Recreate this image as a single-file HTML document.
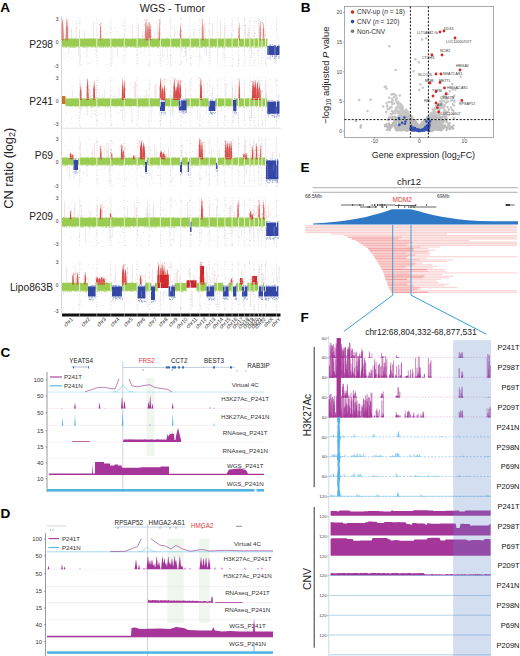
<!DOCTYPE html><html><head><meta charset="utf-8"><style>html,body{margin:0;padding:0;background:#fff;width:520px;height:656px;overflow:hidden}svg{display:block}text{font-family:"Liberation Sans",sans-serif}</style></head><body><svg width="520" height="656" viewBox="0 0 520 656" font-family="Liberation Sans, sans-serif"><text x="0.3" y="11.7" font-size="13.6" fill="#000" text-anchor="start" font-weight="bold" >A</text><text x="300.8" y="11.6" font-size="13.6" fill="#000" text-anchor="start" font-weight="bold" >B</text><text x="300.5" y="171.5" font-size="13.6" fill="#000" text-anchor="start" font-weight="bold" >E</text><text x="0.5" y="356.8" font-size="13.6" fill="#000" text-anchor="start" font-weight="bold" >C</text><text x="300.5" y="322" font-size="13.6" fill="#000" text-anchor="start" font-weight="bold" >F</text><text x="0.5" y="517.5" font-size="13.6" fill="#000" text-anchor="start" font-weight="bold" >D</text><text x="172.3" y="12.2" font-size="10.7" fill="#222" text-anchor="middle" font-weight="normal" >WGS - Tumor</text><text x="0" y="0" font-size="12.8" fill="#222" text-anchor="middle" font-weight="normal" transform="translate(12.8,168.3) rotate(-90)">CN ratio (log<tspan font-size="9" dy="2.5">2</tspan><tspan dy="-2.5">)</tspan></text><text x="53" y="47.9" font-size="10.2" fill="#222" text-anchor="end" font-weight="normal" >P298</text><text x="58.5" y="20.8" font-size="5" fill="#333" text-anchor="end" font-weight="normal" >3</text><text x="58.5" y="43.8" font-size="5" fill="#333" text-anchor="end" font-weight="normal" >0</text><text x="58.5" y="67.8" font-size="5" fill="#333" text-anchor="end" font-weight="normal" >-3</text><line x1="79.6" y1="17.5" x2="79.6" y2="67.5" stroke="#cdcdcd" stroke-width="0.6" stroke-dasharray="1,1.5"/><line x1="96.8" y1="17.5" x2="96.8" y2="67.5" stroke="#cdcdcd" stroke-width="0.6" stroke-dasharray="1,1.5"/><line x1="110.8" y1="17.5" x2="110.8" y2="67.5" stroke="#cdcdcd" stroke-width="0.6" stroke-dasharray="1,1.5"/><line x1="124.3" y1="17.5" x2="124.3" y2="67.5" stroke="#cdcdcd" stroke-width="0.6" stroke-dasharray="1,1.5"/><line x1="137.1" y1="17.5" x2="137.1" y2="67.5" stroke="#cdcdcd" stroke-width="0.6" stroke-dasharray="1,1.5"/><line x1="149.2" y1="17.5" x2="149.2" y2="67.5" stroke="#cdcdcd" stroke-width="0.6" stroke-dasharray="1,1.5"/><line x1="160.4" y1="17.5" x2="160.4" y2="67.5" stroke="#cdcdcd" stroke-width="0.6" stroke-dasharray="1,1.5"/><line x1="170.7" y1="17.5" x2="170.7" y2="67.5" stroke="#cdcdcd" stroke-width="0.6" stroke-dasharray="1,1.5"/><line x1="180.7" y1="17.5" x2="180.7" y2="67.5" stroke="#cdcdcd" stroke-width="0.6" stroke-dasharray="1,1.5"/><line x1="190.3" y1="17.5" x2="190.3" y2="67.5" stroke="#cdcdcd" stroke-width="0.6" stroke-dasharray="1,1.5"/><line x1="199.8" y1="17.5" x2="199.8" y2="67.5" stroke="#cdcdcd" stroke-width="0.6" stroke-dasharray="1,1.5"/><line x1="209.2" y1="17.5" x2="209.2" y2="67.5" stroke="#cdcdcd" stroke-width="0.6" stroke-dasharray="1,1.5"/><line x1="217.4" y1="17.5" x2="217.4" y2="67.5" stroke="#cdcdcd" stroke-width="0.6" stroke-dasharray="1,1.5"/><line x1="224.9" y1="17.5" x2="224.9" y2="67.5" stroke="#cdcdcd" stroke-width="0.6" stroke-dasharray="1,1.5"/><line x1="232.1" y1="17.5" x2="232.1" y2="67.5" stroke="#cdcdcd" stroke-width="0.6" stroke-dasharray="1,1.5"/><line x1="238.5" y1="17.5" x2="238.5" y2="67.5" stroke="#cdcdcd" stroke-width="0.6" stroke-dasharray="1,1.5"/><line x1="244.4" y1="17.5" x2="244.4" y2="67.5" stroke="#cdcdcd" stroke-width="0.6" stroke-dasharray="1,1.5"/><line x1="249.9" y1="17.5" x2="249.9" y2="67.5" stroke="#cdcdcd" stroke-width="0.6" stroke-dasharray="1,1.5"/><line x1="254.1" y1="17.5" x2="254.1" y2="67.5" stroke="#cdcdcd" stroke-width="0.6" stroke-dasharray="1,1.5"/><line x1="258.5" y1="17.5" x2="258.5" y2="67.5" stroke="#cdcdcd" stroke-width="0.6" stroke-dasharray="1,1.5"/><line x1="261.9" y1="17.5" x2="261.9" y2="67.5" stroke="#cdcdcd" stroke-width="0.6" stroke-dasharray="1,1.5"/><line x1="265.5" y1="17.5" x2="265.5" y2="67.5" stroke="#cdcdcd" stroke-width="0.6" stroke-dasharray="1,1.5"/><line x1="276.5" y1="17.5" x2="276.5" y2="67.5" stroke="#cdcdcd" stroke-width="0.6" stroke-dasharray="1,1.5"/><text x="53" y="104.8" font-size="10.2" fill="#222" text-anchor="end" font-weight="normal" >P241</text><text x="58.5" y="79.8" font-size="5" fill="#333" text-anchor="end" font-weight="normal" >3</text><text x="58.5" y="103.4" font-size="5" fill="#333" text-anchor="end" font-weight="normal" >0</text><text x="58.5" y="125.8" font-size="5" fill="#333" text-anchor="end" font-weight="normal" >-3</text><line x1="79.6" y1="77.5" x2="79.6" y2="127.5" stroke="#cdcdcd" stroke-width="0.6" stroke-dasharray="1,1.5"/><line x1="96.8" y1="77.5" x2="96.8" y2="127.5" stroke="#cdcdcd" stroke-width="0.6" stroke-dasharray="1,1.5"/><line x1="110.8" y1="77.5" x2="110.8" y2="127.5" stroke="#cdcdcd" stroke-width="0.6" stroke-dasharray="1,1.5"/><line x1="124.3" y1="77.5" x2="124.3" y2="127.5" stroke="#cdcdcd" stroke-width="0.6" stroke-dasharray="1,1.5"/><line x1="137.1" y1="77.5" x2="137.1" y2="127.5" stroke="#cdcdcd" stroke-width="0.6" stroke-dasharray="1,1.5"/><line x1="149.2" y1="77.5" x2="149.2" y2="127.5" stroke="#cdcdcd" stroke-width="0.6" stroke-dasharray="1,1.5"/><line x1="160.4" y1="77.5" x2="160.4" y2="127.5" stroke="#cdcdcd" stroke-width="0.6" stroke-dasharray="1,1.5"/><line x1="170.7" y1="77.5" x2="170.7" y2="127.5" stroke="#cdcdcd" stroke-width="0.6" stroke-dasharray="1,1.5"/><line x1="180.7" y1="77.5" x2="180.7" y2="127.5" stroke="#cdcdcd" stroke-width="0.6" stroke-dasharray="1,1.5"/><line x1="190.3" y1="77.5" x2="190.3" y2="127.5" stroke="#cdcdcd" stroke-width="0.6" stroke-dasharray="1,1.5"/><line x1="199.8" y1="77.5" x2="199.8" y2="127.5" stroke="#cdcdcd" stroke-width="0.6" stroke-dasharray="1,1.5"/><line x1="209.2" y1="77.5" x2="209.2" y2="127.5" stroke="#cdcdcd" stroke-width="0.6" stroke-dasharray="1,1.5"/><line x1="217.4" y1="77.5" x2="217.4" y2="127.5" stroke="#cdcdcd" stroke-width="0.6" stroke-dasharray="1,1.5"/><line x1="224.9" y1="77.5" x2="224.9" y2="127.5" stroke="#cdcdcd" stroke-width="0.6" stroke-dasharray="1,1.5"/><line x1="232.1" y1="77.5" x2="232.1" y2="127.5" stroke="#cdcdcd" stroke-width="0.6" stroke-dasharray="1,1.5"/><line x1="238.5" y1="77.5" x2="238.5" y2="127.5" stroke="#cdcdcd" stroke-width="0.6" stroke-dasharray="1,1.5"/><line x1="244.4" y1="77.5" x2="244.4" y2="127.5" stroke="#cdcdcd" stroke-width="0.6" stroke-dasharray="1,1.5"/><line x1="249.9" y1="77.5" x2="249.9" y2="127.5" stroke="#cdcdcd" stroke-width="0.6" stroke-dasharray="1,1.5"/><line x1="254.1" y1="77.5" x2="254.1" y2="127.5" stroke="#cdcdcd" stroke-width="0.6" stroke-dasharray="1,1.5"/><line x1="258.5" y1="77.5" x2="258.5" y2="127.5" stroke="#cdcdcd" stroke-width="0.6" stroke-dasharray="1,1.5"/><line x1="261.9" y1="77.5" x2="261.9" y2="127.5" stroke="#cdcdcd" stroke-width="0.6" stroke-dasharray="1,1.5"/><line x1="265.5" y1="77.5" x2="265.5" y2="127.5" stroke="#cdcdcd" stroke-width="0.6" stroke-dasharray="1,1.5"/><line x1="276.5" y1="77.5" x2="276.5" y2="127.5" stroke="#cdcdcd" stroke-width="0.6" stroke-dasharray="1,1.5"/><text x="53" y="159.2" font-size="10.2" fill="#222" text-anchor="end" font-weight="normal" >P69</text><text x="58.5" y="140.8" font-size="5" fill="#333" text-anchor="end" font-weight="normal" >3</text><text x="58.5" y="164.2" font-size="5" fill="#333" text-anchor="end" font-weight="normal" >0</text><text x="58.5" y="187.5" font-size="5" fill="#333" text-anchor="end" font-weight="normal" >-3</text><line x1="79.6" y1="137.5" x2="79.6" y2="187.5" stroke="#cdcdcd" stroke-width="0.6" stroke-dasharray="1,1.5"/><line x1="96.8" y1="137.5" x2="96.8" y2="187.5" stroke="#cdcdcd" stroke-width="0.6" stroke-dasharray="1,1.5"/><line x1="110.8" y1="137.5" x2="110.8" y2="187.5" stroke="#cdcdcd" stroke-width="0.6" stroke-dasharray="1,1.5"/><line x1="124.3" y1="137.5" x2="124.3" y2="187.5" stroke="#cdcdcd" stroke-width="0.6" stroke-dasharray="1,1.5"/><line x1="137.1" y1="137.5" x2="137.1" y2="187.5" stroke="#cdcdcd" stroke-width="0.6" stroke-dasharray="1,1.5"/><line x1="149.2" y1="137.5" x2="149.2" y2="187.5" stroke="#cdcdcd" stroke-width="0.6" stroke-dasharray="1,1.5"/><line x1="160.4" y1="137.5" x2="160.4" y2="187.5" stroke="#cdcdcd" stroke-width="0.6" stroke-dasharray="1,1.5"/><line x1="170.7" y1="137.5" x2="170.7" y2="187.5" stroke="#cdcdcd" stroke-width="0.6" stroke-dasharray="1,1.5"/><line x1="180.7" y1="137.5" x2="180.7" y2="187.5" stroke="#cdcdcd" stroke-width="0.6" stroke-dasharray="1,1.5"/><line x1="190.3" y1="137.5" x2="190.3" y2="187.5" stroke="#cdcdcd" stroke-width="0.6" stroke-dasharray="1,1.5"/><line x1="199.8" y1="137.5" x2="199.8" y2="187.5" stroke="#cdcdcd" stroke-width="0.6" stroke-dasharray="1,1.5"/><line x1="209.2" y1="137.5" x2="209.2" y2="187.5" stroke="#cdcdcd" stroke-width="0.6" stroke-dasharray="1,1.5"/><line x1="217.4" y1="137.5" x2="217.4" y2="187.5" stroke="#cdcdcd" stroke-width="0.6" stroke-dasharray="1,1.5"/><line x1="224.9" y1="137.5" x2="224.9" y2="187.5" stroke="#cdcdcd" stroke-width="0.6" stroke-dasharray="1,1.5"/><line x1="232.1" y1="137.5" x2="232.1" y2="187.5" stroke="#cdcdcd" stroke-width="0.6" stroke-dasharray="1,1.5"/><line x1="238.5" y1="137.5" x2="238.5" y2="187.5" stroke="#cdcdcd" stroke-width="0.6" stroke-dasharray="1,1.5"/><line x1="244.4" y1="137.5" x2="244.4" y2="187.5" stroke="#cdcdcd" stroke-width="0.6" stroke-dasharray="1,1.5"/><line x1="249.9" y1="137.5" x2="249.9" y2="187.5" stroke="#cdcdcd" stroke-width="0.6" stroke-dasharray="1,1.5"/><line x1="254.1" y1="137.5" x2="254.1" y2="187.5" stroke="#cdcdcd" stroke-width="0.6" stroke-dasharray="1,1.5"/><line x1="258.5" y1="137.5" x2="258.5" y2="187.5" stroke="#cdcdcd" stroke-width="0.6" stroke-dasharray="1,1.5"/><line x1="261.9" y1="137.5" x2="261.9" y2="187.5" stroke="#cdcdcd" stroke-width="0.6" stroke-dasharray="1,1.5"/><line x1="265.5" y1="137.5" x2="265.5" y2="187.5" stroke="#cdcdcd" stroke-width="0.6" stroke-dasharray="1,1.5"/><line x1="276.5" y1="137.5" x2="276.5" y2="187.5" stroke="#cdcdcd" stroke-width="0.6" stroke-dasharray="1,1.5"/><text x="53" y="219.7" font-size="10.2" fill="#222" text-anchor="end" font-weight="normal" >P209</text><text x="58.5" y="199.7" font-size="5" fill="#333" text-anchor="end" font-weight="normal" >3</text><text x="58.5" y="223" font-size="5" fill="#333" text-anchor="end" font-weight="normal" >0</text><text x="58.5" y="245.8" font-size="5" fill="#333" text-anchor="end" font-weight="normal" >-3</text><line x1="79.6" y1="197.5" x2="79.6" y2="247.5" stroke="#cdcdcd" stroke-width="0.6" stroke-dasharray="1,1.5"/><line x1="96.8" y1="197.5" x2="96.8" y2="247.5" stroke="#cdcdcd" stroke-width="0.6" stroke-dasharray="1,1.5"/><line x1="110.8" y1="197.5" x2="110.8" y2="247.5" stroke="#cdcdcd" stroke-width="0.6" stroke-dasharray="1,1.5"/><line x1="124.3" y1="197.5" x2="124.3" y2="247.5" stroke="#cdcdcd" stroke-width="0.6" stroke-dasharray="1,1.5"/><line x1="137.1" y1="197.5" x2="137.1" y2="247.5" stroke="#cdcdcd" stroke-width="0.6" stroke-dasharray="1,1.5"/><line x1="149.2" y1="197.5" x2="149.2" y2="247.5" stroke="#cdcdcd" stroke-width="0.6" stroke-dasharray="1,1.5"/><line x1="160.4" y1="197.5" x2="160.4" y2="247.5" stroke="#cdcdcd" stroke-width="0.6" stroke-dasharray="1,1.5"/><line x1="170.7" y1="197.5" x2="170.7" y2="247.5" stroke="#cdcdcd" stroke-width="0.6" stroke-dasharray="1,1.5"/><line x1="180.7" y1="197.5" x2="180.7" y2="247.5" stroke="#cdcdcd" stroke-width="0.6" stroke-dasharray="1,1.5"/><line x1="190.3" y1="197.5" x2="190.3" y2="247.5" stroke="#cdcdcd" stroke-width="0.6" stroke-dasharray="1,1.5"/><line x1="199.8" y1="197.5" x2="199.8" y2="247.5" stroke="#cdcdcd" stroke-width="0.6" stroke-dasharray="1,1.5"/><line x1="209.2" y1="197.5" x2="209.2" y2="247.5" stroke="#cdcdcd" stroke-width="0.6" stroke-dasharray="1,1.5"/><line x1="217.4" y1="197.5" x2="217.4" y2="247.5" stroke="#cdcdcd" stroke-width="0.6" stroke-dasharray="1,1.5"/><line x1="224.9" y1="197.5" x2="224.9" y2="247.5" stroke="#cdcdcd" stroke-width="0.6" stroke-dasharray="1,1.5"/><line x1="232.1" y1="197.5" x2="232.1" y2="247.5" stroke="#cdcdcd" stroke-width="0.6" stroke-dasharray="1,1.5"/><line x1="238.5" y1="197.5" x2="238.5" y2="247.5" stroke="#cdcdcd" stroke-width="0.6" stroke-dasharray="1,1.5"/><line x1="244.4" y1="197.5" x2="244.4" y2="247.5" stroke="#cdcdcd" stroke-width="0.6" stroke-dasharray="1,1.5"/><line x1="249.9" y1="197.5" x2="249.9" y2="247.5" stroke="#cdcdcd" stroke-width="0.6" stroke-dasharray="1,1.5"/><line x1="254.1" y1="197.5" x2="254.1" y2="247.5" stroke="#cdcdcd" stroke-width="0.6" stroke-dasharray="1,1.5"/><line x1="258.5" y1="197.5" x2="258.5" y2="247.5" stroke="#cdcdcd" stroke-width="0.6" stroke-dasharray="1,1.5"/><line x1="261.9" y1="197.5" x2="261.9" y2="247.5" stroke="#cdcdcd" stroke-width="0.6" stroke-dasharray="1,1.5"/><line x1="265.5" y1="197.5" x2="265.5" y2="247.5" stroke="#cdcdcd" stroke-width="0.6" stroke-dasharray="1,1.5"/><line x1="276.5" y1="197.5" x2="276.5" y2="247.5" stroke="#cdcdcd" stroke-width="0.6" stroke-dasharray="1,1.5"/><text x="53" y="291" font-size="10.2" fill="#222" text-anchor="end" font-weight="normal" >Lipo863B</text><text x="58.5" y="263.8" font-size="5" fill="#333" text-anchor="end" font-weight="normal" >3</text><text x="58.5" y="287.3" font-size="5" fill="#333" text-anchor="end" font-weight="normal" >0</text><text x="58.5" y="312.6" font-size="5" fill="#333" text-anchor="end" font-weight="normal" >-3</text><line x1="79.6" y1="261.5" x2="79.6" y2="311.5" stroke="#cdcdcd" stroke-width="0.6" stroke-dasharray="1,1.5"/><line x1="96.8" y1="261.5" x2="96.8" y2="311.5" stroke="#cdcdcd" stroke-width="0.6" stroke-dasharray="1,1.5"/><line x1="110.8" y1="261.5" x2="110.8" y2="311.5" stroke="#cdcdcd" stroke-width="0.6" stroke-dasharray="1,1.5"/><line x1="124.3" y1="261.5" x2="124.3" y2="311.5" stroke="#cdcdcd" stroke-width="0.6" stroke-dasharray="1,1.5"/><line x1="137.1" y1="261.5" x2="137.1" y2="311.5" stroke="#cdcdcd" stroke-width="0.6" stroke-dasharray="1,1.5"/><line x1="149.2" y1="261.5" x2="149.2" y2="311.5" stroke="#cdcdcd" stroke-width="0.6" stroke-dasharray="1,1.5"/><line x1="160.4" y1="261.5" x2="160.4" y2="311.5" stroke="#cdcdcd" stroke-width="0.6" stroke-dasharray="1,1.5"/><line x1="170.7" y1="261.5" x2="170.7" y2="311.5" stroke="#cdcdcd" stroke-width="0.6" stroke-dasharray="1,1.5"/><line x1="180.7" y1="261.5" x2="180.7" y2="311.5" stroke="#cdcdcd" stroke-width="0.6" stroke-dasharray="1,1.5"/><line x1="190.3" y1="261.5" x2="190.3" y2="311.5" stroke="#cdcdcd" stroke-width="0.6" stroke-dasharray="1,1.5"/><line x1="199.8" y1="261.5" x2="199.8" y2="311.5" stroke="#cdcdcd" stroke-width="0.6" stroke-dasharray="1,1.5"/><line x1="209.2" y1="261.5" x2="209.2" y2="311.5" stroke="#cdcdcd" stroke-width="0.6" stroke-dasharray="1,1.5"/><line x1="217.4" y1="261.5" x2="217.4" y2="311.5" stroke="#cdcdcd" stroke-width="0.6" stroke-dasharray="1,1.5"/><line x1="224.9" y1="261.5" x2="224.9" y2="311.5" stroke="#cdcdcd" stroke-width="0.6" stroke-dasharray="1,1.5"/><line x1="232.1" y1="261.5" x2="232.1" y2="311.5" stroke="#cdcdcd" stroke-width="0.6" stroke-dasharray="1,1.5"/><line x1="238.5" y1="261.5" x2="238.5" y2="311.5" stroke="#cdcdcd" stroke-width="0.6" stroke-dasharray="1,1.5"/><line x1="244.4" y1="261.5" x2="244.4" y2="311.5" stroke="#cdcdcd" stroke-width="0.6" stroke-dasharray="1,1.5"/><line x1="249.9" y1="261.5" x2="249.9" y2="311.5" stroke="#cdcdcd" stroke-width="0.6" stroke-dasharray="1,1.5"/><line x1="254.1" y1="261.5" x2="254.1" y2="311.5" stroke="#cdcdcd" stroke-width="0.6" stroke-dasharray="1,1.5"/><line x1="258.5" y1="261.5" x2="258.5" y2="311.5" stroke="#cdcdcd" stroke-width="0.6" stroke-dasharray="1,1.5"/><line x1="261.9" y1="261.5" x2="261.9" y2="311.5" stroke="#cdcdcd" stroke-width="0.6" stroke-dasharray="1,1.5"/><line x1="265.5" y1="261.5" x2="265.5" y2="311.5" stroke="#cdcdcd" stroke-width="0.6" stroke-dasharray="1,1.5"/><line x1="276.5" y1="261.5" x2="276.5" y2="311.5" stroke="#cdcdcd" stroke-width="0.6" stroke-dasharray="1,1.5"/><path fill="#e07a7a" fill-opacity="0.55" d="M132.8 25.7h0.7v0.7h-0.7zM148.7 65.4h0.7v0.7h-0.7zM184.4 51.2h0.7v0.7h-0.7zM98.7 24.1h0.7v0.7h-0.7zM95.1 50.1h0.7v0.7h-0.7zM269.6 49.9h0.7v0.7h-0.7zM147.7 37.7h0.7v0.7h-0.7zM277.3 47.8h0.7v0.7h-0.7zM166.8 49.8h0.7v0.7h-0.7zM163.2 54.2h0.7v0.7h-0.7zM66.7 56.9h0.7v0.7h-0.7zM183.4 56.1h0.7v0.7h-0.7zM160.8 19.8h0.7v0.7h-0.7zM245.5 25.1h0.7v0.7h-0.7zM175.1 32.7h0.7v0.7h-0.7zM154.9 22h0.7v0.7h-0.7zM200.6 57h0.7v0.7h-0.7zM71.4 52.6h0.7v0.7h-0.7zM237.6 66.2h0.7v0.7h-0.7zM150.4 35.2h0.7v0.7h-0.7zM192.8 51.7h0.7v0.7h-0.7zM231.6 22.9h0.7v0.7h-0.7zM172.2 58.6h0.7v0.7h-0.7zM260.9 32.3h0.7v0.7h-0.7zM196.8 49.4h0.7v0.7h-0.7zM75.3 31.4h0.7v0.7h-0.7zM88.2 63h0.7v0.7h-0.7zM248.7 32h0.7v0.7h-0.7zM238.8 28.2h0.7v0.7h-0.7zM144.3 34.7h0.7v0.7h-0.7zM270.4 59.2h0.7v0.7h-0.7zM80.6 55.8h0.7v0.7h-0.7zM232.9 29.7h0.7v0.7h-0.7zM157.6 55.2h0.7v0.7h-0.7z"/><path fill="#e5a0a0" fill-opacity="0.55" d="M141.9 21.3h0.7v0.7h-0.7zM269 48.8h0.7v0.7h-0.7zM83.3 52.7h0.7v0.7h-0.7zM75 28.4h0.7v0.7h-0.7zM155.4 33.6h0.7v0.7h-0.7zM195.1 22h0.7v0.7h-0.7zM272.2 22.2h0.7v0.7h-0.7zM270.3 51.6h0.7v0.7h-0.7zM161.8 60.3h0.7v0.7h-0.7zM179.3 64h0.7v0.7h-0.7zM67.6 60.5h0.7v0.7h-0.7zM165.2 27.8h0.7v0.7h-0.7zM105 28.3h0.7v0.7h-0.7zM163.7 50h0.7v0.7h-0.7zM68.1 28.7h0.7v0.7h-0.7zM258.1 50.3h0.7v0.7h-0.7zM153.9 62.6h0.7v0.7h-0.7zM90.6 25.8h0.7v0.7h-0.7zM122.5 55.6h0.7v0.7h-0.7zM158.8 47.9h0.7v0.7h-0.7zM166.5 63.7h0.7v0.7h-0.7zM65.4 53.7h0.7v0.7h-0.7zM181.3 61.2h0.7v0.7h-0.7zM171.9 28.1h0.7v0.7h-0.7zM205.7 52.9h0.7v0.7h-0.7zM71.6 58.6h0.7v0.7h-0.7zM199.1 53.7h0.7v0.7h-0.7zM184 48.6h0.7v0.7h-0.7zM62.7 56.8h0.7v0.7h-0.7zM258.2 22.9h0.7v0.7h-0.7zM163.9 24.2h0.7v0.7h-0.7zM78.3 22.8h0.7v0.7h-0.7zM119.2 35.8h0.7v0.7h-0.7zM76.2 37.2h0.7v0.7h-0.7zM116.5 31.3h0.7v0.7h-0.7zM261.6 63.7h0.7v0.7h-0.7zM168.1 62.3h0.7v0.7h-0.7zM202.5 22.1h0.7v0.7h-0.7zM115.3 26.9h0.7v0.7h-0.7zM140.7 51.5h0.7v0.7h-0.7zM228.9 57.1h0.7v0.7h-0.7zM169 22h0.7v0.7h-0.7zM234.7 18.6h0.7v0.7h-0.7z"/><path fill="#cfcfcf" fill-opacity="0.55" d="M108.9 22.6h0.7v0.7h-0.7zM77.3 22.9h0.7v0.7h-0.7zM183.6 24.9h0.7v0.7h-0.7zM79.9 32.9h0.7v0.7h-0.7zM136.3 35.3h0.7v0.7h-0.7zM245.5 63.8h0.7v0.7h-0.7zM203.4 66.2h0.7v0.7h-0.7zM148.9 62.5h0.7v0.7h-0.7zM182.1 60.9h0.7v0.7h-0.7zM250.8 31.9h0.7v0.7h-0.7zM277.5 51.3h0.7v0.7h-0.7zM119.4 18.7h0.7v0.7h-0.7zM79.6 23.4h0.7v0.7h-0.7zM244.4 24.3h0.7v0.7h-0.7zM232.9 54.5h0.7v0.7h-0.7zM200.9 22.7h0.7v0.7h-0.7zM177.1 63.3h0.7v0.7h-0.7zM93.2 60.9h0.7v0.7h-0.7zM110 64.2h0.7v0.7h-0.7zM121.1 24.7h0.7v0.7h-0.7zM178 28.4h0.7v0.7h-0.7zM205.8 49.7h0.7v0.7h-0.7zM156.1 21.2h0.7v0.7h-0.7zM162.4 26.1h0.7v0.7h-0.7zM147.1 34.2h0.7v0.7h-0.7zM271.7 36.6h0.7v0.7h-0.7zM221.4 28.4h0.7v0.7h-0.7zM169.9 36.9h0.7v0.7h-0.7zM197.7 24.9h0.7v0.7h-0.7zM216.9 32.2h0.7v0.7h-0.7zM105.5 65.5h0.7v0.7h-0.7zM241.1 65h0.7v0.7h-0.7zM170.8 60.6h0.7v0.7h-0.7zM67.4 18.7h0.7v0.7h-0.7zM62.4 54.5h0.7v0.7h-0.7zM131 55.6h0.7v0.7h-0.7zM255.2 57.5h0.7v0.7h-0.7zM106.5 22.4h0.7v0.7h-0.7zM150.8 30h0.7v0.7h-0.7zM110.1 62h0.7v0.7h-0.7zM82.2 61.5h0.7v0.7h-0.7zM176.1 51.2h0.7v0.7h-0.7z"/><path fill="#9aa8d8" fill-opacity="0.55" d="M93.5 24.2h0.7v0.7h-0.7zM189.1 49.2h0.7v0.7h-0.7zM253.2 53.5h0.7v0.7h-0.7zM187.2 60.5h0.7v0.7h-0.7zM214.3 21.6h0.7v0.7h-0.7zM124.2 37h0.7v0.7h-0.7zM178.8 47.8h0.7v0.7h-0.7zM144.2 49h0.7v0.7h-0.7zM130.1 25.4h0.7v0.7h-0.7zM106.8 64.2h0.7v0.7h-0.7zM275.8 59.9h0.7v0.7h-0.7zM175.3 62.1h0.7v0.7h-0.7zM221.7 66h0.7v0.7h-0.7zM266.7 65.9h0.7v0.7h-0.7zM242.6 65.6h0.7v0.7h-0.7zM90.6 62.2h0.7v0.7h-0.7zM194.4 28.1h0.7v0.7h-0.7zM253.5 63.7h0.7v0.7h-0.7zM155.6 28.7h0.7v0.7h-0.7zM267.3 49.4h0.7v0.7h-0.7zM139.9 22.9h0.7v0.7h-0.7zM158.2 19.4h0.7v0.7h-0.7zM274.3 23.5h0.7v0.7h-0.7zM247.6 50.9h0.7v0.7h-0.7zM194.9 29.2h0.7v0.7h-0.7zM106.1 33.5h0.7v0.7h-0.7zM171.3 27h0.7v0.7h-0.7zM244.9 19.2h0.7v0.7h-0.7zM252.2 50.7h0.7v0.7h-0.7zM62.8 36h0.7v0.7h-0.7zM115.4 64.9h0.7v0.7h-0.7zM109.6 27.3h0.7v0.7h-0.7zM80.6 20.5h0.7v0.7h-0.7zM76.4 53.9h0.7v0.7h-0.7zM193 34.4h0.7v0.7h-0.7zM213.2 50.9h0.7v0.7h-0.7zM144.2 24.3h0.7v0.7h-0.7zM259 32.4h0.7v0.7h-0.7zM78.7 62.9h0.7v0.7h-0.7zM160.5 54.6h0.7v0.7h-0.7zM137.1 32.8h0.7v0.7h-0.7zM81.9 30h0.7v0.7h-0.7z"/><path fill="#bbbbbb" fill-opacity="0.55" d="M263.8 35.9h0.7v0.7h-0.7zM235.6 52.1h0.7v0.7h-0.7zM153.4 54.8h0.7v0.7h-0.7zM109.7 32.3h0.7v0.7h-0.7zM271.3 25.7h0.7v0.7h-0.7zM167.2 37.7h0.7v0.7h-0.7zM76.7 28.5h0.7v0.7h-0.7zM232.2 34.3h0.7v0.7h-0.7zM196 56.3h0.7v0.7h-0.7zM238.1 57.8h0.7v0.7h-0.7zM220.4 26.7h0.7v0.7h-0.7zM277.6 27.9h0.7v0.7h-0.7zM102 18.7h0.7v0.7h-0.7zM255 21.2h0.7v0.7h-0.7zM263.6 61.4h0.7v0.7h-0.7zM147.7 33.7h0.7v0.7h-0.7zM233.3 61.6h0.7v0.7h-0.7zM255.4 26.3h0.7v0.7h-0.7zM174.7 34.8h0.7v0.7h-0.7zM86.7 62.6h0.7v0.7h-0.7zM121.4 62h0.7v0.7h-0.7zM133.5 31.9h0.7v0.7h-0.7zM264.5 31.4h0.7v0.7h-0.7zM273.8 31.1h0.7v0.7h-0.7zM129.3 28.8h0.7v0.7h-0.7zM136.9 58.4h0.7v0.7h-0.7zM148.1 32.9h0.7v0.7h-0.7zM80.5 64.5h0.7v0.7h-0.7zM94.7 53.3h0.7v0.7h-0.7zM257.1 51.3h0.7v0.7h-0.7zM238.8 59.1h0.7v0.7h-0.7zM279.2 37.1h0.7v0.7h-0.7zM255.8 52.3h0.7v0.7h-0.7zM244.4 32.2h0.7v0.7h-0.7zM183.8 37.4h0.7v0.7h-0.7zM199.6 59.9h0.7v0.7h-0.7zM248.9 65.2h0.7v0.7h-0.7zM233.1 29.2h0.7v0.7h-0.7zM203 33.1h0.7v0.7h-0.7zM189.4 37.1h0.7v0.7h-0.7z"/><path fill="#999" fill-opacity="0.5" d="M79.8 64.5h0.7v0.7h-0.7zM79.6 60.9h0.7v0.7h-0.7zM79.2 29.8h0.7v0.7h-0.7zM79.9 64.6h0.7v0.7h-0.7zM78.8 33.3h0.7v0.7h-0.7zM79.9 42.4h0.7v0.7h-0.7zM96.4 38.7h0.7v0.7h-0.7zM97.5 50.5h0.7v0.7h-0.7zM96 29.4h0.7v0.7h-0.7zM96.7 34.7h0.7v0.7h-0.7zM96.3 51.3h0.7v0.7h-0.7zM97.2 56.8h0.7v0.7h-0.7zM110.3 42.7h0.7v0.7h-0.7zM110.5 65.1h0.7v0.7h-0.7zM110.3 57.9h0.7v0.7h-0.7zM111.2 29.1h0.7v0.7h-0.7zM111.5 32.7h0.7v0.7h-0.7zM110.3 42.3h0.7v0.7h-0.7zM124.1 29.2h0.7v0.7h-0.7zM125 50.4h0.7v0.7h-0.7zM124.1 25.5h0.7v0.7h-0.7zM125 28.7h0.7v0.7h-0.7zM123.6 25.3h0.7v0.7h-0.7zM124.1 21.4h0.7v0.7h-0.7zM137.7 61.6h0.7v0.7h-0.7zM137.9 53.7h0.7v0.7h-0.7zM136.8 63.2h0.7v0.7h-0.7zM137.8 27.4h0.7v0.7h-0.7zM136.3 54.3h0.7v0.7h-0.7zM136.9 50.4h0.7v0.7h-0.7zM148.9 36.4h0.7v0.7h-0.7zM148.4 26.6h0.7v0.7h-0.7zM148.9 31.9h0.7v0.7h-0.7zM148.6 64.4h0.7v0.7h-0.7zM148.7 64.8h0.7v0.7h-0.7zM149.7 35.6h0.7v0.7h-0.7zM160.3 58h0.7v0.7h-0.7zM160.4 20.9h0.7v0.7h-0.7zM161.1 36.4h0.7v0.7h-0.7zM160.2 27.8h0.7v0.7h-0.7zM159.6 61.6h0.7v0.7h-0.7zM160.9 38.2h0.7v0.7h-0.7zM170 55.3h0.7v0.7h-0.7zM170 20.2h0.7v0.7h-0.7zM170.3 62.7h0.7v0.7h-0.7zM171.4 54.4h0.7v0.7h-0.7zM170.4 34.8h0.7v0.7h-0.7zM170.9 64.5h0.7v0.7h-0.7zM181 31.1h0.7v0.7h-0.7zM180.3 33.7h0.7v0.7h-0.7zM181.1 18.7h0.7v0.7h-0.7zM180.9 62.5h0.7v0.7h-0.7zM179.9 63.8h0.7v0.7h-0.7zM180.6 29.7h0.7v0.7h-0.7zM191 64.4h0.7v0.7h-0.7zM189.9 37.1h0.7v0.7h-0.7zM190.3 39.1h0.7v0.7h-0.7zM189.8 63h0.7v0.7h-0.7zM190.7 57h0.7v0.7h-0.7zM190.7 58h0.7v0.7h-0.7zM199.6 47.6h0.7v0.7h-0.7zM199.6 33.8h0.7v0.7h-0.7zM199.2 56h0.7v0.7h-0.7zM200.2 28h0.7v0.7h-0.7zM199.1 30.4h0.7v0.7h-0.7zM199.9 20.1h0.7v0.7h-0.7zM210 34.1h0.7v0.7h-0.7zM210 60.9h0.7v0.7h-0.7zM208.6 31.2h0.7v0.7h-0.7zM209.2 23.1h0.7v0.7h-0.7zM209.2 52.6h0.7v0.7h-0.7zM209.1 29.7h0.7v0.7h-0.7zM217.7 48.3h0.7v0.7h-0.7zM217.9 54.4h0.7v0.7h-0.7zM216.8 50.4h0.7v0.7h-0.7zM217 58.9h0.7v0.7h-0.7zM217.2 45.7h0.7v0.7h-0.7zM216.9 53.9h0.7v0.7h-0.7zM224.5 30.4h0.7v0.7h-0.7zM225.6 25.9h0.7v0.7h-0.7zM224.7 46.3h0.7v0.7h-0.7zM225.7 37.5h0.7v0.7h-0.7zM224.5 42.9h0.7v0.7h-0.7zM225.2 57.3h0.7v0.7h-0.7zM231.5 66.1h0.7v0.7h-0.7zM232.7 41.3h0.7v0.7h-0.7zM232.8 58.8h0.7v0.7h-0.7zM231.8 20.4h0.7v0.7h-0.7zM231.7 24.2h0.7v0.7h-0.7zM232.3 65.2h0.7v0.7h-0.7zM238.3 63.1h0.7v0.7h-0.7zM238.4 60.1h0.7v0.7h-0.7zM239 31h0.7v0.7h-0.7zM237.9 63.9h0.7v0.7h-0.7zM238.7 47.1h0.7v0.7h-0.7zM238.3 28.9h0.7v0.7h-0.7zM243.9 25.3h0.7v0.7h-0.7zM244.5 30.7h0.7v0.7h-0.7zM243.9 49.8h0.7v0.7h-0.7zM244.1 19h0.7v0.7h-0.7zM243.9 51.1h0.7v0.7h-0.7zM243.9 33.5h0.7v0.7h-0.7zM250 56.7h0.7v0.7h-0.7zM249.3 21.5h0.7v0.7h-0.7zM250 37.5h0.7v0.7h-0.7zM249.2 49.2h0.7v0.7h-0.7zM250.2 26.4h0.7v0.7h-0.7zM249.5 38.2h0.7v0.7h-0.7zM254.8 33.3h0.7v0.7h-0.7zM254.2 33.5h0.7v0.7h-0.7zM253.9 35.6h0.7v0.7h-0.7zM254.9 60h0.7v0.7h-0.7zM253.6 36h0.7v0.7h-0.7zM253.6 53.4h0.7v0.7h-0.7zM259.2 18.8h0.7v0.7h-0.7zM259 38.8h0.7v0.7h-0.7zM259.1 38h0.7v0.7h-0.7zM258 40.6h0.7v0.7h-0.7zM258.6 19.2h0.7v0.7h-0.7zM259.2 49.3h0.7v0.7h-0.7zM262.1 22.8h0.7v0.7h-0.7zM261.9 36.3h0.7v0.7h-0.7zM261.6 25.5h0.7v0.7h-0.7zM262.6 43.5h0.7v0.7h-0.7zM261.9 23.7h0.7v0.7h-0.7zM262.7 57.1h0.7v0.7h-0.7zM264.9 28h0.7v0.7h-0.7zM266.3 63.8h0.7v0.7h-0.7zM264.8 41.7h0.7v0.7h-0.7zM265.3 63h0.7v0.7h-0.7zM265.7 61.9h0.7v0.7h-0.7zM265 58.1h0.7v0.7h-0.7zM276 56.2h0.7v0.7h-0.7zM277 37.9h0.7v0.7h-0.7zM276 58.3h0.7v0.7h-0.7zM276.3 29h0.7v0.7h-0.7zM276.3 43.4h0.7v0.7h-0.7zM276.1 24.4h0.7v0.7h-0.7z"/><rect x="62" y="38.8" width="205.3" height="7.8" fill="#9acc52" /><rect x="267.3" y="46" width="12.2" height="9" fill="#3446a6" /><path fill="#d42a2a" fill-opacity="0.6" d="M61.3 40.3 L61.5 27.4 L62.2 22.2 L62.5 18 L62.8 19.7 L63.1 23.2 L63.5 28.4 L63.9 40.3Z"/><path fill="#d42a2a" fill-opacity="0.6" d="M65.5 40.3 L65.9 27.4 L66.4 22.2 L66.7 18 L67.1 18.8 L67.4 23.2 L68.1 28.4 L68.2 40.3Z"/><path fill="#d42a2a" fill-opacity="0.6" d="M99.8 40.3 L100 29 L100.4 24.6 L100.5 21 L100.7 22.5 L100.9 25.4 L101.1 29.9 L101.4 40.3Z"/><path fill="#d42a2a" fill-opacity="0.6" d="M144.8 40.3 L145.1 27.9 L145.6 23 L145.9 19 L146.2 19.6 L146.5 23.9 L146.7 28.9 L147.2 40.3Z"/><path fill="#d42a2a" fill-opacity="0.6" d="M146.8 40.3 L147 29.4 L147.6 25.2 L147.9 21.8 L148.2 22 L148.5 26 L149 30.3 L149.2 40.3Z"/><path fill="#d42a2a" fill-opacity="0.6" d="M148.8 40.3 L149.1 29.3 L149.6 25 L149.9 21.5 L150.2 23.3 L150.5 25.8 L151 30.2 L151.2 40.3Z"/><path fill="#d42a2a" fill-opacity="0.6" d="M158.5 40.3 L158.9 27.4 L159.1 22.2 L159.2 18 L159.4 19.2 L159.6 23.2 L159.7 28.4 L160.1 40.3Z"/><path fill="#d42a2a" fill-opacity="0.6" d="M179.8 40.3 L179.9 30.1 L180.4 26.2 L180.5 23 L180.7 24.9 L180.9 26.9 L181.1 30.9 L181.4 40.3Z"/><path fill="#d42a2a" fill-opacity="0.6" d="M201.8 40.3 L202.2 27.4 L202.4 22.2 L202.7 18 L202.9 18.1 L203.1 23.2 L203.5 28.4 L203.7 40.3Z"/><path fill="#d42a2a" fill-opacity="0.6" d="M238.4 40.3 L238.7 29.6 L239 25.4 L239.1 22 L239.3 22.5 L239.5 26.2 L239.6 30.4 L240 40.3Z"/><path fill="#d42a2a" fill-opacity="0.6" d="M259.4 40.3 L259.5 28.5 L260 23.8 L260.1 20 L260.3 21.3 L260.5 24.7 L260.8 29.4 L261 40.3Z"/><path fill="#d42a2a" fill-opacity="0.6" d="M262.8 40.3 L262.9 29.6 L263.4 25.4 L263.5 22 L263.7 22.6 L263.9 26.2 L264.1 30.4 L264.4 40.3Z"/><path fill="#a9d46c" fill-opacity="0.7" d="M210.8 38h0.8v1h-0.8zM210.8 46.4h0.8v1.5h-0.8zM217.5 38.6h0.8v1h-0.8zM217.5 46.1h0.8v0.9h-0.8zM185.1 38.2h0.8v1h-0.8zM185.1 46.1h0.8v1.2h-0.8zM148.2 38.2h0.8v1h-0.8zM148.2 46.2h0.8v1.6h-0.8zM153.7 38.3h0.8v1h-0.8zM153.7 46.4h0.8v1.5h-0.8zM162.5 38.4h0.8v1h-0.8zM162.5 46.1h0.8v1.7h-0.8zM156.1 38.5h0.8v1h-0.8zM156.1 46.2h0.8v0.9h-0.8zM88.4 38.3h0.8v1h-0.8zM88.4 46.4h0.8v1.3h-0.8zM166.7 38.6h0.8v1h-0.8zM166.7 46.1h0.8v0.9h-0.8zM212.6 38.1h0.8v1h-0.8zM212.6 46.2h0.8v0.9h-0.8zM165.5 38.3h0.8v1h-0.8zM165.5 46h0.8v1h-0.8zM238 37.9h0.8v1h-0.8zM238 46.1h0.8v1.8h-0.8zM101.8 37.9h0.8v1h-0.8zM101.8 46.2h0.8v1.9h-0.8zM250.1 38.5h0.8v1h-0.8zM250.1 46.1h0.8v1.9h-0.8zM75.5 38.4h0.8v1h-0.8zM75.5 46.1h0.8v1h-0.8zM246.1 38.4h0.8v1h-0.8zM246.1 46.1h0.8v1h-0.8zM165.1 38h0.8v1h-0.8zM165.1 46.3h0.8v1.1h-0.8zM165.9 38.4h0.8v1h-0.8zM165.9 46.4h0.8v1h-0.8zM95.1 37.9h0.8v1h-0.8zM95.1 46.1h0.8v1.9h-0.8zM96.6 38.1h0.8v1h-0.8zM96.6 46.4h0.8v1.4h-0.8zM192.6 38.3h0.8v1h-0.8zM192.6 46.1h0.8v1.5h-0.8zM181.1 38h0.8v1h-0.8zM181.1 46.4h0.8v2h-0.8zM191.3 38.3h0.8v1h-0.8zM191.3 46.1h0.8v1.1h-0.8zM265.3 38.2h0.8v1h-0.8zM265.3 46.3h0.8v1.7h-0.8zM152.8 38.5h0.8v1h-0.8zM152.8 46.1h0.8v0.9h-0.8zM230.3 38.4h0.8v1h-0.8zM230.3 46.1h0.8v2h-0.8zM182.3 38.1h0.8v1h-0.8zM182.3 46.3h0.8v0.8h-0.8zM68.9 38.5h0.8v1h-0.8zM68.9 46.2h0.8v1.3h-0.8zM167.3 38h0.8v1h-0.8zM167.3 46.3h0.8v1.1h-0.8zM196.1 38.6h0.8v1h-0.8zM196.1 46.4h0.8v1.2h-0.8zM83.8 38.3h0.8v1h-0.8zM83.8 46.3h0.8v1.5h-0.8zM182.9 38.5h0.8v1h-0.8zM182.9 46.2h0.8v1.4h-0.8zM89.7 37.9h0.8v1h-0.8zM89.7 46.3h0.8v1h-0.8zM81.7 38.2h0.8v1h-0.8zM81.7 46.1h0.8v1.7h-0.8zM144.5 38.4h0.8v1h-0.8zM144.5 46.4h0.8v1.6h-0.8zM177.4 38.4h0.8v1h-0.8zM177.4 46.1h0.8v1.3h-0.8zM254.4 38.1h0.8v1h-0.8zM254.4 46.3h0.8v1.9h-0.8zM71 38.2h0.8v1h-0.8zM71 46.2h0.8v1.1h-0.8zM74 38.1h0.8v1h-0.8zM74 46.4h0.8v1.5h-0.8zM255.2 38.5h0.8v1h-0.8zM255.2 46.3h0.8v1.5h-0.8zM166.1 38.2h0.8v1h-0.8zM166.1 46.1h0.8v1h-0.8zM125.5 38.4h0.8v1h-0.8zM125.5 46.4h0.8v1.9h-0.8zM222.7 38.1h0.8v1h-0.8zM222.7 46.4h0.8v1.8h-0.8zM215 38.3h0.8v1h-0.8zM215 46.1h0.8v1.3h-0.8zM108.4 38.5h0.8v1h-0.8zM108.4 46.3h0.8v0.8h-0.8zM130.9 38.1h0.8v1h-0.8zM130.9 46.1h0.8v1.8h-0.8zM208.1 38.4h0.8v1h-0.8zM208.1 46.2h0.8v1.3h-0.8zM223.9 38.2h0.8v1h-0.8zM223.9 46.3h0.8v1.6h-0.8zM260.1 38.4h0.8v1h-0.8zM260.1 46h0.8v0.8h-0.8zM115.5 38.4h0.8v1h-0.8zM115.5 46.1h0.8v1.9h-0.8zM215.2 38.4h0.8v1h-0.8zM215.2 46h0.8v1.2h-0.8zM111.1 38h0.8v1h-0.8zM111.1 46.1h0.8v1.6h-0.8zM198.6 37.9h0.8v1h-0.8zM198.6 46.2h0.8v1.8h-0.8zM205.2 38h0.8v1h-0.8zM205.2 46.2h0.8v1.7h-0.8zM179.1 38.4h0.8v1h-0.8zM179.1 46.3h0.8v1.5h-0.8zM78 38h0.8v1h-0.8zM78 46.3h0.8v0.8h-0.8zM83.9 37.9h0.8v1h-0.8zM83.9 46.3h0.8v1h-0.8zM67.9 38.6h0.8v1h-0.8zM67.9 46.1h0.8v1.6h-0.8zM205.1 38.1h0.8v1h-0.8zM205.1 46.4h0.8v1.5h-0.8zM136.6 38h0.8v1h-0.8zM136.6 46.1h0.8v1.9h-0.8zM75.5 38h0.8v1h-0.8zM75.5 46h0.8v1.9h-0.8zM84 38.5h0.8v1h-0.8zM84 46.4h0.8v0.8h-0.8zM236 38h0.8v1h-0.8zM236 46.1h0.8v1.8h-0.8zM191.7 38.4h0.8v1h-0.8zM191.7 46.4h0.8v0.9h-0.8zM217.5 38.5h0.8v1h-0.8zM217.5 46.3h0.8v1.3h-0.8zM66.3 38.4h0.8v1h-0.8zM66.3 46.3h0.8v1.7h-0.8zM137.6 38.4h0.8v1h-0.8zM137.6 46h0.8v1.4h-0.8zM236.8 38.2h0.8v1h-0.8zM236.8 46.4h0.8v1.3h-0.8zM151.6 38.1h0.8v1h-0.8zM151.6 46.3h0.8v1.6h-0.8zM172.4 38.4h0.8v1h-0.8zM172.4 46.1h0.8v0.9h-0.8zM230.3 38.5h0.8v1h-0.8zM230.3 46.4h0.8v1h-0.8zM218.5 37.9h0.8v1h-0.8zM218.5 46.4h0.8v1.4h-0.8zM162.9 38h0.8v1h-0.8zM162.9 46.3h0.8v1.4h-0.8zM133.3 38h0.8v1h-0.8zM133.3 46.3h0.8v1.9h-0.8zM120.2 38.4h0.8v1h-0.8zM120.2 46.1h0.8v1.4h-0.8zM84.6 38.2h0.8v1h-0.8zM84.6 46.4h0.8v1.7h-0.8zM205.1 38h0.8v1h-0.8zM205.1 46.1h0.8v1.2h-0.8zM144.4 38.3h0.8v1h-0.8zM144.4 46h0.8v0.9h-0.8zM244.4 38.6h0.8v1h-0.8zM244.4 46.3h0.8v1.1h-0.8zM247 38.2h0.8v1h-0.8zM247 46.2h0.8v1.9h-0.8zM110 38.3h0.8v1h-0.8zM110 46.2h0.8v1.7h-0.8zM216.6 38.1h0.8v1h-0.8zM216.6 46.3h0.8v1.2h-0.8zM93.9 38h0.8v1h-0.8zM93.9 46.1h0.8v1.7h-0.8zM96.8 38.3h0.8v1h-0.8zM96.8 46.1h0.8v1.5h-0.8zM87.9 38.3h0.8v1h-0.8zM87.9 46h0.8v1.1h-0.8zM101.3 38.4h0.8v1h-0.8zM101.3 46.1h0.8v1.8h-0.8zM93.7 38.5h0.8v1h-0.8zM93.7 46.3h0.8v1.2h-0.8zM169.2 38.5h0.8v1h-0.8zM169.2 46.3h0.8v1h-0.8zM262.2 38.1h0.8v1h-0.8zM262.2 46.4h0.8v2h-0.8zM82.9 38.3h0.8v1h-0.8zM82.9 46h0.8v1.8h-0.8zM212.5 38.3h0.8v1h-0.8zM212.5 46.3h0.8v1.6h-0.8zM83.9 38.5h0.8v1h-0.8zM83.9 46.2h0.8v0.8h-0.8zM143.9 38h0.8v1h-0.8zM143.9 46.1h0.8v1.4h-0.8zM191.8 38.3h0.8v1h-0.8zM191.8 46.3h0.8v1.5h-0.8zM145.1 38.1h0.8v1h-0.8zM145.1 46h0.8v1.3h-0.8zM179.8 38.1h0.8v1h-0.8zM179.8 46.2h0.8v1.1h-0.8zM210.3 38h0.8v1h-0.8zM210.3 46.1h0.8v1.6h-0.8zM237 38.1h0.8v1h-0.8zM237 46.1h0.8v1.3h-0.8zM126.3 38.2h0.8v1h-0.8zM126.3 46.4h0.8v1.3h-0.8zM222.6 38.1h0.8v1h-0.8zM222.6 46.1h0.8v1.1h-0.8zM149 38.3h0.8v1h-0.8zM149 46.2h0.8v1.3h-0.8zM200.6 37.9h0.8v1h-0.8zM200.6 46.3h0.8v1.6h-0.8zM221.8 38.3h0.8v1h-0.8zM221.8 46.2h0.8v2h-0.8zM69.8 38.2h0.8v1h-0.8zM69.8 46.3h0.8v1.7h-0.8zM255.1 38.2h0.8v1h-0.8zM255.1 46.4h0.8v1.5h-0.8zM173.1 38.1h0.8v1h-0.8zM173.1 46.2h0.8v1.6h-0.8zM232.2 38.2h0.8v1h-0.8zM232.2 46.2h0.8v1.9h-0.8zM105.1 38.1h0.8v1h-0.8zM105.1 46.2h0.8v1.7h-0.8zM87.1 37.9h0.8v1h-0.8zM87.1 46.3h0.8v0.9h-0.8zM118.3 38.3h0.8v1h-0.8zM118.3 46.4h0.8v1.3h-0.8zM148.3 38.1h0.8v1h-0.8zM148.3 46.3h0.8v1.1h-0.8zM108.1 38.1h0.8v1h-0.8zM108.1 46h0.8v1.4h-0.8zM106.9 38h0.8v1h-0.8zM106.9 46.2h0.8v1.1h-0.8zM88.5 38.1h0.8v1h-0.8zM88.5 46.1h0.8v1.6h-0.8zM158.3 38.2h0.8v1h-0.8zM158.3 46.3h0.8v2h-0.8zM134.5 38.2h0.8v1h-0.8zM134.5 46.1h0.8v1.8h-0.8zM158.1 38.4h0.8v1h-0.8zM158.1 46.2h0.8v1h-0.8zM233.2 38.4h0.8v1h-0.8zM233.2 46.1h0.8v1.1h-0.8zM139.2 38.4h0.8v1h-0.8zM139.2 46.2h0.8v1h-0.8zM62.6 38.1h0.8v1h-0.8zM62.6 46.3h0.8v1.1h-0.8zM124 38.3h0.8v1h-0.8zM124 46.2h0.8v1.6h-0.8zM197.3 38.3h0.8v1h-0.8zM197.3 46h0.8v1.8h-0.8zM73.7 38h0.8v1h-0.8zM73.7 46h0.8v1.7h-0.8zM90.8 38h0.8v1h-0.8zM90.8 46.1h0.8v0.8h-0.8zM64.4 37.9h0.8v1h-0.8zM64.4 46.1h0.8v1.1h-0.8zM82.8 38.5h0.8v1h-0.8zM82.8 46.3h0.8v1.7h-0.8zM133.1 38.5h0.8v1h-0.8zM133.1 46h0.8v1.8h-0.8zM96.5 38h0.8v1h-0.8zM96.5 46.2h0.8v1.7h-0.8zM199.2 38h0.8v1h-0.8zM199.2 46.1h0.8v1.8h-0.8zM102.5 38.1h0.8v1h-0.8zM102.5 46.2h0.8v1.7h-0.8zM152 38h0.8v1h-0.8zM152 46.2h0.8v1.1h-0.8zM110.1 38.5h0.8v1h-0.8zM110.1 46.2h0.8v0.9h-0.8zM157.9 38.5h0.8v1h-0.8zM157.9 46.2h0.8v1.4h-0.8zM172.8 38h0.8v1h-0.8zM172.8 46.4h0.8v1.8h-0.8zM158.1 38.2h0.8v1h-0.8zM158.1 46.1h0.8v1.8h-0.8zM139 38.3h0.8v1h-0.8zM139 46h0.8v0.9h-0.8zM192.8 38.2h0.8v1h-0.8zM192.8 46.4h0.8v1.5h-0.8zM202.1 37.9h0.8v1h-0.8zM202.1 46.3h0.8v2h-0.8zM166.8 38.3h0.8v1h-0.8zM166.8 46h0.8v0.8h-0.8zM209.4 38.2h0.8v1h-0.8zM209.4 46.3h0.8v1.8h-0.8zM137.2 38.3h0.8v1h-0.8zM137.2 46.2h0.8v1.7h-0.8zM105.3 38.3h0.8v1h-0.8zM105.3 46.2h0.8v1.5h-0.8zM231.7 38.4h0.8v1h-0.8zM231.7 46.1h0.8v1.3h-0.8zM165.4 38.4h0.8v1h-0.8zM165.4 46.2h0.8v2h-0.8zM196.4 38h0.8v1h-0.8zM196.4 46.3h0.8v1.2h-0.8zM123.4 38.2h0.8v1h-0.8zM123.4 46.1h0.8v1.7h-0.8zM70.2 38.1h0.8v1h-0.8zM70.2 46h0.8v1.5h-0.8zM72.2 38.4h0.8v1h-0.8zM72.2 46.4h0.8v1h-0.8zM251.2 38.2h0.8v1h-0.8zM251.2 46.1h0.8v1.7h-0.8zM248.8 38.2h0.8v1h-0.8zM248.8 46.2h0.8v1.6h-0.8zM205 38.2h0.8v1h-0.8zM205 46.1h0.8v1.1h-0.8zM198.9 38.3h0.8v1h-0.8zM198.9 46.1h0.8v0.9h-0.8zM99.2 38.6h0.8v1h-0.8zM99.2 46.1h0.8v1.9h-0.8zM196.6 38.3h0.8v1h-0.8zM196.6 46.1h0.8v1.7h-0.8zM177.4 38.4h0.8v1h-0.8zM177.4 46.3h0.8v1.3h-0.8zM127.4 38.3h0.8v1h-0.8zM127.4 46.1h0.8v1.9h-0.8zM73.2 38.2h0.8v1h-0.8zM73.2 46.4h0.8v0.9h-0.8zM228.4 38.2h0.8v1h-0.8zM228.4 46h0.8v1.3h-0.8zM64.9 38.3h0.8v1h-0.8zM64.9 46.2h0.8v1.9h-0.8zM263.4 38.3h0.8v1h-0.8zM263.4 46.2h0.8v0.9h-0.8zM194.3 38.5h0.8v1h-0.8zM194.3 46.3h0.8v0.8h-0.8zM63 38.1h0.8v1h-0.8zM63 46.4h0.8v2h-0.8zM80.1 38h0.8v1h-0.8zM80.1 46.3h0.8v0.8h-0.8zM209.7 38.4h0.8v1h-0.8zM209.7 46.1h0.8v1h-0.8zM72.3 38.1h0.8v1h-0.8zM72.3 46.1h0.8v1.8h-0.8zM211.8 38.5h0.8v1h-0.8zM211.8 46.1h0.8v1.7h-0.8zM156.6 37.9h0.8v1h-0.8zM156.6 46.3h0.8v2h-0.8zM209.2 38.6h0.8v1h-0.8zM209.2 46.4h0.8v1.6h-0.8zM229.8 38.5h0.8v1h-0.8zM229.8 46.3h0.8v1.7h-0.8zM96.1 38h0.8v1h-0.8zM96.1 46.2h0.8v0.9h-0.8zM137.5 38.2h0.8v1h-0.8zM137.5 46.2h0.8v1.6h-0.8zM91.7 38h0.8v1h-0.8zM91.7 46.3h0.8v1.6h-0.8zM191.3 38.3h0.8v1h-0.8zM191.3 46.2h0.8v1.7h-0.8zM256 38.1h0.8v1h-0.8zM256 46.2h0.8v1.2h-0.8zM74.4 37.9h0.8v1h-0.8zM74.4 46.1h0.8v1.8h-0.8zM130.2 38.2h0.8v1h-0.8zM130.2 46h0.8v1.8h-0.8zM185.4 38.4h0.8v1h-0.8zM185.4 46.2h0.8v1.9h-0.8zM139.3 38.1h0.8v1h-0.8zM139.3 46.2h0.8v1.9h-0.8zM227.8 38.4h0.8v1h-0.8zM227.8 46.4h0.8v1.1h-0.8zM148.7 38.2h0.8v1h-0.8zM148.7 46.1h0.8v1.9h-0.8zM70.7 38h0.8v1h-0.8zM70.7 46.1h0.8v1.8h-0.8zM179.4 38.4h0.8v1h-0.8zM179.4 46.1h0.8v1.8h-0.8zM202.6 38h0.8v1h-0.8zM202.6 46.3h0.8v0.9h-0.8zM175.7 38h0.8v1h-0.8zM175.7 46.3h0.8v1.7h-0.8zM253.3 38.4h0.8v1h-0.8zM253.3 46.2h0.8v1.6h-0.8zM157.5 38.5h0.8v1h-0.8zM157.5 46.3h0.8v1.7h-0.8zM224.5 38.3h0.8v1h-0.8zM224.5 46.4h0.8v1.8h-0.8zM220.5 38.4h0.8v1h-0.8zM220.5 46.2h0.8v1.9h-0.8zM243.7 38.2h0.8v1h-0.8zM243.7 46.2h0.8v1.5h-0.8zM100.8 38.5h0.8v1h-0.8zM100.8 46.3h0.8v1.6h-0.8zM136.5 38.2h0.8v1h-0.8zM136.5 46.2h0.8v1.4h-0.8zM92.6 38.6h0.8v1h-0.8zM92.6 46h0.8v1.2h-0.8zM83.8 38.2h0.8v1h-0.8zM83.8 46.1h0.8v1h-0.8zM184.6 38.4h0.8v1h-0.8zM184.6 46.2h0.8v0.8h-0.8zM68.9 37.9h0.8v1h-0.8zM68.9 46.1h0.8v1.4h-0.8zM178.4 38.4h0.8v1h-0.8zM178.4 46.1h0.8v1.3h-0.8zM256.3 38.1h0.8v1h-0.8zM256.3 46.1h0.8v2h-0.8zM114.1 38.6h0.8v1h-0.8zM114.1 46.3h0.8v1h-0.8zM79.2 38.6h0.8v1h-0.8zM79.2 46.2h0.8v1.8h-0.8zM156.1 37.9h0.8v1h-0.8zM156.1 46h0.8v0.9h-0.8zM184.8 38.3h0.8v1h-0.8zM184.8 46.4h0.8v2h-0.8zM114.8 38.2h0.8v1h-0.8zM114.8 46.1h0.8v1.9h-0.8zM199.5 38.3h0.8v1h-0.8zM199.5 46.2h0.8v1h-0.8zM260.3 37.9h0.8v1h-0.8zM260.3 46.3h0.8v0.8h-0.8zM114.5 38.4h0.8v1h-0.8zM114.5 46h0.8v1.9h-0.8zM233.9 38.6h0.8v1h-0.8zM233.9 46.1h0.8v1.7h-0.8zM194.8 37.9h0.8v1h-0.8zM194.8 46.4h0.8v1h-0.8zM217 37.9h0.8v1h-0.8zM217 46.1h0.8v1.2h-0.8zM183.4 38.1h0.8v1h-0.8zM183.4 46.4h0.8v1.2h-0.8zM114.8 38.5h0.8v1h-0.8zM114.8 46.2h0.8v1h-0.8zM111 38.5h0.8v1h-0.8zM111 46.1h0.8v0.8h-0.8zM209.2 38.5h0.8v1h-0.8zM209.2 46.4h0.8v1.9h-0.8zM107.3 37.9h0.8v1h-0.8zM107.3 46.1h0.8v1.9h-0.8zM90.7 38.3h0.8v1h-0.8zM90.7 46.4h0.8v1.9h-0.8zM234.9 38.2h0.8v1h-0.8zM234.9 46.2h0.8v1.2h-0.8zM231 38.3h0.8v1h-0.8zM231 46.1h0.8v1h-0.8zM107.5 38.6h0.8v1h-0.8zM107.5 46.1h0.8v1.5h-0.8zM91.7 38h0.8v1h-0.8zM91.7 46.3h0.8v1.3h-0.8zM94 38.4h0.8v1h-0.8zM94 46.1h0.8v1.2h-0.8zM96.4 38.3h0.8v1h-0.8zM96.4 46.3h0.8v1.9h-0.8zM85.4 37.9h0.8v1h-0.8zM85.4 46.4h0.8v1.9h-0.8zM199.2 38.5h0.8v1h-0.8zM199.2 46.2h0.8v1.1h-0.8zM114.9 38.5h0.8v1h-0.8zM114.9 46.3h0.8v2h-0.8zM266.9 38h0.8v1h-0.8zM266.9 46.4h0.8v1.1h-0.8zM246 38.6h0.8v1h-0.8zM246 46.1h0.8v1.2h-0.8zM262.9 38.6h0.8v1h-0.8zM262.9 46.1h0.8v1.2h-0.8zM90.8 38.6h0.8v1h-0.8zM90.8 46.1h0.8v1.4h-0.8zM100.1 38.3h0.8v1h-0.8zM100.1 46h0.8v1.1h-0.8zM179.3 38.5h0.8v1h-0.8zM179.3 46.3h0.8v1.7h-0.8zM208.1 38.5h0.8v1h-0.8zM208.1 46.4h0.8v0.9h-0.8zM186.9 38.3h0.8v1h-0.8zM186.9 46.3h0.8v1h-0.8zM187.7 38.1h0.8v1h-0.8zM187.7 46.1h0.8v1.5h-0.8zM103.5 38.6h0.8v1h-0.8zM103.5 46.1h0.8v1.3h-0.8zM210.2 38.6h0.8v1h-0.8zM210.2 46.1h0.8v1.2h-0.8zM234.8 38h0.8v1h-0.8zM234.8 46.2h0.8v0.8h-0.8zM248.9 38.3h0.8v1h-0.8zM248.9 46.1h0.8v1.1h-0.8zM100.2 38h0.8v1h-0.8zM100.2 46.3h0.8v1h-0.8zM138.2 38.2h0.8v1h-0.8zM138.2 46.4h0.8v1.4h-0.8zM153.5 38.2h0.8v1h-0.8zM153.5 46.4h0.8v1.7h-0.8zM229.6 38h0.8v1h-0.8zM229.6 46.3h0.8v1.7h-0.8zM140.3 38.1h0.8v1h-0.8zM140.3 46.4h0.8v1.8h-0.8zM257.9 38.3h0.8v1h-0.8zM257.9 46.2h0.8v1.4h-0.8zM172.3 38.6h0.8v1h-0.8zM172.3 46h0.8v1.1h-0.8zM99.4 38.5h0.8v1h-0.8zM99.4 46.3h0.8v1.8h-0.8zM68.2 38.5h0.8v1h-0.8zM68.2 46.1h0.8v1h-0.8zM65.6 38.2h0.8v1h-0.8zM65.6 46.2h0.8v1.4h-0.8zM206.3 38.5h0.8v1h-0.8zM206.3 46.1h0.8v1.7h-0.8zM71.3 38.5h0.8v1h-0.8zM71.3 46.2h0.8v1.4h-0.8zM119.4 38.5h0.8v1h-0.8zM119.4 46.2h0.8v1h-0.8zM183.5 38h0.8v1h-0.8zM183.5 46.3h0.8v1.5h-0.8zM215.3 38.5h0.8v1h-0.8zM215.3 46.1h0.8v1.9h-0.8zM141.8 38.3h0.8v1h-0.8zM141.8 46.1h0.8v1.4h-0.8zM143.2 37.9h0.8v1h-0.8zM143.2 46.1h0.8v1.2h-0.8zM111.3 38.4h0.8v1h-0.8zM111.3 46.2h0.8v2h-0.8zM227.1 38h0.8v1h-0.8zM227.1 46.1h0.8v1.8h-0.8zM73 38.2h0.8v1h-0.8zM73 46h0.8v1.9h-0.8zM113.2 38.3h0.8v1h-0.8zM113.2 46.1h0.8v1.2h-0.8zM171 38.6h0.8v1h-0.8zM171 46.2h0.8v1.4h-0.8zM66.3 38.5h0.8v1h-0.8zM66.3 46h0.8v1.7h-0.8zM254.4 38.2h0.8v1h-0.8zM254.4 46.1h0.8v1.9h-0.8zM243.6 38.6h0.8v1h-0.8zM243.6 46.1h0.8v1.1h-0.8zM201.3 38.4h0.8v1h-0.8zM201.3 46.2h0.8v1.9h-0.8zM189.5 38.4h0.8v1h-0.8zM189.5 46.2h0.8v1.3h-0.8zM257.2 38.4h0.8v1h-0.8zM257.2 46.3h0.8v1.6h-0.8zM86.7 38.2h0.8v1h-0.8zM86.7 46h0.8v1.4h-0.8zM117.1 38.3h0.8v1h-0.8zM117.1 46.2h0.8v1h-0.8zM87.4 38.5h0.8v1h-0.8zM87.4 46.3h0.8v1.3h-0.8zM121.2 38.4h0.8v1h-0.8zM121.2 46.4h0.8v1.5h-0.8zM234.4 38.2h0.8v1h-0.8zM234.4 46.2h0.8v1.6h-0.8zM103.3 38.1h0.8v1h-0.8zM103.3 46.2h0.8v1.5h-0.8zM187.8 38.3h0.8v1h-0.8zM187.8 46.3h0.8v1.1h-0.8zM107.5 38.2h0.8v1h-0.8zM107.5 46.2h0.8v1.5h-0.8zM64.4 38.4h0.8v1h-0.8zM64.4 46.1h0.8v1.1h-0.8zM176.3 38.3h0.8v1h-0.8zM176.3 46.3h0.8v2h-0.8zM122.7 38.1h0.8v1h-0.8zM122.7 46.3h0.8v0.9h-0.8zM240.9 38.3h0.8v1h-0.8zM240.9 46.4h0.8v1.3h-0.8zM152.3 38.1h0.8v1h-0.8zM152.3 46.4h0.8v1.1h-0.8zM258.9 38.1h0.8v1h-0.8zM258.9 46.3h0.8v1.2h-0.8zM134.4 38.1h0.8v1h-0.8zM134.4 46.2h0.8v1.8h-0.8zM230.6 38.2h0.8v1h-0.8zM230.6 46.1h0.8v1.7h-0.8zM218 38.3h0.8v1h-0.8zM218 46.1h0.8v1.7h-0.8zM249.8 38.5h0.8v1h-0.8zM249.8 46.1h0.8v0.8h-0.8zM219.2 38.2h0.8v1h-0.8zM219.2 46.2h0.8v2h-0.8zM179.4 38.3h0.8v1h-0.8zM179.4 46.1h0.8v1.8h-0.8zM186.7 38.3h0.8v1h-0.8zM186.7 46.2h0.8v1.3h-0.8zM210.4 38.4h0.8v1h-0.8zM210.4 46.2h0.8v1.5h-0.8zM140.9 38.4h0.8v1h-0.8zM140.9 46.1h0.8v1.8h-0.8zM164.6 38.3h0.8v1h-0.8zM164.6 46.3h0.8v1.2h-0.8zM91.8 38.2h0.8v1h-0.8zM91.8 46.2h0.8v0.9h-0.8zM250.9 38.4h0.8v1h-0.8zM250.9 46.1h0.8v1.8h-0.8zM258.8 38.5h0.8v1h-0.8zM258.8 46.2h0.8v1.9h-0.8zM64.2 38.6h0.8v1h-0.8zM64.2 46.2h0.8v1.4h-0.8zM250.9 38.1h0.8v1h-0.8zM250.9 46.2h0.8v2h-0.8zM168.2 38.2h0.8v1h-0.8zM168.2 46.1h0.8v1.3h-0.8zM135.4 38.2h0.8v1h-0.8zM135.4 46.3h0.8v1.9h-0.8zM200.9 38.2h0.8v1h-0.8zM200.9 46.4h0.8v1.2h-0.8zM144.3 38.2h0.8v1h-0.8zM144.3 46.2h0.8v1.9h-0.8zM260 38.3h0.8v1h-0.8zM260 46.2h0.8v1.5h-0.8zM266.5 38.4h0.8v1h-0.8zM266.5 46.2h0.8v1.8h-0.8zM97 38.4h0.8v1h-0.8zM97 46h0.8v1.8h-0.8zM167.2 38.5h0.8v1h-0.8zM167.2 46h0.8v1.6h-0.8zM230.5 37.9h0.8v1h-0.8zM230.5 46h0.8v1.3h-0.8zM94.1 38.4h0.8v1h-0.8zM94.1 46.2h0.8v1.4h-0.8zM100.6 38.5h0.8v1h-0.8zM100.6 46.1h0.8v1.5h-0.8zM134.5 37.9h0.8v1h-0.8zM134.5 46.1h0.8v0.9h-0.8zM146.5 38h0.8v1h-0.8zM146.5 46.3h0.8v1.6h-0.8zM62.8 38.4h0.8v1h-0.8zM62.8 46.1h0.8v1.5h-0.8z"/><path fill="#4a5fb8" fill-opacity="0.6" d="M275.5 55.6h0.8v1h-0.8zM275.5 45h0.8v1h-0.8zM274 55.8h0.8v1h-0.8zM274 44.7h0.8v1h-0.8zM273.8 58h0.8v1h-0.8zM273.8 44.9h0.8v1h-0.8zM272.3 55.4h0.8v1h-0.8zM272.3 45.7h0.8v1h-0.8zM276.6 55.3h0.8v1h-0.8zM276.6 45.8h0.8v1h-0.8zM269.4 56.6h0.8v1h-0.8zM269.4 44.4h0.8v1h-0.8zM274.8 57.4h0.8v1h-0.8zM274.8 45.9h0.8v1h-0.8zM267.5 57.3h0.8v1h-0.8zM267.5 45.4h0.8v1h-0.8zM276 56.1h0.8v1h-0.8zM276 45.7h0.8v1h-0.8zM270.6 55.3h0.8v1h-0.8zM270.6 44.2h0.8v1h-0.8zM274.4 56h0.8v1h-0.8zM274.4 45.1h0.8v1h-0.8zM272 55.2h0.8v1h-0.8zM272 44.2h0.8v1h-0.8zM274.4 57.9h0.8v1h-0.8zM274.4 45.1h0.8v1h-0.8zM274.9 55.7h0.8v1h-0.8zM274.9 45.9h0.8v1h-0.8zM278.7 57.6h0.8v1h-0.8zM278.7 45.4h0.8v1h-0.8zM278.3 57.4h0.8v1h-0.8zM278.3 45.4h0.8v1h-0.8zM274.7 57.9h0.8v1h-0.8zM274.7 45h0.8v1h-0.8zM278.9 55.7h0.8v1h-0.8zM278.9 45.2h0.8v1h-0.8zM276.1 55.7h0.8v1h-0.8zM276.1 45.4h0.8v1h-0.8zM278 56.5h0.8v1h-0.8zM278 44.4h0.8v1h-0.8zM270.3 55.5h0.8v1h-0.8zM270.3 45.3h0.8v1h-0.8zM269.6 57.9h0.8v1h-0.8zM269.6 45.4h0.8v1h-0.8zM274.2 55.3h0.8v1h-0.8zM274.2 44.9h0.8v1h-0.8zM272 56.2h0.8v1h-0.8zM272 45.9h0.8v1h-0.8z"/><path fill="#e07a7a" fill-opacity="0.6" d="M61.5 22h0.8v0.8h-0.8zM61.7 22.9h0.8v0.8h-0.8zM60.6 31.8h0.8v0.8h-0.8zM61.9 21.2h0.8v0.8h-0.8zM63.5 19.9h0.8v0.8h-0.8zM61.6 35.4h0.8v0.8h-0.8zM61 27.2h0.8v0.8h-0.8zM64 34.7h0.8v0.8h-0.8zM61.2 25.3h0.8v0.8h-0.8zM65.6 37.8h0.8v0.8h-0.8zM66.9 22.7h0.8v0.8h-0.8zM66.6 20.7h0.8v0.8h-0.8zM67.7 23.4h0.8v0.8h-0.8zM68.6 30.2h0.8v0.8h-0.8zM66.3 23.1h0.8v0.8h-0.8zM67.3 22.4h0.8v0.8h-0.8zM68.5 20.6h0.8v0.8h-0.8zM66.9 29.3h0.8v0.8h-0.8zM101 31.1h0.8v0.8h-0.8zM99.9 27.9h0.8v0.8h-0.8zM99.3 24.2h0.8v0.8h-0.8zM101.6 26.7h0.8v0.8h-0.8zM101 22.9h0.8v0.8h-0.8zM100.7 27.4h0.8v0.8h-0.8zM151.1 36.1h0.8v0.8h-0.8zM145.1 24.5h0.8v0.8h-0.8zM144.2 32.5h0.8v0.8h-0.8zM149.3 26h0.8v0.8h-0.8zM147.3 32h0.8v0.8h-0.8zM149.6 23.9h0.8v0.8h-0.8zM150.8 26h0.8v0.8h-0.8zM149 22.6h0.8v0.8h-0.8zM144.9 37.1h0.8v0.8h-0.8zM149.9 33.1h0.8v0.8h-0.8zM144.3 19.8h0.8v0.8h-0.8zM145.3 22.9h0.8v0.8h-0.8zM146.4 26.5h0.8v0.8h-0.8zM144.3 25.2h0.8v0.8h-0.8zM149.1 22.6h0.8v0.8h-0.8zM150.7 30.3h0.8v0.8h-0.8zM149.7 24h0.8v0.8h-0.8zM147.5 32.5h0.8v0.8h-0.8zM146.8 19h0.8v0.8h-0.8zM150.7 34.4h0.8v0.8h-0.8zM146.3 19.9h0.8v0.8h-0.8zM158.5 20.3h0.8v0.8h-0.8zM160.2 22.4h0.8v0.8h-0.8zM160.6 33.6h0.8v0.8h-0.8zM158 32.4h0.8v0.8h-0.8zM159 33.5h0.8v0.8h-0.8zM160.4 23.8h0.8v0.8h-0.8zM181.8 33.9h0.8v0.8h-0.8zM181.2 36.1h0.8v0.8h-0.8zM180.9 30.2h0.8v0.8h-0.8zM179.2 34h0.8v0.8h-0.8zM180.3 31.1h0.8v0.8h-0.8zM181.8 25h0.8v0.8h-0.8zM203.8 23.4h0.8v0.8h-0.8zM202.9 38.2h0.8v0.8h-0.8zM203.2 29.3h0.8v0.8h-0.8zM201.9 19.2h0.8v0.8h-0.8zM202.3 26.6h0.8v0.8h-0.8zM201.7 24.5h0.8v0.8h-0.8zM201.5 32.7h0.8v0.8h-0.8zM239.1 29.5h0.8v0.8h-0.8zM240.4 27.9h0.8v0.8h-0.8zM238.5 36.9h0.8v0.8h-0.8zM238 31.5h0.8v0.8h-0.8zM238.6 35.7h0.8v0.8h-0.8zM239.2 34.8h0.8v0.8h-0.8zM260.1 34.4h0.8v0.8h-0.8zM261.3 22.2h0.8v0.8h-0.8zM259.5 26.8h0.8v0.8h-0.8zM259.3 21.1h0.8v0.8h-0.8zM259.5 23.7h0.8v0.8h-0.8zM260.8 28.4h0.8v0.8h-0.8zM263.1 24.8h0.8v0.8h-0.8zM262.2 22.2h0.8v0.8h-0.8zM265 34.6h0.8v0.8h-0.8zM262.3 34h0.8v0.8h-0.8zM264.9 31.5h0.8v0.8h-0.8zM262.3 30.2h0.8v0.8h-0.8z"/><path fill="#e3a9a9" fill-opacity="0.45" d="M156.9 23.2h0.7V38.8h-0.7zM202.8 29.5h0.7V38.8h-0.7zM142.4 34.3h0.7V38.8h-0.7zM71 28.6h0.7V38.8h-0.7zM220 20.5h0.7V38.8h-0.7zM62.9 32h0.7V38.8h-0.7z"/><path fill="#d9b3b3" fill-opacity="0.45" d="M132.3 25.6h0.7V38.8h-0.7zM204.6 24.1h0.7V38.8h-0.7zM79.1 31.2h0.7V38.8h-0.7zM246.8 33.8h0.7V38.8h-0.7zM224.2 25.2h0.7V38.8h-0.7zM203.4 25.6h0.7V38.8h-0.7zM245.1 24.1h0.7V38.8h-0.7zM193.7 29.5h0.7V38.8h-0.7zM201.1 26.2h0.7V38.8h-0.7zM247.9 27.4h0.7V38.8h-0.7zM93.3 21.5h0.7V38.8h-0.7zM75.7 20.6h0.7V38.8h-0.7zM138.1 23.3h0.7V38.8h-0.7z"/><path fill="#cfc2c2" fill-opacity="0.45" d="M231.2 32.5h0.7V38.8h-0.7zM84.3 30.8h0.7V38.8h-0.7zM142.5 28.4h0.7V38.8h-0.7zM263.3 34.8h0.7V38.8h-0.7zM259.8 34h0.7V38.8h-0.7zM154.4 30.9h0.7V38.8h-0.7zM212.3 22.8h0.7V38.8h-0.7zM248.9 31.8h0.7V38.8h-0.7zM174.4 26.5h0.7V38.8h-0.7zM259.5 22.9h0.7V38.8h-0.7zM180.6 27.9h0.7V38.8h-0.7z"/><path fill="#c8c8d8" fill-opacity="0.4" d="M274.2 46.6h0.7V63.2h-0.7zM223.6 46.6h0.7V60.2h-0.7zM268.1 46.6h0.7V55.6h-0.7zM185.4 46.6h0.7V56.1h-0.7zM111.7 46.6h0.7V64.1h-0.7z"/><path fill="#b9c0e0" fill-opacity="0.4" d="M274.9 46.6h0.7V64h-0.7zM79.8 46.6h0.7V61.9h-0.7zM251.1 46.6h0.7V58h-0.7zM68.1 46.6h0.7V53.2h-0.7zM206.3 46.6h0.7V55.8h-0.7zM204 46.6h0.7V53.2h-0.7zM117 46.6h0.7V57.4h-0.7zM162.1 46.6h0.7V58.1h-0.7zM86.7 46.6h0.7V57.7h-0.7zM185.9 46.6h0.7V62.4h-0.7zM78.1 46.6h0.7V56.7h-0.7z"/><path fill="#cfcfcf" fill-opacity="0.4" d="M209.8 46.6h0.7V59.1h-0.7zM185.5 46.6h0.7V56.5h-0.7zM167 46.6h0.7V59.6h-0.7zM181.8 46.6h0.7V52.2h-0.7z"/><line x1="79.6" y1="38.3" x2="79.6" y2="47.1" stroke="#fff" stroke-width="0.8" stroke-opacity="0.9"/><line x1="96.8" y1="38.3" x2="96.8" y2="47.1" stroke="#fff" stroke-width="0.8" stroke-opacity="0.9"/><line x1="110.8" y1="38.3" x2="110.8" y2="47.1" stroke="#fff" stroke-width="0.8" stroke-opacity="0.9"/><line x1="124.3" y1="38.3" x2="124.3" y2="47.1" stroke="#fff" stroke-width="0.8" stroke-opacity="0.9"/><line x1="137.1" y1="38.3" x2="137.1" y2="47.1" stroke="#fff" stroke-width="0.8" stroke-opacity="0.9"/><line x1="149.2" y1="38.3" x2="149.2" y2="47.1" stroke="#fff" stroke-width="0.8" stroke-opacity="0.9"/><line x1="160.4" y1="38.3" x2="160.4" y2="47.1" stroke="#fff" stroke-width="0.8" stroke-opacity="0.9"/><line x1="170.7" y1="38.3" x2="170.7" y2="47.1" stroke="#fff" stroke-width="0.8" stroke-opacity="0.9"/><line x1="180.7" y1="38.3" x2="180.7" y2="47.1" stroke="#fff" stroke-width="0.8" stroke-opacity="0.9"/><line x1="190.3" y1="38.3" x2="190.3" y2="47.1" stroke="#fff" stroke-width="0.8" stroke-opacity="0.9"/><line x1="199.8" y1="38.3" x2="199.8" y2="47.1" stroke="#fff" stroke-width="0.8" stroke-opacity="0.9"/><line x1="209.2" y1="38.3" x2="209.2" y2="47.1" stroke="#fff" stroke-width="0.8" stroke-opacity="0.9"/><line x1="217.4" y1="38.3" x2="217.4" y2="47.1" stroke="#fff" stroke-width="0.8" stroke-opacity="0.9"/><line x1="224.9" y1="38.3" x2="224.9" y2="47.1" stroke="#fff" stroke-width="0.8" stroke-opacity="0.9"/><line x1="232.1" y1="38.3" x2="232.1" y2="47.1" stroke="#fff" stroke-width="0.8" stroke-opacity="0.9"/><line x1="238.5" y1="38.3" x2="238.5" y2="47.1" stroke="#fff" stroke-width="0.8" stroke-opacity="0.9"/><line x1="244.4" y1="38.3" x2="244.4" y2="47.1" stroke="#fff" stroke-width="0.8" stroke-opacity="0.9"/><line x1="249.9" y1="38.3" x2="249.9" y2="47.1" stroke="#fff" stroke-width="0.8" stroke-opacity="0.9"/><line x1="254.1" y1="38.3" x2="254.1" y2="47.1" stroke="#fff" stroke-width="0.8" stroke-opacity="0.9"/><line x1="258.5" y1="38.3" x2="258.5" y2="47.1" stroke="#fff" stroke-width="0.8" stroke-opacity="0.9"/><line x1="261.9" y1="38.3" x2="261.9" y2="47.1" stroke="#fff" stroke-width="0.8" stroke-opacity="0.9"/><line x1="265.5" y1="38.3" x2="265.5" y2="47.1" stroke="#fff" stroke-width="0.8" stroke-opacity="0.9"/><line x1="276.5" y1="38.3" x2="276.5" y2="47.1" stroke="#fff" stroke-width="0.8" stroke-opacity="0.9"/><path fill="#e07a7a" fill-opacity="0.55" d="M182.3 112.8h0.7v0.7h-0.7zM113.8 96.4h0.7v0.7h-0.7zM237.7 113.8h0.7v0.7h-0.7zM181.9 117h0.7v0.7h-0.7zM86.8 79.5h0.7v0.7h-0.7zM167.7 80h0.7v0.7h-0.7zM146.8 95.5h0.7v0.7h-0.7zM177.4 124.4h0.7v0.7h-0.7zM261.9 121.8h0.7v0.7h-0.7zM113.8 79.5h0.7v0.7h-0.7zM83.8 90.1h0.7v0.7h-0.7zM272.4 107.3h0.7v0.7h-0.7zM121.1 109.3h0.7v0.7h-0.7zM132.3 120.2h0.7v0.7h-0.7zM210.4 94.7h0.7v0.7h-0.7zM250.6 116.7h0.7v0.7h-0.7zM267.4 120.4h0.7v0.7h-0.7zM118.3 112.6h0.7v0.7h-0.7zM267.6 84.8h0.7v0.7h-0.7zM227.3 82.8h0.7v0.7h-0.7zM162.5 94h0.7v0.7h-0.7zM85.6 113.7h0.7v0.7h-0.7zM248 113.8h0.7v0.7h-0.7zM95 113.8h0.7v0.7h-0.7zM254.7 125.5h0.7v0.7h-0.7zM189.9 88.2h0.7v0.7h-0.7zM245.4 124.4h0.7v0.7h-0.7zM65.3 91.4h0.7v0.7h-0.7zM254.6 117.1h0.7v0.7h-0.7zM278.5 118.1h0.7v0.7h-0.7zM81 108.3h0.7v0.7h-0.7zM202 118.2h0.7v0.7h-0.7zM170.5 121.8h0.7v0.7h-0.7zM87.8 89.1h0.7v0.7h-0.7zM132 87.6h0.7v0.7h-0.7zM148.3 121h0.7v0.7h-0.7zM161.7 112.4h0.7v0.7h-0.7zM221.3 78.9h0.7v0.7h-0.7zM201.7 80.9h0.7v0.7h-0.7zM106.1 82.9h0.7v0.7h-0.7z"/><path fill="#e5a0a0" fill-opacity="0.55" d="M198.9 124.6h0.7v0.7h-0.7zM78.3 108.3h0.7v0.7h-0.7zM112.1 124.5h0.7v0.7h-0.7zM130 84.8h0.7v0.7h-0.7zM111.5 90.4h0.7v0.7h-0.7zM121.6 91.6h0.7v0.7h-0.7zM278.6 95.6h0.7v0.7h-0.7zM252.6 115.7h0.7v0.7h-0.7zM200.8 95.3h0.7v0.7h-0.7zM149.3 88.1h0.7v0.7h-0.7zM78 117.7h0.7v0.7h-0.7zM277.8 81.2h0.7v0.7h-0.7zM183.3 110.1h0.7v0.7h-0.7zM187.6 89.5h0.7v0.7h-0.7zM231.6 93.3h0.7v0.7h-0.7zM198.5 84.4h0.7v0.7h-0.7zM62.6 89.2h0.7v0.7h-0.7zM94.3 113.9h0.7v0.7h-0.7zM104.9 80.8h0.7v0.7h-0.7zM212.4 109.8h0.7v0.7h-0.7zM260.5 80.9h0.7v0.7h-0.7zM132.9 109.5h0.7v0.7h-0.7zM139.6 81.6h0.7v0.7h-0.7zM144 96h0.7v0.7h-0.7zM166.5 116.8h0.7v0.7h-0.7zM168.8 110.2h0.7v0.7h-0.7zM62.2 91h0.7v0.7h-0.7zM264.1 87.7h0.7v0.7h-0.7zM81.3 114.7h0.7v0.7h-0.7zM117.7 119.7h0.7v0.7h-0.7zM125.7 112.6h0.7v0.7h-0.7zM96.1 92.5h0.7v0.7h-0.7z"/><path fill="#cfcfcf" fill-opacity="0.55" d="M84.3 118.4h0.7v0.7h-0.7zM143.6 108.2h0.7v0.7h-0.7zM215.4 124.4h0.7v0.7h-0.7zM127.5 112.5h0.7v0.7h-0.7zM117.6 87.8h0.7v0.7h-0.7zM66.7 126h0.7v0.7h-0.7zM183.1 92.4h0.7v0.7h-0.7zM96.6 119.1h0.7v0.7h-0.7zM220.9 94.4h0.7v0.7h-0.7zM208.8 120.9h0.7v0.7h-0.7zM63.6 120.3h0.7v0.7h-0.7zM128.5 95.5h0.7v0.7h-0.7zM140 115.7h0.7v0.7h-0.7zM219.6 122.8h0.7v0.7h-0.7zM198.8 94.6h0.7v0.7h-0.7zM94.9 108.7h0.7v0.7h-0.7zM201 95h0.7v0.7h-0.7zM68.7 79.5h0.7v0.7h-0.7zM276.4 116.5h0.7v0.7h-0.7zM123.7 94.4h0.7v0.7h-0.7zM211.2 107.2h0.7v0.7h-0.7zM202.3 110.4h0.7v0.7h-0.7zM76.1 83.8h0.7v0.7h-0.7zM123.6 94.4h0.7v0.7h-0.7zM149.2 93.8h0.7v0.7h-0.7zM145.7 85.8h0.7v0.7h-0.7zM278 111.8h0.7v0.7h-0.7zM145 118.1h0.7v0.7h-0.7zM132.3 95.9h0.7v0.7h-0.7zM81.2 97.5h0.7v0.7h-0.7zM143 94.8h0.7v0.7h-0.7zM244.3 82.9h0.7v0.7h-0.7zM249.7 88.2h0.7v0.7h-0.7zM263.1 112.9h0.7v0.7h-0.7zM249.9 82.3h0.7v0.7h-0.7zM266.3 112.1h0.7v0.7h-0.7zM183 115.4h0.7v0.7h-0.7zM186.8 79.2h0.7v0.7h-0.7zM74 111.7h0.7v0.7h-0.7zM246.3 85.2h0.7v0.7h-0.7zM175.6 82.7h0.7v0.7h-0.7zM129 90.4h0.7v0.7h-0.7zM179.3 96.4h0.7v0.7h-0.7zM132.7 91.6h0.7v0.7h-0.7zM147.5 80.1h0.7v0.7h-0.7z"/><path fill="#bbbbbb" fill-opacity="0.55" d="M180.9 125h0.7v0.7h-0.7zM185 115.7h0.7v0.7h-0.7zM260.5 82.7h0.7v0.7h-0.7zM69.5 122.2h0.7v0.7h-0.7zM78.1 90.9h0.7v0.7h-0.7zM78.6 94.3h0.7v0.7h-0.7zM71.9 85.5h0.7v0.7h-0.7zM235.3 89.9h0.7v0.7h-0.7zM172.1 121.4h0.7v0.7h-0.7zM279.8 85.7h0.7v0.7h-0.7zM266.8 94.8h0.7v0.7h-0.7zM189.5 82.3h0.7v0.7h-0.7zM136.5 85.1h0.7v0.7h-0.7zM201.8 122.8h0.7v0.7h-0.7zM217.2 118.6h0.7v0.7h-0.7zM82.4 86h0.7v0.7h-0.7zM223.2 121.8h0.7v0.7h-0.7zM177.5 95.3h0.7v0.7h-0.7zM158.5 119.8h0.7v0.7h-0.7zM151.6 122.6h0.7v0.7h-0.7zM108.3 81h0.7v0.7h-0.7zM232.4 119.9h0.7v0.7h-0.7zM211.7 117.1h0.7v0.7h-0.7zM138.4 88.8h0.7v0.7h-0.7zM221.8 91.6h0.7v0.7h-0.7zM77.7 116.8h0.7v0.7h-0.7zM166.1 89.1h0.7v0.7h-0.7zM239.7 90h0.7v0.7h-0.7zM95.3 110.3h0.7v0.7h-0.7zM194.7 90.8h0.7v0.7h-0.7zM242.2 110.7h0.7v0.7h-0.7zM161.3 118.1h0.7v0.7h-0.7zM240.5 120.4h0.7v0.7h-0.7zM128.6 84.8h0.7v0.7h-0.7zM205.4 112.6h0.7v0.7h-0.7zM141.9 117h0.7v0.7h-0.7zM221 88.3h0.7v0.7h-0.7zM65.1 113.1h0.7v0.7h-0.7zM96.7 115.8h0.7v0.7h-0.7zM154.8 120.2h0.7v0.7h-0.7zM261.3 94.1h0.7v0.7h-0.7zM95.2 116.9h0.7v0.7h-0.7zM213.7 88h0.7v0.7h-0.7z"/><path fill="#9aa8d8" fill-opacity="0.55" d="M185 122.5h0.7v0.7h-0.7zM98.7 114.3h0.7v0.7h-0.7zM242.4 84.4h0.7v0.7h-0.7zM240.4 95.5h0.7v0.7h-0.7zM116.7 126.4h0.7v0.7h-0.7zM269.3 79.2h0.7v0.7h-0.7zM71.5 86.6h0.7v0.7h-0.7zM200.7 95.9h0.7v0.7h-0.7zM210.9 93.1h0.7v0.7h-0.7zM218.4 94.6h0.7v0.7h-0.7zM150.5 97.5h0.7v0.7h-0.7zM93.4 113.1h0.7v0.7h-0.7zM131.8 86.9h0.7v0.7h-0.7zM181.4 114.9h0.7v0.7h-0.7zM177.7 118.8h0.7v0.7h-0.7zM184 83.3h0.7v0.7h-0.7zM101.7 123.6h0.7v0.7h-0.7zM238.3 122.4h0.7v0.7h-0.7zM114.8 95.5h0.7v0.7h-0.7zM227.9 109.4h0.7v0.7h-0.7zM250.6 120.2h0.7v0.7h-0.7zM270.5 85.1h0.7v0.7h-0.7zM252.6 90.5h0.7v0.7h-0.7zM157 85.2h0.7v0.7h-0.7zM274.9 79h0.7v0.7h-0.7zM84.9 79.5h0.7v0.7h-0.7zM270 91.3h0.7v0.7h-0.7zM276.6 120.5h0.7v0.7h-0.7zM120.2 110.2h0.7v0.7h-0.7zM263.9 115.2h0.7v0.7h-0.7zM76.4 114.8h0.7v0.7h-0.7zM88.9 85.9h0.7v0.7h-0.7zM94.7 111.1h0.7v0.7h-0.7zM101 113h0.7v0.7h-0.7zM262.3 90.8h0.7v0.7h-0.7zM271.4 92.4h0.7v0.7h-0.7zM142.2 112.7h0.7v0.7h-0.7zM143.4 110.4h0.7v0.7h-0.7zM149.8 80.4h0.7v0.7h-0.7zM237.2 119.6h0.7v0.7h-0.7zM170.9 110.8h0.7v0.7h-0.7zM152.6 110.1h0.7v0.7h-0.7zM71.1 118.6h0.7v0.7h-0.7zM227.7 120.5h0.7v0.7h-0.7zM216.5 113h0.7v0.7h-0.7zM210.3 84h0.7v0.7h-0.7z"/><path fill="#999" fill-opacity="0.5" d="M80.3 84.4h0.7v0.7h-0.7zM80.3 126.3h0.7v0.7h-0.7zM79.3 103.8h0.7v0.7h-0.7zM80 95.2h0.7v0.7h-0.7zM80.3 102.3h0.7v0.7h-0.7zM79.6 83h0.7v0.7h-0.7zM96.9 120h0.7v0.7h-0.7zM96.1 104.5h0.7v0.7h-0.7zM96.4 85.2h0.7v0.7h-0.7zM97.3 121.4h0.7v0.7h-0.7zM97.5 89.4h0.7v0.7h-0.7zM96.9 80.1h0.7v0.7h-0.7zM110.5 124.9h0.7v0.7h-0.7zM111 123.8h0.7v0.7h-0.7zM110.5 80.9h0.7v0.7h-0.7zM110.4 100.1h0.7v0.7h-0.7zM110.3 114.1h0.7v0.7h-0.7zM110.5 116.3h0.7v0.7h-0.7zM124.4 81.8h0.7v0.7h-0.7zM124.4 83.1h0.7v0.7h-0.7zM124.4 116.3h0.7v0.7h-0.7zM123.5 100.6h0.7v0.7h-0.7zM123.6 103.1h0.7v0.7h-0.7zM123.7 109.5h0.7v0.7h-0.7zM136.8 106.2h0.7v0.7h-0.7zM137.3 96.5h0.7v0.7h-0.7zM136.5 86.4h0.7v0.7h-0.7zM136.8 123.7h0.7v0.7h-0.7zM137.7 118.9h0.7v0.7h-0.7zM136.5 101.6h0.7v0.7h-0.7zM149.8 83h0.7v0.7h-0.7zM149.2 84.1h0.7v0.7h-0.7zM148.5 104.2h0.7v0.7h-0.7zM148.6 101h0.7v0.7h-0.7zM149.2 104.2h0.7v0.7h-0.7zM148.7 96.1h0.7v0.7h-0.7zM159.9 97.9h0.7v0.7h-0.7zM160 84.6h0.7v0.7h-0.7zM160.4 120.3h0.7v0.7h-0.7zM159.6 121.2h0.7v0.7h-0.7zM160.4 123.8h0.7v0.7h-0.7zM160.5 116.5h0.7v0.7h-0.7zM170.3 111.6h0.7v0.7h-0.7zM170.2 114.5h0.7v0.7h-0.7zM170 91.2h0.7v0.7h-0.7zM170.7 97.4h0.7v0.7h-0.7zM171.3 92.5h0.7v0.7h-0.7zM170.8 82.5h0.7v0.7h-0.7zM180.8 89.7h0.7v0.7h-0.7zM181 116.1h0.7v0.7h-0.7zM180.3 81.5h0.7v0.7h-0.7zM181.5 107.3h0.7v0.7h-0.7zM180.9 80.5h0.7v0.7h-0.7zM181.2 111.7h0.7v0.7h-0.7zM190.8 94.9h0.7v0.7h-0.7zM191 100.7h0.7v0.7h-0.7zM191 79h0.7v0.7h-0.7zM190.2 98.3h0.7v0.7h-0.7zM189.9 82.7h0.7v0.7h-0.7zM190.6 113.7h0.7v0.7h-0.7zM199.6 85.8h0.7v0.7h-0.7zM199.4 85.2h0.7v0.7h-0.7zM199.6 89h0.7v0.7h-0.7zM200.6 125.3h0.7v0.7h-0.7zM199.8 116.5h0.7v0.7h-0.7zM200.3 102.4h0.7v0.7h-0.7zM209.6 122.1h0.7v0.7h-0.7zM208.8 109h0.7v0.7h-0.7zM209.8 108.5h0.7v0.7h-0.7zM208.6 116.3h0.7v0.7h-0.7zM209 112.9h0.7v0.7h-0.7zM210 86.3h0.7v0.7h-0.7zM217.8 110.8h0.7v0.7h-0.7zM217.9 85h0.7v0.7h-0.7zM218 123.5h0.7v0.7h-0.7zM217.9 114.3h0.7v0.7h-0.7zM217.5 117h0.7v0.7h-0.7zM217.9 99.4h0.7v0.7h-0.7zM225.5 116.2h0.7v0.7h-0.7zM225.7 92.9h0.7v0.7h-0.7zM225.7 104h0.7v0.7h-0.7zM225.7 84.1h0.7v0.7h-0.7zM224.5 116.3h0.7v0.7h-0.7zM224.5 118.7h0.7v0.7h-0.7zM232.1 88h0.7v0.7h-0.7zM232.1 89.9h0.7v0.7h-0.7zM232.4 122.1h0.7v0.7h-0.7zM232 112.6h0.7v0.7h-0.7zM232.6 116.1h0.7v0.7h-0.7zM232.9 111.3h0.7v0.7h-0.7zM238.4 118.1h0.7v0.7h-0.7zM238.8 82.7h0.7v0.7h-0.7zM238.3 118.6h0.7v0.7h-0.7zM239 107.1h0.7v0.7h-0.7zM237.7 116.6h0.7v0.7h-0.7zM237.7 102h0.7v0.7h-0.7zM244.9 83.8h0.7v0.7h-0.7zM244.5 98.6h0.7v0.7h-0.7zM244.1 100.5h0.7v0.7h-0.7zM244.1 88.8h0.7v0.7h-0.7zM244.6 119h0.7v0.7h-0.7zM243.7 92.5h0.7v0.7h-0.7zM250.2 91.5h0.7v0.7h-0.7zM250.1 99.7h0.7v0.7h-0.7zM249.3 117.2h0.7v0.7h-0.7zM249.2 111.3h0.7v0.7h-0.7zM249.4 118h0.7v0.7h-0.7zM250.6 91.5h0.7v0.7h-0.7zM253.6 95.9h0.7v0.7h-0.7zM254.2 121.2h0.7v0.7h-0.7zM253.9 121.4h0.7v0.7h-0.7zM254.8 102.5h0.7v0.7h-0.7zM254.8 102.8h0.7v0.7h-0.7zM254.6 87.6h0.7v0.7h-0.7zM258.6 86.3h0.7v0.7h-0.7zM258 78.5h0.7v0.7h-0.7zM258.4 123.9h0.7v0.7h-0.7zM258.1 117.4h0.7v0.7h-0.7zM257.9 95.4h0.7v0.7h-0.7zM259.1 105h0.7v0.7h-0.7zM261.7 103.2h0.7v0.7h-0.7zM262.5 123.1h0.7v0.7h-0.7zM261.2 110.5h0.7v0.7h-0.7zM261.8 108.5h0.7v0.7h-0.7zM261.7 124.5h0.7v0.7h-0.7zM262.1 110.2h0.7v0.7h-0.7zM265.5 96.5h0.7v0.7h-0.7zM266.2 111h0.7v0.7h-0.7zM265.3 102.4h0.7v0.7h-0.7zM264.8 125.4h0.7v0.7h-0.7zM265.8 118.6h0.7v0.7h-0.7zM265.4 105.3h0.7v0.7h-0.7zM277.1 114.6h0.7v0.7h-0.7zM276.9 113.5h0.7v0.7h-0.7zM276.2 80.2h0.7v0.7h-0.7zM277.2 85.1h0.7v0.7h-0.7zM275.9 121.3h0.7v0.7h-0.7zM276.6 106.7h0.7v0.7h-0.7z"/><rect x="65.5" y="98.6" width="94.5" height="7.4" fill="#9acc52" /><rect x="165" y="98.6" width="13.8" height="7.4" fill="#9acc52" /><rect x="186.6" y="98.6" width="22.1" height="7.4" fill="#9acc52" /><rect x="215.4" y="98.6" width="17.6" height="7.4" fill="#9acc52" /><rect x="236.4" y="98.6" width="30.9" height="7.4" fill="#9acc52" /><rect x="160" y="102" width="5" height="9" fill="#3446a6" /><rect x="178.8" y="100.5" width="7.8" height="10" fill="#3446a6" /><rect x="208.7" y="101" width="6.7" height="10" fill="#3446a6" /><rect x="233" y="100" width="3.4" height="11" fill="#3446a6" /><rect x="267.3" y="101.7" width="12.2" height="12.1" fill="#3446a6" /><rect x="62" y="96" width="3.5" height="8" fill="#c9752a" /><path fill="#d42a2a" fill-opacity="0.85" d="M79.8 100.1 L79.9 91.1 L80.5 87.7 L80.7 85 L80.9 85.4 L81.1 88.4 L81.5 91.8 L81.7 100.1Z"/><path fill="#d42a2a" fill-opacity="0.85" d="M86.6 100.1 L86.8 87.3 L87.3 82.1 L87.6 78 L87.9 79.5 L88.1 83.2 L88.3 88.3 L88.8 100.1Z"/><path fill="#d42a2a" fill-opacity="0.85" d="M93.2 100.1 L93.3 88.4 L93.9 83.7 L94.1 80 L94.3 80.8 L94.5 84.7 L94.9 89.3 L95.1 100.1Z"/><path fill="#d42a2a" fill-opacity="0.85" d="M121.8 100.1 L122.1 87.3 L122.5 82.1 L122.7 78 L122.9 78.6 L123.1 83.2 L123.4 88.3 L123.7 100.1Z"/><path fill="#d42a2a" fill-opacity="0.85" d="M123.3 100.1 L123.7 88.6 L124 84.1 L124.2 80.5 L124.4 82.1 L124.6 85 L125 89.5 L125.2 100.1Z"/><path fill="#d42a2a" fill-opacity="0.85" d="M159.6 100.1 L159.7 87.3 L160.4 82.1 L160.6 78 L160.9 78.6 L161.2 83.2 L161.4 88.3 L161.8 100.1Z"/><path fill="#d42a2a" fill-opacity="0.85" d="M161.4 100.1 L161.7 91.7 L162.2 88.6 L162.5 86.1 L162.7 87.5 L163 89.2 L163.3 92.3 L163.7 100.1Z"/><path fill="#d42a2a" fill-opacity="0.85" d="M163.3 100.1 L163.6 91 L164 87.5 L164.3 84.8 L164.6 85 L164.8 88.2 L165.2 91.7 L165.5 100.1Z"/><path fill="#d42a2a" fill-opacity="0.85" d="M173.1 100.1 L173.5 87.3 L173.9 82.1 L174.2 78 L174.5 79.5 L174.7 83.2 L175.1 88.3 L175.4 100.1Z"/><path fill="#d42a2a" fill-opacity="0.85" d="M175 100.1 L175.2 92 L175.8 89 L176.1 86.6 L176.4 86.9 L176.7 89.6 L177.2 92.6 L177.4 100.1Z"/><path fill="#d42a2a" fill-opacity="0.85" d="M177 100.1 L177.1 87.9 L177.7 83 L178 79.1 L178.3 80.1 L178.6 84 L178.9 88.9 L179.3 100.1Z"/><path fill="#d42a2a" fill-opacity="0.85" d="M178.9 100.1 L179.3 88.1 L179.7 83.3 L179.9 79.5 L180.2 80.5 L180.5 84.3 L181 89.1 L181.2 100.1Z"/><path fill="#d42a2a" fill-opacity="0.85" d="M199.8 100.1 L200.2 87.3 L200.5 82.1 L200.8 78 L201.1 78.7 L201.3 83.2 L201.9 88.3 L202 100.1Z"/><path fill="#d42a2a" fill-opacity="0.85" d="M238.4 100.1 L238.8 87.3 L239 82.1 L239.1 78 L239.3 79.3 L239.5 83.2 L239.8 88.3 L240 100.1Z"/><path fill="#d42a2a" fill-opacity="0.85" d="M251.7 100.1 L252.2 88.4 L252.6 83.7 L252.9 80 L253.2 81.2 L253.6 84.7 L254.1 89.3 L254.3 100.1Z"/><path fill="#d42a2a" fill-opacity="0.85" d="M253.9 100.1 L254.1 88.4 L254.8 83.8 L255.1 80.1 L255.4 80.5 L255.8 84.7 L256.3 89.4 L256.5 100.1Z"/><path fill="#d42a2a" fill-opacity="0.85" d="M256.1 100.1 L256.6 88.8 L257 84.4 L257.3 80.9 L257.6 81.4 L257.9 85.3 L258.5 89.7 L258.7 100.1Z"/><path fill="#d42a2a" fill-opacity="0.85" d="M258.3 100.1 L258.5 90.7 L259.2 87.2 L259.5 84.3 L259.8 86.2 L260.1 87.9 L260.6 91.5 L260.9 100.1Z"/><path fill="#a9d46c" fill-opacity="0.7" d="M69.9 98.1h0.8v1h-0.8zM69.9 105.5h0.8v1.6h-0.8zM92 97.9h0.8v1h-0.8zM92 105.7h0.8v1.5h-0.8zM105.3 97.7h0.8v1h-0.8zM105.3 105.5h0.8v1.8h-0.8zM129.4 98.1h0.8v1h-0.8zM129.4 105.4h0.8v1.7h-0.8zM130.8 98.2h0.8v1h-0.8zM130.8 105.7h0.8v1.5h-0.8zM143.5 97.8h0.8v1h-0.8zM143.5 105.7h0.8v1h-0.8zM114.3 97.8h0.8v1h-0.8zM114.3 105.7h0.8v1.7h-0.8zM81.6 98.2h0.8v1h-0.8zM81.6 105.8h0.8v1.2h-0.8zM101.7 97.7h0.8v1h-0.8zM101.7 105.4h0.8v1h-0.8zM94.7 97.7h0.8v1h-0.8zM94.7 105.7h0.8v1.2h-0.8zM106.9 98.3h0.8v1h-0.8zM106.9 105.7h0.8v1.3h-0.8zM101.9 97.7h0.8v1h-0.8zM101.9 105.7h0.8v1h-0.8zM151.4 98.1h0.8v1h-0.8zM151.4 105.5h0.8v1.6h-0.8zM139.1 98.2h0.8v1h-0.8zM139.1 105.7h0.8v1.7h-0.8zM109.9 98h0.8v1h-0.8zM109.9 105.5h0.8v1.7h-0.8zM91.5 98.1h0.8v1h-0.8zM91.5 105.4h0.8v1.4h-0.8zM92.8 98h0.8v1h-0.8zM92.8 105.7h0.8v1.7h-0.8zM69.4 97.8h0.8v1h-0.8zM69.4 105.6h0.8v1.2h-0.8zM154.3 98.2h0.8v1h-0.8zM154.3 105.7h0.8v0.9h-0.8zM117.3 97.9h0.8v1h-0.8zM117.3 105.5h0.8v1.3h-0.8zM141.8 98.3h0.8v1h-0.8zM141.8 105.7h0.8v1.6h-0.8zM156.9 98h0.8v1h-0.8zM156.9 105.5h0.8v1.7h-0.8zM102.8 97.7h0.8v1h-0.8zM102.8 105.5h0.8v1.2h-0.8zM102.6 97.8h0.8v1h-0.8zM102.6 105.7h0.8v1h-0.8zM147.9 98h0.8v1h-0.8zM147.9 105.6h0.8v1.6h-0.8zM150.7 98.3h0.8v1h-0.8zM150.7 105.7h0.8v0.9h-0.8zM104.5 98h0.8v1h-0.8zM104.5 105.5h0.8v1.6h-0.8zM120.1 98.1h0.8v1h-0.8zM120.1 105.6h0.8v1.1h-0.8zM145.3 97.8h0.8v1h-0.8zM145.3 105.5h0.8v1h-0.8zM129 97.9h0.8v1h-0.8zM129 105.6h0.8v1.9h-0.8zM150.4 97.9h0.8v1h-0.8zM150.4 105.5h0.8v1.6h-0.8zM148.5 98.3h0.8v1h-0.8zM148.5 105.5h0.8v1.6h-0.8zM123.4 98.2h0.8v1h-0.8zM123.4 105.8h0.8v1.5h-0.8zM143.4 98.2h0.8v1h-0.8zM143.4 105.7h0.8v1.1h-0.8zM74.4 97.9h0.8v1h-0.8zM74.4 105.4h0.8v1.8h-0.8zM99.5 97.9h0.8v1h-0.8zM99.5 105.8h0.8v1.8h-0.8zM96.2 98.4h0.8v1h-0.8zM96.2 105.5h0.8v1h-0.8zM91.5 98.4h0.8v1h-0.8zM91.5 105.6h0.8v1.5h-0.8zM141.8 98.4h0.8v1h-0.8zM141.8 105.5h0.8v0.9h-0.8zM86.7 98h0.8v1h-0.8zM86.7 105.7h0.8v1.2h-0.8zM119.2 98.2h0.8v1h-0.8zM119.2 105.5h0.8v1.1h-0.8zM144.8 97.8h0.8v1h-0.8zM144.8 105.6h0.8v0.8h-0.8zM139 98.4h0.8v1h-0.8zM139 105.6h0.8v1.3h-0.8zM71.5 98h0.8v1h-0.8zM71.5 105.5h0.8v1.5h-0.8zM103.3 98h0.8v1h-0.8zM103.3 105.6h0.8v1.1h-0.8zM147.5 97.7h0.8v1h-0.8zM147.5 105.5h0.8v2h-0.8zM96.6 97.7h0.8v1h-0.8zM96.6 105.8h0.8v1.4h-0.8zM78.1 98.1h0.8v1h-0.8zM78.1 105.5h0.8v1.7h-0.8zM108.5 98.2h0.8v1h-0.8zM108.5 105.7h0.8v1.3h-0.8zM92.2 98.3h0.8v1h-0.8zM92.2 105.5h0.8v1.4h-0.8zM106.9 98.3h0.8v1h-0.8zM106.9 105.5h0.8v1h-0.8zM90.6 98h0.8v1h-0.8zM90.6 105.5h0.8v2h-0.8zM136.2 97.7h0.8v1h-0.8zM136.2 105.4h0.8v1.7h-0.8zM133.5 98.4h0.8v1h-0.8zM133.5 105.7h0.8v0.8h-0.8zM147.1 97.9h0.8v1h-0.8zM147.1 105.5h0.8v1.1h-0.8zM99.1 98.3h0.8v1h-0.8zM99.1 105.5h0.8v2h-0.8zM94.4 98.4h0.8v1h-0.8zM94.4 105.7h0.8v1.2h-0.8zM150.5 97.8h0.8v1h-0.8zM150.5 105.6h0.8v0.9h-0.8zM75.6 98.3h0.8v1h-0.8zM75.6 105.5h0.8v1.4h-0.8zM159.1 97.8h0.8v1h-0.8zM159.1 105.5h0.8v1.4h-0.8zM143.2 98.3h0.8v1h-0.8zM143.2 105.8h0.8v1.5h-0.8zM113.5 98.3h0.8v1h-0.8zM113.5 105.7h0.8v0.8h-0.8zM151.4 97.9h0.8v1h-0.8zM151.4 105.4h0.8v2h-0.8zM106.8 97.9h0.8v1h-0.8zM106.8 105.6h0.8v1.8h-0.8zM145 98.3h0.8v1h-0.8zM145 105.8h0.8v1.1h-0.8zM120.8 98.1h0.8v1h-0.8zM120.8 105.8h0.8v1.8h-0.8zM139.8 98.1h0.8v1h-0.8zM139.8 105.8h0.8v1.9h-0.8zM116 98.4h0.8v1h-0.8zM116 105.7h0.8v1.5h-0.8zM149.2 98.1h0.8v1h-0.8zM149.2 105.5h0.8v1h-0.8zM88.5 97.8h0.8v1h-0.8zM88.5 105.6h0.8v0.9h-0.8zM121.4 98.3h0.8v1h-0.8zM121.4 105.7h0.8v1.3h-0.8zM120.8 98h0.8v1h-0.8zM120.8 105.5h0.8v1.3h-0.8zM71.9 97.9h0.8v1h-0.8zM71.9 105.8h0.8v1.4h-0.8zM103.3 97.9h0.8v1h-0.8zM103.3 105.5h0.8v1.1h-0.8zM126.9 97.9h0.8v1h-0.8zM126.9 105.6h0.8v1h-0.8zM151.4 98h0.8v1h-0.8zM151.4 105.8h0.8v1.1h-0.8zM158.8 98.2h0.8v1h-0.8zM158.8 105.6h0.8v1.7h-0.8zM143.4 98h0.8v1h-0.8zM143.4 105.5h0.8v0.8h-0.8zM74.4 97.7h0.8v1h-0.8zM74.4 105.5h0.8v0.8h-0.8zM70.1 98.2h0.8v1h-0.8zM70.1 105.4h0.8v1.1h-0.8zM129 97.7h0.8v1h-0.8zM129 105.5h0.8v1.9h-0.8zM90.3 98.3h0.8v1h-0.8zM90.3 105.8h0.8v1.7h-0.8zM75.3 97.7h0.8v1h-0.8zM75.3 105.5h0.8v1h-0.8zM141.8 98.3h0.8v1h-0.8zM141.8 105.6h0.8v0.9h-0.8zM139.9 97.8h0.8v1h-0.8zM139.9 105.4h0.8v0.8h-0.8zM146 98h0.8v1h-0.8zM146 105.5h0.8v1.4h-0.8zM124.1 98h0.8v1h-0.8zM124.1 105.5h0.8v0.9h-0.8zM70.6 98h0.8v1h-0.8zM70.6 105.7h0.8v1.3h-0.8zM66.2 97.9h0.8v1h-0.8zM66.2 105.8h0.8v1.8h-0.8zM142.2 98.1h0.8v1h-0.8zM142.2 105.8h0.8v1.6h-0.8zM85.1 98.1h0.8v1h-0.8zM85.1 105.8h0.8v2h-0.8zM117.1 98.2h0.8v1h-0.8zM117.1 105.8h0.8v1.7h-0.8zM145.8 97.8h0.8v1h-0.8zM145.8 105.8h0.8v1.2h-0.8zM94.1 97.9h0.8v1h-0.8zM94.1 105.7h0.8v1.5h-0.8zM158 97.9h0.8v1h-0.8zM158 105.8h0.8v0.9h-0.8zM76.2 97.9h0.8v1h-0.8zM76.2 105.6h0.8v1.4h-0.8zM108.6 98.1h0.8v1h-0.8zM108.6 105.6h0.8v1.6h-0.8zM152.1 97.9h0.8v1h-0.8zM152.1 105.5h0.8v1.9h-0.8zM144.6 97.9h0.8v1h-0.8zM144.6 105.8h0.8v1.6h-0.8zM145.8 98.1h0.8v1h-0.8zM145.8 105.4h0.8v1h-0.8zM154.6 98.1h0.8v1h-0.8zM154.6 105.5h0.8v1.1h-0.8zM93.9 98.2h0.8v1h-0.8zM93.9 105.7h0.8v0.9h-0.8zM107.4 97.7h0.8v1h-0.8zM107.4 105.5h0.8v1.9h-0.8zM137.5 97.8h0.8v1h-0.8zM137.5 105.4h0.8v1.7h-0.8zM91.4 98.2h0.8v1h-0.8zM91.4 105.6h0.8v0.8h-0.8zM87.3 97.8h0.8v1h-0.8zM87.3 105.4h0.8v1.2h-0.8zM138.3 97.9h0.8v1h-0.8zM138.3 105.4h0.8v1.8h-0.8zM115.8 98.3h0.8v1h-0.8zM115.8 105.5h0.8v1.2h-0.8zM124.7 98.1h0.8v1h-0.8zM124.7 105.6h0.8v2h-0.8zM80.7 98h0.8v1h-0.8zM80.7 105.5h0.8v1.4h-0.8zM154.1 98.1h0.8v1h-0.8zM154.1 105.4h0.8v1.6h-0.8zM156.9 98.3h0.8v1h-0.8zM156.9 105.7h0.8v1.1h-0.8zM151.2 98.4h0.8v1h-0.8zM151.2 105.7h0.8v1.7h-0.8zM159 98.3h0.8v1h-0.8zM159 105.6h0.8v1.6h-0.8zM130.8 97.9h0.8v1h-0.8zM130.8 105.5h0.8v1.1h-0.8zM89.8 98.4h0.8v1h-0.8zM89.8 105.5h0.8v1.1h-0.8zM90 97.7h0.8v1h-0.8zM90 105.5h0.8v1.5h-0.8zM127.5 98h0.8v1h-0.8zM127.5 105.5h0.8v1.2h-0.8zM71.5 98.4h0.8v1h-0.8zM71.5 105.8h0.8v1.2h-0.8zM78.9 98.3h0.8v1h-0.8zM78.9 105.6h0.8v2h-0.8zM130.5 98.2h0.8v1h-0.8zM130.5 105.5h0.8v1h-0.8zM75 98.2h0.8v1h-0.8zM75 105.6h0.8v1.6h-0.8zM107.5 97.9h0.8v1h-0.8zM107.5 105.8h0.8v1.9h-0.8zM97.9 97.8h0.8v1h-0.8zM97.9 105.8h0.8v1.8h-0.8zM86.9 97.8h0.8v1h-0.8zM86.9 105.5h0.8v1.6h-0.8zM91.7 98.4h0.8v1h-0.8zM91.7 105.7h0.8v1.9h-0.8zM80.4 97.9h0.8v1h-0.8zM80.4 105.6h0.8v1.6h-0.8zM82.6 98.3h0.8v1h-0.8zM82.6 105.8h0.8v2h-0.8zM101.7 97.9h0.8v1h-0.8zM101.7 105.6h0.8v1.1h-0.8zM71.6 98.4h0.8v1h-0.8zM71.6 105.5h0.8v1h-0.8zM156.5 98.1h0.8v1h-0.8zM156.5 105.5h0.8v1h-0.8zM140 98.2h0.8v1h-0.8zM140 105.7h0.8v1.4h-0.8zM76 98.2h0.8v1h-0.8zM76 105.5h0.8v1.1h-0.8zM101.5 97.9h0.8v1h-0.8zM101.5 105.7h0.8v1h-0.8zM86.2 98.1h0.8v1h-0.8zM86.2 105.7h0.8v1.6h-0.8zM110.1 97.8h0.8v1h-0.8zM110.1 105.8h0.8v1.6h-0.8zM144.5 98.2h0.8v1h-0.8zM144.5 105.8h0.8v1.3h-0.8zM76.4 98.1h0.8v1h-0.8zM76.4 105.5h0.8v0.9h-0.8zM76.6 98.1h0.8v1h-0.8zM76.6 105.7h0.8v1.1h-0.8zM107.1 98.3h0.8v1h-0.8zM107.1 105.8h0.8v1.2h-0.8zM109.8 97.7h0.8v1h-0.8zM109.8 105.6h0.8v0.9h-0.8zM168.1 97.9h0.8v1h-0.8zM168.1 105.6h0.8v1.8h-0.8zM178.3 97.8h0.8v1h-0.8zM178.3 105.8h0.8v1.9h-0.8zM172.2 98.2h0.8v1h-0.8zM172.2 105.7h0.8v1.8h-0.8zM167.9 98.3h0.8v1h-0.8zM167.9 105.7h0.8v1.9h-0.8zM171.4 97.9h0.8v1h-0.8zM171.4 105.8h0.8v1.3h-0.8zM169.4 98.3h0.8v1h-0.8zM169.4 105.5h0.8v1.2h-0.8zM166.7 97.7h0.8v1h-0.8zM166.7 105.6h0.8v1h-0.8zM165.2 97.9h0.8v1h-0.8zM165.2 105.6h0.8v0.8h-0.8zM171.5 97.9h0.8v1h-0.8zM171.5 105.6h0.8v1.1h-0.8zM171.9 98h0.8v1h-0.8zM171.9 105.5h0.8v1h-0.8zM176.1 97.7h0.8v1h-0.8zM176.1 105.5h0.8v1.8h-0.8zM170.1 97.8h0.8v1h-0.8zM170.1 105.7h0.8v1.1h-0.8zM173.3 97.8h0.8v1h-0.8zM173.3 105.8h0.8v1.1h-0.8zM165.5 98.1h0.8v1h-0.8zM165.5 105.7h0.8v1h-0.8zM175.3 98h0.8v1h-0.8zM175.3 105.4h0.8v1.3h-0.8zM174.4 98.4h0.8v1h-0.8zM174.4 105.4h0.8v1.1h-0.8zM171.6 98h0.8v1h-0.8zM171.6 105.4h0.8v1.4h-0.8zM178.7 98h0.8v1h-0.8zM178.7 105.7h0.8v1.8h-0.8zM167.8 97.7h0.8v1h-0.8zM167.8 105.6h0.8v1.1h-0.8zM178.3 98.2h0.8v1h-0.8zM178.3 105.6h0.8v1.2h-0.8zM201.4 98.4h0.8v1h-0.8zM201.4 105.7h0.8v1h-0.8zM204.9 98.4h0.8v1h-0.8zM204.9 105.6h0.8v1.1h-0.8zM196.6 98h0.8v1h-0.8zM196.6 105.5h0.8v1h-0.8zM191.9 98.3h0.8v1h-0.8zM191.9 105.4h0.8v1h-0.8zM189.6 98h0.8v1h-0.8zM189.6 105.6h0.8v1.9h-0.8zM187.9 98.2h0.8v1h-0.8zM187.9 105.7h0.8v1.5h-0.8zM196.6 98.1h0.8v1h-0.8zM196.6 105.4h0.8v1.6h-0.8zM205.6 97.7h0.8v1h-0.8zM205.6 105.7h0.8v1.9h-0.8zM195.6 98.4h0.8v1h-0.8zM195.6 105.4h0.8v0.9h-0.8zM187 98.2h0.8v1h-0.8zM187 105.7h0.8v2h-0.8zM205.8 98.1h0.8v1h-0.8zM205.8 105.6h0.8v1.8h-0.8zM204.4 97.9h0.8v1h-0.8zM204.4 105.6h0.8v0.9h-0.8zM192 97.9h0.8v1h-0.8zM192 105.6h0.8v1.8h-0.8zM206.5 97.7h0.8v1h-0.8zM206.5 105.7h0.8v0.9h-0.8zM206.4 98h0.8v1h-0.8zM206.4 105.7h0.8v1.6h-0.8zM192.3 98.2h0.8v1h-0.8zM192.3 105.7h0.8v1.4h-0.8zM201.6 98.3h0.8v1h-0.8zM201.6 105.5h0.8v1.5h-0.8zM197 97.9h0.8v1h-0.8zM197 105.5h0.8v0.8h-0.8zM197.1 97.9h0.8v1h-0.8zM197.1 105.5h0.8v1.6h-0.8zM190.6 97.7h0.8v1h-0.8zM190.6 105.5h0.8v1.1h-0.8zM196.1 97.7h0.8v1h-0.8zM196.1 105.7h0.8v1.3h-0.8zM207.9 97.8h0.8v1h-0.8zM207.9 105.7h0.8v1.7h-0.8zM194.5 97.9h0.8v1h-0.8zM194.5 105.5h0.8v1h-0.8zM191.5 98.2h0.8v1h-0.8zM191.5 105.7h0.8v0.8h-0.8zM189.6 98.1h0.8v1h-0.8zM189.6 105.6h0.8v0.9h-0.8zM199.5 97.7h0.8v1h-0.8zM199.5 105.6h0.8v1.2h-0.8zM202.2 98.1h0.8v1h-0.8zM202.2 105.7h0.8v1.4h-0.8zM187 97.9h0.8v1h-0.8zM187 105.7h0.8v1.2h-0.8zM207.9 97.9h0.8v1h-0.8zM207.9 105.5h0.8v1.6h-0.8zM200.6 97.9h0.8v1h-0.8zM200.6 105.4h0.8v1h-0.8zM203.5 98.2h0.8v1h-0.8zM203.5 105.7h0.8v1.8h-0.8zM199.9 97.8h0.8v1h-0.8zM199.9 105.4h0.8v1.5h-0.8zM191 98.4h0.8v1h-0.8zM191 105.6h0.8v1.7h-0.8zM220.2 98.4h0.8v1h-0.8zM220.2 105.8h0.8v1h-0.8zM227.6 98.4h0.8v1h-0.8zM227.6 105.7h0.8v1.1h-0.8zM227.9 97.7h0.8v1h-0.8zM227.9 105.8h0.8v0.9h-0.8zM231.8 97.7h0.8v1h-0.8zM231.8 105.7h0.8v1.2h-0.8zM224.6 98.2h0.8v1h-0.8zM224.6 105.6h0.8v1.4h-0.8zM219.9 98.4h0.8v1h-0.8zM219.9 105.8h0.8v1h-0.8zM217 98h0.8v1h-0.8zM217 105.5h0.8v1.1h-0.8zM229.3 97.9h0.8v1h-0.8zM229.3 105.7h0.8v1.4h-0.8zM218.7 97.7h0.8v1h-0.8zM218.7 105.6h0.8v0.9h-0.8zM218.1 97.9h0.8v1h-0.8zM218.1 105.6h0.8v1.7h-0.8zM219.4 97.8h0.8v1h-0.8zM219.4 105.5h0.8v0.9h-0.8zM225.7 98.3h0.8v1h-0.8zM225.7 105.5h0.8v1.8h-0.8zM229.3 98.2h0.8v1h-0.8zM229.3 105.8h0.8v1.6h-0.8zM225.3 98.3h0.8v1h-0.8zM225.3 105.7h0.8v1.5h-0.8zM217.3 98h0.8v1h-0.8zM217.3 105.7h0.8v1.1h-0.8zM222.9 98h0.8v1h-0.8zM222.9 105.5h0.8v0.8h-0.8zM228.1 98.2h0.8v1h-0.8zM228.1 105.7h0.8v1.6h-0.8zM227.6 98h0.8v1h-0.8zM227.6 105.4h0.8v1h-0.8zM220.9 97.9h0.8v1h-0.8zM220.9 105.7h0.8v1h-0.8zM219.4 97.9h0.8v1h-0.8zM219.4 105.5h0.8v1.7h-0.8zM232.3 97.8h0.8v1h-0.8zM232.3 105.7h0.8v1.2h-0.8zM228.1 98.4h0.8v1h-0.8zM228.1 105.6h0.8v0.9h-0.8zM216.3 98h0.8v1h-0.8zM216.3 105.7h0.8v1.9h-0.8zM230.8 98.1h0.8v1h-0.8zM230.8 105.7h0.8v0.9h-0.8zM224.3 98h0.8v1h-0.8zM224.3 105.7h0.8v1.7h-0.8zM224.7 97.9h0.8v1h-0.8zM224.7 105.8h0.8v0.9h-0.8zM248.4 98.1h0.8v1h-0.8zM248.4 105.7h0.8v1.6h-0.8zM243.3 98.2h0.8v1h-0.8zM243.3 105.6h0.8v1.7h-0.8zM260.2 98.1h0.8v1h-0.8zM260.2 105.6h0.8v1.9h-0.8zM265.3 98h0.8v1h-0.8zM265.3 105.8h0.8v1.3h-0.8zM256.1 98.2h0.8v1h-0.8zM256.1 105.8h0.8v2h-0.8zM264.5 98.3h0.8v1h-0.8zM264.5 105.6h0.8v1.5h-0.8zM245.7 98.4h0.8v1h-0.8zM245.7 105.5h0.8v1.7h-0.8zM249.9 98.3h0.8v1h-0.8zM249.9 105.6h0.8v0.9h-0.8zM266.2 98.4h0.8v1h-0.8zM266.2 105.7h0.8v1.7h-0.8zM240.6 98.3h0.8v1h-0.8zM240.6 105.8h0.8v1h-0.8zM252.8 97.8h0.8v1h-0.8zM252.8 105.7h0.8v1h-0.8zM260 98.1h0.8v1h-0.8zM260 105.7h0.8v0.9h-0.8zM243.9 97.7h0.8v1h-0.8zM243.9 105.8h0.8v1.1h-0.8zM259.3 97.8h0.8v1h-0.8zM259.3 105.4h0.8v1.4h-0.8zM266 98h0.8v1h-0.8zM266 105.7h0.8v1.4h-0.8zM258.5 97.9h0.8v1h-0.8zM258.5 105.7h0.8v1h-0.8zM266 98.3h0.8v1h-0.8zM266 105.5h0.8v1.2h-0.8zM244.1 98.2h0.8v1h-0.8zM244.1 105.6h0.8v2h-0.8zM241 97.8h0.8v1h-0.8zM241 105.7h0.8v1h-0.8zM259.4 98.2h0.8v1h-0.8zM259.4 105.7h0.8v1.3h-0.8zM261.8 97.8h0.8v1h-0.8zM261.8 105.6h0.8v0.8h-0.8zM260 98h0.8v1h-0.8zM260 105.4h0.8v1.9h-0.8zM246.5 97.8h0.8v1h-0.8zM246.5 105.5h0.8v1.1h-0.8zM247.7 98.1h0.8v1h-0.8zM247.7 105.7h0.8v1.3h-0.8zM239.8 98.2h0.8v1h-0.8zM239.8 105.4h0.8v1.3h-0.8zM256 97.8h0.8v1h-0.8zM256 105.5h0.8v1.1h-0.8zM264.8 97.8h0.8v1h-0.8zM264.8 105.4h0.8v1.7h-0.8zM259.7 97.8h0.8v1h-0.8zM259.7 105.7h0.8v1.6h-0.8zM248.2 97.8h0.8v1h-0.8zM248.2 105.7h0.8v1.4h-0.8zM246.8 97.8h0.8v1h-0.8zM246.8 105.7h0.8v1.8h-0.8zM262.6 97.8h0.8v1h-0.8zM262.6 105.7h0.8v1.9h-0.8zM259.4 97.9h0.8v1h-0.8zM259.4 105.5h0.8v0.9h-0.8zM263.3 98h0.8v1h-0.8zM263.3 105.6h0.8v1.2h-0.8zM260.6 97.9h0.8v1h-0.8zM260.6 105.5h0.8v1.1h-0.8zM246.9 98.2h0.8v1h-0.8zM246.9 105.8h0.8v1.2h-0.8zM237.2 97.8h0.8v1h-0.8zM237.2 105.7h0.8v0.9h-0.8zM238.5 97.9h0.8v1h-0.8zM238.5 105.7h0.8v1.4h-0.8zM248.8 97.8h0.8v1h-0.8zM248.8 105.4h0.8v1.2h-0.8zM255.9 97.8h0.8v1h-0.8zM255.9 105.6h0.8v1.9h-0.8zM259.1 98.2h0.8v1h-0.8zM259.1 105.5h0.8v1.5h-0.8zM239.7 98h0.8v1h-0.8zM239.7 105.5h0.8v1.4h-0.8zM251.4 98.1h0.8v1h-0.8zM251.4 105.4h0.8v1.6h-0.8zM242.8 98.1h0.8v1h-0.8zM242.8 105.7h0.8v2h-0.8zM257.9 98.3h0.8v1h-0.8zM257.9 105.4h0.8v0.8h-0.8zM254.7 98.1h0.8v1h-0.8zM254.7 105.5h0.8v1.3h-0.8zM239.3 98h0.8v1h-0.8zM239.3 105.5h0.8v1.7h-0.8z"/><path fill="#4a5fb8" fill-opacity="0.6" d="M161.8 111.7h0.8v1h-0.8zM161.8 100.5h0.8v1h-0.8zM164 111.7h0.8v1h-0.8zM164 100.2h0.8v1h-0.8zM165 112.3h0.8v1h-0.8zM165 101.2h0.8v1h-0.8zM163.5 113.8h0.8v1h-0.8zM163.5 101.6h0.8v1h-0.8zM161.5 112h0.8v1h-0.8zM161.5 100.5h0.8v1h-0.8zM160.9 112.6h0.8v1h-0.8zM160.9 101h0.8v1h-0.8zM163.3 111.4h0.8v1h-0.8zM163.3 100.1h0.8v1h-0.8zM165 112.7h0.8v1h-0.8zM165 100.4h0.8v1h-0.8zM160.9 113.7h0.8v1h-0.8zM160.9 100.9h0.8v1h-0.8zM163.8 113.6h0.8v1h-0.8zM163.8 101.3h0.8v1h-0.8zM186 111.1h0.8v1h-0.8zM186 100.5h0.8v1h-0.8zM182.7 113.2h0.8v1h-0.8zM182.7 98.7h0.8v1h-0.8zM186.2 112h0.8v1h-0.8zM186.2 98.6h0.8v1h-0.8zM183.2 110.9h0.8v1h-0.8zM183.2 99.2h0.8v1h-0.8zM185.1 111.8h0.8v1h-0.8zM185.1 99.3h0.8v1h-0.8zM180.8 111.3h0.8v1h-0.8zM180.8 99.7h0.8v1h-0.8zM182.8 111.9h0.8v1h-0.8zM182.8 100.3h0.8v1h-0.8zM178.8 111.5h0.8v1h-0.8zM178.8 99.1h0.8v1h-0.8zM184.6 111.2h0.8v1h-0.8zM184.6 100h0.8v1h-0.8zM182.8 111h0.8v1h-0.8zM182.8 99.3h0.8v1h-0.8zM185.9 111.1h0.8v1h-0.8zM185.9 99.3h0.8v1h-0.8zM184.4 112.7h0.8v1h-0.8zM184.4 99.1h0.8v1h-0.8zM184.3 111.3h0.8v1h-0.8zM184.3 98.8h0.8v1h-0.8zM186 110.7h0.8v1h-0.8zM186 98.6h0.8v1h-0.8zM182.3 110.8h0.8v1h-0.8zM182.3 100.4h0.8v1h-0.8zM214 113h0.8v1h-0.8zM214 100.7h0.8v1h-0.8zM211.8 112.9h0.8v1h-0.8zM211.8 99h0.8v1h-0.8zM211 113.3h0.8v1h-0.8zM211 100.5h0.8v1h-0.8zM210 111.5h0.8v1h-0.8zM210 100.2h0.8v1h-0.8zM212.8 111.9h0.8v1h-0.8zM212.8 100.7h0.8v1h-0.8zM210.2 111.3h0.8v1h-0.8zM210.2 100.6h0.8v1h-0.8zM210.8 112.5h0.8v1h-0.8zM210.8 100.6h0.8v1h-0.8zM211.9 112.3h0.8v1h-0.8zM211.9 99.1h0.8v1h-0.8zM212 113.8h0.8v1h-0.8zM212 100.1h0.8v1h-0.8zM210 112.8h0.8v1h-0.8zM210 100.7h0.8v1h-0.8zM209.8 111.2h0.8v1h-0.8zM209.8 99.6h0.8v1h-0.8zM215.2 112.2h0.8v1h-0.8zM215.2 100.3h0.8v1h-0.8zM211.5 112.1h0.8v1h-0.8zM211.5 99.6h0.8v1h-0.8zM234.3 111.5h0.8v1h-0.8zM234.3 98.3h0.8v1h-0.8zM234.9 111h0.8v1h-0.8zM234.9 98.3h0.8v1h-0.8zM235.5 112.1h0.8v1h-0.8zM235.5 98.7h0.8v1h-0.8zM236.1 112.2h0.8v1h-0.8zM236.1 99.1h0.8v1h-0.8zM234 112.7h0.8v1h-0.8zM234 98.7h0.8v1h-0.8zM235.5 113.8h0.8v1h-0.8zM235.5 99.7h0.8v1h-0.8zM271.8 116.4h0.8v1h-0.8zM271.8 100.1h0.8v1h-0.8zM274.5 115.8h0.8v1h-0.8zM274.5 101h0.8v1h-0.8zM278.8 115.4h0.8v1h-0.8zM278.8 100.9h0.8v1h-0.8zM269.5 114.1h0.8v1h-0.8zM269.5 99.9h0.8v1h-0.8zM277.1 113.9h0.8v1h-0.8zM277.1 101.1h0.8v1h-0.8zM273.2 115.3h0.8v1h-0.8zM273.2 101h0.8v1h-0.8zM278.2 114.8h0.8v1h-0.8zM278.2 100.6h0.8v1h-0.8zM278.6 115.7h0.8v1h-0.8zM278.6 100.7h0.8v1h-0.8zM271.4 115h0.8v1h-0.8zM271.4 100.5h0.8v1h-0.8zM276.9 114.6h0.8v1h-0.8zM276.9 101h0.8v1h-0.8zM272 114.9h0.8v1h-0.8zM272 99.9h0.8v1h-0.8zM273.9 114.6h0.8v1h-0.8zM273.9 101h0.8v1h-0.8zM277.3 114.3h0.8v1h-0.8zM277.3 100.3h0.8v1h-0.8zM267.6 114.4h0.8v1h-0.8zM267.6 101.6h0.8v1h-0.8zM277.1 114.2h0.8v1h-0.8zM277.1 101.2h0.8v1h-0.8zM268 114.6h0.8v1h-0.8zM268 100.2h0.8v1h-0.8zM276.1 116.5h0.8v1h-0.8zM276.1 99.8h0.8v1h-0.8zM274 116.6h0.8v1h-0.8zM274 101.5h0.8v1h-0.8zM278.6 115.1h0.8v1h-0.8zM278.6 101.3h0.8v1h-0.8zM276.4 116.4h0.8v1h-0.8zM276.4 100.9h0.8v1h-0.8zM268.4 116.4h0.8v1h-0.8zM268.4 100.2h0.8v1h-0.8zM274.6 116.7h0.8v1h-0.8zM274.6 101.6h0.8v1h-0.8zM268 114.2h0.8v1h-0.8zM268 101.7h0.8v1h-0.8zM275.9 115.7h0.8v1h-0.8zM275.9 101.5h0.8v1h-0.8z"/><path fill="#e07a7a" fill-opacity="0.6" d="M81.4 98.2h0.8v0.8h-0.8zM80.3 98.3h0.8v0.8h-0.8zM80.5 90.3h0.8v0.8h-0.8zM79.9 88.2h0.8v0.8h-0.8zM82.4 98.5h0.8v0.8h-0.8zM81.5 87.4h0.8v0.8h-0.8zM79.6 87.1h0.8v0.8h-0.8zM87.8 92h0.8v0.8h-0.8zM85.9 87.1h0.8v0.8h-0.8zM88.8 89.9h0.8v0.8h-0.8zM87.5 96.2h0.8v0.8h-0.8zM88.1 84.9h0.8v0.8h-0.8zM87.3 97.4h0.8v0.8h-0.8zM89.1 96.8h0.8v0.8h-0.8zM87.9 80.9h0.8v0.8h-0.8zM92.4 94.9h0.8v0.8h-0.8zM95.2 89.6h0.8v0.8h-0.8zM92.4 94.8h0.8v0.8h-0.8zM93.8 92.4h0.8v0.8h-0.8zM94.4 93.5h0.8v0.8h-0.8zM93.8 97.9h0.8v0.8h-0.8zM95.7 97.3h0.8v0.8h-0.8zM125.1 98.4h0.8v0.8h-0.8zM124.4 84.6h0.8v0.8h-0.8zM124.8 83.4h0.8v0.8h-0.8zM124.1 81.3h0.8v0.8h-0.8zM125.3 88.1h0.8v0.8h-0.8zM122.4 97h0.8v0.8h-0.8zM121.4 97.2h0.8v0.8h-0.8zM124.8 81.1h0.8v0.8h-0.8zM124.8 89.8h0.8v0.8h-0.8zM125.5 90.1h0.8v0.8h-0.8zM123.1 97.2h0.8v0.8h-0.8zM121.4 94h0.8v0.8h-0.8zM164.2 82.4h0.8v0.8h-0.8zM163.7 83.7h0.8v0.8h-0.8zM161.6 97h0.8v0.8h-0.8zM165.9 98.6h0.8v0.8h-0.8zM162 89.8h0.8v0.8h-0.8zM164.9 93.6h0.8v0.8h-0.8zM162.2 95.8h0.8v0.8h-0.8zM161.8 97.6h0.8v0.8h-0.8zM162.3 80.4h0.8v0.8h-0.8zM164.4 81h0.8v0.8h-0.8zM163.9 79.1h0.8v0.8h-0.8zM166.2 89.1h0.8v0.8h-0.8zM164.4 80.7h0.8v0.8h-0.8zM163.6 85.8h0.8v0.8h-0.8zM160.7 94.8h0.8v0.8h-0.8zM159 87.8h0.8v0.8h-0.8zM159.5 95.5h0.8v0.8h-0.8zM165.5 78.7h0.8v0.8h-0.8zM162.3 87.7h0.8v0.8h-0.8zM174.7 96.8h0.8v0.8h-0.8zM174.4 96.7h0.8v0.8h-0.8zM178.2 98h0.8v0.8h-0.8zM179.8 91h0.8v0.8h-0.8zM177.5 95.6h0.8v0.8h-0.8zM176.6 80h0.8v0.8h-0.8zM181.2 94.6h0.8v0.8h-0.8zM178.9 93.3h0.8v0.8h-0.8zM174.6 87.5h0.8v0.8h-0.8zM180.3 97.8h0.8v0.8h-0.8zM181.3 81.3h0.8v0.8h-0.8zM178.9 89.4h0.8v0.8h-0.8zM176.2 81.5h0.8v0.8h-0.8zM173.6 87.7h0.8v0.8h-0.8zM177.1 83.5h0.8v0.8h-0.8zM175.9 89.4h0.8v0.8h-0.8zM179.7 90.1h0.8v0.8h-0.8zM173.9 96.3h0.8v0.8h-0.8zM175.9 97.8h0.8v0.8h-0.8zM181.8 80.9h0.8v0.8h-0.8zM177.9 97.9h0.8v0.8h-0.8zM176 89.3h0.8v0.8h-0.8zM175.3 78.6h0.8v0.8h-0.8zM174.3 80.6h0.8v0.8h-0.8zM175.1 91h0.8v0.8h-0.8zM177.8 97.5h0.8v0.8h-0.8zM201.4 89.2h0.8v0.8h-0.8zM202.3 91.8h0.8v0.8h-0.8zM200.4 90.5h0.8v0.8h-0.8zM200.1 98h0.8v0.8h-0.8zM199.9 98h0.8v0.8h-0.8zM199.2 78.2h0.8v0.8h-0.8zM201.1 82.2h0.8v0.8h-0.8zM200.9 80.4h0.8v0.8h-0.8zM240.6 98.4h0.8v0.8h-0.8zM239.8 92.7h0.8v0.8h-0.8zM237.6 79h0.8v0.8h-0.8zM239 98h0.8v0.8h-0.8zM238.6 89.7h0.8v0.8h-0.8zM237.6 86.6h0.8v0.8h-0.8zM258.4 81.3h0.8v0.8h-0.8zM259.9 98.3h0.8v0.8h-0.8zM252.1 93.9h0.8v0.8h-0.8zM253.8 82.8h0.8v0.8h-0.8zM254.8 92.3h0.8v0.8h-0.8zM261.2 98.5h0.8v0.8h-0.8zM261.6 91.6h0.8v0.8h-0.8zM258 83h0.8v0.8h-0.8zM258.7 90.3h0.8v0.8h-0.8zM254.8 96.7h0.8v0.8h-0.8zM253.7 82.6h0.8v0.8h-0.8zM252.6 82.8h0.8v0.8h-0.8zM257.3 94.9h0.8v0.8h-0.8zM252.6 89.4h0.8v0.8h-0.8zM257.1 90.4h0.8v0.8h-0.8zM255.4 90.1h0.8v0.8h-0.8zM251.1 81.1h0.8v0.8h-0.8zM255.5 84.4h0.8v0.8h-0.8zM259.1 84.5h0.8v0.8h-0.8zM259.8 84.5h0.8v0.8h-0.8zM251.9 88.9h0.8v0.8h-0.8zM255.1 86.2h0.8v0.8h-0.8zM259.2 84.1h0.8v0.8h-0.8zM258.1 95.5h0.8v0.8h-0.8zM255.8 89.4h0.8v0.8h-0.8zM260.9 91.2h0.8v0.8h-0.8zM252.9 81.3h0.8v0.8h-0.8zM251.8 86.2h0.8v0.8h-0.8zM251.9 92.1h0.8v0.8h-0.8z"/><path fill="#e3a9a9" fill-opacity="0.45" d="M154.6 84.9h0.7V98.6h-0.7zM232.2 86.8h0.7V98.6h-0.7zM265.5 82h0.7V98.6h-0.7zM170.8 94.5h0.7V98.6h-0.7zM203.6 82.7h0.7V98.6h-0.7zM135.3 81.9h0.7V98.6h-0.7zM135.2 84.3h0.7V98.6h-0.7zM89.8 90.2h0.7V98.6h-0.7zM102.4 94.4h0.7V98.6h-0.7z"/><path fill="#cfc2c2" fill-opacity="0.45" d="M95.8 84.8h0.7V98.6h-0.7zM225.5 83.2h0.7V98.6h-0.7zM98.7 89.9h0.7V98.6h-0.7zM206.6 81.9h0.7V98.6h-0.7zM81.2 90.2h0.7V98.6h-0.7zM134.1 81h0.7V98.6h-0.7zM145.6 90.1h0.7V98.6h-0.7zM104.4 89.9h0.7V98.6h-0.7zM266.1 92h0.7V98.6h-0.7zM89.7 81.4h0.7V98.6h-0.7zM110.3 93.9h0.7V98.6h-0.7z"/><path fill="#d9b3b3" fill-opacity="0.45" d="M155.7 82.8h0.7V98.6h-0.7zM234.7 84.5h0.7V98.6h-0.7zM118.6 86.9h0.7V98.6h-0.7zM259.2 80.6h0.7V98.6h-0.7zM212.4 86.6h0.7V98.6h-0.7zM80.5 81.3h0.7V98.6h-0.7zM278.4 93.5h0.7V98.6h-0.7zM185 86.8h0.7V98.6h-0.7zM71.9 90.6h0.7V98.6h-0.7zM86.7 85h0.7V98.6h-0.7z"/><path fill="#cfcfcf" fill-opacity="0.4" d="M138 106h0.7V120.1h-0.7zM90.8 106h0.7V117.9h-0.7zM110.3 106h0.7V112.2h-0.7zM104.9 106h0.7V117.5h-0.7zM220.9 106h0.7V111.8h-0.7zM192.6 106h0.7V110.6h-0.7zM159.4 106h0.7V115.4h-0.7z"/><path fill="#c8c8d8" fill-opacity="0.4" d="M150.9 106h0.7V122h-0.7zM275.7 106h0.7V116.4h-0.7zM250.9 106h0.7V119.2h-0.7zM206 106h0.7V113.8h-0.7zM173.5 106h0.7V118.5h-0.7zM197.4 106h0.7V119.6h-0.7z"/><path fill="#b9c0e0" fill-opacity="0.4" d="M87.2 106h0.7V115.5h-0.7zM80.4 106h0.7V114.4h-0.7zM131.6 106h0.7V123.2h-0.7zM251 106h0.7V118.5h-0.7zM233.5 106h0.7V122.2h-0.7zM172.1 106h0.7V116.1h-0.7zM122.3 106h0.7V121.2h-0.7z"/><line x1="79.6" y1="98.1" x2="79.6" y2="106.5" stroke="#fff" stroke-width="0.8" stroke-opacity="0.9"/><line x1="96.8" y1="98.1" x2="96.8" y2="106.5" stroke="#fff" stroke-width="0.8" stroke-opacity="0.9"/><line x1="110.8" y1="98.1" x2="110.8" y2="106.5" stroke="#fff" stroke-width="0.8" stroke-opacity="0.9"/><line x1="124.3" y1="98.1" x2="124.3" y2="106.5" stroke="#fff" stroke-width="0.8" stroke-opacity="0.9"/><line x1="137.1" y1="98.1" x2="137.1" y2="106.5" stroke="#fff" stroke-width="0.8" stroke-opacity="0.9"/><line x1="149.2" y1="98.1" x2="149.2" y2="106.5" stroke="#fff" stroke-width="0.8" stroke-opacity="0.9"/><line x1="160.4" y1="98.1" x2="160.4" y2="106.5" stroke="#fff" stroke-width="0.8" stroke-opacity="0.9"/><line x1="170.7" y1="98.1" x2="170.7" y2="106.5" stroke="#fff" stroke-width="0.8" stroke-opacity="0.9"/><line x1="180.7" y1="98.1" x2="180.7" y2="106.5" stroke="#fff" stroke-width="0.8" stroke-opacity="0.9"/><line x1="190.3" y1="98.1" x2="190.3" y2="106.5" stroke="#fff" stroke-width="0.8" stroke-opacity="0.9"/><line x1="199.8" y1="98.1" x2="199.8" y2="106.5" stroke="#fff" stroke-width="0.8" stroke-opacity="0.9"/><line x1="209.2" y1="98.1" x2="209.2" y2="106.5" stroke="#fff" stroke-width="0.8" stroke-opacity="0.9"/><line x1="217.4" y1="98.1" x2="217.4" y2="106.5" stroke="#fff" stroke-width="0.8" stroke-opacity="0.9"/><line x1="224.9" y1="98.1" x2="224.9" y2="106.5" stroke="#fff" stroke-width="0.8" stroke-opacity="0.9"/><line x1="232.1" y1="98.1" x2="232.1" y2="106.5" stroke="#fff" stroke-width="0.8" stroke-opacity="0.9"/><line x1="238.5" y1="98.1" x2="238.5" y2="106.5" stroke="#fff" stroke-width="0.8" stroke-opacity="0.9"/><line x1="244.4" y1="98.1" x2="244.4" y2="106.5" stroke="#fff" stroke-width="0.8" stroke-opacity="0.9"/><line x1="249.9" y1="98.1" x2="249.9" y2="106.5" stroke="#fff" stroke-width="0.8" stroke-opacity="0.9"/><line x1="254.1" y1="98.1" x2="254.1" y2="106.5" stroke="#fff" stroke-width="0.8" stroke-opacity="0.9"/><line x1="258.5" y1="98.1" x2="258.5" y2="106.5" stroke="#fff" stroke-width="0.8" stroke-opacity="0.9"/><line x1="261.9" y1="98.1" x2="261.9" y2="106.5" stroke="#fff" stroke-width="0.8" stroke-opacity="0.9"/><line x1="265.5" y1="98.1" x2="265.5" y2="106.5" stroke="#fff" stroke-width="0.8" stroke-opacity="0.9"/><line x1="276.5" y1="98.1" x2="276.5" y2="106.5" stroke="#fff" stroke-width="0.8" stroke-opacity="0.9"/><path fill="#e5a0a0" fill-opacity="0.55" d="M116.4 182.9h0.7v0.7h-0.7zM134.8 171.1h0.7v0.7h-0.7zM218.6 148.4h0.7v0.7h-0.7zM113 166.6h0.7v0.7h-0.7zM254.7 144.3h0.7v0.7h-0.7zM133.1 169.4h0.7v0.7h-0.7zM111.8 168.5h0.7v0.7h-0.7zM86.9 152.4h0.7v0.7h-0.7zM247.3 167.4h0.7v0.7h-0.7zM181.3 176.9h0.7v0.7h-0.7zM215.4 175.5h0.7v0.7h-0.7zM252 152.4h0.7v0.7h-0.7zM127.8 148.2h0.7v0.7h-0.7zM79.7 168.5h0.7v0.7h-0.7zM130.6 168.9h0.7v0.7h-0.7zM193.7 185.1h0.7v0.7h-0.7zM111.7 142.9h0.7v0.7h-0.7zM204.8 150.4h0.7v0.7h-0.7zM117.5 178.4h0.7v0.7h-0.7zM122.7 143.3h0.7v0.7h-0.7zM245.7 146.2h0.7v0.7h-0.7zM70.4 175.3h0.7v0.7h-0.7zM247.7 185.8h0.7v0.7h-0.7zM222.2 143.4h0.7v0.7h-0.7zM209.9 166.6h0.7v0.7h-0.7zM158.5 154.1h0.7v0.7h-0.7zM216 168.1h0.7v0.7h-0.7zM262.1 153h0.7v0.7h-0.7zM201.5 177.6h0.7v0.7h-0.7zM210.1 152.4h0.7v0.7h-0.7zM157.5 152h0.7v0.7h-0.7zM149.9 165.8h0.7v0.7h-0.7zM81.4 181.3h0.7v0.7h-0.7zM176.6 145.4h0.7v0.7h-0.7zM150.1 150h0.7v0.7h-0.7zM83.8 172.6h0.7v0.7h-0.7zM229.1 166.9h0.7v0.7h-0.7zM238.9 171.9h0.7v0.7h-0.7zM185.8 154.2h0.7v0.7h-0.7zM206.8 183.5h0.7v0.7h-0.7z"/><path fill="#e07a7a" fill-opacity="0.55" d="M126 178.3h0.7v0.7h-0.7zM213.5 151.6h0.7v0.7h-0.7zM134.4 179.4h0.7v0.7h-0.7zM192.1 150.8h0.7v0.7h-0.7zM147.6 147.4h0.7v0.7h-0.7zM279 182.4h0.7v0.7h-0.7zM134.9 150h0.7v0.7h-0.7zM146.6 176.9h0.7v0.7h-0.7zM162.9 148.7h0.7v0.7h-0.7zM185.1 152.1h0.7v0.7h-0.7zM197.1 172.9h0.7v0.7h-0.7zM92.1 170.9h0.7v0.7h-0.7zM98 182.5h0.7v0.7h-0.7zM97.9 141.4h0.7v0.7h-0.7zM259.9 184.1h0.7v0.7h-0.7zM67.7 154.7h0.7v0.7h-0.7zM260.7 139.6h0.7v0.7h-0.7zM127.7 173.8h0.7v0.7h-0.7zM91.1 153.2h0.7v0.7h-0.7zM172.1 178.7h0.7v0.7h-0.7zM107 150.8h0.7v0.7h-0.7zM119.4 147.3h0.7v0.7h-0.7zM86.9 149.2h0.7v0.7h-0.7zM112.6 141.8h0.7v0.7h-0.7zM238.6 144h0.7v0.7h-0.7zM223.7 181.5h0.7v0.7h-0.7zM88.8 139.3h0.7v0.7h-0.7zM158.1 175.1h0.7v0.7h-0.7zM141.6 176.8h0.7v0.7h-0.7zM245.4 140.8h0.7v0.7h-0.7zM192.6 179.9h0.7v0.7h-0.7zM90 177.4h0.7v0.7h-0.7zM149.2 146.9h0.7v0.7h-0.7zM70 142.4h0.7v0.7h-0.7zM108.3 154.7h0.7v0.7h-0.7zM274 152.4h0.7v0.7h-0.7zM187.4 140h0.7v0.7h-0.7zM137.5 146.2h0.7v0.7h-0.7zM228 153.7h0.7v0.7h-0.7z"/><path fill="#cfcfcf" fill-opacity="0.55" d="M221.7 148.7h0.7v0.7h-0.7zM250.4 172.5h0.7v0.7h-0.7zM242.5 185.7h0.7v0.7h-0.7zM257.6 179.2h0.7v0.7h-0.7zM259.2 144.1h0.7v0.7h-0.7zM65 170.3h0.7v0.7h-0.7zM275.9 174.9h0.7v0.7h-0.7zM271.1 155.8h0.7v0.7h-0.7zM150.7 149.7h0.7v0.7h-0.7zM211.1 170.9h0.7v0.7h-0.7zM65.4 181.2h0.7v0.7h-0.7zM81 178.2h0.7v0.7h-0.7zM252.1 186h0.7v0.7h-0.7zM162.8 155.2h0.7v0.7h-0.7zM149.7 146.2h0.7v0.7h-0.7zM222 170.1h0.7v0.7h-0.7zM96.2 175.2h0.7v0.7h-0.7zM125.8 179.9h0.7v0.7h-0.7zM276.2 180.3h0.7v0.7h-0.7zM143.2 176.3h0.7v0.7h-0.7zM87 174.5h0.7v0.7h-0.7zM107.7 140.3h0.7v0.7h-0.7zM152 183.2h0.7v0.7h-0.7zM197.2 177.3h0.7v0.7h-0.7zM87.9 171.4h0.7v0.7h-0.7zM275.7 139.1h0.7v0.7h-0.7zM200.1 179h0.7v0.7h-0.7zM240.7 180.5h0.7v0.7h-0.7zM62.6 152.7h0.7v0.7h-0.7zM176.2 152.9h0.7v0.7h-0.7zM166.9 172.7h0.7v0.7h-0.7zM244.2 166.6h0.7v0.7h-0.7zM172.6 177.8h0.7v0.7h-0.7zM91.9 177.9h0.7v0.7h-0.7zM219.2 156.4h0.7v0.7h-0.7zM165.9 169.7h0.7v0.7h-0.7zM71.4 147.7h0.7v0.7h-0.7zM254.1 151.3h0.7v0.7h-0.7zM145 139.1h0.7v0.7h-0.7zM207.7 142.8h0.7v0.7h-0.7z"/><path fill="#bbbbbb" fill-opacity="0.55" d="M140.5 174.7h0.7v0.7h-0.7zM165.2 173h0.7v0.7h-0.7zM257.9 140.6h0.7v0.7h-0.7zM125.1 146h0.7v0.7h-0.7zM274.9 147.3h0.7v0.7h-0.7zM139 141.4h0.7v0.7h-0.7zM83.5 172.5h0.7v0.7h-0.7zM114.5 179.6h0.7v0.7h-0.7zM76.7 181.9h0.7v0.7h-0.7zM174.8 185.6h0.7v0.7h-0.7zM62.8 186.4h0.7v0.7h-0.7zM99.8 169.5h0.7v0.7h-0.7zM118.5 169.4h0.7v0.7h-0.7zM234.1 183.6h0.7v0.7h-0.7zM266.1 185.2h0.7v0.7h-0.7zM120.5 179.1h0.7v0.7h-0.7zM178.4 179.9h0.7v0.7h-0.7zM167.8 167.3h0.7v0.7h-0.7zM144.3 177.2h0.7v0.7h-0.7zM224.8 178.4h0.7v0.7h-0.7zM172.7 176.3h0.7v0.7h-0.7zM144.3 166.3h0.7v0.7h-0.7zM258.1 172.1h0.7v0.7h-0.7zM209.1 184.2h0.7v0.7h-0.7zM247.2 146h0.7v0.7h-0.7zM173.3 145.7h0.7v0.7h-0.7zM252.2 140.9h0.7v0.7h-0.7zM214.3 176h0.7v0.7h-0.7zM162.8 166.1h0.7v0.7h-0.7zM217.7 173.5h0.7v0.7h-0.7zM119.4 182.9h0.7v0.7h-0.7zM141 167.5h0.7v0.7h-0.7zM154.9 183.5h0.7v0.7h-0.7zM65.5 145.8h0.7v0.7h-0.7zM155.5 166h0.7v0.7h-0.7zM192 167.2h0.7v0.7h-0.7zM268.7 179.6h0.7v0.7h-0.7zM79.4 179.9h0.7v0.7h-0.7zM140.7 171.6h0.7v0.7h-0.7zM127.6 177h0.7v0.7h-0.7zM277 181.2h0.7v0.7h-0.7zM246.6 170.6h0.7v0.7h-0.7zM233.8 143h0.7v0.7h-0.7z"/><path fill="#9aa8d8" fill-opacity="0.55" d="M205 171h0.7v0.7h-0.7zM157.6 167.7h0.7v0.7h-0.7zM237.8 149.5h0.7v0.7h-0.7zM168.6 156.2h0.7v0.7h-0.7zM155.3 147.7h0.7v0.7h-0.7zM173.3 143.8h0.7v0.7h-0.7zM222.8 144h0.7v0.7h-0.7zM209.3 167.8h0.7v0.7h-0.7zM267.1 180.6h0.7v0.7h-0.7zM173 152.4h0.7v0.7h-0.7zM107.8 180.6h0.7v0.7h-0.7zM142 185.7h0.7v0.7h-0.7zM68.3 149h0.7v0.7h-0.7zM196.7 145h0.7v0.7h-0.7zM208.8 174.2h0.7v0.7h-0.7zM185.8 174.6h0.7v0.7h-0.7zM73.1 172.2h0.7v0.7h-0.7zM264.4 177.4h0.7v0.7h-0.7zM267.3 149.1h0.7v0.7h-0.7zM111 148.9h0.7v0.7h-0.7zM67.8 174.7h0.7v0.7h-0.7zM239.5 143h0.7v0.7h-0.7zM138.2 144.3h0.7v0.7h-0.7zM131 177.3h0.7v0.7h-0.7zM111.9 166h0.7v0.7h-0.7zM76.3 169.4h0.7v0.7h-0.7zM208.5 152.3h0.7v0.7h-0.7zM279.5 152.9h0.7v0.7h-0.7zM111.8 185h0.7v0.7h-0.7zM147.9 174.8h0.7v0.7h-0.7zM158.2 175.1h0.7v0.7h-0.7zM263.9 143.7h0.7v0.7h-0.7zM158.4 166.6h0.7v0.7h-0.7zM180.7 170h0.7v0.7h-0.7zM190.4 173.1h0.7v0.7h-0.7zM136.4 156.2h0.7v0.7h-0.7zM278.4 183.8h0.7v0.7h-0.7zM143.9 171.9h0.7v0.7h-0.7zM218.2 183.6h0.7v0.7h-0.7zM165.9 153.5h0.7v0.7h-0.7zM110.9 179.2h0.7v0.7h-0.7zM124.7 185.1h0.7v0.7h-0.7zM216.8 166h0.7v0.7h-0.7zM192.9 182.8h0.7v0.7h-0.7zM143.1 143.4h0.7v0.7h-0.7zM117.5 174.2h0.7v0.7h-0.7z"/><path fill="#999" fill-opacity="0.5" d="M79.1 171.6h0.7v0.7h-0.7zM80 143.9h0.7v0.7h-0.7zM79.9 171h0.7v0.7h-0.7zM79.1 148.6h0.7v0.7h-0.7zM79.1 170.5h0.7v0.7h-0.7zM80 154.5h0.7v0.7h-0.7zM96.1 161.6h0.7v0.7h-0.7zM97.3 178.7h0.7v0.7h-0.7zM96.7 141.3h0.7v0.7h-0.7zM96 141.7h0.7v0.7h-0.7zM97.2 180.9h0.7v0.7h-0.7zM96.1 162.7h0.7v0.7h-0.7zM110.2 149.6h0.7v0.7h-0.7zM110.6 140.9h0.7v0.7h-0.7zM111 154.8h0.7v0.7h-0.7zM110.1 158.5h0.7v0.7h-0.7zM110 180.8h0.7v0.7h-0.7zM111.2 140.3h0.7v0.7h-0.7zM123.8 159.2h0.7v0.7h-0.7zM123.5 185.9h0.7v0.7h-0.7zM124.8 178.9h0.7v0.7h-0.7zM124.3 179.7h0.7v0.7h-0.7zM124.1 162.2h0.7v0.7h-0.7zM124.1 143.2h0.7v0.7h-0.7zM137.8 153.6h0.7v0.7h-0.7zM136.9 168.6h0.7v0.7h-0.7zM137.1 184.5h0.7v0.7h-0.7zM136.4 163.8h0.7v0.7h-0.7zM137.3 143.2h0.7v0.7h-0.7zM137 162.4h0.7v0.7h-0.7zM148.4 162.7h0.7v0.7h-0.7zM149.1 173.6h0.7v0.7h-0.7zM149.7 175.3h0.7v0.7h-0.7zM149.3 153.1h0.7v0.7h-0.7zM149.3 158.7h0.7v0.7h-0.7zM148.4 170.6h0.7v0.7h-0.7zM161 161.3h0.7v0.7h-0.7zM160.3 155.4h0.7v0.7h-0.7zM160.6 143.5h0.7v0.7h-0.7zM159.7 167.5h0.7v0.7h-0.7zM160 153.2h0.7v0.7h-0.7zM160.2 178.1h0.7v0.7h-0.7zM171.2 181.1h0.7v0.7h-0.7zM170.6 170.2h0.7v0.7h-0.7zM170.9 180.9h0.7v0.7h-0.7zM170.2 166.4h0.7v0.7h-0.7zM170.4 173.7h0.7v0.7h-0.7zM170 181.8h0.7v0.7h-0.7zM181 152.4h0.7v0.7h-0.7zM181 145.6h0.7v0.7h-0.7zM181.1 172.2h0.7v0.7h-0.7zM181.3 150.2h0.7v0.7h-0.7zM180.3 146.4h0.7v0.7h-0.7zM181.2 173.7h0.7v0.7h-0.7zM190.6 174.3h0.7v0.7h-0.7zM190.7 185.5h0.7v0.7h-0.7zM189.7 168h0.7v0.7h-0.7zM190.8 177.2h0.7v0.7h-0.7zM190.2 143.3h0.7v0.7h-0.7zM191 181h0.7v0.7h-0.7zM199.8 145.9h0.7v0.7h-0.7zM200.6 179h0.7v0.7h-0.7zM199.6 152.4h0.7v0.7h-0.7zM200.3 163.8h0.7v0.7h-0.7zM199.2 141h0.7v0.7h-0.7zM199 178.7h0.7v0.7h-0.7zM209.5 178.6h0.7v0.7h-0.7zM209 174.4h0.7v0.7h-0.7zM209.1 141.9h0.7v0.7h-0.7zM209.3 183.2h0.7v0.7h-0.7zM209.9 140.4h0.7v0.7h-0.7zM209.2 179.5h0.7v0.7h-0.7zM217.4 174.5h0.7v0.7h-0.7zM216.8 178.7h0.7v0.7h-0.7zM216.8 181.1h0.7v0.7h-0.7zM218 153.2h0.7v0.7h-0.7zM218 141.1h0.7v0.7h-0.7zM218 150.9h0.7v0.7h-0.7zM224.8 147.2h0.7v0.7h-0.7zM225.4 163.5h0.7v0.7h-0.7zM225.7 185.5h0.7v0.7h-0.7zM224.4 144.7h0.7v0.7h-0.7zM224.8 172.4h0.7v0.7h-0.7zM225.2 145.5h0.7v0.7h-0.7zM232.6 160h0.7v0.7h-0.7zM231.6 167.5h0.7v0.7h-0.7zM231.9 168h0.7v0.7h-0.7zM232.5 145.8h0.7v0.7h-0.7zM232.7 139.5h0.7v0.7h-0.7zM231.8 148.2h0.7v0.7h-0.7zM238.2 138.8h0.7v0.7h-0.7zM239.2 174.1h0.7v0.7h-0.7zM239 171.1h0.7v0.7h-0.7zM238.4 164.4h0.7v0.7h-0.7zM238.4 143h0.7v0.7h-0.7zM238 147.1h0.7v0.7h-0.7zM243.6 183.3h0.7v0.7h-0.7zM244.2 182.1h0.7v0.7h-0.7zM244.3 144.5h0.7v0.7h-0.7zM245.1 141h0.7v0.7h-0.7zM243.8 168.5h0.7v0.7h-0.7zM243.9 157.6h0.7v0.7h-0.7zM249.8 166.7h0.7v0.7h-0.7zM249.8 155.1h0.7v0.7h-0.7zM250.5 155.9h0.7v0.7h-0.7zM249.2 180.6h0.7v0.7h-0.7zM249.6 158.6h0.7v0.7h-0.7zM249.8 144.1h0.7v0.7h-0.7zM253.6 159.8h0.7v0.7h-0.7zM254.5 180.5h0.7v0.7h-0.7zM254.3 153.1h0.7v0.7h-0.7zM253.5 142.8h0.7v0.7h-0.7zM254 141.5h0.7v0.7h-0.7zM254.1 159h0.7v0.7h-0.7zM258.1 157.5h0.7v0.7h-0.7zM258.7 172.1h0.7v0.7h-0.7zM258 163h0.7v0.7h-0.7zM259.1 138.8h0.7v0.7h-0.7zM259.3 178.6h0.7v0.7h-0.7zM258.7 155h0.7v0.7h-0.7zM262.3 165.2h0.7v0.7h-0.7zM261.7 142.5h0.7v0.7h-0.7zM261.8 146h0.7v0.7h-0.7zM261.6 144.7h0.7v0.7h-0.7zM261.6 178.4h0.7v0.7h-0.7zM262.3 180.3h0.7v0.7h-0.7zM265.7 166.8h0.7v0.7h-0.7zM265 168.3h0.7v0.7h-0.7zM265.5 150.7h0.7v0.7h-0.7zM265.8 139.3h0.7v0.7h-0.7zM265.2 176.8h0.7v0.7h-0.7zM265.5 164.2h0.7v0.7h-0.7zM277.1 180.6h0.7v0.7h-0.7zM275.7 159h0.7v0.7h-0.7zM276.8 186.3h0.7v0.7h-0.7zM276.8 172h0.7v0.7h-0.7zM276.7 143h0.7v0.7h-0.7zM276.2 186.1h0.7v0.7h-0.7z"/><rect x="62" y="157.8" width="11.5" height="7" fill="#9acc52" /><rect x="78" y="157.8" width="67" height="7" fill="#9acc52" /><rect x="147" y="157.8" width="33" height="7" fill="#9acc52" /><rect x="182" y="157.8" width="5.7" height="7" fill="#9acc52" /><rect x="189" y="157.8" width="27" height="7" fill="#9acc52" /><rect x="217.5" y="157.8" width="48.5" height="7" fill="#9acc52" /><rect x="73.5" y="160" width="4.5" height="10" fill="#3446a6" /><rect x="145" y="162" width="2" height="10" fill="#3446a6" /><rect x="180" y="162" width="2" height="10" fill="#3446a6" /><rect x="187.7" y="162" width="1.3" height="10" fill="#3446a6" /><rect x="216" y="163" width="1.5" height="6" fill="#3446a6" /><rect x="266" y="160.5" width="12.4" height="18.9" fill="#3446a6" /><path fill="#d42a2a" fill-opacity="0.85" d="M69.8 159.3 L69.9 154.6 L70.5 153.2 L70.8 152 L71 154 L71.3 153.4 L71.5 154.9 L72 159.3Z"/><path fill="#d42a2a" fill-opacity="0.85" d="M71.5 159.3 L71.7 155.7 L72.3 154.7 L72.5 153.9 L72.8 154.4 L73.1 154.9 L73.3 155.9 L73.7 159.3Z"/><path fill="#d42a2a" fill-opacity="0.85" d="M99.8 159.3 L100.3 150.8 L100.5 147.6 L100.7 145 L100.9 145.5 L101.1 148.2 L101.4 151.4 L101.7 159.3Z"/><path fill="#d42a2a" fill-opacity="0.85" d="M110.8 159.3 L111 154.6 L111.4 153.2 L111.5 152 L111.7 154 L111.9 153.4 L112.3 154.9 L112.4 159.3Z"/><path fill="#d42a2a" fill-opacity="0.85" d="M120.8 159.3 L121 150.2 L121.5 146.8 L121.8 144 L122 145 L122.3 147.4 L122.4 150.9 L122.9 159.3Z"/><path fill="#d42a2a" fill-opacity="0.85" d="M122.5 159.3 L122.6 153.3 L123.2 151.3 L123.5 149.7 L123.7 150.6 L124 151.7 L124.1 153.7 L124.6 159.3Z"/><path fill="#d42a2a" fill-opacity="0.85" d="M132.8 159.3 L133 156.3 L133.4 155.6 L133.7 155 L133.9 156.4 L134.1 155.7 L134.4 156.4 L134.7 159.3Z"/><path fill="#d42a2a" fill-opacity="0.85" d="M139.8 159.3 L140 148 L140.8 143.6 L141.1 140 L141.5 141 L141.9 144.4 L142.5 148.9 L142.7 159.3Z"/><path fill="#d42a2a" fill-opacity="0.85" d="M142.3 159.3 L142.7 149.3 L143.2 145.5 L143.6 142.4 L144 143.4 L144.4 146.3 L144.9 150.1 L145.2 159.3Z"/><path fill="#d42a2a" fill-opacity="0.85" d="M159.8 159.3 L160 153.5 L160.8 151.6 L161.1 150 L161.5 151.9 L161.9 151.9 L162.3 153.9 L162.7 159.3Z"/><path fill="#d42a2a" fill-opacity="0.85" d="M162.3 159.3 L162.5 154.8 L163.2 153.5 L163.6 152.4 L164 153.5 L164.4 153.7 L164.8 155.1 L165.2 159.3Z"/><path fill="#d42a2a" fill-opacity="0.85" d="M198.6 159.3 L198.8 146.9 L199.4 142 L199.7 138 L200.1 138.6 L200.4 142.9 L200.7 147.9 L201.1 159.3Z"/><path fill="#d42a2a" fill-opacity="0.85" d="M200.7 159.3 L201.1 148.8 L201.5 144.7 L201.8 141.4 L202.2 142.3 L202.5 145.5 L202.7 149.6 L203.2 159.3Z"/><path fill="#d42a2a" fill-opacity="0.85" d="M224.8 159.3 L225.1 148 L225.5 143.6 L225.8 140 L226.1 140.5 L226.3 144.4 L226.6 148.9 L226.9 159.3Z"/><path fill="#d42a2a" fill-opacity="0.85" d="M226.6 159.3 L226.7 148.5 L227.3 144.3 L227.5 140.9 L227.8 142.9 L228.1 145.1 L228.5 149.4 L228.7 159.3Z"/><path fill="#d42a2a" fill-opacity="0.85" d="M228.3 159.3 L228.7 149.3 L229 145.4 L229.3 142.4 L229.6 144 L229.8 146.2 L230.3 150.1 L230.4 159.3Z"/><path fill="#d42a2a" fill-opacity="0.85" d="M230.1 159.3 L230.1 149 L230.8 145 L231 141.8 L231.3 142.5 L231.6 145.8 L231.9 149.8 L232.2 159.3Z"/><path fill="#d42a2a" fill-opacity="0.85" d="M242.8 159.3 L243.2 155.2 L243.6 154 L243.9 153 L244.2 154 L244.5 154.2 L245.1 155.4 L245.2 159.3Z"/><path fill="#d42a2a" fill-opacity="0.85" d="M244.8 159.3 L245.1 155.2 L245.6 154 L245.9 153 L246.2 153.4 L246.5 154.2 L246.8 155.4 L247.2 159.3Z"/><path fill="#d42a2a" fill-opacity="0.85" d="M251.8 159.3 L252.2 150.8 L252.4 147.6 L252.5 145 L252.7 146.1 L252.9 148.2 L253.3 151.4 L253.4 159.3Z"/><path fill="#d42a2a" fill-opacity="0.85" d="M255.8 159.3 L256.1 149.1 L256.4 145.2 L256.5 142 L256.7 144 L256.9 145.9 L257.2 149.9 L257.4 159.3Z"/><path fill="#d42a2a" fill-opacity="0.85" d="M259.8 159.3 L260.2 150.8 L260.4 147.6 L260.5 145 L260.7 145.4 L260.9 148.2 L261.1 151.4 L261.4 159.3Z"/><path fill="#a9d46c" fill-opacity="0.7" d="M64.3 157.3h0.8v1h-0.8zM64.3 164.3h0.8v1.6h-0.8zM67.2 157.3h0.8v1h-0.8zM67.2 164.4h0.8v1.1h-0.8zM65.5 157.5h0.8v1h-0.8zM65.5 164.3h0.8v1.7h-0.8zM72.8 157.1h0.8v1h-0.8zM72.8 164.4h0.8v1.6h-0.8zM64.8 157.2h0.8v1h-0.8zM64.8 164.4h0.8v2h-0.8zM65.8 157.3h0.8v1h-0.8zM65.8 164.2h0.8v1.7h-0.8zM62.4 157.3h0.8v1h-0.8zM62.4 164.4h0.8v1.6h-0.8zM71.4 157.6h0.8v1h-0.8zM71.4 164.5h0.8v0.9h-0.8zM64.5 157.3h0.8v1h-0.8zM64.5 164.5h0.8v1.9h-0.8zM66.7 157.5h0.8v1h-0.8zM66.7 164.3h0.8v1h-0.8zM64.4 157.5h0.8v1h-0.8zM64.4 164.5h0.8v1.4h-0.8zM70.6 157.3h0.8v1h-0.8zM70.6 164.5h0.8v1.2h-0.8zM66.9 157.5h0.8v1h-0.8zM66.9 164.6h0.8v1.2h-0.8zM71.9 157.3h0.8v1h-0.8zM71.9 164.3h0.8v1.2h-0.8zM73.3 157.4h0.8v1h-0.8zM73.3 164.4h0.8v1h-0.8zM70.8 156.9h0.8v1h-0.8zM70.8 164.2h0.8v1.7h-0.8zM63.5 157.1h0.8v1h-0.8zM63.5 164.3h0.8v1.7h-0.8zM82.4 157.4h0.8v1h-0.8zM82.4 164.5h0.8v1.1h-0.8zM93.8 157h0.8v1h-0.8zM93.8 164.4h0.8v1.3h-0.8zM119.5 157.4h0.8v1h-0.8zM119.5 164.6h0.8v1.6h-0.8zM106.9 157.2h0.8v1h-0.8zM106.9 164.5h0.8v1.4h-0.8zM116.4 157.4h0.8v1h-0.8zM116.4 164.5h0.8v1.6h-0.8zM115.6 157.3h0.8v1h-0.8zM115.6 164.5h0.8v1.6h-0.8zM139.7 157.5h0.8v1h-0.8zM139.7 164.3h0.8v1.5h-0.8zM128.4 157.2h0.8v1h-0.8zM128.4 164.3h0.8v1.6h-0.8zM121.4 157.3h0.8v1h-0.8zM121.4 164.4h0.8v1.6h-0.8zM118.1 157.5h0.8v1h-0.8zM118.1 164.2h0.8v1.4h-0.8zM137.5 157.4h0.8v1h-0.8zM137.5 164.3h0.8v1.6h-0.8zM97.6 157.1h0.8v1h-0.8zM97.6 164.5h0.8v1.7h-0.8zM131.7 157.2h0.8v1h-0.8zM131.7 164.3h0.8v1.1h-0.8zM110.9 157.5h0.8v1h-0.8zM110.9 164.2h0.8v2h-0.8zM104.7 157.6h0.8v1h-0.8zM104.7 164.5h0.8v1.9h-0.8zM90.9 157.5h0.8v1h-0.8zM90.9 164.4h0.8v1.1h-0.8zM103 157.2h0.8v1h-0.8zM103 164.2h0.8v1.2h-0.8zM128.9 157.3h0.8v1h-0.8zM128.9 164.3h0.8v1.3h-0.8zM137.8 157.1h0.8v1h-0.8zM137.8 164.3h0.8v1.9h-0.8zM101 157.1h0.8v1h-0.8zM101 164.2h0.8v1.7h-0.8zM92.9 157.4h0.8v1h-0.8zM92.9 164.3h0.8v1.8h-0.8zM95.6 157.4h0.8v1h-0.8zM95.6 164.3h0.8v1.6h-0.8zM96.9 157.2h0.8v1h-0.8zM96.9 164.2h0.8v1h-0.8zM102.5 157.2h0.8v1h-0.8zM102.5 164.5h0.8v1.4h-0.8zM106.6 157.5h0.8v1h-0.8zM106.6 164.2h0.8v1.4h-0.8zM102.5 157.2h0.8v1h-0.8zM102.5 164.3h0.8v0.9h-0.8zM106.2 157.2h0.8v1h-0.8zM106.2 164.5h0.8v1h-0.8zM111.4 157h0.8v1h-0.8zM111.4 164.5h0.8v1.1h-0.8zM124.2 157.4h0.8v1h-0.8zM124.2 164.5h0.8v1.1h-0.8zM91.2 157.2h0.8v1h-0.8zM91.2 164.5h0.8v1.6h-0.8zM111.1 157h0.8v1h-0.8zM111.1 164.5h0.8v0.9h-0.8zM122.6 157.4h0.8v1h-0.8zM122.6 164.4h0.8v1.4h-0.8zM81 157.4h0.8v1h-0.8zM81 164.6h0.8v1.2h-0.8zM110.5 157.2h0.8v1h-0.8zM110.5 164.2h0.8v1.9h-0.8zM120.3 157.2h0.8v1h-0.8zM120.3 164.5h0.8v1.3h-0.8zM98.3 157.2h0.8v1h-0.8zM98.3 164.5h0.8v0.9h-0.8zM110.1 157.1h0.8v1h-0.8zM110.1 164.5h0.8v1.7h-0.8zM79.3 157.3h0.8v1h-0.8zM79.3 164.4h0.8v1h-0.8zM111.7 156.9h0.8v1h-0.8zM111.7 164.3h0.8v1.4h-0.8zM142.7 157.4h0.8v1h-0.8zM142.7 164.3h0.8v1.2h-0.8zM88 157.5h0.8v1h-0.8zM88 164.4h0.8v1.6h-0.8zM102.2 157.5h0.8v1h-0.8zM102.2 164.6h0.8v1.4h-0.8zM97.9 157.2h0.8v1h-0.8zM97.9 164.3h0.8v1.4h-0.8zM96.1 157.4h0.8v1h-0.8zM96.1 164.3h0.8v1.8h-0.8zM90.6 157.5h0.8v1h-0.8zM90.6 164.5h0.8v1.2h-0.8zM117 157.5h0.8v1h-0.8zM117 164.3h0.8v0.9h-0.8zM122.8 157.2h0.8v1h-0.8zM122.8 164.3h0.8v0.9h-0.8zM86.5 157.2h0.8v1h-0.8zM86.5 164.4h0.8v1.9h-0.8zM122.3 157.4h0.8v1h-0.8zM122.3 164.2h0.8v1.3h-0.8zM115.9 157.2h0.8v1h-0.8zM115.9 164.5h0.8v1.4h-0.8zM91.9 157h0.8v1h-0.8zM91.9 164.5h0.8v0.8h-0.8zM120.6 157.1h0.8v1h-0.8zM120.6 164.5h0.8v1.4h-0.8zM102.2 157h0.8v1h-0.8zM102.2 164.4h0.8v1.6h-0.8zM111.9 156.9h0.8v1h-0.8zM111.9 164.4h0.8v1.5h-0.8zM134.8 157h0.8v1h-0.8zM134.8 164.4h0.8v1h-0.8zM129.7 157.5h0.8v1h-0.8zM129.7 164.3h0.8v1.3h-0.8zM136.7 157.2h0.8v1h-0.8zM136.7 164.2h0.8v1.1h-0.8zM83.7 157.5h0.8v1h-0.8zM83.7 164.2h0.8v1.2h-0.8zM84.6 157h0.8v1h-0.8zM84.6 164.4h0.8v1h-0.8zM112.7 157.5h0.8v1h-0.8zM112.7 164.6h0.8v1.1h-0.8zM93.3 157.6h0.8v1h-0.8zM93.3 164.5h0.8v0.9h-0.8zM110 157h0.8v1h-0.8zM110 164.3h0.8v1.9h-0.8zM92.1 157.3h0.8v1h-0.8zM92.1 164.3h0.8v1.6h-0.8zM87.6 157.1h0.8v1h-0.8zM87.6 164.4h0.8v1.4h-0.8zM80.8 157.2h0.8v1h-0.8zM80.8 164.5h0.8v1.2h-0.8zM138.6 157.1h0.8v1h-0.8zM138.6 164.4h0.8v0.9h-0.8zM128.1 157.4h0.8v1h-0.8zM128.1 164.4h0.8v1.9h-0.8zM116.8 157.5h0.8v1h-0.8zM116.8 164.3h0.8v0.9h-0.8zM96 157.6h0.8v1h-0.8zM96 164.4h0.8v1.3h-0.8zM81.6 157.4h0.8v1h-0.8zM81.6 164.3h0.8v0.9h-0.8zM94.1 157.2h0.8v1h-0.8zM94.1 164.4h0.8v1h-0.8zM95.5 157.4h0.8v1h-0.8zM95.5 164.4h0.8v1.3h-0.8zM99.7 157.5h0.8v1h-0.8zM99.7 164.4h0.8v1h-0.8zM86 157.6h0.8v1h-0.8zM86 164.4h0.8v1h-0.8zM81.4 157.1h0.8v1h-0.8zM81.4 164.3h0.8v1.6h-0.8zM139 157h0.8v1h-0.8zM139 164.5h0.8v1.6h-0.8zM108 157h0.8v1h-0.8zM108 164.3h0.8v1.9h-0.8zM107.8 157.5h0.8v1h-0.8zM107.8 164.5h0.8v1.8h-0.8zM130.9 157.3h0.8v1h-0.8zM130.9 164.5h0.8v1.8h-0.8zM125.3 157.1h0.8v1h-0.8zM125.3 164.2h0.8v2h-0.8zM106.4 157.4h0.8v1h-0.8zM106.4 164.3h0.8v1.3h-0.8zM116.9 157h0.8v1h-0.8zM116.9 164.2h0.8v1.7h-0.8zM86.7 157.1h0.8v1h-0.8zM86.7 164.6h0.8v1.3h-0.8zM111.7 157.1h0.8v1h-0.8zM111.7 164.2h0.8v1.5h-0.8zM107.4 157.4h0.8v1h-0.8zM107.4 164.2h0.8v0.9h-0.8zM119 157h0.8v1h-0.8zM119 164.3h0.8v1.4h-0.8zM142.8 157.1h0.8v1h-0.8zM142.8 164.6h0.8v1.8h-0.8zM79.3 157.4h0.8v1h-0.8zM79.3 164.2h0.8v1h-0.8zM111.5 157h0.8v1h-0.8zM111.5 164.4h0.8v1.2h-0.8zM91.8 157h0.8v1h-0.8zM91.8 164.4h0.8v1h-0.8zM143.7 157.4h0.8v1h-0.8zM143.7 164.2h0.8v1.6h-0.8zM107.9 157.1h0.8v1h-0.8zM107.9 164.5h0.8v1.6h-0.8zM92.3 157.2h0.8v1h-0.8zM92.3 164.4h0.8v1.3h-0.8zM136.7 157.1h0.8v1h-0.8zM136.7 164.5h0.8v1.8h-0.8zM98.4 157h0.8v1h-0.8zM98.4 164.2h0.8v1h-0.8zM102.5 157.6h0.8v1h-0.8zM102.5 164.3h0.8v1.6h-0.8zM89.8 157h0.8v1h-0.8zM89.8 164.5h0.8v1h-0.8zM143.7 157h0.8v1h-0.8zM143.7 164.5h0.8v1.9h-0.8zM144.9 157h0.8v1h-0.8zM144.9 164.4h0.8v1.5h-0.8zM87.2 157.1h0.8v1h-0.8zM87.2 164.2h0.8v1.7h-0.8zM155.8 157.1h0.8v1h-0.8zM155.8 164.3h0.8v1h-0.8zM178.7 157.5h0.8v1h-0.8zM178.7 164.6h0.8v1.2h-0.8zM163.5 157.2h0.8v1h-0.8zM163.5 164.2h0.8v1.8h-0.8zM173 157.1h0.8v1h-0.8zM173 164.3h0.8v0.9h-0.8zM171.6 157.2h0.8v1h-0.8zM171.6 164.3h0.8v1.5h-0.8zM147.8 157.2h0.8v1h-0.8zM147.8 164.3h0.8v0.9h-0.8zM167.8 157h0.8v1h-0.8zM167.8 164.5h0.8v1.4h-0.8zM165 157h0.8v1h-0.8zM165 164.4h0.8v1.8h-0.8zM157.1 156.9h0.8v1h-0.8zM157.1 164.3h0.8v1.3h-0.8zM172.7 157.1h0.8v1h-0.8zM172.7 164.4h0.8v1.7h-0.8zM171.6 156.9h0.8v1h-0.8zM171.6 164.3h0.8v1.5h-0.8zM170.5 157.4h0.8v1h-0.8zM170.5 164.5h0.8v1.5h-0.8zM154.7 157.1h0.8v1h-0.8zM154.7 164.6h0.8v1.3h-0.8zM166 157.1h0.8v1h-0.8zM166 164.5h0.8v1.1h-0.8zM167.6 157h0.8v1h-0.8zM167.6 164.2h0.8v1.4h-0.8zM156.7 157.2h0.8v1h-0.8zM156.7 164.2h0.8v1.5h-0.8zM148 157.3h0.8v1h-0.8zM148 164.4h0.8v1h-0.8zM178.4 157.3h0.8v1h-0.8zM178.4 164.4h0.8v1h-0.8zM159.3 157.5h0.8v1h-0.8zM159.3 164.3h0.8v1.8h-0.8zM147.8 157.6h0.8v1h-0.8zM147.8 164.5h0.8v1.2h-0.8zM174 157h0.8v1h-0.8zM174 164.2h0.8v1.4h-0.8zM152.2 157h0.8v1h-0.8zM152.2 164.3h0.8v1.5h-0.8zM156.7 157.5h0.8v1h-0.8zM156.7 164.4h0.8v1.3h-0.8zM153 157.4h0.8v1h-0.8zM153 164.5h0.8v1.2h-0.8zM154.9 157.3h0.8v1h-0.8zM154.9 164.3h0.8v1.4h-0.8zM167 157.3h0.8v1h-0.8zM167 164.3h0.8v0.9h-0.8zM171.8 157.2h0.8v1h-0.8zM171.8 164.3h0.8v1.8h-0.8zM165.7 157.2h0.8v1h-0.8zM165.7 164.5h0.8v1.2h-0.8zM175.5 157.6h0.8v1h-0.8zM175.5 164.6h0.8v1h-0.8zM177.9 157.3h0.8v1h-0.8zM177.9 164.2h0.8v1.1h-0.8zM148.8 157.1h0.8v1h-0.8zM148.8 164.5h0.8v0.9h-0.8zM158.5 157.1h0.8v1h-0.8zM158.5 164.2h0.8v1.3h-0.8zM168.5 157.6h0.8v1h-0.8zM168.5 164.5h0.8v1.7h-0.8zM150.3 157.4h0.8v1h-0.8zM150.3 164.6h0.8v1.7h-0.8zM164.5 157.1h0.8v1h-0.8zM164.5 164.5h0.8v1.5h-0.8zM166.5 157.3h0.8v1h-0.8zM166.5 164.5h0.8v0.9h-0.8zM175.6 157.2h0.8v1h-0.8zM175.6 164.3h0.8v1.6h-0.8zM161.2 157.6h0.8v1h-0.8zM161.2 164.2h0.8v1.1h-0.8zM177.3 157.5h0.8v1h-0.8zM177.3 164.2h0.8v1.4h-0.8zM151.4 157.4h0.8v1h-0.8zM151.4 164.3h0.8v1.9h-0.8zM161.6 157.2h0.8v1h-0.8zM161.6 164.3h0.8v0.8h-0.8zM154.9 157.4h0.8v1h-0.8zM154.9 164.3h0.8v1.7h-0.8zM177.6 157.3h0.8v1h-0.8zM177.6 164.2h0.8v1h-0.8zM175.1 157h0.8v1h-0.8zM175.1 164.3h0.8v1.5h-0.8zM179 157h0.8v1h-0.8zM179 164.6h0.8v1.8h-0.8zM154.7 157.4h0.8v1h-0.8zM154.7 164.4h0.8v1.7h-0.8zM177.5 157.6h0.8v1h-0.8zM177.5 164.4h0.8v1h-0.8zM167.6 157.5h0.8v1h-0.8zM167.6 164.4h0.8v1.6h-0.8zM157.9 157.1h0.8v1h-0.8zM157.9 164.3h0.8v2h-0.8zM186 157.2h0.8v1h-0.8zM186 164.4h0.8v0.8h-0.8zM184.7 157h0.8v1h-0.8zM184.7 164.4h0.8v1.5h-0.8zM182.2 157.3h0.8v1h-0.8zM182.2 164.2h0.8v1.4h-0.8zM182.5 157.3h0.8v1h-0.8zM182.5 164.5h0.8v1.6h-0.8zM185.7 157.3h0.8v1h-0.8zM185.7 164.4h0.8v1.8h-0.8zM187.3 157.2h0.8v1h-0.8zM187.3 164.4h0.8v1.4h-0.8zM184.8 157h0.8v1h-0.8zM184.8 164.2h0.8v1.1h-0.8zM184.5 157.3h0.8v1h-0.8zM184.5 164.4h0.8v1.7h-0.8zM203.6 157h0.8v1h-0.8zM203.6 164.3h0.8v1.1h-0.8zM195.4 157.4h0.8v1h-0.8zM195.4 164.5h0.8v1.3h-0.8zM196.7 157.6h0.8v1h-0.8zM196.7 164.4h0.8v1.9h-0.8zM210.3 157.3h0.8v1h-0.8zM210.3 164.3h0.8v1.7h-0.8zM204.5 157.2h0.8v1h-0.8zM204.5 164.5h0.8v1.3h-0.8zM212.1 157.3h0.8v1h-0.8zM212.1 164.6h0.8v1.9h-0.8zM197.7 157.2h0.8v1h-0.8zM197.7 164.4h0.8v0.8h-0.8zM208.5 156.9h0.8v1h-0.8zM208.5 164.3h0.8v1.1h-0.8zM199 157.2h0.8v1h-0.8zM199 164.4h0.8v1.2h-0.8zM204.7 157h0.8v1h-0.8zM204.7 164.4h0.8v1.7h-0.8zM214.5 157h0.8v1h-0.8zM214.5 164.5h0.8v1.7h-0.8zM211 157.5h0.8v1h-0.8zM211 164.3h0.8v0.8h-0.8zM211.9 157h0.8v1h-0.8zM211.9 164.4h0.8v2h-0.8zM197.5 157.4h0.8v1h-0.8zM197.5 164.4h0.8v0.8h-0.8zM194.8 157.3h0.8v1h-0.8zM194.8 164.5h0.8v1.2h-0.8zM203.4 157.5h0.8v1h-0.8zM203.4 164.4h0.8v1.6h-0.8zM206.3 157.5h0.8v1h-0.8zM206.3 164.4h0.8v1.7h-0.8zM199.3 157.2h0.8v1h-0.8zM199.3 164.2h0.8v1.7h-0.8zM198.3 157.6h0.8v1h-0.8zM198.3 164.5h0.8v0.8h-0.8zM190.3 157.6h0.8v1h-0.8zM190.3 164.4h0.8v1.4h-0.8zM201.4 157.2h0.8v1h-0.8zM201.4 164.5h0.8v1.4h-0.8zM195.9 157.5h0.8v1h-0.8zM195.9 164.2h0.8v1.7h-0.8zM210.2 157h0.8v1h-0.8zM210.2 164.4h0.8v1.1h-0.8zM193.8 157.1h0.8v1h-0.8zM193.8 164.3h0.8v1.9h-0.8zM198.2 157h0.8v1h-0.8zM198.2 164.4h0.8v1.7h-0.8zM195.8 157.2h0.8v1h-0.8zM195.8 164.4h0.8v1.8h-0.8zM191.3 156.9h0.8v1h-0.8zM191.3 164.4h0.8v1.8h-0.8zM190.6 157h0.8v1h-0.8zM190.6 164.3h0.8v1.2h-0.8zM200 157h0.8v1h-0.8zM200 164.5h0.8v1h-0.8zM207.4 157h0.8v1h-0.8zM207.4 164.4h0.8v1h-0.8zM201 157.2h0.8v1h-0.8zM201 164.3h0.8v1.7h-0.8zM208.3 156.9h0.8v1h-0.8zM208.3 164.6h0.8v1.8h-0.8zM197.6 157.6h0.8v1h-0.8zM197.6 164.5h0.8v1.1h-0.8zM191.9 157.3h0.8v1h-0.8zM191.9 164.2h0.8v1.6h-0.8zM195.2 157.4h0.8v1h-0.8zM195.2 164.6h0.8v1.5h-0.8zM192.1 157.3h0.8v1h-0.8zM192.1 164.2h0.8v1.9h-0.8zM210.5 157.3h0.8v1h-0.8zM210.5 164.5h0.8v1.3h-0.8zM201.1 157.2h0.8v1h-0.8zM201.1 164.3h0.8v0.9h-0.8zM204.2 157.3h0.8v1h-0.8zM204.2 164.6h0.8v1.1h-0.8zM210.5 157h0.8v1h-0.8zM210.5 164.6h0.8v1.6h-0.8zM237.5 156.9h0.8v1h-0.8zM237.5 164.4h0.8v1h-0.8zM259.4 157.3h0.8v1h-0.8zM259.4 164.2h0.8v1.1h-0.8zM222.1 157.2h0.8v1h-0.8zM222.1 164.2h0.8v1h-0.8zM235.6 157.2h0.8v1h-0.8zM235.6 164.3h0.8v1.1h-0.8zM239.1 157h0.8v1h-0.8zM239.1 164.3h0.8v1.4h-0.8zM241.5 157.2h0.8v1h-0.8zM241.5 164.3h0.8v1h-0.8zM228.5 157h0.8v1h-0.8zM228.5 164.5h0.8v0.9h-0.8zM223.2 157.5h0.8v1h-0.8zM223.2 164.4h0.8v2h-0.8zM260.2 157.3h0.8v1h-0.8zM260.2 164.4h0.8v1.5h-0.8zM242.8 157.5h0.8v1h-0.8zM242.8 164.2h0.8v1.9h-0.8zM223.6 157.1h0.8v1h-0.8zM223.6 164.5h0.8v1.2h-0.8zM227.7 157.1h0.8v1h-0.8zM227.7 164.5h0.8v1.9h-0.8zM227.3 157h0.8v1h-0.8zM227.3 164.2h0.8v1.9h-0.8zM253.6 157h0.8v1h-0.8zM253.6 164.6h0.8v1.6h-0.8zM218.2 157.1h0.8v1h-0.8zM218.2 164.2h0.8v0.8h-0.8zM264.1 156.9h0.8v1h-0.8zM264.1 164.3h0.8v1.7h-0.8zM234.8 157h0.8v1h-0.8zM234.8 164.6h0.8v1.6h-0.8zM247.7 157.3h0.8v1h-0.8zM247.7 164.4h0.8v1h-0.8zM257.9 157.1h0.8v1h-0.8zM257.9 164.4h0.8v1.5h-0.8zM254.7 157h0.8v1h-0.8zM254.7 164.4h0.8v1.1h-0.8zM260.7 157.6h0.8v1h-0.8zM260.7 164.3h0.8v0.9h-0.8zM238.9 157.1h0.8v1h-0.8zM238.9 164.4h0.8v1.8h-0.8zM255.8 157.3h0.8v1h-0.8zM255.8 164.3h0.8v0.9h-0.8zM260.4 157.4h0.8v1h-0.8zM260.4 164.4h0.8v1.9h-0.8zM243.3 157.2h0.8v1h-0.8zM243.3 164.2h0.8v1.3h-0.8zM228.2 157.1h0.8v1h-0.8zM228.2 164.4h0.8v1.6h-0.8zM242.7 157.1h0.8v1h-0.8zM242.7 164.2h0.8v1.5h-0.8zM225.5 157.2h0.8v1h-0.8zM225.5 164.3h0.8v1.6h-0.8zM217.9 157.5h0.8v1h-0.8zM217.9 164.5h0.8v1h-0.8zM265.9 157.3h0.8v1h-0.8zM265.9 164.3h0.8v1.2h-0.8zM249.8 157.2h0.8v1h-0.8zM249.8 164.3h0.8v1h-0.8zM232.2 157.6h0.8v1h-0.8zM232.2 164.5h0.8v2h-0.8zM227.5 157.3h0.8v1h-0.8zM227.5 164.2h0.8v1.1h-0.8zM219.5 157.4h0.8v1h-0.8zM219.5 164.4h0.8v1.1h-0.8zM262.7 157.3h0.8v1h-0.8zM262.7 164.6h0.8v0.9h-0.8zM243.8 157.3h0.8v1h-0.8zM243.8 164.3h0.8v0.9h-0.8zM251.1 157.6h0.8v1h-0.8zM251.1 164.6h0.8v1h-0.8zM260.5 157.2h0.8v1h-0.8zM260.5 164.4h0.8v1.3h-0.8zM229.1 157.4h0.8v1h-0.8zM229.1 164.3h0.8v1.2h-0.8zM239.7 156.9h0.8v1h-0.8zM239.7 164.4h0.8v2h-0.8zM240.1 157h0.8v1h-0.8zM240.1 164.5h0.8v1.1h-0.8zM232.1 157h0.8v1h-0.8zM232.1 164.3h0.8v1.5h-0.8zM255.8 157.2h0.8v1h-0.8zM255.8 164.3h0.8v1.7h-0.8zM243.8 157.1h0.8v1h-0.8zM243.8 164.6h0.8v2h-0.8zM253.1 157.2h0.8v1h-0.8zM253.1 164.3h0.8v1h-0.8zM225.3 157.2h0.8v1h-0.8zM225.3 164.5h0.8v1.8h-0.8zM241 157h0.8v1h-0.8zM241 164.3h0.8v1.8h-0.8zM224 157.4h0.8v1h-0.8zM224 164.5h0.8v1h-0.8zM242 157.4h0.8v1h-0.8zM242 164.4h0.8v1.6h-0.8zM249 157.5h0.8v1h-0.8zM249 164.4h0.8v1.6h-0.8zM257.9 157.3h0.8v1h-0.8zM257.9 164.5h0.8v1.9h-0.8zM239.5 156.9h0.8v1h-0.8zM239.5 164.6h0.8v1h-0.8zM243.7 157.5h0.8v1h-0.8zM243.7 164.4h0.8v1.8h-0.8zM243.2 157.1h0.8v1h-0.8zM243.2 164.5h0.8v1.5h-0.8zM258.5 157.4h0.8v1h-0.8zM258.5 164.2h0.8v0.9h-0.8zM239 157.5h0.8v1h-0.8zM239 164.4h0.8v2h-0.8zM262.7 156.9h0.8v1h-0.8zM262.7 164.5h0.8v1h-0.8zM237.1 157.5h0.8v1h-0.8zM237.1 164.4h0.8v1.1h-0.8zM237.4 157.3h0.8v1h-0.8zM237.4 164.4h0.8v1h-0.8zM259.4 157.5h0.8v1h-0.8zM259.4 164.3h0.8v1h-0.8zM255.3 157.1h0.8v1h-0.8zM255.3 164.2h0.8v1.4h-0.8zM263.7 157.5h0.8v1h-0.8zM263.7 164.5h0.8v1.3h-0.8zM240.2 157.1h0.8v1h-0.8zM240.2 164.5h0.8v1.6h-0.8zM264.9 157.6h0.8v1h-0.8zM264.9 164.2h0.8v0.8h-0.8zM250.2 157.2h0.8v1h-0.8zM250.2 164.2h0.8v1.7h-0.8zM222.6 157.3h0.8v1h-0.8zM222.6 164.2h0.8v1.3h-0.8zM264.2 157.3h0.8v1h-0.8zM264.2 164.3h0.8v1.5h-0.8zM244.7 156.9h0.8v1h-0.8zM244.7 164.3h0.8v1h-0.8zM250.6 157h0.8v1h-0.8zM250.6 164.3h0.8v1.9h-0.8zM219.7 157.4h0.8v1h-0.8zM219.7 164.5h0.8v1h-0.8zM236.8 157h0.8v1h-0.8zM236.8 164.4h0.8v1.4h-0.8zM253.2 157.5h0.8v1h-0.8zM253.2 164.3h0.8v1.3h-0.8z"/><path fill="#4a5fb8" fill-opacity="0.6" d="M74.7 170.9h0.8v1h-0.8zM74.7 158.1h0.8v1h-0.8zM75.5 172.2h0.8v1h-0.8zM75.5 158.6h0.8v1h-0.8zM77.4 172.1h0.8v1h-0.8zM77.4 159.9h0.8v1h-0.8zM75.7 171.5h0.8v1h-0.8zM75.7 158.7h0.8v1h-0.8zM74.2 172.5h0.8v1h-0.8zM74.2 159.4h0.8v1h-0.8zM75.7 170.2h0.8v1h-0.8zM75.7 158.2h0.8v1h-0.8zM75.5 172.9h0.8v1h-0.8zM75.5 159h0.8v1h-0.8zM74.7 171h0.8v1h-0.8zM74.7 158.8h0.8v1h-0.8zM75.6 171.9h0.8v1h-0.8zM75.6 159.8h0.8v1h-0.8zM145.7 172.5h0.8v1h-0.8zM145.7 160.4h0.8v1h-0.8zM145.6 173.2h0.8v1h-0.8zM145.6 160.8h0.8v1h-0.8zM146.6 172.4h0.8v1h-0.8zM146.6 160.1h0.8v1h-0.8zM146.8 172.7h0.8v1h-0.8zM146.8 161.3h0.8v1h-0.8zM180.3 173.7h0.8v1h-0.8zM180.3 160.8h0.8v1h-0.8zM181 172.1h0.8v1h-0.8zM181 160.8h0.8v1h-0.8zM181.7 172.7h0.8v1h-0.8zM181.7 160.6h0.8v1h-0.8zM181.4 172.4h0.8v1h-0.8zM181.4 160h0.8v1h-0.8zM188.4 174.7h0.8v1h-0.8zM188.4 161.4h0.8v1h-0.8zM188.2 173.5h0.8v1h-0.8zM188.2 161.2h0.8v1h-0.8zM216.8 169.6h0.8v1h-0.8zM216.8 162h0.8v1h-0.8zM216.3 170.5h0.8v1h-0.8zM216.3 162.6h0.8v1h-0.8zM217.1 170.6h0.8v1h-0.8zM217.1 161.1h0.8v1h-0.8zM271.8 182h0.8v1h-0.8zM271.8 158.5h0.8v1h-0.8zM272.3 181.5h0.8v1h-0.8zM272.3 160h0.8v1h-0.8zM266.9 181.7h0.8v1h-0.8zM266.9 160.3h0.8v1h-0.8zM272.1 180.1h0.8v1h-0.8zM272.1 160.3h0.8v1h-0.8zM276.9 180.5h0.8v1h-0.8zM276.9 158.8h0.8v1h-0.8zM277.3 179.8h0.8v1h-0.8zM277.3 158.8h0.8v1h-0.8zM274.7 180h0.8v1h-0.8zM274.7 159.5h0.8v1h-0.8zM273.5 180.1h0.8v1h-0.8zM273.5 160h0.8v1h-0.8zM266.1 180.6h0.8v1h-0.8zM266.1 159.1h0.8v1h-0.8zM275 180.1h0.8v1h-0.8zM275 158.8h0.8v1h-0.8zM269.5 179.7h0.8v1h-0.8zM269.5 159.9h0.8v1h-0.8zM276.6 180.2h0.8v1h-0.8zM276.6 159.2h0.8v1h-0.8zM277.3 181.3h0.8v1h-0.8zM277.3 159.3h0.8v1h-0.8zM277.3 182.3h0.8v1h-0.8zM277.3 160.2h0.8v1h-0.8zM266.1 180h0.8v1h-0.8zM266.1 158.9h0.8v1h-0.8zM270.3 180.3h0.8v1h-0.8zM270.3 158.6h0.8v1h-0.8zM266.6 180.4h0.8v1h-0.8zM266.6 159.6h0.8v1h-0.8zM268.9 180.2h0.8v1h-0.8zM268.9 160.2h0.8v1h-0.8zM275.7 182h0.8v1h-0.8zM275.7 160.3h0.8v1h-0.8zM269.1 182.3h0.8v1h-0.8zM269.1 160.1h0.8v1h-0.8zM276.8 179.9h0.8v1h-0.8zM276.8 159.9h0.8v1h-0.8zM270 180.5h0.8v1h-0.8zM270 160.1h0.8v1h-0.8zM267.9 182.3h0.8v1h-0.8zM267.9 159.7h0.8v1h-0.8zM275.6 180.8h0.8v1h-0.8zM275.6 160.4h0.8v1h-0.8z"/><path fill="#e07a7a" fill-opacity="0.6" d="M72.6 156.5h0.8v0.8h-0.8zM74.3 155h0.8v0.8h-0.8zM69.5 156h0.8v0.8h-0.8zM73.5 152.7h0.8v0.8h-0.8zM71.8 154.7h0.8v0.8h-0.8zM73.1 156.9h0.8v0.8h-0.8zM69.5 153.9h0.8v0.8h-0.8zM69.5 154.3h0.8v0.8h-0.8zM70.9 153.4h0.8v0.8h-0.8zM72.3 155.2h0.8v0.8h-0.8zM69.3 153.9h0.8v0.8h-0.8zM70.9 155.6h0.8v0.8h-0.8zM73.4 156.8h0.8v0.8h-0.8zM99.8 153.9h0.8v0.8h-0.8zM99 146.7h0.8v0.8h-0.8zM101.7 153.8h0.8v0.8h-0.8zM102.4 146h0.8v0.8h-0.8zM99.6 152.3h0.8v0.8h-0.8zM99.7 156.7h0.8v0.8h-0.8zM99.3 149.3h0.8v0.8h-0.8zM110.6 153.1h0.8v0.8h-0.8zM111.3 154.9h0.8v0.8h-0.8zM110.1 152.6h0.8v0.8h-0.8zM110.6 152.3h0.8v0.8h-0.8zM112.4 153.7h0.8v0.8h-0.8zM112.3 154.2h0.8v0.8h-0.8zM123.7 150.4h0.8v0.8h-0.8zM122.1 152.3h0.8v0.8h-0.8zM122.3 144.7h0.8v0.8h-0.8zM124.5 152h0.8v0.8h-0.8zM120.1 146.1h0.8v0.8h-0.8zM124.7 147.6h0.8v0.8h-0.8zM122.9 150.9h0.8v0.8h-0.8zM124.7 156.6h0.8v0.8h-0.8zM120.5 145.6h0.8v0.8h-0.8zM120.7 144.4h0.8v0.8h-0.8zM124.7 149.3h0.8v0.8h-0.8zM124.4 147.3h0.8v0.8h-0.8zM121.8 145.9h0.8v0.8h-0.8zM133.1 156.6h0.8v0.8h-0.8zM134.2 155.1h0.8v0.8h-0.8zM135.1 155.8h0.8v0.8h-0.8zM134.2 155.7h0.8v0.8h-0.8zM133 156.1h0.8v0.8h-0.8zM132.8 155.2h0.8v0.8h-0.8zM133.6 157.2h0.8v0.8h-0.8zM143.9 147.5h0.8v0.8h-0.8zM139.1 146.3h0.8v0.8h-0.8zM139.2 141h0.8v0.8h-0.8zM145.6 147h0.8v0.8h-0.8zM141.3 157.1h0.8v0.8h-0.8zM139.6 140.3h0.8v0.8h-0.8zM142.8 146.4h0.8v0.8h-0.8zM140.7 142.9h0.8v0.8h-0.8zM141.7 146.6h0.8v0.8h-0.8zM141.7 141.8h0.8v0.8h-0.8zM143.3 140.8h0.8v0.8h-0.8zM141.7 149.3h0.8v0.8h-0.8zM139.1 142.6h0.8v0.8h-0.8zM141.4 152.1h0.8v0.8h-0.8zM139.6 153.8h0.8v0.8h-0.8zM140.3 154.9h0.8v0.8h-0.8zM146 156.3h0.8v0.8h-0.8zM145.7 157.3h0.8v0.8h-0.8zM159.8 157.3h0.8v0.8h-0.8zM164.9 156.1h0.8v0.8h-0.8zM162.1 157.3h0.8v0.8h-0.8zM163.3 152.6h0.8v0.8h-0.8zM164.3 157.1h0.8v0.8h-0.8zM165.3 155.5h0.8v0.8h-0.8zM165.3 156.6h0.8v0.8h-0.8zM160.5 151.1h0.8v0.8h-0.8zM159.7 156.1h0.8v0.8h-0.8zM163.1 153h0.8v0.8h-0.8zM161.5 157.7h0.8v0.8h-0.8zM161.2 157.1h0.8v0.8h-0.8zM164.5 156.5h0.8v0.8h-0.8zM164.1 151.1h0.8v0.8h-0.8zM162.8 152h0.8v0.8h-0.8zM161.1 151.7h0.8v0.8h-0.8zM162.9 157.2h0.8v0.8h-0.8zM161.1 154.2h0.8v0.8h-0.8zM203.2 150.6h0.8v0.8h-0.8zM198.5 139.9h0.8v0.8h-0.8zM198.7 157.8h0.8v0.8h-0.8zM199.8 157.8h0.8v0.8h-0.8zM203.7 146.5h0.8v0.8h-0.8zM202.8 142.1h0.8v0.8h-0.8zM201.4 139.5h0.8v0.8h-0.8zM200.7 151.1h0.8v0.8h-0.8zM199.6 140.3h0.8v0.8h-0.8zM202.9 154.5h0.8v0.8h-0.8zM200.7 140.5h0.8v0.8h-0.8zM203.7 151h0.8v0.8h-0.8zM202 145.6h0.8v0.8h-0.8zM199.4 148.1h0.8v0.8h-0.8zM198.2 145.3h0.8v0.8h-0.8zM230.9 150.2h0.8v0.8h-0.8zM226.4 147.8h0.8v0.8h-0.8zM228.6 148h0.8v0.8h-0.8zM224.5 141.3h0.8v0.8h-0.8zM225.3 141.1h0.8v0.8h-0.8zM230 155h0.8v0.8h-0.8zM231.2 141.1h0.8v0.8h-0.8zM224.2 151.1h0.8v0.8h-0.8zM230.3 146h0.8v0.8h-0.8zM229.4 143.6h0.8v0.8h-0.8zM224.9 145.2h0.8v0.8h-0.8zM228.9 142.2h0.8v0.8h-0.8zM228.2 144.3h0.8v0.8h-0.8zM232.6 155.2h0.8v0.8h-0.8zM231.8 152.8h0.8v0.8h-0.8zM229.4 144.4h0.8v0.8h-0.8zM230.1 152.3h0.8v0.8h-0.8zM225.9 157.6h0.8v0.8h-0.8zM226.8 146.6h0.8v0.8h-0.8zM231.1 146.5h0.8v0.8h-0.8zM228.9 143.8h0.8v0.8h-0.8zM231.1 149.9h0.8v0.8h-0.8zM230.6 150.3h0.8v0.8h-0.8zM228.4 143.4h0.8v0.8h-0.8zM245.1 155.5h0.8v0.8h-0.8zM242.8 157.2h0.8v0.8h-0.8zM244.2 157.5h0.8v0.8h-0.8zM242.8 154.7h0.8v0.8h-0.8zM243.1 155.2h0.8v0.8h-0.8zM247.2 157.6h0.8v0.8h-0.8zM246.7 155.7h0.8v0.8h-0.8zM247.2 153.3h0.8v0.8h-0.8zM244.9 156.6h0.8v0.8h-0.8zM243.2 155.3h0.8v0.8h-0.8zM245.2 153.3h0.8v0.8h-0.8zM244.8 156.5h0.8v0.8h-0.8zM245.5 153.8h0.8v0.8h-0.8zM248 154.8h0.8v0.8h-0.8zM242.4 154h0.8v0.8h-0.8zM252.7 153.4h0.8v0.8h-0.8zM253.1 157.8h0.8v0.8h-0.8zM251.6 151.8h0.8v0.8h-0.8zM251.3 150.2h0.8v0.8h-0.8zM251.1 150.2h0.8v0.8h-0.8zM253.7 156h0.8v0.8h-0.8zM257.6 149.9h0.8v0.8h-0.8zM255.3 149.3h0.8v0.8h-0.8zM257.1 147.2h0.8v0.8h-0.8zM257.4 155.5h0.8v0.8h-0.8zM255.2 150.1h0.8v0.8h-0.8zM257.1 154.3h0.8v0.8h-0.8zM260 155.6h0.8v0.8h-0.8zM259.5 157h0.8v0.8h-0.8zM261.8 147.7h0.8v0.8h-0.8zM260.6 146.5h0.8v0.8h-0.8zM261.7 151.3h0.8v0.8h-0.8zM260.9 149.2h0.8v0.8h-0.8z"/><path fill="#cfc2c2" fill-opacity="0.45" d="M110.9 148.3h0.7V157.8h-0.7zM219 149.2h0.7V157.8h-0.7zM154.2 144.4h0.7V157.8h-0.7zM211 148.2h0.7V157.8h-0.7zM80.3 141.5h0.7V157.8h-0.7zM180.8 150.3h0.7V157.8h-0.7zM250.8 145.5h0.7V157.8h-0.7zM255.1 143.7h0.7V157.8h-0.7zM103.9 145.5h0.7V157.8h-0.7zM196.6 148.7h0.7V157.8h-0.7zM106.4 143h0.7V157.8h-0.7z"/><path fill="#d9b3b3" fill-opacity="0.45" d="M94.1 142.9h0.7V157.8h-0.7zM255.7 150.5h0.7V157.8h-0.7zM260.4 143.6h0.7V157.8h-0.7zM165.9 152.9h0.7V157.8h-0.7zM201.6 141.7h0.7V157.8h-0.7zM279 153.7h0.7V157.8h-0.7zM272.3 152.1h0.7V157.8h-0.7zM245.1 140.8h0.7V157.8h-0.7zM181.8 144.2h0.7V157.8h-0.7zM204.4 141.1h0.7V157.8h-0.7zM230.2 141.3h0.7V157.8h-0.7z"/><path fill="#e3a9a9" fill-opacity="0.45" d="M244.3 146.7h0.7V157.8h-0.7zM155.7 148.6h0.7V157.8h-0.7zM107.9 142.2h0.7V157.8h-0.7zM92.1 148.2h0.7V157.8h-0.7zM123.4 146.2h0.7V157.8h-0.7zM253.4 144.4h0.7V157.8h-0.7zM107.7 149.1h0.7V157.8h-0.7zM168.3 147.5h0.7V157.8h-0.7z"/><path fill="#c8c8d8" fill-opacity="0.4" d="M104.4 164.8h0.7V169.6h-0.7zM200.5 164.8h0.7V169.3h-0.7zM69.3 164.8h0.7V180.3h-0.7zM206.2 164.8h0.7V177h-0.7zM151.5 164.8h0.7V181.2h-0.7zM108.8 164.8h0.7V183.7h-0.7zM109.4 164.8h0.7V175.2h-0.7zM190.1 164.8h0.7V176.1h-0.7z"/><path fill="#cfcfcf" fill-opacity="0.4" d="M276.2 164.8h0.7V177.3h-0.7zM86.6 164.8h0.7V176.2h-0.7zM188.6 164.8h0.7V174.2h-0.7zM278.1 164.8h0.7V176.7h-0.7z"/><path fill="#b9c0e0" fill-opacity="0.4" d="M215.7 164.8h0.7V169.4h-0.7zM172.4 164.8h0.7V169.5h-0.7zM267.4 164.8h0.7V180.9h-0.7zM245.7 164.8h0.7V174.7h-0.7zM73.8 164.8h0.7V179.3h-0.7zM66.8 164.8h0.7V171.4h-0.7zM273.2 164.8h0.7V170.6h-0.7zM215.3 164.8h0.7V171.5h-0.7z"/><line x1="79.6" y1="157.3" x2="79.6" y2="165.3" stroke="#fff" stroke-width="0.8" stroke-opacity="0.9"/><line x1="96.8" y1="157.3" x2="96.8" y2="165.3" stroke="#fff" stroke-width="0.8" stroke-opacity="0.9"/><line x1="110.8" y1="157.3" x2="110.8" y2="165.3" stroke="#fff" stroke-width="0.8" stroke-opacity="0.9"/><line x1="124.3" y1="157.3" x2="124.3" y2="165.3" stroke="#fff" stroke-width="0.8" stroke-opacity="0.9"/><line x1="137.1" y1="157.3" x2="137.1" y2="165.3" stroke="#fff" stroke-width="0.8" stroke-opacity="0.9"/><line x1="149.2" y1="157.3" x2="149.2" y2="165.3" stroke="#fff" stroke-width="0.8" stroke-opacity="0.9"/><line x1="160.4" y1="157.3" x2="160.4" y2="165.3" stroke="#fff" stroke-width="0.8" stroke-opacity="0.9"/><line x1="170.7" y1="157.3" x2="170.7" y2="165.3" stroke="#fff" stroke-width="0.8" stroke-opacity="0.9"/><line x1="180.7" y1="157.3" x2="180.7" y2="165.3" stroke="#fff" stroke-width="0.8" stroke-opacity="0.9"/><line x1="190.3" y1="157.3" x2="190.3" y2="165.3" stroke="#fff" stroke-width="0.8" stroke-opacity="0.9"/><line x1="199.8" y1="157.3" x2="199.8" y2="165.3" stroke="#fff" stroke-width="0.8" stroke-opacity="0.9"/><line x1="209.2" y1="157.3" x2="209.2" y2="165.3" stroke="#fff" stroke-width="0.8" stroke-opacity="0.9"/><line x1="217.4" y1="157.3" x2="217.4" y2="165.3" stroke="#fff" stroke-width="0.8" stroke-opacity="0.9"/><line x1="224.9" y1="157.3" x2="224.9" y2="165.3" stroke="#fff" stroke-width="0.8" stroke-opacity="0.9"/><line x1="232.1" y1="157.3" x2="232.1" y2="165.3" stroke="#fff" stroke-width="0.8" stroke-opacity="0.9"/><line x1="238.5" y1="157.3" x2="238.5" y2="165.3" stroke="#fff" stroke-width="0.8" stroke-opacity="0.9"/><line x1="244.4" y1="157.3" x2="244.4" y2="165.3" stroke="#fff" stroke-width="0.8" stroke-opacity="0.9"/><line x1="249.9" y1="157.3" x2="249.9" y2="165.3" stroke="#fff" stroke-width="0.8" stroke-opacity="0.9"/><line x1="254.1" y1="157.3" x2="254.1" y2="165.3" stroke="#fff" stroke-width="0.8" stroke-opacity="0.9"/><line x1="258.5" y1="157.3" x2="258.5" y2="165.3" stroke="#fff" stroke-width="0.8" stroke-opacity="0.9"/><line x1="261.9" y1="157.3" x2="261.9" y2="165.3" stroke="#fff" stroke-width="0.8" stroke-opacity="0.9"/><line x1="265.5" y1="157.3" x2="265.5" y2="165.3" stroke="#fff" stroke-width="0.8" stroke-opacity="0.9"/><line x1="276.5" y1="157.3" x2="276.5" y2="165.3" stroke="#fff" stroke-width="0.8" stroke-opacity="0.9"/><path fill="#cfcfcf" fill-opacity="0.55" d="M167.2 202.5h0.7v0.7h-0.7zM111.2 204.9h0.7v0.7h-0.7zM199 203h0.7v0.7h-0.7zM160.1 213h0.7v0.7h-0.7zM216.3 215.9h0.7v0.7h-0.7zM200.1 209.9h0.7v0.7h-0.7zM218.2 214.3h0.7v0.7h-0.7zM215.6 244.6h0.7v0.7h-0.7zM198 202h0.7v0.7h-0.7zM237.2 231.5h0.7v0.7h-0.7zM187.3 233.8h0.7v0.7h-0.7zM179.6 244.2h0.7v0.7h-0.7zM262.4 212.7h0.7v0.7h-0.7zM69.2 236.8h0.7v0.7h-0.7zM251.7 210.8h0.7v0.7h-0.7zM250.8 237.1h0.7v0.7h-0.7zM270.7 213.4h0.7v0.7h-0.7zM209 201.5h0.7v0.7h-0.7zM204.2 212.9h0.7v0.7h-0.7zM208.9 209.6h0.7v0.7h-0.7zM63.9 200.6h0.7v0.7h-0.7zM96.9 228.7h0.7v0.7h-0.7zM141.1 235h0.7v0.7h-0.7zM258.6 210.5h0.7v0.7h-0.7zM109.3 203.2h0.7v0.7h-0.7zM178.7 202.1h0.7v0.7h-0.7zM150.4 202.9h0.7v0.7h-0.7zM182.4 244.6h0.7v0.7h-0.7zM194 210.8h0.7v0.7h-0.7zM117.3 237.8h0.7v0.7h-0.7zM232.8 243h0.7v0.7h-0.7zM217.1 238.3h0.7v0.7h-0.7zM106.9 239.6h0.7v0.7h-0.7zM201.1 214.8h0.7v0.7h-0.7z"/><path fill="#e07a7a" fill-opacity="0.55" d="M269.7 212.7h0.7v0.7h-0.7zM119.1 242.1h0.7v0.7h-0.7zM269.6 214.7h0.7v0.7h-0.7zM197.7 208.9h0.7v0.7h-0.7zM152 231.6h0.7v0.7h-0.7zM139.2 203.2h0.7v0.7h-0.7zM271.5 208.4h0.7v0.7h-0.7zM82.1 215.6h0.7v0.7h-0.7zM238.1 204.7h0.7v0.7h-0.7zM104.3 211.2h0.7v0.7h-0.7zM164.9 215.1h0.7v0.7h-0.7zM169.7 244.8h0.7v0.7h-0.7zM219.5 214.5h0.7v0.7h-0.7zM92.6 212.9h0.7v0.7h-0.7zM163.9 228.2h0.7v0.7h-0.7zM226.6 245.1h0.7v0.7h-0.7zM255.3 213.1h0.7v0.7h-0.7zM250 240.8h0.7v0.7h-0.7zM237.8 210.8h0.7v0.7h-0.7zM187.2 230.5h0.7v0.7h-0.7zM210.8 203.8h0.7v0.7h-0.7zM259.1 233.4h0.7v0.7h-0.7zM248.4 245.2h0.7v0.7h-0.7zM172.6 239.3h0.7v0.7h-0.7zM134.2 202.9h0.7v0.7h-0.7zM110.4 242.4h0.7v0.7h-0.7zM100.4 216.2h0.7v0.7h-0.7zM94 244.9h0.7v0.7h-0.7zM101.3 210.1h0.7v0.7h-0.7zM103.2 206.9h0.7v0.7h-0.7zM238 203.2h0.7v0.7h-0.7zM212.5 237h0.7v0.7h-0.7zM95.8 233.3h0.7v0.7h-0.7zM229.1 233h0.7v0.7h-0.7zM162 246.1h0.7v0.7h-0.7zM107.4 237.2h0.7v0.7h-0.7zM170.7 202.9h0.7v0.7h-0.7zM192.5 207.6h0.7v0.7h-0.7zM229.8 229.2h0.7v0.7h-0.7zM220 202.5h0.7v0.7h-0.7zM222.7 236.1h0.7v0.7h-0.7zM218 236.8h0.7v0.7h-0.7zM140.2 245.4h0.7v0.7h-0.7zM242.5 204.8h0.7v0.7h-0.7zM226.7 237.5h0.7v0.7h-0.7zM265 204.2h0.7v0.7h-0.7zM159.9 239.6h0.7v0.7h-0.7zM231.7 205.7h0.7v0.7h-0.7z"/><path fill="#e5a0a0" fill-opacity="0.55" d="M148.8 241.4h0.7v0.7h-0.7zM210.3 238.8h0.7v0.7h-0.7zM235.8 229.9h0.7v0.7h-0.7zM114.6 227.6h0.7v0.7h-0.7zM246 202.7h0.7v0.7h-0.7zM177.2 234.7h0.7v0.7h-0.7zM103.1 246.4h0.7v0.7h-0.7zM203.6 202.8h0.7v0.7h-0.7zM256.8 207.2h0.7v0.7h-0.7zM108.5 213.6h0.7v0.7h-0.7zM132.9 235.3h0.7v0.7h-0.7zM222.7 211.4h0.7v0.7h-0.7zM208.6 212.4h0.7v0.7h-0.7zM79.1 237.3h0.7v0.7h-0.7zM226.7 232.6h0.7v0.7h-0.7zM262.1 202.3h0.7v0.7h-0.7zM101.8 246h0.7v0.7h-0.7zM258.5 229.1h0.7v0.7h-0.7zM215.9 199.3h0.7v0.7h-0.7zM228.6 238h0.7v0.7h-0.7zM214.7 240.3h0.7v0.7h-0.7zM278.4 229.8h0.7v0.7h-0.7zM99.7 214.6h0.7v0.7h-0.7zM108.7 198.7h0.7v0.7h-0.7zM212.4 240.8h0.7v0.7h-0.7zM207.4 202.7h0.7v0.7h-0.7zM225.6 200.3h0.7v0.7h-0.7zM213.8 198.9h0.7v0.7h-0.7zM204.2 242.9h0.7v0.7h-0.7zM246.8 204.5h0.7v0.7h-0.7zM160.9 242.5h0.7v0.7h-0.7zM206.9 234.8h0.7v0.7h-0.7zM239.3 205.5h0.7v0.7h-0.7zM120 235.8h0.7v0.7h-0.7zM260.2 229h0.7v0.7h-0.7zM216.5 243.5h0.7v0.7h-0.7zM193.7 202.3h0.7v0.7h-0.7zM115.3 209.6h0.7v0.7h-0.7zM83.8 215.3h0.7v0.7h-0.7zM274.2 201.7h0.7v0.7h-0.7zM268.9 244.1h0.7v0.7h-0.7zM141.1 240.5h0.7v0.7h-0.7z"/><path fill="#9aa8d8" fill-opacity="0.55" d="M234.5 199.7h0.7v0.7h-0.7zM230.5 208.8h0.7v0.7h-0.7zM175 200.5h0.7v0.7h-0.7zM262.5 214.1h0.7v0.7h-0.7zM224.6 235.2h0.7v0.7h-0.7zM77 237.2h0.7v0.7h-0.7zM64.5 233.5h0.7v0.7h-0.7zM266.6 215.9h0.7v0.7h-0.7zM191.5 244.4h0.7v0.7h-0.7zM94.6 237.6h0.7v0.7h-0.7zM148.2 243.9h0.7v0.7h-0.7zM246.5 239.1h0.7v0.7h-0.7zM137.1 234.1h0.7v0.7h-0.7zM173.8 227.4h0.7v0.7h-0.7zM125 216.2h0.7v0.7h-0.7zM256.5 212h0.7v0.7h-0.7zM275.8 246.1h0.7v0.7h-0.7zM171.8 199.2h0.7v0.7h-0.7zM79.8 200.7h0.7v0.7h-0.7zM235.5 234.5h0.7v0.7h-0.7zM88.1 210.9h0.7v0.7h-0.7zM124.6 208.8h0.7v0.7h-0.7zM163.3 210.3h0.7v0.7h-0.7zM143.1 232.1h0.7v0.7h-0.7zM176.1 203.8h0.7v0.7h-0.7zM257.4 242.5h0.7v0.7h-0.7zM116 231.4h0.7v0.7h-0.7zM226.8 240.7h0.7v0.7h-0.7zM181.8 201h0.7v0.7h-0.7zM180.9 236.8h0.7v0.7h-0.7zM228.9 208h0.7v0.7h-0.7zM105.1 200.6h0.7v0.7h-0.7zM68.6 207.3h0.7v0.7h-0.7zM127.2 201.2h0.7v0.7h-0.7zM265.9 207.5h0.7v0.7h-0.7zM104.1 206.9h0.7v0.7h-0.7zM103.2 229.7h0.7v0.7h-0.7zM89.3 202.1h0.7v0.7h-0.7zM169.6 198.7h0.7v0.7h-0.7z"/><path fill="#bbbbbb" fill-opacity="0.55" d="M102.1 234.5h0.7v0.7h-0.7zM166.9 239.7h0.7v0.7h-0.7zM107.2 227.8h0.7v0.7h-0.7zM80.6 234.2h0.7v0.7h-0.7zM207.7 206.6h0.7v0.7h-0.7zM69.6 235.1h0.7v0.7h-0.7zM99.4 242.5h0.7v0.7h-0.7zM99.1 213.9h0.7v0.7h-0.7zM231.1 246.3h0.7v0.7h-0.7zM118.7 208.4h0.7v0.7h-0.7zM78.9 210.7h0.7v0.7h-0.7zM271.2 231.1h0.7v0.7h-0.7zM212.9 214.8h0.7v0.7h-0.7zM185 205h0.7v0.7h-0.7zM91.3 241.2h0.7v0.7h-0.7zM271.2 214.2h0.7v0.7h-0.7zM247.6 242.6h0.7v0.7h-0.7zM171.2 239h0.7v0.7h-0.7zM71.3 237.1h0.7v0.7h-0.7zM207.1 237.8h0.7v0.7h-0.7zM74.3 213.7h0.7v0.7h-0.7zM217.8 230.1h0.7v0.7h-0.7zM122.4 238.4h0.7v0.7h-0.7zM251.2 228.9h0.7v0.7h-0.7zM197.1 229.4h0.7v0.7h-0.7zM225.3 237.5h0.7v0.7h-0.7zM247.6 233.2h0.7v0.7h-0.7zM124.4 245.1h0.7v0.7h-0.7zM191.2 233.5h0.7v0.7h-0.7zM110.3 213.5h0.7v0.7h-0.7zM136.8 208.5h0.7v0.7h-0.7zM100.7 240.4h0.7v0.7h-0.7zM153.5 199.6h0.7v0.7h-0.7zM187.5 214h0.7v0.7h-0.7zM68.7 203.8h0.7v0.7h-0.7zM145.3 232.7h0.7v0.7h-0.7zM276.9 215.2h0.7v0.7h-0.7z"/><path fill="#999" fill-opacity="0.5" d="M79 233.8h0.7v0.7h-0.7zM79.6 240.4h0.7v0.7h-0.7zM79.6 218.6h0.7v0.7h-0.7zM80.1 205.5h0.7v0.7h-0.7zM80.3 215.7h0.7v0.7h-0.7zM79.3 236.1h0.7v0.7h-0.7zM96.6 234.7h0.7v0.7h-0.7zM96 214.8h0.7v0.7h-0.7zM96.9 208.7h0.7v0.7h-0.7zM96.1 230.4h0.7v0.7h-0.7zM97.5 243h0.7v0.7h-0.7zM97.3 232.8h0.7v0.7h-0.7zM111.3 215.9h0.7v0.7h-0.7zM110.9 210.9h0.7v0.7h-0.7zM110.5 209.8h0.7v0.7h-0.7zM110.8 236.6h0.7v0.7h-0.7zM110.1 236.9h0.7v0.7h-0.7zM110.5 234.9h0.7v0.7h-0.7zM124.1 232h0.7v0.7h-0.7zM123.8 222h0.7v0.7h-0.7zM124.6 240.7h0.7v0.7h-0.7zM123.8 207.2h0.7v0.7h-0.7zM124.1 213.9h0.7v0.7h-0.7zM124.9 245.4h0.7v0.7h-0.7zM137.6 218.6h0.7v0.7h-0.7zM136.5 231.1h0.7v0.7h-0.7zM137.2 229.1h0.7v0.7h-0.7zM137.2 234.4h0.7v0.7h-0.7zM137.4 202h0.7v0.7h-0.7zM137.2 215.6h0.7v0.7h-0.7zM149.9 228h0.7v0.7h-0.7zM148.8 219.4h0.7v0.7h-0.7zM148.6 216.1h0.7v0.7h-0.7zM149.6 236.5h0.7v0.7h-0.7zM149.3 213.7h0.7v0.7h-0.7zM149.9 214.3h0.7v0.7h-0.7zM160.7 202.7h0.7v0.7h-0.7zM159.9 214.2h0.7v0.7h-0.7zM160.8 226h0.7v0.7h-0.7zM160.9 210.3h0.7v0.7h-0.7zM160.3 235h0.7v0.7h-0.7zM160.3 207.2h0.7v0.7h-0.7zM171.3 218.6h0.7v0.7h-0.7zM170.1 226.5h0.7v0.7h-0.7zM171.1 204.9h0.7v0.7h-0.7zM171.2 244.3h0.7v0.7h-0.7zM170.2 199.7h0.7v0.7h-0.7zM171 220h0.7v0.7h-0.7zM180.4 245.4h0.7v0.7h-0.7zM181.4 220.9h0.7v0.7h-0.7zM180.2 239.4h0.7v0.7h-0.7zM181.4 200.9h0.7v0.7h-0.7zM179.9 243.9h0.7v0.7h-0.7zM180.1 240.9h0.7v0.7h-0.7zM189.8 228.2h0.7v0.7h-0.7zM189.6 199.7h0.7v0.7h-0.7zM189.8 210.6h0.7v0.7h-0.7zM190.3 243.4h0.7v0.7h-0.7zM191 246.4h0.7v0.7h-0.7zM189.9 215.1h0.7v0.7h-0.7zM199.9 214.9h0.7v0.7h-0.7zM199.1 232.5h0.7v0.7h-0.7zM199.9 232.5h0.7v0.7h-0.7zM199.1 209.9h0.7v0.7h-0.7zM199.3 215.7h0.7v0.7h-0.7zM199.5 225.7h0.7v0.7h-0.7zM208.5 221h0.7v0.7h-0.7zM209.2 203.9h0.7v0.7h-0.7zM209 214.8h0.7v0.7h-0.7zM209.7 230.8h0.7v0.7h-0.7zM208.9 224.9h0.7v0.7h-0.7zM208.8 232.6h0.7v0.7h-0.7zM216.7 214.6h0.7v0.7h-0.7zM217.8 217.1h0.7v0.7h-0.7zM216.9 230.6h0.7v0.7h-0.7zM217 206.9h0.7v0.7h-0.7zM217.3 205.9h0.7v0.7h-0.7zM217.7 201.5h0.7v0.7h-0.7zM225.3 229.7h0.7v0.7h-0.7zM224.9 244.3h0.7v0.7h-0.7zM225.7 204.7h0.7v0.7h-0.7zM225.2 229.8h0.7v0.7h-0.7zM225 205.8h0.7v0.7h-0.7zM225.4 203.4h0.7v0.7h-0.7zM232.8 225.3h0.7v0.7h-0.7zM232.8 203h0.7v0.7h-0.7zM231.6 220h0.7v0.7h-0.7zM231.7 243.8h0.7v0.7h-0.7zM231.6 211.5h0.7v0.7h-0.7zM232.1 245h0.7v0.7h-0.7zM238.5 221.9h0.7v0.7h-0.7zM239 227.7h0.7v0.7h-0.7zM238.6 217.7h0.7v0.7h-0.7zM238.1 214.5h0.7v0.7h-0.7zM239 236.8h0.7v0.7h-0.7zM239 205.4h0.7v0.7h-0.7zM243.8 219.3h0.7v0.7h-0.7zM244 204.2h0.7v0.7h-0.7zM245.2 218.4h0.7v0.7h-0.7zM244.7 232h0.7v0.7h-0.7zM243.9 201.1h0.7v0.7h-0.7zM244.1 228.9h0.7v0.7h-0.7zM249.1 233.4h0.7v0.7h-0.7zM250 239.8h0.7v0.7h-0.7zM249.6 232.4h0.7v0.7h-0.7zM250.2 212.9h0.7v0.7h-0.7zM249.4 199.2h0.7v0.7h-0.7zM249.7 229.1h0.7v0.7h-0.7zM254.5 235.5h0.7v0.7h-0.7zM254.2 217.4h0.7v0.7h-0.7zM253.8 221.1h0.7v0.7h-0.7zM253.4 209.6h0.7v0.7h-0.7zM254.8 205.8h0.7v0.7h-0.7zM254.3 211.3h0.7v0.7h-0.7zM258.2 237.8h0.7v0.7h-0.7zM259.1 208.4h0.7v0.7h-0.7zM257.8 213.7h0.7v0.7h-0.7zM259.2 231.5h0.7v0.7h-0.7zM258.1 205.6h0.7v0.7h-0.7zM259.2 205h0.7v0.7h-0.7zM261.6 214h0.7v0.7h-0.7zM261.6 205.3h0.7v0.7h-0.7zM261.8 230.6h0.7v0.7h-0.7zM262 232.4h0.7v0.7h-0.7zM261.7 213.4h0.7v0.7h-0.7zM261.1 229.3h0.7v0.7h-0.7zM265.7 222.1h0.7v0.7h-0.7zM265 222.3h0.7v0.7h-0.7zM265.9 226.7h0.7v0.7h-0.7zM264.9 246.2h0.7v0.7h-0.7zM265.1 220.7h0.7v0.7h-0.7zM265.2 214.4h0.7v0.7h-0.7zM276.7 217.3h0.7v0.7h-0.7zM275.8 221.3h0.7v0.7h-0.7zM276.6 200.7h0.7v0.7h-0.7zM276.3 206.1h0.7v0.7h-0.7zM276.3 216h0.7v0.7h-0.7zM277 222.7h0.7v0.7h-0.7z"/><rect x="62" y="217.8" width="128" height="8.5" fill="#9acc52" /><rect x="191.5" y="217.8" width="74.7" height="8.5" fill="#9acc52" /><rect x="190" y="222" width="1.5" height="10" fill="#3446a6" /><rect x="266.2" y="222.8" width="12.2" height="13.2" fill="#3446a6" /><path fill="#d42a2a" fill-opacity="0.85" d="M200.8 219.3 L201.2 206.9 L201.5 202 L201.8 198 L202.1 199.9 L202.3 202.9 L202.7 207.9 L203 219.3Z"/><path fill="#d42a2a" fill-opacity="0.85" d="M237.3 219.3 L237.4 208 L237.9 203.6 L238 200 L238.2 202 L238.4 204.4 L238.6 208.9 L238.9 219.3Z"/><path fill="#d42a2a" fill-opacity="0.85" d="M249.4 219.3 L249.8 213.5 L250.1 211.6 L250.4 210 L250.6 211.5 L250.9 211.9 L251.1 213.9 L251.5 219.3Z"/><path fill="#d42a2a" fill-opacity="0.85" d="M251.1 219.3 L251.3 215.3 L251.8 214.2 L252.1 213.3 L252.3 214.3 L252.6 214.4 L252.9 215.5 L253.2 219.3Z"/><path fill="#d42a2a" fill-opacity="0.85" d="M258.3 219.3 L258.6 208 L258.9 203.6 L259 200 L259.2 200.2 L259.4 204.4 L259.7 208.9 L259.9 219.3Z"/><path fill="#d42a2a" fill-opacity="0.85" d="M262.8 219.3 L263.1 208 L263.4 203.6 L263.5 200 L263.7 201.8 L263.9 204.4 L264.3 208.9 L264.4 219.3Z"/><path fill="#d42a2a" fill-opacity="0.85" d="M69.8 219.3 L70.1 213.5 L70.4 211.6 L70.5 210 L70.7 210.5 L70.9 211.9 L71.1 213.9 L71.4 219.3Z"/><path fill="#d42a2a" fill-opacity="0.85" d="M99.8 219.3 L99.9 210.8 L100.4 207.6 L100.5 205 L100.7 206.4 L100.9 208.2 L101.3 211.4 L101.4 219.3Z"/><path fill="#d42a2a" fill-opacity="0.85" d="M109.8 219.3 L110 214.6 L110.4 213.2 L110.5 212 L110.7 213.3 L110.9 213.4 L111.2 214.9 L111.4 219.3Z"/><path fill="#a9d46c" fill-opacity="0.7" d="M136.8 217.2h0.8v1h-0.8zM136.8 225.7h0.8v1.6h-0.8zM64.4 217.3h0.8v1h-0.8zM64.4 225.9h0.8v1h-0.8zM91.6 217.3h0.8v1h-0.8zM91.6 225.8h0.8v1.6h-0.8zM71.1 217.1h0.8v1h-0.8zM71.1 225.7h0.8v1.4h-0.8zM81.4 217.6h0.8v1h-0.8zM81.4 226h0.8v1.9h-0.8zM81.4 216.9h0.8v1h-0.8zM81.4 226.1h0.8v1.8h-0.8zM156.7 217.4h0.8v1h-0.8zM156.7 226.1h0.8v1.2h-0.8zM186.9 217.4h0.8v1h-0.8zM186.9 226h0.8v0.9h-0.8zM151.7 217.4h0.8v1h-0.8zM151.7 225.9h0.8v1.1h-0.8zM165.5 217.3h0.8v1h-0.8zM165.5 225.8h0.8v1h-0.8zM153.7 217.2h0.8v1h-0.8zM153.7 225.9h0.8v1.8h-0.8zM81.3 217h0.8v1h-0.8zM81.3 226h0.8v0.9h-0.8zM95.7 217.1h0.8v1h-0.8zM95.7 225.8h0.8v1.2h-0.8zM109.9 217h0.8v1h-0.8zM109.9 226h0.8v2h-0.8zM155.3 216.9h0.8v1h-0.8zM155.3 226h0.8v1.2h-0.8zM101.7 217.1h0.8v1h-0.8zM101.7 226h0.8v0.8h-0.8zM120.5 217.4h0.8v1h-0.8zM120.5 225.8h0.8v1.7h-0.8zM63.1 217h0.8v1h-0.8zM63.1 226h0.8v1.8h-0.8zM81.9 217.2h0.8v1h-0.8zM81.9 225.8h0.8v1.7h-0.8zM82.5 217.3h0.8v1h-0.8zM82.5 226h0.8v1.5h-0.8zM149 217h0.8v1h-0.8zM149 225.9h0.8v1.5h-0.8zM88.9 217.1h0.8v1h-0.8zM88.9 225.8h0.8v0.8h-0.8zM151 217.1h0.8v1h-0.8zM151 226.1h0.8v1.9h-0.8zM172 217h0.8v1h-0.8zM172 225.9h0.8v1.7h-0.8zM98.3 217.2h0.8v1h-0.8zM98.3 225.7h0.8v1.8h-0.8zM89.4 217.3h0.8v1h-0.8zM89.4 225.9h0.8v0.9h-0.8zM119.4 217.2h0.8v1h-0.8zM119.4 226h0.8v1.5h-0.8zM81.9 217h0.8v1h-0.8zM81.9 225.9h0.8v1.4h-0.8zM186.8 217h0.8v1h-0.8zM186.8 225.8h0.8v1.3h-0.8zM124.3 217.4h0.8v1h-0.8zM124.3 225.8h0.8v1.8h-0.8zM92.5 217.6h0.8v1h-0.8zM92.5 225.9h0.8v1.7h-0.8zM145.2 217.4h0.8v1h-0.8zM145.2 225.9h0.8v1h-0.8zM169.1 217h0.8v1h-0.8zM169.1 225.9h0.8v1.7h-0.8zM75.4 217.4h0.8v1h-0.8zM75.4 226h0.8v0.8h-0.8zM71.7 217.4h0.8v1h-0.8zM71.7 225.8h0.8v1.6h-0.8zM124.4 217.3h0.8v1h-0.8zM124.4 225.9h0.8v1.9h-0.8zM93.3 217h0.8v1h-0.8zM93.3 226h0.8v1.9h-0.8zM81.7 217.5h0.8v1h-0.8zM81.7 225.8h0.8v1h-0.8zM72.2 217h0.8v1h-0.8zM72.2 225.9h0.8v1.5h-0.8zM182.4 217.5h0.8v1h-0.8zM182.4 225.8h0.8v1.9h-0.8zM162.8 217.1h0.8v1h-0.8zM162.8 226.1h0.8v1.4h-0.8zM126.1 217.1h0.8v1h-0.8zM126.1 225.8h0.8v2h-0.8zM158.9 217.1h0.8v1h-0.8zM158.9 226h0.8v0.9h-0.8zM68.7 217.1h0.8v1h-0.8zM68.7 225.9h0.8v2h-0.8zM182.7 217.5h0.8v1h-0.8zM182.7 225.8h0.8v1h-0.8zM137 217.5h0.8v1h-0.8zM137 225.8h0.8v1.3h-0.8zM160.4 217.1h0.8v1h-0.8zM160.4 225.9h0.8v1.4h-0.8zM115.7 217.2h0.8v1h-0.8zM115.7 226h0.8v1.1h-0.8zM114.3 217.5h0.8v1h-0.8zM114.3 225.8h0.8v1h-0.8zM189.4 217h0.8v1h-0.8zM189.4 225.8h0.8v1.4h-0.8zM89.4 217.5h0.8v1h-0.8zM89.4 226.1h0.8v1.8h-0.8zM100.8 217.4h0.8v1h-0.8zM100.8 225.8h0.8v1.6h-0.8zM119.9 217.6h0.8v1h-0.8zM119.9 226.1h0.8v1.2h-0.8zM162.8 217.2h0.8v1h-0.8zM162.8 226h0.8v1.3h-0.8zM125.8 217.5h0.8v1h-0.8zM125.8 225.8h0.8v1.2h-0.8zM104.9 217.4h0.8v1h-0.8zM104.9 226h0.8v0.9h-0.8zM113.5 217.1h0.8v1h-0.8zM113.5 225.7h0.8v1.8h-0.8zM174.3 217.6h0.8v1h-0.8zM174.3 225.7h0.8v2h-0.8zM120 217.4h0.8v1h-0.8zM120 225.9h0.8v1.9h-0.8zM188.8 216.9h0.8v1h-0.8zM188.8 225.8h0.8v1.9h-0.8zM134.1 217.2h0.8v1h-0.8zM134.1 226h0.8v1.2h-0.8zM173.4 217h0.8v1h-0.8zM173.4 226.1h0.8v1.9h-0.8zM154.8 217.1h0.8v1h-0.8zM154.8 226h0.8v0.9h-0.8zM138.3 217.4h0.8v1h-0.8zM138.3 225.9h0.8v1.6h-0.8zM92.6 217.2h0.8v1h-0.8zM92.6 225.8h0.8v1.4h-0.8zM133.7 216.9h0.8v1h-0.8zM133.7 225.7h0.8v1.8h-0.8zM182.8 217.4h0.8v1h-0.8zM182.8 225.7h0.8v1.7h-0.8zM155.2 217.2h0.8v1h-0.8zM155.2 225.9h0.8v1.7h-0.8zM129.5 217.1h0.8v1h-0.8zM129.5 225.8h0.8v1.4h-0.8zM136.1 217.5h0.8v1h-0.8zM136.1 225.8h0.8v1.3h-0.8zM187.2 217.3h0.8v1h-0.8zM187.2 225.7h0.8v1.4h-0.8zM98.4 217.1h0.8v1h-0.8zM98.4 225.7h0.8v1.9h-0.8zM93.9 217h0.8v1h-0.8zM93.9 225.7h0.8v1.9h-0.8zM174.4 217.5h0.8v1h-0.8zM174.4 225.9h0.8v2h-0.8zM184.3 217.1h0.8v1h-0.8zM184.3 225.9h0.8v2h-0.8zM75 217.2h0.8v1h-0.8zM75 226h0.8v1.8h-0.8zM73.3 217h0.8v1h-0.8zM73.3 225.7h0.8v0.9h-0.8zM146.1 217.3h0.8v1h-0.8zM146.1 226.1h0.8v1.6h-0.8zM171 217.4h0.8v1h-0.8zM171 226h0.8v1.8h-0.8zM73.6 217.5h0.8v1h-0.8zM73.6 225.9h0.8v0.9h-0.8zM89.4 217.1h0.8v1h-0.8zM89.4 225.9h0.8v0.9h-0.8zM179.7 217.1h0.8v1h-0.8zM179.7 225.9h0.8v1.7h-0.8zM74.8 217h0.8v1h-0.8zM74.8 225.7h0.8v1.2h-0.8zM105.6 217.2h0.8v1h-0.8zM105.6 225.8h0.8v1.7h-0.8zM108.8 217h0.8v1h-0.8zM108.8 226.1h0.8v1.8h-0.8zM183.9 216.9h0.8v1h-0.8zM183.9 225.8h0.8v0.9h-0.8zM127.9 216.9h0.8v1h-0.8zM127.9 225.9h0.8v1.9h-0.8zM184.1 217.5h0.8v1h-0.8zM184.1 225.8h0.8v1.6h-0.8zM184.9 216.9h0.8v1h-0.8zM184.9 225.9h0.8v1.5h-0.8zM76.9 217.4h0.8v1h-0.8zM76.9 225.8h0.8v0.8h-0.8zM124.6 217.5h0.8v1h-0.8zM124.6 226.1h0.8v0.9h-0.8zM94.7 217.2h0.8v1h-0.8zM94.7 225.7h0.8v1h-0.8zM88.8 217.1h0.8v1h-0.8zM88.8 226h0.8v0.9h-0.8zM128.3 217.1h0.8v1h-0.8zM128.3 226h0.8v1.7h-0.8zM80.3 217h0.8v1h-0.8zM80.3 225.9h0.8v1.5h-0.8zM142.6 217.4h0.8v1h-0.8zM142.6 225.8h0.8v1h-0.8zM68.9 217.3h0.8v1h-0.8zM68.9 225.8h0.8v0.9h-0.8zM103.2 217.4h0.8v1h-0.8zM103.2 226.1h0.8v2h-0.8zM133.1 217.5h0.8v1h-0.8zM133.1 225.9h0.8v1.9h-0.8zM170.3 217.3h0.8v1h-0.8zM170.3 226h0.8v1.8h-0.8zM113 217.4h0.8v1h-0.8zM113 225.8h0.8v1.2h-0.8zM110.8 217.5h0.8v1h-0.8zM110.8 225.8h0.8v1.8h-0.8zM64.7 217h0.8v1h-0.8zM64.7 225.7h0.8v1.5h-0.8zM106.3 217.2h0.8v1h-0.8zM106.3 226.1h0.8v2h-0.8zM100.4 217.6h0.8v1h-0.8zM100.4 225.8h0.8v1.9h-0.8zM81.8 217h0.8v1h-0.8zM81.8 226h0.8v1.4h-0.8zM151.8 217h0.8v1h-0.8zM151.8 226h0.8v1.8h-0.8zM73.7 217h0.8v1h-0.8zM73.7 225.9h0.8v1.3h-0.8zM138.1 217.3h0.8v1h-0.8zM138.1 226.1h0.8v1.8h-0.8zM172.7 217.3h0.8v1h-0.8zM172.7 225.7h0.8v1.2h-0.8zM87.9 217.2h0.8v1h-0.8zM87.9 225.8h0.8v1.9h-0.8zM66.1 217.3h0.8v1h-0.8zM66.1 226h0.8v2h-0.8zM82.3 217.6h0.8v1h-0.8zM82.3 225.9h0.8v1.8h-0.8zM71.9 217.2h0.8v1h-0.8zM71.9 226.1h0.8v1.6h-0.8zM187.2 217h0.8v1h-0.8zM187.2 225.9h0.8v1.7h-0.8zM156 217.1h0.8v1h-0.8zM156 226h0.8v1.7h-0.8zM120.5 217.5h0.8v1h-0.8zM120.5 226h0.8v1.9h-0.8zM147.3 217.1h0.8v1h-0.8zM147.3 225.8h0.8v1.1h-0.8zM149.6 217.2h0.8v1h-0.8zM149.6 225.9h0.8v1.6h-0.8zM126.8 217.3h0.8v1h-0.8zM126.8 226h0.8v0.9h-0.8zM146 216.9h0.8v1h-0.8zM146 225.9h0.8v1.5h-0.8zM104.7 217.6h0.8v1h-0.8zM104.7 225.9h0.8v1.7h-0.8zM80.9 217.2h0.8v1h-0.8zM80.9 226h0.8v1.7h-0.8zM128.4 217.3h0.8v1h-0.8zM128.4 225.8h0.8v1.5h-0.8zM112.7 217h0.8v1h-0.8zM112.7 225.8h0.8v1.8h-0.8zM111.8 217h0.8v1h-0.8zM111.8 225.9h0.8v1.4h-0.8zM177.5 216.9h0.8v1h-0.8zM177.5 225.7h0.8v1.5h-0.8zM161.9 217.1h0.8v1h-0.8zM161.9 225.9h0.8v1.4h-0.8zM116.1 217h0.8v1h-0.8zM116.1 225.9h0.8v1.2h-0.8zM163.1 217.5h0.8v1h-0.8zM163.1 226h0.8v1.2h-0.8zM190 217.2h0.8v1h-0.8zM190 226h0.8v1.2h-0.8zM154.3 217h0.8v1h-0.8zM154.3 225.9h0.8v1.6h-0.8zM124.4 217.3h0.8v1h-0.8zM124.4 225.8h0.8v1.5h-0.8zM159.1 217.4h0.8v1h-0.8zM159.1 226h0.8v1.4h-0.8zM100.9 217.6h0.8v1h-0.8zM100.9 226.1h0.8v1.3h-0.8zM105.3 217.4h0.8v1h-0.8zM105.3 226.1h0.8v1.9h-0.8zM163.8 217.4h0.8v1h-0.8zM163.8 226h0.8v2h-0.8zM179.7 217.1h0.8v1h-0.8zM179.7 226h0.8v1.5h-0.8zM77.6 217h0.8v1h-0.8zM77.6 225.7h0.8v1.8h-0.8zM116.5 217.3h0.8v1h-0.8zM116.5 225.9h0.8v1.4h-0.8zM172.6 217.1h0.8v1h-0.8zM172.6 225.7h0.8v1.6h-0.8zM82.3 217.2h0.8v1h-0.8zM82.3 226.1h0.8v1.7h-0.8zM81.2 217h0.8v1h-0.8zM81.2 225.8h0.8v1.7h-0.8zM148.3 217h0.8v1h-0.8zM148.3 226.1h0.8v1.7h-0.8zM144.2 217.1h0.8v1h-0.8zM144.2 226h0.8v1.2h-0.8zM95.5 217h0.8v1h-0.8zM95.5 226h0.8v1h-0.8zM116.1 217h0.8v1h-0.8zM116.1 225.7h0.8v1h-0.8zM63.7 217h0.8v1h-0.8zM63.7 225.8h0.8v1.4h-0.8zM144.1 217.1h0.8v1h-0.8zM144.1 225.8h0.8v1.8h-0.8zM122.6 216.9h0.8v1h-0.8zM122.6 225.8h0.8v1.5h-0.8zM107.9 217.5h0.8v1h-0.8zM107.9 226h0.8v1.2h-0.8zM124 217h0.8v1h-0.8zM124 226.1h0.8v1.5h-0.8zM87.5 217.4h0.8v1h-0.8zM87.5 225.9h0.8v1.3h-0.8zM161 216.9h0.8v1h-0.8zM161 225.9h0.8v1.2h-0.8zM94.3 217.2h0.8v1h-0.8zM94.3 226.1h0.8v0.8h-0.8zM148.3 217.2h0.8v1h-0.8zM148.3 225.7h0.8v1.3h-0.8zM74.6 217h0.8v1h-0.8zM74.6 225.9h0.8v1.9h-0.8zM105.1 217.4h0.8v1h-0.8zM105.1 226h0.8v0.9h-0.8zM72.3 217h0.8v1h-0.8zM72.3 226h0.8v1.1h-0.8zM187.8 217.5h0.8v1h-0.8zM187.8 225.9h0.8v1.1h-0.8zM177.2 217.1h0.8v1h-0.8zM177.2 225.9h0.8v1h-0.8zM137.4 217.5h0.8v1h-0.8zM137.4 225.8h0.8v1.3h-0.8zM153.2 217.1h0.8v1h-0.8zM153.2 226h0.8v1.6h-0.8zM85.4 217.5h0.8v1h-0.8zM85.4 225.7h0.8v0.9h-0.8zM170.7 217.3h0.8v1h-0.8zM170.7 226.1h0.8v0.9h-0.8zM152.2 217.5h0.8v1h-0.8zM152.2 226h0.8v1.1h-0.8zM165.3 216.9h0.8v1h-0.8zM165.3 226h0.8v1.8h-0.8zM87.8 217.1h0.8v1h-0.8zM87.8 225.8h0.8v1.2h-0.8zM71.5 216.9h0.8v1h-0.8zM71.5 225.8h0.8v1.2h-0.8zM121.4 217.2h0.8v1h-0.8zM121.4 225.8h0.8v1.1h-0.8zM100.9 217.3h0.8v1h-0.8zM100.9 225.8h0.8v1.7h-0.8zM145.9 217.2h0.8v1h-0.8zM145.9 225.9h0.8v1.8h-0.8zM156.1 217.3h0.8v1h-0.8zM156.1 226.1h0.8v1.4h-0.8zM115.8 217.2h0.8v1h-0.8zM115.8 225.9h0.8v1.4h-0.8zM116.7 217.1h0.8v1h-0.8zM116.7 226h0.8v1h-0.8zM147.8 217.3h0.8v1h-0.8zM147.8 225.9h0.8v1.8h-0.8zM182.4 217.6h0.8v1h-0.8zM182.4 225.9h0.8v1.2h-0.8zM189.8 217h0.8v1h-0.8zM189.8 225.9h0.8v1.5h-0.8zM101.2 217.2h0.8v1h-0.8zM101.2 225.9h0.8v0.8h-0.8zM81.7 217.5h0.8v1h-0.8zM81.7 225.7h0.8v1.4h-0.8zM157.5 217h0.8v1h-0.8zM157.5 225.9h0.8v1.3h-0.8zM168.2 217.1h0.8v1h-0.8zM168.2 226.1h0.8v1.3h-0.8zM182.3 217.6h0.8v1h-0.8zM182.3 226.1h0.8v1.7h-0.8zM177.3 217.4h0.8v1h-0.8zM177.3 226.1h0.8v0.9h-0.8zM166.6 217.2h0.8v1h-0.8zM166.6 226.1h0.8v1.3h-0.8zM156 217.5h0.8v1h-0.8zM156 226h0.8v1.1h-0.8zM90.1 217.4h0.8v1h-0.8zM90.1 225.8h0.8v1.7h-0.8zM75.1 217h0.8v1h-0.8zM75.1 226h0.8v1.7h-0.8zM89 217.1h0.8v1h-0.8zM89 226h0.8v0.9h-0.8zM106.1 217.1h0.8v1h-0.8zM106.1 225.9h0.8v1.2h-0.8zM92 217.2h0.8v1h-0.8zM92 225.8h0.8v1.3h-0.8zM83.6 217.2h0.8v1h-0.8zM83.6 225.9h0.8v1.7h-0.8zM241.8 217.1h0.8v1h-0.8zM241.8 225.9h0.8v1.3h-0.8zM265.8 217.1h0.8v1h-0.8zM265.8 225.9h0.8v1h-0.8zM219.7 217.5h0.8v1h-0.8zM219.7 226.1h0.8v1.8h-0.8zM208.1 217.4h0.8v1h-0.8zM208.1 225.9h0.8v1h-0.8zM198.3 217.1h0.8v1h-0.8zM198.3 225.8h0.8v0.9h-0.8zM223.9 217.4h0.8v1h-0.8zM223.9 225.8h0.8v1.2h-0.8zM229.2 217h0.8v1h-0.8zM229.2 226.1h0.8v1.7h-0.8zM195.1 217.4h0.8v1h-0.8zM195.1 226.1h0.8v1.3h-0.8zM242.1 217.2h0.8v1h-0.8zM242.1 226h0.8v1.2h-0.8zM206.9 217.4h0.8v1h-0.8zM206.9 225.8h0.8v1.3h-0.8zM201.5 217.3h0.8v1h-0.8zM201.5 225.7h0.8v1.3h-0.8zM237.6 217.4h0.8v1h-0.8zM237.6 225.8h0.8v1.3h-0.8zM191.7 217.5h0.8v1h-0.8zM191.7 225.9h0.8v1.4h-0.8zM238.5 217.4h0.8v1h-0.8zM238.5 225.7h0.8v1.7h-0.8zM227.3 217.1h0.8v1h-0.8zM227.3 225.9h0.8v1.6h-0.8zM195.9 217.2h0.8v1h-0.8zM195.9 225.8h0.8v1.2h-0.8zM209.3 217.3h0.8v1h-0.8zM209.3 225.7h0.8v1.7h-0.8zM224 217.4h0.8v1h-0.8zM224 225.8h0.8v1.6h-0.8zM212.5 216.9h0.8v1h-0.8zM212.5 225.9h0.8v1h-0.8zM248 217.1h0.8v1h-0.8zM248 226.1h0.8v1.4h-0.8zM261.5 217.2h0.8v1h-0.8zM261.5 226.1h0.8v0.9h-0.8zM197.1 217.4h0.8v1h-0.8zM197.1 225.8h0.8v1.5h-0.8zM259.1 217.5h0.8v1h-0.8zM259.1 225.9h0.8v0.8h-0.8zM204.7 217.3h0.8v1h-0.8zM204.7 225.9h0.8v1.8h-0.8zM226 217h0.8v1h-0.8zM226 225.9h0.8v1h-0.8zM255 217.5h0.8v1h-0.8zM255 225.7h0.8v0.9h-0.8zM213.1 217.2h0.8v1h-0.8zM213.1 225.9h0.8v0.8h-0.8zM216.3 216.9h0.8v1h-0.8zM216.3 225.8h0.8v1.5h-0.8zM204 217.5h0.8v1h-0.8zM204 226h0.8v1.8h-0.8zM250.9 217.5h0.8v1h-0.8zM250.9 226.1h0.8v1.8h-0.8zM246.2 217.3h0.8v1h-0.8zM246.2 225.8h0.8v1.1h-0.8zM211.3 217.1h0.8v1h-0.8zM211.3 225.9h0.8v1h-0.8zM199.8 217.1h0.8v1h-0.8zM199.8 225.8h0.8v1.7h-0.8zM196.6 217.4h0.8v1h-0.8zM196.6 226.1h0.8v1.6h-0.8zM202 217.4h0.8v1h-0.8zM202 225.9h0.8v0.9h-0.8zM220.3 216.9h0.8v1h-0.8zM220.3 225.7h0.8v1.1h-0.8zM233.7 217.3h0.8v1h-0.8zM233.7 225.8h0.8v1.7h-0.8zM242.6 217.5h0.8v1h-0.8zM242.6 226h0.8v2h-0.8zM194.9 217.1h0.8v1h-0.8zM194.9 225.7h0.8v1.7h-0.8zM214 217.2h0.8v1h-0.8zM214 225.9h0.8v1.6h-0.8zM204.5 217h0.8v1h-0.8zM204.5 225.7h0.8v1.1h-0.8zM223.9 217h0.8v1h-0.8zM223.9 226h0.8v1.3h-0.8zM238.3 217.4h0.8v1h-0.8zM238.3 225.7h0.8v1.4h-0.8zM218.3 216.9h0.8v1h-0.8zM218.3 226h0.8v1.6h-0.8zM219.3 217.4h0.8v1h-0.8zM219.3 225.9h0.8v1.6h-0.8zM230.6 216.9h0.8v1h-0.8zM230.6 225.8h0.8v1.4h-0.8zM209.8 217h0.8v1h-0.8zM209.8 225.9h0.8v1.1h-0.8zM260.7 217.3h0.8v1h-0.8zM260.7 226h0.8v1.9h-0.8zM265.7 217.3h0.8v1h-0.8zM265.7 225.7h0.8v2h-0.8zM236.7 217.4h0.8v1h-0.8zM236.7 226h0.8v1.4h-0.8zM230.2 217.1h0.8v1h-0.8zM230.2 226h0.8v2h-0.8zM264.8 217.5h0.8v1h-0.8zM264.8 225.9h0.8v0.8h-0.8zM247.4 217.5h0.8v1h-0.8zM247.4 226h0.8v1.2h-0.8zM245.3 217.3h0.8v1h-0.8zM245.3 225.8h0.8v1.5h-0.8zM256.3 217.5h0.8v1h-0.8zM256.3 226h0.8v1.3h-0.8zM244.4 217.3h0.8v1h-0.8zM244.4 225.9h0.8v1.9h-0.8zM206.4 217.6h0.8v1h-0.8zM206.4 225.9h0.8v1.5h-0.8zM231.4 217.1h0.8v1h-0.8zM231.4 225.9h0.8v1.3h-0.8zM215.1 217.5h0.8v1h-0.8zM215.1 225.9h0.8v1.4h-0.8zM218.7 217.4h0.8v1h-0.8zM218.7 225.8h0.8v1.4h-0.8zM193.3 217.3h0.8v1h-0.8zM193.3 226h0.8v1.4h-0.8zM262.3 217.4h0.8v1h-0.8zM262.3 225.9h0.8v1.9h-0.8zM253.4 217.1h0.8v1h-0.8zM253.4 225.9h0.8v1.7h-0.8zM242 217h0.8v1h-0.8zM242 225.8h0.8v1.1h-0.8zM240.5 217h0.8v1h-0.8zM240.5 226h0.8v1.4h-0.8zM248 217.6h0.8v1h-0.8zM248 226h0.8v1.5h-0.8zM214.7 217h0.8v1h-0.8zM214.7 226h0.8v1.4h-0.8zM222.2 217.5h0.8v1h-0.8zM222.2 225.8h0.8v1.2h-0.8zM198.1 217.4h0.8v1h-0.8zM198.1 225.8h0.8v1.6h-0.8zM205.3 217.3h0.8v1h-0.8zM205.3 226h0.8v1.2h-0.8zM249 217.4h0.8v1h-0.8zM249 226.1h0.8v1.5h-0.8zM203.3 217.2h0.8v1h-0.8zM203.3 225.9h0.8v1.1h-0.8zM207.2 217h0.8v1h-0.8zM207.2 226.1h0.8v1.8h-0.8zM233 217.1h0.8v1h-0.8zM233 225.8h0.8v1.7h-0.8zM215.6 217.5h0.8v1h-0.8zM215.6 226h0.8v1.4h-0.8zM228.2 217.2h0.8v1h-0.8zM228.2 226h0.8v1.3h-0.8zM213 217.6h0.8v1h-0.8zM213 225.8h0.8v1.3h-0.8zM207.4 216.9h0.8v1h-0.8zM207.4 225.9h0.8v1.3h-0.8zM227.6 217.5h0.8v1h-0.8zM227.6 226.1h0.8v1.2h-0.8zM248.6 216.9h0.8v1h-0.8zM248.6 225.9h0.8v1.3h-0.8zM208 217.6h0.8v1h-0.8zM208 225.8h0.8v1.6h-0.8zM212 217.3h0.8v1h-0.8zM212 225.7h0.8v1h-0.8zM208.4 217.3h0.8v1h-0.8zM208.4 225.8h0.8v1.4h-0.8zM208.4 217.6h0.8v1h-0.8zM208.4 225.9h0.8v1.3h-0.8zM195.6 217.2h0.8v1h-0.8zM195.6 226h0.8v1.6h-0.8zM204.3 217.2h0.8v1h-0.8zM204.3 225.7h0.8v0.9h-0.8zM236 217.4h0.8v1h-0.8zM236 225.9h0.8v0.8h-0.8zM194.7 217h0.8v1h-0.8zM194.7 225.9h0.8v0.9h-0.8zM222.7 217.1h0.8v1h-0.8zM222.7 226.1h0.8v1.8h-0.8zM217.3 217.4h0.8v1h-0.8zM217.3 225.8h0.8v1.4h-0.8zM200.9 217.5h0.8v1h-0.8zM200.9 225.8h0.8v1.5h-0.8zM224.1 217.1h0.8v1h-0.8zM224.1 226h0.8v1h-0.8zM239.2 217.4h0.8v1h-0.8zM239.2 226h0.8v0.9h-0.8zM238.9 217.1h0.8v1h-0.8zM238.9 225.8h0.8v1h-0.8zM248.2 217.4h0.8v1h-0.8zM248.2 225.9h0.8v1.4h-0.8zM245.9 217.5h0.8v1h-0.8zM245.9 225.9h0.8v1.8h-0.8zM210.4 217.6h0.8v1h-0.8zM210.4 225.9h0.8v1.2h-0.8zM250.3 217.3h0.8v1h-0.8zM250.3 225.8h0.8v1.6h-0.8zM197.7 217.1h0.8v1h-0.8zM197.7 225.9h0.8v1.4h-0.8zM239.9 217.3h0.8v1h-0.8zM239.9 226.1h0.8v1.5h-0.8zM240.5 216.9h0.8v1h-0.8zM240.5 225.7h0.8v0.8h-0.8zM242.4 217.5h0.8v1h-0.8zM242.4 225.8h0.8v2h-0.8zM219.9 217h0.8v1h-0.8zM219.9 225.8h0.8v1.4h-0.8zM259.4 217.4h0.8v1h-0.8zM259.4 226h0.8v1.8h-0.8zM222.1 217.5h0.8v1h-0.8zM222.1 225.9h0.8v1.5h-0.8zM220.9 217.4h0.8v1h-0.8zM220.9 226h0.8v1.7h-0.8zM236.5 217.5h0.8v1h-0.8zM236.5 225.7h0.8v1.3h-0.8zM235.1 216.9h0.8v1h-0.8zM235.1 226h0.8v1.6h-0.8zM233.8 217.2h0.8v1h-0.8zM233.8 225.9h0.8v1.8h-0.8zM229.2 217.3h0.8v1h-0.8zM229.2 225.9h0.8v1.6h-0.8zM205.2 217.4h0.8v1h-0.8zM205.2 226h0.8v1.4h-0.8zM266 217h0.8v1h-0.8zM266 225.9h0.8v1.3h-0.8z"/><path fill="#4a5fb8" fill-opacity="0.6" d="M190.4 234.3h0.8v1h-0.8zM190.4 221.2h0.8v1h-0.8zM190.3 234.4h0.8v1h-0.8zM190.3 220.6h0.8v1h-0.8zM190.5 234.4h0.8v1h-0.8zM190.5 220.7h0.8v1h-0.8zM273.4 238.8h0.8v1h-0.8zM273.4 222.1h0.8v1h-0.8zM273.3 237.8h0.8v1h-0.8zM273.3 222.1h0.8v1h-0.8zM277.4 237.5h0.8v1h-0.8zM277.4 221.9h0.8v1h-0.8zM266.6 237.3h0.8v1h-0.8zM266.6 221h0.8v1h-0.8zM266.4 237.9h0.8v1h-0.8zM266.4 222.6h0.8v1h-0.8zM272.7 238.2h0.8v1h-0.8zM272.7 222.7h0.8v1h-0.8zM275.2 236.3h0.8v1h-0.8zM275.2 222.1h0.8v1h-0.8zM269.6 237.5h0.8v1h-0.8zM269.6 221.4h0.8v1h-0.8zM273.9 237.4h0.8v1h-0.8zM273.9 222.7h0.8v1h-0.8zM276.6 237.4h0.8v1h-0.8zM276.6 221h0.8v1h-0.8zM266.3 238.7h0.8v1h-0.8zM266.3 221.4h0.8v1h-0.8zM271.7 237.6h0.8v1h-0.8zM271.7 222.1h0.8v1h-0.8zM269.2 237.8h0.8v1h-0.8zM269.2 222.6h0.8v1h-0.8zM267.8 237.8h0.8v1h-0.8zM267.8 220.9h0.8v1h-0.8zM278.3 237.4h0.8v1h-0.8zM278.3 221.2h0.8v1h-0.8zM270.4 239h0.8v1h-0.8zM270.4 222.1h0.8v1h-0.8zM269.5 237.1h0.8v1h-0.8zM269.5 221.6h0.8v1h-0.8zM269.6 236.5h0.8v1h-0.8zM269.6 221.1h0.8v1h-0.8zM267.1 237.3h0.8v1h-0.8zM267.1 222.2h0.8v1h-0.8zM272.8 237.8h0.8v1h-0.8zM272.8 221.9h0.8v1h-0.8zM269.7 236.1h0.8v1h-0.8zM269.7 221.6h0.8v1h-0.8zM276.9 237.6h0.8v1h-0.8zM276.9 221.4h0.8v1h-0.8zM269.8 238.3h0.8v1h-0.8zM269.8 222.2h0.8v1h-0.8zM274.8 237h0.8v1h-0.8zM274.8 222.6h0.8v1h-0.8z"/><path fill="#e07a7a" fill-opacity="0.6" d="M203.5 216.1h0.8v0.8h-0.8zM203.2 208.7h0.8v0.8h-0.8zM203.1 210.1h0.8v0.8h-0.8zM203.4 201.6h0.8v0.8h-0.8zM201.6 201.8h0.8v0.8h-0.8zM201.2 198.3h0.8v0.8h-0.8zM201.8 207.7h0.8v0.8h-0.8zM201.7 201.2h0.8v0.8h-0.8zM236.7 203.9h0.8v0.8h-0.8zM238.8 201.5h0.8v0.8h-0.8zM238.5 205.7h0.8v0.8h-0.8zM239.3 203.4h0.8v0.8h-0.8zM239.1 205.9h0.8v0.8h-0.8zM239.4 214.1h0.8v0.8h-0.8zM249.4 217.4h0.8v0.8h-0.8zM250.8 216.3h0.8v0.8h-0.8zM250.3 212.8h0.8v0.8h-0.8zM250.9 211.5h0.8v0.8h-0.8zM249 213.3h0.8v0.8h-0.8zM250.6 214h0.8v0.8h-0.8zM249 210.3h0.8v0.8h-0.8zM250.4 212.2h0.8v0.8h-0.8zM248.9 214.2h0.8v0.8h-0.8zM252.8 213.9h0.8v0.8h-0.8zM253.9 214.4h0.8v0.8h-0.8zM248.7 213.8h0.8v0.8h-0.8zM252.2 215.1h0.8v0.8h-0.8zM257.9 201.2h0.8v0.8h-0.8zM257.6 209.7h0.8v0.8h-0.8zM257.8 216.4h0.8v0.8h-0.8zM258.2 208.9h0.8v0.8h-0.8zM258.4 200.4h0.8v0.8h-0.8zM260.3 205.4h0.8v0.8h-0.8zM262.4 206.9h0.8v0.8h-0.8zM264.7 206.5h0.8v0.8h-0.8zM264 208h0.8v0.8h-0.8zM264.3 211.9h0.8v0.8h-0.8zM263.2 215.1h0.8v0.8h-0.8zM262.9 205.7h0.8v0.8h-0.8zM71.3 211.8h0.8v0.8h-0.8zM70 214.1h0.8v0.8h-0.8zM70.9 211.1h0.8v0.8h-0.8zM69.5 211.9h0.8v0.8h-0.8zM70 216.3h0.8v0.8h-0.8zM70.2 214.3h0.8v0.8h-0.8zM100.8 215.3h0.8v0.8h-0.8zM100.8 212.8h0.8v0.8h-0.8zM99.9 205.3h0.8v0.8h-0.8zM100.8 209.4h0.8v0.8h-0.8zM101.3 211.2h0.8v0.8h-0.8zM99.7 206.2h0.8v0.8h-0.8zM109.2 214.8h0.8v0.8h-0.8zM110.1 217.8h0.8v0.8h-0.8zM111.6 216.6h0.8v0.8h-0.8zM109.7 217.1h0.8v0.8h-0.8zM110.1 215.8h0.8v0.8h-0.8zM111.5 213.3h0.8v0.8h-0.8z"/><path fill="#e3a9a9" fill-opacity="0.45" d="M268.1 204.4h0.7V217.8h-0.7zM89.7 211h0.7V217.8h-0.7zM187.4 201.9h0.7V217.8h-0.7zM209.5 206h0.7V217.8h-0.7zM135.9 207.5h0.7V217.8h-0.7zM102.2 203.5h0.7V217.8h-0.7zM265.8 210.1h0.7V217.8h-0.7zM101.2 203.6h0.7V217.8h-0.7zM96.8 204.9h0.7V217.8h-0.7zM64.3 202.1h0.7V217.8h-0.7z"/><path fill="#cfc2c2" fill-opacity="0.45" d="M152.9 206.2h0.7V217.8h-0.7zM73.7 207.2h0.7V217.8h-0.7zM216.3 206.4h0.7V217.8h-0.7zM134.5 203.5h0.7V217.8h-0.7zM230.4 205.8h0.7V217.8h-0.7zM80.9 204.3h0.7V217.8h-0.7zM263.4 207.6h0.7V217.8h-0.7zM259.7 211.1h0.7V217.8h-0.7zM145.7 207.3h0.7V217.8h-0.7zM146.8 213.1h0.7V217.8h-0.7z"/><path fill="#d9b3b3" fill-opacity="0.45" d="M234.2 210.7h0.7V217.8h-0.7zM74.5 202.8h0.7V217.8h-0.7zM77.6 213.1h0.7V217.8h-0.7zM229.1 205.7h0.7V217.8h-0.7zM147.2 200.8h0.7V217.8h-0.7zM147 207.6h0.7V217.8h-0.7zM256.7 205.1h0.7V217.8h-0.7zM252.9 209.3h0.7V217.8h-0.7zM152.9 203.4h0.7V217.8h-0.7zM127.3 206.8h0.7V217.8h-0.7z"/><path fill="#b9c0e0" fill-opacity="0.4" d="M273.9 226.3h0.7V244.4h-0.7zM85.3 226.3h0.7V243.2h-0.7zM241.3 226.3h0.7V237.5h-0.7zM273.6 226.3h0.7V232.2h-0.7zM111.9 226.3h0.7V237.2h-0.7z"/><path fill="#cfcfcf" fill-opacity="0.4" d="M168.9 226.3h0.7V239.7h-0.7zM89.1 226.3h0.7V234.2h-0.7zM201.2 226.3h0.7V242.3h-0.7zM129.9 226.3h0.7V232.6h-0.7zM232.2 226.3h0.7V233.1h-0.7zM257.2 226.3h0.7V237.5h-0.7zM224 226.3h0.7V239.8h-0.7zM122.4 226.3h0.7V232.9h-0.7zM110.3 226.3h0.7V230.8h-0.7z"/><path fill="#c8c8d8" fill-opacity="0.4" d="M173.6 226.3h0.7V243.5h-0.7zM109.3 226.3h0.7V241.3h-0.7zM175.7 226.3h0.7V232.1h-0.7zM253.1 226.3h0.7V241.4h-0.7zM249.4 226.3h0.7V231.9h-0.7zM230.8 226.3h0.7V236.5h-0.7z"/><line x1="79.6" y1="217.3" x2="79.6" y2="226.8" stroke="#fff" stroke-width="0.8" stroke-opacity="0.9"/><line x1="96.8" y1="217.3" x2="96.8" y2="226.8" stroke="#fff" stroke-width="0.8" stroke-opacity="0.9"/><line x1="110.8" y1="217.3" x2="110.8" y2="226.8" stroke="#fff" stroke-width="0.8" stroke-opacity="0.9"/><line x1="124.3" y1="217.3" x2="124.3" y2="226.8" stroke="#fff" stroke-width="0.8" stroke-opacity="0.9"/><line x1="137.1" y1="217.3" x2="137.1" y2="226.8" stroke="#fff" stroke-width="0.8" stroke-opacity="0.9"/><line x1="149.2" y1="217.3" x2="149.2" y2="226.8" stroke="#fff" stroke-width="0.8" stroke-opacity="0.9"/><line x1="160.4" y1="217.3" x2="160.4" y2="226.8" stroke="#fff" stroke-width="0.8" stroke-opacity="0.9"/><line x1="170.7" y1="217.3" x2="170.7" y2="226.8" stroke="#fff" stroke-width="0.8" stroke-opacity="0.9"/><line x1="180.7" y1="217.3" x2="180.7" y2="226.8" stroke="#fff" stroke-width="0.8" stroke-opacity="0.9"/><line x1="190.3" y1="217.3" x2="190.3" y2="226.8" stroke="#fff" stroke-width="0.8" stroke-opacity="0.9"/><line x1="199.8" y1="217.3" x2="199.8" y2="226.8" stroke="#fff" stroke-width="0.8" stroke-opacity="0.9"/><line x1="209.2" y1="217.3" x2="209.2" y2="226.8" stroke="#fff" stroke-width="0.8" stroke-opacity="0.9"/><line x1="217.4" y1="217.3" x2="217.4" y2="226.8" stroke="#fff" stroke-width="0.8" stroke-opacity="0.9"/><line x1="224.9" y1="217.3" x2="224.9" y2="226.8" stroke="#fff" stroke-width="0.8" stroke-opacity="0.9"/><line x1="232.1" y1="217.3" x2="232.1" y2="226.8" stroke="#fff" stroke-width="0.8" stroke-opacity="0.9"/><line x1="238.5" y1="217.3" x2="238.5" y2="226.8" stroke="#fff" stroke-width="0.8" stroke-opacity="0.9"/><line x1="244.4" y1="217.3" x2="244.4" y2="226.8" stroke="#fff" stroke-width="0.8" stroke-opacity="0.9"/><line x1="249.9" y1="217.3" x2="249.9" y2="226.8" stroke="#fff" stroke-width="0.8" stroke-opacity="0.9"/><line x1="254.1" y1="217.3" x2="254.1" y2="226.8" stroke="#fff" stroke-width="0.8" stroke-opacity="0.9"/><line x1="258.5" y1="217.3" x2="258.5" y2="226.8" stroke="#fff" stroke-width="0.8" stroke-opacity="0.9"/><line x1="261.9" y1="217.3" x2="261.9" y2="226.8" stroke="#fff" stroke-width="0.8" stroke-opacity="0.9"/><line x1="265.5" y1="217.3" x2="265.5" y2="226.8" stroke="#fff" stroke-width="0.8" stroke-opacity="0.9"/><line x1="276.5" y1="217.3" x2="276.5" y2="226.8" stroke="#fff" stroke-width="0.8" stroke-opacity="0.9"/><path fill="#bbbbbb" fill-opacity="0.55" d="M242.8 295.7h0.7v0.7h-0.7zM225.9 278.3h0.7v0.7h-0.7zM127.2 298.1h0.7v0.7h-0.7zM172.3 281.5h0.7v0.7h-0.7zM124.6 271.1h0.7v0.7h-0.7zM162.2 281.6h0.7v0.7h-0.7zM264.6 278.9h0.7v0.7h-0.7zM85.7 295.5h0.7v0.7h-0.7zM239.3 295.1h0.7v0.7h-0.7zM63.4 293.2h0.7v0.7h-0.7zM150.8 297.1h0.7v0.7h-0.7zM92.7 264.6h0.7v0.7h-0.7zM124.3 270.6h0.7v0.7h-0.7zM63.1 306.8h0.7v0.7h-0.7zM234.5 297.8h0.7v0.7h-0.7zM75.8 280.7h0.7v0.7h-0.7zM222.4 269.6h0.7v0.7h-0.7zM197.8 292.2h0.7v0.7h-0.7zM88.1 264.5h0.7v0.7h-0.7zM271 266.3h0.7v0.7h-0.7zM169.1 281.5h0.7v0.7h-0.7zM273 294.9h0.7v0.7h-0.7zM166.5 278.4h0.7v0.7h-0.7zM139.5 293h0.7v0.7h-0.7zM182.6 292.2h0.7v0.7h-0.7zM223.4 301.2h0.7v0.7h-0.7zM122.2 281.8h0.7v0.7h-0.7zM247.1 281.1h0.7v0.7h-0.7zM227.1 268.8h0.7v0.7h-0.7zM142.2 265.4h0.7v0.7h-0.7zM139 294.2h0.7v0.7h-0.7zM238.9 299.2h0.7v0.7h-0.7zM260.9 264.4h0.7v0.7h-0.7zM263.6 293.9h0.7v0.7h-0.7zM194.2 267.5h0.7v0.7h-0.7zM178.1 270.3h0.7v0.7h-0.7z"/><path fill="#cfcfcf" fill-opacity="0.55" d="M273.2 264.4h0.7v0.7h-0.7zM277.3 295.9h0.7v0.7h-0.7zM268.1 298.4h0.7v0.7h-0.7zM122.6 298.2h0.7v0.7h-0.7zM180.9 299.9h0.7v0.7h-0.7zM81.5 268.3h0.7v0.7h-0.7zM95.3 271.6h0.7v0.7h-0.7zM204.7 310.4h0.7v0.7h-0.7zM253 299.2h0.7v0.7h-0.7zM192.5 281.4h0.7v0.7h-0.7zM84.8 281h0.7v0.7h-0.7zM233 281.9h0.7v0.7h-0.7zM208.2 308.4h0.7v0.7h-0.7zM185 268.1h0.7v0.7h-0.7zM111.3 296.4h0.7v0.7h-0.7zM77.7 293.1h0.7v0.7h-0.7zM206.6 303.7h0.7v0.7h-0.7zM132.7 272.5h0.7v0.7h-0.7zM237.4 304.1h0.7v0.7h-0.7zM183.1 271.6h0.7v0.7h-0.7zM170.4 277.4h0.7v0.7h-0.7zM260.3 266.5h0.7v0.7h-0.7zM265.4 272.4h0.7v0.7h-0.7zM218.5 275.6h0.7v0.7h-0.7zM115.7 273.5h0.7v0.7h-0.7zM259.6 268.9h0.7v0.7h-0.7zM247 293.6h0.7v0.7h-0.7zM202.4 265.5h0.7v0.7h-0.7zM92 302.9h0.7v0.7h-0.7zM200.8 270.5h0.7v0.7h-0.7zM93.7 294.9h0.7v0.7h-0.7zM81.2 294.3h0.7v0.7h-0.7zM151.9 271.8h0.7v0.7h-0.7zM220.6 272.3h0.7v0.7h-0.7zM104.3 299h0.7v0.7h-0.7zM273.9 274.1h0.7v0.7h-0.7zM255.6 273.7h0.7v0.7h-0.7zM138.3 266h0.7v0.7h-0.7zM129.2 263.9h0.7v0.7h-0.7zM189.3 269.1h0.7v0.7h-0.7zM66.6 269.1h0.7v0.7h-0.7z"/><path fill="#e07a7a" fill-opacity="0.55" d="M215.1 303.7h0.7v0.7h-0.7zM155.5 281.4h0.7v0.7h-0.7zM177.6 307.4h0.7v0.7h-0.7zM193.5 279h0.7v0.7h-0.7zM276.5 272.8h0.7v0.7h-0.7zM137.1 278.1h0.7v0.7h-0.7zM195.9 269.9h0.7v0.7h-0.7zM180.9 308h0.7v0.7h-0.7zM253 269.6h0.7v0.7h-0.7zM85.8 292.5h0.7v0.7h-0.7zM232.3 303h0.7v0.7h-0.7zM159.7 296.7h0.7v0.7h-0.7zM204.6 303.5h0.7v0.7h-0.7zM100 273.6h0.7v0.7h-0.7zM83.3 279.2h0.7v0.7h-0.7zM235.4 298.8h0.7v0.7h-0.7zM111.5 301.2h0.7v0.7h-0.7zM277.2 310.1h0.7v0.7h-0.7zM187.7 271.3h0.7v0.7h-0.7zM142.2 305.6h0.7v0.7h-0.7zM215.1 274.7h0.7v0.7h-0.7zM156 270.8h0.7v0.7h-0.7zM188 273h0.7v0.7h-0.7zM170.5 266.5h0.7v0.7h-0.7zM115.6 265.6h0.7v0.7h-0.7zM240.9 295.4h0.7v0.7h-0.7zM201.4 308h0.7v0.7h-0.7zM196.9 265.4h0.7v0.7h-0.7zM268.8 308h0.7v0.7h-0.7zM225 293h0.7v0.7h-0.7zM160.5 303.7h0.7v0.7h-0.7zM221.5 275.7h0.7v0.7h-0.7zM275.5 307.9h0.7v0.7h-0.7zM200.4 306.4h0.7v0.7h-0.7zM213.9 263.8h0.7v0.7h-0.7zM75 274h0.7v0.7h-0.7zM178 271.5h0.7v0.7h-0.7zM111.9 298h0.7v0.7h-0.7zM169.5 267.3h0.7v0.7h-0.7zM167.1 269.9h0.7v0.7h-0.7zM229.7 294.8h0.7v0.7h-0.7zM149.5 264.8h0.7v0.7h-0.7zM92.7 268.1h0.7v0.7h-0.7z"/><path fill="#9aa8d8" fill-opacity="0.55" d="M144.3 275.6h0.7v0.7h-0.7zM87.4 276.9h0.7v0.7h-0.7zM158.5 309.9h0.7v0.7h-0.7zM199.7 305.5h0.7v0.7h-0.7zM150.1 309.2h0.7v0.7h-0.7zM145.6 281.7h0.7v0.7h-0.7zM115.6 265.6h0.7v0.7h-0.7zM278.5 306.2h0.7v0.7h-0.7zM228.7 280.2h0.7v0.7h-0.7zM121.6 271.6h0.7v0.7h-0.7zM244.7 309.6h0.7v0.7h-0.7zM268.2 275.7h0.7v0.7h-0.7zM99.5 305.8h0.7v0.7h-0.7zM210.4 293.2h0.7v0.7h-0.7zM80.9 269.2h0.7v0.7h-0.7zM67.3 270.2h0.7v0.7h-0.7zM155.3 295.3h0.7v0.7h-0.7zM193.1 304.9h0.7v0.7h-0.7zM280.1 292.2h0.7v0.7h-0.7zM171.5 267.7h0.7v0.7h-0.7zM205.2 297.7h0.7v0.7h-0.7zM81.8 265.3h0.7v0.7h-0.7zM172.9 309.7h0.7v0.7h-0.7zM272.3 273.6h0.7v0.7h-0.7zM205.6 306.7h0.7v0.7h-0.7zM101.4 293.2h0.7v0.7h-0.7zM234.5 299.1h0.7v0.7h-0.7zM166.7 281.7h0.7v0.7h-0.7zM76.7 295h0.7v0.7h-0.7zM120.4 309.8h0.7v0.7h-0.7zM277.5 297.3h0.7v0.7h-0.7zM274.3 271.7h0.7v0.7h-0.7zM135.5 292.6h0.7v0.7h-0.7zM261.4 294.9h0.7v0.7h-0.7zM210.5 303.9h0.7v0.7h-0.7zM129.1 301.7h0.7v0.7h-0.7z"/><path fill="#e5a0a0" fill-opacity="0.55" d="M91.9 298.3h0.7v0.7h-0.7zM240.7 308.8h0.7v0.7h-0.7zM192.2 274.5h0.7v0.7h-0.7zM139.5 306h0.7v0.7h-0.7zM117.2 281.6h0.7v0.7h-0.7zM278.4 267.8h0.7v0.7h-0.7zM79.2 294.6h0.7v0.7h-0.7zM219.3 308.8h0.7v0.7h-0.7zM250.6 275.9h0.7v0.7h-0.7zM157.2 262.9h0.7v0.7h-0.7zM147.9 276.8h0.7v0.7h-0.7zM81.1 304.2h0.7v0.7h-0.7zM108 298.2h0.7v0.7h-0.7zM110.8 274.3h0.7v0.7h-0.7zM79.3 276.2h0.7v0.7h-0.7zM121.3 276.4h0.7v0.7h-0.7zM138.8 276.3h0.7v0.7h-0.7zM152.4 307.6h0.7v0.7h-0.7zM225.3 278h0.7v0.7h-0.7zM265.1 265.1h0.7v0.7h-0.7zM74.3 266.6h0.7v0.7h-0.7zM197.5 297.7h0.7v0.7h-0.7zM125.8 300.9h0.7v0.7h-0.7zM221.8 273.7h0.7v0.7h-0.7zM276.1 306h0.7v0.7h-0.7zM271.8 276.5h0.7v0.7h-0.7zM199.6 302.4h0.7v0.7h-0.7zM99.3 275.7h0.7v0.7h-0.7zM171.6 302.9h0.7v0.7h-0.7zM132.2 298.4h0.7v0.7h-0.7zM105.3 294.7h0.7v0.7h-0.7zM264.9 262.5h0.7v0.7h-0.7zM216 306h0.7v0.7h-0.7zM261.2 266.8h0.7v0.7h-0.7zM252.8 306.1h0.7v0.7h-0.7zM173.8 296.9h0.7v0.7h-0.7zM255.2 296h0.7v0.7h-0.7zM228.5 278.6h0.7v0.7h-0.7zM266.4 307.1h0.7v0.7h-0.7zM208.2 263.9h0.7v0.7h-0.7zM272.7 269h0.7v0.7h-0.7zM92.6 302.3h0.7v0.7h-0.7zM131.3 276h0.7v0.7h-0.7zM72.9 308h0.7v0.7h-0.7zM102.2 305.2h0.7v0.7h-0.7zM74.4 310h0.7v0.7h-0.7zM216.1 306.1h0.7v0.7h-0.7zM63.1 279.4h0.7v0.7h-0.7zM211.4 273.1h0.7v0.7h-0.7z"/><path fill="#999" fill-opacity="0.5" d="M78.9 272h0.7v0.7h-0.7zM79.1 273.1h0.7v0.7h-0.7zM78.8 262.9h0.7v0.7h-0.7zM80.2 301.2h0.7v0.7h-0.7zM78.9 304h0.7v0.7h-0.7zM80.2 263.6h0.7v0.7h-0.7zM96.5 280.5h0.7v0.7h-0.7zM96.8 296.1h0.7v0.7h-0.7zM96.2 278.3h0.7v0.7h-0.7zM97.1 268h0.7v0.7h-0.7zM96 306h0.7v0.7h-0.7zM96.8 273.2h0.7v0.7h-0.7zM110.8 275.3h0.7v0.7h-0.7zM110.4 286.6h0.7v0.7h-0.7zM110.6 268.1h0.7v0.7h-0.7zM110.2 301.4h0.7v0.7h-0.7zM111.3 288.3h0.7v0.7h-0.7zM110.5 289.9h0.7v0.7h-0.7zM124.7 307.1h0.7v0.7h-0.7zM124 310.4h0.7v0.7h-0.7zM124.2 285.7h0.7v0.7h-0.7zM124.5 302.8h0.7v0.7h-0.7zM124.3 288.9h0.7v0.7h-0.7zM124 305.3h0.7v0.7h-0.7zM136.6 268.8h0.7v0.7h-0.7zM136.4 274.2h0.7v0.7h-0.7zM137.2 309.4h0.7v0.7h-0.7zM137 300.8h0.7v0.7h-0.7zM136.6 287.5h0.7v0.7h-0.7zM136.9 305.3h0.7v0.7h-0.7zM149.5 282h0.7v0.7h-0.7zM150 304.2h0.7v0.7h-0.7zM149 285.6h0.7v0.7h-0.7zM149 302.2h0.7v0.7h-0.7zM149.1 272.2h0.7v0.7h-0.7zM148.8 277.2h0.7v0.7h-0.7zM160.2 299.6h0.7v0.7h-0.7zM160.1 292.5h0.7v0.7h-0.7zM160.8 268h0.7v0.7h-0.7zM160.7 299.7h0.7v0.7h-0.7zM159.9 291.8h0.7v0.7h-0.7zM160.9 286.6h0.7v0.7h-0.7zM170.9 300.1h0.7v0.7h-0.7zM170.2 292.8h0.7v0.7h-0.7zM171.3 265.2h0.7v0.7h-0.7zM170.3 263.4h0.7v0.7h-0.7zM171 281.7h0.7v0.7h-0.7zM171.3 295.9h0.7v0.7h-0.7zM180.3 307.1h0.7v0.7h-0.7zM180.1 274.4h0.7v0.7h-0.7zM180.1 278.3h0.7v0.7h-0.7zM180.8 308.6h0.7v0.7h-0.7zM180 286.1h0.7v0.7h-0.7zM180.3 306.3h0.7v0.7h-0.7zM189.8 299.4h0.7v0.7h-0.7zM189.7 275.5h0.7v0.7h-0.7zM190 288.2h0.7v0.7h-0.7zM190.6 289.9h0.7v0.7h-0.7zM189.7 273.3h0.7v0.7h-0.7zM190.1 287.2h0.7v0.7h-0.7zM199.6 283.9h0.7v0.7h-0.7zM199.2 270.4h0.7v0.7h-0.7zM200.1 297.4h0.7v0.7h-0.7zM200.1 295.5h0.7v0.7h-0.7zM199.4 287.1h0.7v0.7h-0.7zM199.9 306.4h0.7v0.7h-0.7zM208.9 284.5h0.7v0.7h-0.7zM210 280.6h0.7v0.7h-0.7zM209.7 282h0.7v0.7h-0.7zM209.4 268.5h0.7v0.7h-0.7zM208.8 275.5h0.7v0.7h-0.7zM209.1 277.1h0.7v0.7h-0.7zM217.2 293.4h0.7v0.7h-0.7zM216.8 303.8h0.7v0.7h-0.7zM217.3 303.6h0.7v0.7h-0.7zM217.2 300.5h0.7v0.7h-0.7zM218 274.8h0.7v0.7h-0.7zM217.7 293.1h0.7v0.7h-0.7zM225.3 287.6h0.7v0.7h-0.7zM225.3 308.4h0.7v0.7h-0.7zM224.7 309h0.7v0.7h-0.7zM225.6 276.8h0.7v0.7h-0.7zM225.6 302.5h0.7v0.7h-0.7zM224.8 283.4h0.7v0.7h-0.7zM231.7 308h0.7v0.7h-0.7zM231.6 270.5h0.7v0.7h-0.7zM232 277h0.7v0.7h-0.7zM232.1 280.9h0.7v0.7h-0.7zM231.9 264.2h0.7v0.7h-0.7zM231.4 286.9h0.7v0.7h-0.7zM239.2 285.6h0.7v0.7h-0.7zM239.2 293.9h0.7v0.7h-0.7zM238.5 303.8h0.7v0.7h-0.7zM237.8 263.5h0.7v0.7h-0.7zM239.1 290.2h0.7v0.7h-0.7zM237.9 278.4h0.7v0.7h-0.7zM244.4 298.9h0.7v0.7h-0.7zM243.8 285h0.7v0.7h-0.7zM244.5 289.1h0.7v0.7h-0.7zM245 296.6h0.7v0.7h-0.7zM244.9 266.1h0.7v0.7h-0.7zM244.2 277.9h0.7v0.7h-0.7zM250.4 279h0.7v0.7h-0.7zM249.2 283.7h0.7v0.7h-0.7zM249.3 285.3h0.7v0.7h-0.7zM249.2 263.3h0.7v0.7h-0.7zM249.8 280.8h0.7v0.7h-0.7zM249.3 262.5h0.7v0.7h-0.7zM254.1 305.8h0.7v0.7h-0.7zM254.1 309.5h0.7v0.7h-0.7zM254.4 308.3h0.7v0.7h-0.7zM253.3 281.1h0.7v0.7h-0.7zM254.5 269.6h0.7v0.7h-0.7zM253.7 294.3h0.7v0.7h-0.7zM258.7 270.3h0.7v0.7h-0.7zM258.1 307.1h0.7v0.7h-0.7zM258.6 310.4h0.7v0.7h-0.7zM258 272.5h0.7v0.7h-0.7zM259.2 296.7h0.7v0.7h-0.7zM258.1 272.3h0.7v0.7h-0.7zM261.4 269.4h0.7v0.7h-0.7zM261.8 273.3h0.7v0.7h-0.7zM262.2 273.9h0.7v0.7h-0.7zM261.5 274h0.7v0.7h-0.7zM261.4 282.6h0.7v0.7h-0.7zM261.3 265h0.7v0.7h-0.7zM265.8 262.7h0.7v0.7h-0.7zM265.5 264.9h0.7v0.7h-0.7zM265.7 305.2h0.7v0.7h-0.7zM265.4 277.2h0.7v0.7h-0.7zM265.2 283h0.7v0.7h-0.7zM265 265.1h0.7v0.7h-0.7zM276 269.4h0.7v0.7h-0.7zM275.8 278.4h0.7v0.7h-0.7zM276 292.1h0.7v0.7h-0.7zM276.8 287h0.7v0.7h-0.7zM276.9 286.4h0.7v0.7h-0.7zM276.4 299.9h0.7v0.7h-0.7z"/><rect x="62" y="283" width="26" height="7.8" fill="#9acc52" /><rect x="95.6" y="283" width="16.4" height="7.8" fill="#9acc52" /><rect x="122" y="283" width="15.6" height="7.8" fill="#9acc52" /><rect x="145.4" y="283" width="5.6" height="7.8" fill="#9acc52" /><rect x="155" y="283" width="2.6" height="7.8" fill="#9acc52" /><rect x="175" y="283" width="11.6" height="7.8" fill="#9acc52" /><rect x="196.5" y="283" width="10" height="7.8" fill="#9acc52" /><rect x="214.2" y="283" width="8.8" height="7.8" fill="#9acc52" /><rect x="228.6" y="283" width="4.4" height="7.8" fill="#9acc52" /><rect x="236.4" y="283" width="5.6" height="7.8" fill="#9acc52" /><rect x="247.4" y="283" width="11.1" height="7.8" fill="#9acc52" /><rect x="263" y="283" width="1" height="7.8" fill="#9acc52" /><rect x="88" y="286.5" width="7.6" height="10" fill="#3446a6" /><rect x="112" y="286.5" width="10" height="10" fill="#3446a6" /><rect x="137.6" y="286.5" width="7.8" height="12" fill="#3446a6" /><rect x="151" y="286.5" width="4" height="13.5" fill="#3446a6" /><rect x="168.6" y="286.5" width="6.4" height="10" fill="#3446a6" /><rect x="206.5" y="286.5" width="7.7" height="10" fill="#3446a6" /><rect x="223" y="286.5" width="5.6" height="10" fill="#3446a6" /><rect x="233" y="286.5" width="3.4" height="10" fill="#3446a6" /><rect x="242" y="286.5" width="5.4" height="10" fill="#3446a6" /><rect x="258.5" y="286.5" width="4.5" height="10" fill="#3446a6" /><rect x="264" y="286.5" width="14.4" height="10" fill="#3446a6" /><rect x="186.6" y="280.3" width="9.9" height="7.4" fill="#c92430" /><rect x="157.6" y="275" width="11" height="13" fill="#c92430" /><rect x="200.3" y="266" width="3.7" height="17.5" fill="#c92430" /><rect x="252.5" y="276" width="4.5" height="8" fill="#c92430" /><rect x="240" y="278" width="2.5" height="6" fill="#c92430" /><path fill="#d42a2a" fill-opacity="0.85" d="M72.2 284.5 L72.3 276.9 L72.9 274.2 L73.1 272 L73.3 272.3 L73.5 274.8 L73.6 277.5 L74.1 284.5Z"/><path fill="#d42a2a" fill-opacity="0.85" d="M76.6 284.5 L76.9 276.9 L77.2 274.2 L77.5 272 L77.7 272.5 L77.9 274.8 L78.3 277.5 L78.5 284.5Z"/><path fill="#d42a2a" fill-opacity="0.85" d="M84.3 284.5 L84.7 276.9 L85 274.2 L85.2 272 L85.4 272.1 L85.6 274.8 L85.9 277.5 L86.2 284.5Z"/><path fill="#d42a2a" fill-opacity="0.85" d="M95.8 284.5 L96.2 279.1 L96.7 277.4 L97 276 L97.3 276.9 L97.7 277.8 L98.3 279.5 L98.5 284.5Z"/><path fill="#d42a2a" fill-opacity="0.85" d="M98 284.5 L98.2 279.9 L98.9 278.5 L99.3 277.4 L99.6 277.9 L99.9 278.8 L100.5 280.2 L100.7 284.5Z"/><path fill="#d42a2a" fill-opacity="0.85" d="M100.3 284.5 L100.5 279.3 L101.2 277.5 L101.5 276.2 L101.8 277.4 L102.2 277.9 L102.7 279.6 L103 284.5Z"/><path fill="#d42a2a" fill-opacity="0.85" d="M102.5 284.5 L102.9 280 L103.4 278.6 L103.8 277.5 L104.1 278.3 L104.4 278.9 L104.9 280.2 L105.2 284.5Z"/><path fill="#d42a2a" fill-opacity="0.85" d="M121.8 284.5 L122 272.6 L122.7 267.8 L123 264 L123.4 265.1 L123.7 268.8 L124.2 273.5 L124.5 284.5Z"/><path fill="#d42a2a" fill-opacity="0.85" d="M124.1 284.5 L124.5 275.1 L125 271.6 L125.3 268.7 L125.7 269.5 L126 272.3 L126.4 275.9 L126.8 284.5Z"/><path fill="#d42a2a" fill-opacity="0.85" d="M139.8 284.5 L139.9 278.6 L140.4 276.6 L140.7 275 L140.9 275.7 L141.1 277 L141.4 279 L141.7 284.5Z"/><path fill="#d42a2a" fill-opacity="0.85" d="M157.4 284.5 L157.6 271.4 L158.2 266.2 L158.4 262 L158.7 263.8 L159 267.2 L159.2 272.5 L159.6 284.5Z"/><path fill="#d42a2a" fill-opacity="0.85" d="M159.2 284.5 L159.6 274 L160 269.9 L160.3 266.6 L160.5 267.8 L160.8 270.7 L161 274.8 L161.5 284.5Z"/><path fill="#d42a2a" fill-opacity="0.85" d="M161.1 284.5 L161.2 271.7 L161.8 266.6 L162.1 262.4 L162.4 264.3 L162.6 267.6 L163.2 272.7 L163.3 284.5Z"/><path fill="#d42a2a" fill-opacity="0.85" d="M162.9 284.5 L163 273 L163.7 268.5 L163.9 264.8 L164.2 266.1 L164.5 269.4 L164.7 273.9 L165.1 284.5Z"/><path fill="#d42a2a" fill-opacity="0.85" d="M164.7 284.5 L165.2 276.1 L165.5 272.9 L165.8 270.4 L166 272 L166.3 273.6 L166.8 276.7 L167 284.5Z"/><path fill="#d42a2a" fill-opacity="0.85" d="M166.6 284.5 L167 275.5 L167.3 272.1 L167.6 269.4 L167.9 270.1 L168.1 272.8 L168.6 276.2 L168.8 284.5Z"/><path fill="#d42a2a" fill-opacity="0.85" d="M199.7 284.5 L200.1 271.2 L200.6 265.8 L200.9 261.5 L201.2 262 L201.6 266.9 L201.8 272.2 L202.3 284.5Z"/><path fill="#d42a2a" fill-opacity="0.85" d="M201.9 284.5 L202.1 275.7 L202.8 272.5 L203.1 269.8 L203.4 270.3 L203.8 273.1 L204.1 276.4 L204.5 284.5Z"/><path fill="#d42a2a" fill-opacity="0.85" d="M230.6 284.5 L230.7 280.2 L231.2 279 L231.5 278 L231.7 278.1 L231.9 279.2 L232.3 280.5 L232.5 284.5Z"/><path fill="#d42a2a" fill-opacity="0.85" d="M239.8 284.5 L240 280.2 L240.4 279 L240.7 278 L240.9 279 L241.1 279.2 L241.3 280.5 L241.7 284.5Z"/><path fill="#d42a2a" fill-opacity="0.85" d="M241.3 284.5 L241.4 281.1 L241.9 280.2 L242.2 279.6 L242.4 280.1 L242.6 280.4 L243 281.3 L243.2 284.5Z"/><path fill="#d42a2a" fill-opacity="0.85" d="M251.7 284.5 L251.9 278.6 L252.5 276.6 L252.7 275 L253 276.8 L253.3 277 L253.6 279 L253.9 284.5Z"/><path fill="#d42a2a" fill-opacity="0.85" d="M253.5 284.5 L253.9 280.5 L254.3 279.4 L254.6 278.5 L254.8 280 L255.1 279.6 L255.4 280.8 L255.8 284.5Z"/><path fill="#d42a2a" fill-opacity="0.85" d="M255.4 284.5 L255.7 280.6 L256.1 279.5 L256.4 278.6 L256.7 279.9 L256.9 279.7 L257.3 280.8 L257.6 284.5Z"/><path fill="#a9d46c" fill-opacity="0.7" d="M67.5 282.8h0.8v1h-0.8zM67.5 290.3h0.8v1.2h-0.8zM69.6 282.7h0.8v1h-0.8zM69.6 290.5h0.8v1.9h-0.8zM74.3 282.2h0.8v1h-0.8zM74.3 290.3h0.8v1.1h-0.8zM67.9 282.2h0.8v1h-0.8zM67.9 290.5h0.8v1.5h-0.8zM86.3 282.5h0.8v1h-0.8zM86.3 290.4h0.8v1.9h-0.8zM84.4 282.2h0.8v1h-0.8zM84.4 290.3h0.8v1.1h-0.8zM63.2 282.8h0.8v1h-0.8zM63.2 290.2h0.8v1.5h-0.8zM85 282.1h0.8v1h-0.8zM85 290.5h0.8v2h-0.8zM69.1 282.7h0.8v1h-0.8zM69.1 290.5h0.8v2h-0.8zM86.4 282.6h0.8v1h-0.8zM86.4 290.4h0.8v1.8h-0.8zM82.9 282.2h0.8v1h-0.8zM82.9 290.5h0.8v1.1h-0.8zM75.3 282.1h0.8v1h-0.8zM75.3 290.4h0.8v1.8h-0.8zM67.1 282.4h0.8v1h-0.8zM67.1 290.2h0.8v1.5h-0.8zM82.6 282.2h0.8v1h-0.8zM82.6 290.4h0.8v1.6h-0.8zM80 282.5h0.8v1h-0.8zM80 290.4h0.8v1.8h-0.8zM84.9 282.1h0.8v1h-0.8zM84.9 290.5h0.8v1.6h-0.8zM76.3 282.2h0.8v1h-0.8zM76.3 290.5h0.8v1.4h-0.8zM68.7 282.2h0.8v1h-0.8zM68.7 290.3h0.8v0.8h-0.8zM64.8 282.7h0.8v1h-0.8zM64.8 290.4h0.8v1.7h-0.8zM70.9 282.7h0.8v1h-0.8zM70.9 290.4h0.8v1.5h-0.8zM73.2 282.6h0.8v1h-0.8zM73.2 290.5h0.8v1.1h-0.8zM83.1 282.5h0.8v1h-0.8zM83.1 290.3h0.8v1.5h-0.8zM68 282.6h0.8v1h-0.8zM68 290.3h0.8v1.8h-0.8zM85.9 282.7h0.8v1h-0.8zM85.9 290.5h0.8v0.9h-0.8zM66.9 282.5h0.8v1h-0.8zM66.9 290.3h0.8v1.9h-0.8zM77.4 282.7h0.8v1h-0.8zM77.4 290.4h0.8v1h-0.8zM69.3 282.4h0.8v1h-0.8zM69.3 290.4h0.8v1h-0.8zM69.2 282.2h0.8v1h-0.8zM69.2 290.3h0.8v1.5h-0.8zM70.4 282.6h0.8v1h-0.8zM70.4 290.3h0.8v0.8h-0.8zM79 282.1h0.8v1h-0.8zM79 290.3h0.8v0.9h-0.8zM62.9 282.3h0.8v1h-0.8zM62.9 290.5h0.8v1.3h-0.8zM78.9 282.3h0.8v1h-0.8zM78.9 290.5h0.8v1.6h-0.8zM85.8 282.5h0.8v1h-0.8zM85.8 290.4h0.8v1.6h-0.8zM84.7 282.3h0.8v1h-0.8zM84.7 290.2h0.8v1.7h-0.8zM86.9 282.6h0.8v1h-0.8zM86.9 290.3h0.8v1.1h-0.8zM65.1 282.6h0.8v1h-0.8zM65.1 290.2h0.8v1.2h-0.8zM70 282.2h0.8v1h-0.8zM70 290.2h0.8v1.7h-0.8zM71.2 282.2h0.8v1h-0.8zM71.2 290.6h0.8v0.8h-0.8zM63.6 282.6h0.8v1h-0.8zM63.6 290.5h0.8v1.8h-0.8zM102.9 282.2h0.8v1h-0.8zM102.9 290.4h0.8v1.2h-0.8zM101.2 282.8h0.8v1h-0.8zM101.2 290.4h0.8v1.9h-0.8zM111.5 282.1h0.8v1h-0.8zM111.5 290.6h0.8v1.3h-0.8zM109.3 282.7h0.8v1h-0.8zM109.3 290.6h0.8v1h-0.8zM97 282.3h0.8v1h-0.8zM97 290.3h0.8v2h-0.8zM96.4 282.3h0.8v1h-0.8zM96.4 290.3h0.8v1h-0.8zM96.9 282.1h0.8v1h-0.8zM96.9 290.3h0.8v0.9h-0.8zM98.7 282.3h0.8v1h-0.8zM98.7 290.5h0.8v1.3h-0.8zM98.1 282.7h0.8v1h-0.8zM98.1 290.4h0.8v1.5h-0.8zM109.5 282.8h0.8v1h-0.8zM109.5 290.5h0.8v0.9h-0.8zM104.7 282.7h0.8v1h-0.8zM104.7 290.5h0.8v2h-0.8zM106.3 282.3h0.8v1h-0.8zM106.3 290.4h0.8v1h-0.8zM106.8 282.1h0.8v1h-0.8zM106.8 290.6h0.8v1.8h-0.8zM101.2 282.7h0.8v1h-0.8zM101.2 290.3h0.8v1.8h-0.8zM98.3 282.7h0.8v1h-0.8zM98.3 290.4h0.8v1h-0.8zM103.9 282.1h0.8v1h-0.8zM103.9 290.6h0.8v1.3h-0.8zM98.9 282.7h0.8v1h-0.8zM98.9 290.4h0.8v1.9h-0.8zM103.3 282.4h0.8v1h-0.8zM103.3 290.3h0.8v1.8h-0.8zM111.5 282.6h0.8v1h-0.8zM111.5 290.5h0.8v1.9h-0.8zM105.5 282.2h0.8v1h-0.8zM105.5 290.5h0.8v1.7h-0.8zM97.5 282.7h0.8v1h-0.8zM97.5 290.6h0.8v1.2h-0.8zM102.4 282.3h0.8v1h-0.8zM102.4 290.2h0.8v1.3h-0.8zM105.1 282.5h0.8v1h-0.8zM105.1 290.4h0.8v1.1h-0.8zM95.7 282.6h0.8v1h-0.8zM95.7 290.3h0.8v1.8h-0.8zM132.7 282.5h0.8v1h-0.8zM132.7 290.4h0.8v1h-0.8zM125.8 282.1h0.8v1h-0.8zM125.8 290.4h0.8v1.3h-0.8zM130.3 282.5h0.8v1h-0.8zM130.3 290.5h0.8v1.3h-0.8zM128.7 282.2h0.8v1h-0.8zM128.7 290.2h0.8v1.1h-0.8zM129.1 282.6h0.8v1h-0.8zM129.1 290.2h0.8v1h-0.8zM129.5 282.8h0.8v1h-0.8zM129.5 290.4h0.8v1.4h-0.8zM122.2 282.7h0.8v1h-0.8zM122.2 290.4h0.8v1.4h-0.8zM126.7 282.8h0.8v1h-0.8zM126.7 290.5h0.8v1.2h-0.8zM123.6 282.4h0.8v1h-0.8zM123.6 290.5h0.8v1.4h-0.8zM133.1 282.8h0.8v1h-0.8zM133.1 290.4h0.8v1.6h-0.8zM135.9 282.3h0.8v1h-0.8zM135.9 290.3h0.8v1.6h-0.8zM125.5 282.2h0.8v1h-0.8zM125.5 290.3h0.8v1.4h-0.8zM136.4 282.8h0.8v1h-0.8zM136.4 290.2h0.8v1.2h-0.8zM130.5 282.2h0.8v1h-0.8zM130.5 290.5h0.8v1.4h-0.8zM122.2 282.8h0.8v1h-0.8zM122.2 290.2h0.8v1.1h-0.8zM128.7 282.7h0.8v1h-0.8zM128.7 290.2h0.8v1.4h-0.8zM135.3 282.6h0.8v1h-0.8zM135.3 290.4h0.8v1.1h-0.8zM131.2 282.3h0.8v1h-0.8zM131.2 290.4h0.8v1.5h-0.8zM126.8 282.1h0.8v1h-0.8zM126.8 290.6h0.8v1h-0.8zM132.4 282.1h0.8v1h-0.8zM132.4 290.3h0.8v1.1h-0.8zM136.7 282.5h0.8v1h-0.8zM136.7 290.4h0.8v1.6h-0.8zM131.6 282.2h0.8v1h-0.8zM131.6 290.2h0.8v1.2h-0.8zM135.9 282.6h0.8v1h-0.8zM135.9 290.3h0.8v1h-0.8zM149 282.6h0.8v1h-0.8zM149 290.2h0.8v1.6h-0.8zM147.6 282.1h0.8v1h-0.8zM147.6 290.6h0.8v1.7h-0.8zM149 282.8h0.8v1h-0.8zM149 290.4h0.8v0.9h-0.8zM151 282.7h0.8v1h-0.8zM151 290.3h0.8v1.5h-0.8zM146.1 282.1h0.8v1h-0.8zM146.1 290.4h0.8v1.5h-0.8zM146.9 282.7h0.8v1h-0.8zM146.9 290.5h0.8v0.8h-0.8zM146.5 282.5h0.8v1h-0.8zM146.5 290.4h0.8v1.7h-0.8zM146.2 282.7h0.8v1h-0.8zM146.2 290.4h0.8v1.6h-0.8zM155.8 282.7h0.8v1h-0.8zM155.8 290.5h0.8v1.2h-0.8zM156 282.2h0.8v1h-0.8zM156 290.5h0.8v1.2h-0.8zM156.9 282.7h0.8v1h-0.8zM156.9 290.6h0.8v2h-0.8zM185.6 282.6h0.8v1h-0.8zM185.6 290.5h0.8v1.4h-0.8zM177.4 282.2h0.8v1h-0.8zM177.4 290.2h0.8v1.7h-0.8zM179.6 282.2h0.8v1h-0.8zM179.6 290.2h0.8v1h-0.8zM182.8 282.7h0.8v1h-0.8zM182.8 290.2h0.8v1.8h-0.8zM179.8 282.3h0.8v1h-0.8zM179.8 290.5h0.8v0.9h-0.8zM181 282.7h0.8v1h-0.8zM181 290.4h0.8v1.8h-0.8zM181.7 282.6h0.8v1h-0.8zM181.7 290.5h0.8v1.5h-0.8zM180.9 282.2h0.8v1h-0.8zM180.9 290.5h0.8v1.4h-0.8zM180.2 282.5h0.8v1h-0.8zM180.2 290.5h0.8v1.3h-0.8zM181.3 282.7h0.8v1h-0.8zM181.3 290.5h0.8v1.4h-0.8zM185.9 282.5h0.8v1h-0.8zM185.9 290.5h0.8v0.8h-0.8zM181 282.6h0.8v1h-0.8zM181 290.6h0.8v1.4h-0.8zM182.1 282.6h0.8v1h-0.8zM182.1 290.3h0.8v1.6h-0.8zM175.7 282.8h0.8v1h-0.8zM175.7 290.4h0.8v1.5h-0.8zM181.5 282.6h0.8v1h-0.8zM181.5 290.5h0.8v1.7h-0.8zM179.6 282.4h0.8v1h-0.8zM179.6 290.5h0.8v1.6h-0.8zM180.6 282.8h0.8v1h-0.8zM180.6 290.3h0.8v1.8h-0.8zM206.4 282.1h0.8v1h-0.8zM206.4 290.3h0.8v1.4h-0.8zM199.2 282.3h0.8v1h-0.8zM199.2 290.4h0.8v1.2h-0.8zM197.7 282.4h0.8v1h-0.8zM197.7 290.3h0.8v1.7h-0.8zM198 282.7h0.8v1h-0.8zM198 290.3h0.8v1h-0.8zM205.4 282.2h0.8v1h-0.8zM205.4 290.3h0.8v1.1h-0.8zM202.1 282.3h0.8v1h-0.8zM202.1 290.5h0.8v1.6h-0.8zM202.5 282.2h0.8v1h-0.8zM202.5 290.3h0.8v1.6h-0.8zM201.9 282.2h0.8v1h-0.8zM201.9 290.4h0.8v1.6h-0.8zM199.6 282.7h0.8v1h-0.8zM199.6 290.4h0.8v1.1h-0.8zM206.2 282.6h0.8v1h-0.8zM206.2 290.2h0.8v1.2h-0.8zM198.4 282.4h0.8v1h-0.8zM198.4 290.5h0.8v2h-0.8zM202.7 282.7h0.8v1h-0.8zM202.7 290.5h0.8v0.9h-0.8zM201.4 282.4h0.8v1h-0.8zM201.4 290.5h0.8v1.6h-0.8zM200.9 282.2h0.8v1h-0.8zM200.9 290.3h0.8v1.1h-0.8zM204.8 282.8h0.8v1h-0.8zM204.8 290.5h0.8v0.8h-0.8zM222.6 282.4h0.8v1h-0.8zM222.6 290.3h0.8v2h-0.8zM215 282.2h0.8v1h-0.8zM215 290.6h0.8v1.6h-0.8zM221.2 282.5h0.8v1h-0.8zM221.2 290.2h0.8v1.7h-0.8zM218.6 282.6h0.8v1h-0.8zM218.6 290.5h0.8v0.9h-0.8zM219 282.4h0.8v1h-0.8zM219 290.5h0.8v1.4h-0.8zM214.9 282.6h0.8v1h-0.8zM214.9 290.3h0.8v1h-0.8zM218.8 282.7h0.8v1h-0.8zM218.8 290.2h0.8v1.1h-0.8zM222.4 282.2h0.8v1h-0.8zM222.4 290.2h0.8v1.1h-0.8zM220.2 282.8h0.8v1h-0.8zM220.2 290.2h0.8v1.6h-0.8zM214.5 282.7h0.8v1h-0.8zM214.5 290.6h0.8v1.2h-0.8zM222.4 282.2h0.8v1h-0.8zM222.4 290.5h0.8v1.8h-0.8zM214.3 282.4h0.8v1h-0.8zM214.3 290.4h0.8v0.9h-0.8zM222.3 282.3h0.8v1h-0.8zM222.3 290.2h0.8v1.6h-0.8zM231.3 282.7h0.8v1h-0.8zM231.3 290.4h0.8v1.9h-0.8zM231.1 282.4h0.8v1h-0.8zM231.1 290.4h0.8v1.2h-0.8zM228.7 282.6h0.8v1h-0.8zM228.7 290.5h0.8v0.9h-0.8zM228.8 282.3h0.8v1h-0.8zM228.8 290.2h0.8v1.6h-0.8zM232.3 282.7h0.8v1h-0.8zM232.3 290.3h0.8v1.3h-0.8zM232.4 282.6h0.8v1h-0.8zM232.4 290.5h0.8v1.4h-0.8zM237.7 282.6h0.8v1h-0.8zM237.7 290.3h0.8v1.7h-0.8zM241.9 282.3h0.8v1h-0.8zM241.9 290.5h0.8v1.4h-0.8zM239.7 282.4h0.8v1h-0.8zM239.7 290.2h0.8v1.5h-0.8zM241.8 282.5h0.8v1h-0.8zM241.8 290.4h0.8v0.8h-0.8zM238.2 282.5h0.8v1h-0.8zM238.2 290.6h0.8v1.3h-0.8zM237 282.6h0.8v1h-0.8zM237 290.2h0.8v1.9h-0.8zM237 282.4h0.8v1h-0.8zM237 290.4h0.8v0.9h-0.8zM238.1 282.4h0.8v1h-0.8zM238.1 290.4h0.8v1.5h-0.8zM248.1 282.4h0.8v1h-0.8zM248.1 290.4h0.8v1h-0.8zM253.7 282.1h0.8v1h-0.8zM253.7 290.2h0.8v1.5h-0.8zM253.2 282.3h0.8v1h-0.8zM253.2 290.4h0.8v1.6h-0.8zM251.5 282.4h0.8v1h-0.8zM251.5 290.3h0.8v1.5h-0.8zM254.1 282.5h0.8v1h-0.8zM254.1 290.5h0.8v1.6h-0.8zM252.4 282.5h0.8v1h-0.8zM252.4 290.4h0.8v1.1h-0.8zM254.3 282.2h0.8v1h-0.8zM254.3 290.5h0.8v1.6h-0.8zM253.3 282.4h0.8v1h-0.8zM253.3 290.3h0.8v1.3h-0.8zM247.5 282.5h0.8v1h-0.8zM247.5 290.4h0.8v1.6h-0.8zM257.7 282.3h0.8v1h-0.8zM257.7 290.3h0.8v1.2h-0.8zM256.2 282.7h0.8v1h-0.8zM256.2 290.2h0.8v1.4h-0.8zM252.4 282.3h0.8v1h-0.8zM252.4 290.4h0.8v2h-0.8zM248.7 282.8h0.8v1h-0.8zM248.7 290.4h0.8v1.1h-0.8zM249.9 282.1h0.8v1h-0.8zM249.9 290.4h0.8v1.2h-0.8zM251.4 282.6h0.8v1h-0.8zM251.4 290.5h0.8v1h-0.8zM258.2 282.3h0.8v1h-0.8zM258.2 290.5h0.8v0.9h-0.8zM264 282.2h0.8v1h-0.8zM264 290.6h0.8v1.8h-0.8z"/><path fill="#4a5fb8" fill-opacity="0.6" d="M92.2 299.5h0.8v1h-0.8zM92.2 285.6h0.8v1h-0.8zM91.3 296.5h0.8v1h-0.8zM91.3 285.3h0.8v1h-0.8zM89.8 299.1h0.8v1h-0.8zM89.8 286.1h0.8v1h-0.8zM94.7 297.5h0.8v1h-0.8zM94.7 284.9h0.8v1h-0.8zM93.4 299.3h0.8v1h-0.8zM93.4 285.3h0.8v1h-0.8zM90.7 297.3h0.8v1h-0.8zM90.7 286h0.8v1h-0.8zM88.8 297.4h0.8v1h-0.8zM88.8 285.9h0.8v1h-0.8zM94.3 296.5h0.8v1h-0.8zM94.3 285.5h0.8v1h-0.8zM91.9 297h0.8v1h-0.8zM91.9 285.1h0.8v1h-0.8zM89.6 298.7h0.8v1h-0.8zM89.6 286.2h0.8v1h-0.8zM94.7 297.4h0.8v1h-0.8zM94.7 286.3h0.8v1h-0.8zM89.1 297.1h0.8v1h-0.8zM89.1 286.2h0.8v1h-0.8zM90.4 299.4h0.8v1h-0.8zM90.4 285.8h0.8v1h-0.8zM91 298.8h0.8v1h-0.8zM91 286.4h0.8v1h-0.8zM88.7 299.1h0.8v1h-0.8zM88.7 285.8h0.8v1h-0.8zM113.7 297.1h0.8v1h-0.8zM113.7 285h0.8v1h-0.8zM121.8 297.7h0.8v1h-0.8zM121.8 285.1h0.8v1h-0.8zM116.6 297.1h0.8v1h-0.8zM116.6 285.9h0.8v1h-0.8zM115.4 297.3h0.8v1h-0.8zM115.4 284.9h0.8v1h-0.8zM112.9 297.7h0.8v1h-0.8zM112.9 285h0.8v1h-0.8zM112.3 299.4h0.8v1h-0.8zM112.3 285.3h0.8v1h-0.8zM118.5 297.1h0.8v1h-0.8zM118.5 286.1h0.8v1h-0.8zM120.4 299.4h0.8v1h-0.8zM120.4 286.5h0.8v1h-0.8zM120.2 297.1h0.8v1h-0.8zM120.2 286.3h0.8v1h-0.8zM118 296.8h0.8v1h-0.8zM118 284.8h0.8v1h-0.8zM120.4 297.4h0.8v1h-0.8zM120.4 286.2h0.8v1h-0.8zM117.1 298.7h0.8v1h-0.8zM117.1 286.4h0.8v1h-0.8zM119 296.9h0.8v1h-0.8zM119 285.7h0.8v1h-0.8zM113.6 296.7h0.8v1h-0.8zM113.6 285.4h0.8v1h-0.8zM115 299.2h0.8v1h-0.8zM115 284.7h0.8v1h-0.8zM119.3 298h0.8v1h-0.8zM119.3 285.2h0.8v1h-0.8zM115.3 297.9h0.8v1h-0.8zM115.3 285.4h0.8v1h-0.8zM116.2 297.8h0.8v1h-0.8zM116.2 284.8h0.8v1h-0.8zM121.9 298.7h0.8v1h-0.8zM121.9 284.8h0.8v1h-0.8zM115.1 296.7h0.8v1h-0.8zM115.1 286.1h0.8v1h-0.8zM141.5 300.8h0.8v1h-0.8zM141.5 285h0.8v1h-0.8zM144.7 300.8h0.8v1h-0.8zM144.7 285.9h0.8v1h-0.8zM138 299.9h0.8v1h-0.8zM138 285.8h0.8v1h-0.8zM144.4 301.2h0.8v1h-0.8zM144.4 285.4h0.8v1h-0.8zM143.6 300.7h0.8v1h-0.8zM143.6 285.5h0.8v1h-0.8zM141 301.4h0.8v1h-0.8zM141 284.9h0.8v1h-0.8zM142.1 301.5h0.8v1h-0.8zM142.1 286.2h0.8v1h-0.8zM143.6 300.2h0.8v1h-0.8zM143.6 285.9h0.8v1h-0.8zM138.6 300.2h0.8v1h-0.8zM138.6 284.8h0.8v1h-0.8zM139 301.2h0.8v1h-0.8zM139 284.5h0.8v1h-0.8zM139.1 300.2h0.8v1h-0.8zM139.1 285.5h0.8v1h-0.8zM140.2 298.9h0.8v1h-0.8zM140.2 286h0.8v1h-0.8zM144.9 301h0.8v1h-0.8zM144.9 284.6h0.8v1h-0.8zM141.5 300h0.8v1h-0.8zM141.5 286.4h0.8v1h-0.8zM140.9 300.2h0.8v1h-0.8zM140.9 284.5h0.8v1h-0.8zM151.3 302h0.8v1h-0.8zM151.3 286.4h0.8v1h-0.8zM154.9 300.6h0.8v1h-0.8zM154.9 285.1h0.8v1h-0.8zM153.5 300.6h0.8v1h-0.8zM153.5 285.6h0.8v1h-0.8zM152.7 300.5h0.8v1h-0.8zM152.7 285.7h0.8v1h-0.8zM151.3 302.1h0.8v1h-0.8zM151.3 284.6h0.8v1h-0.8zM153.2 301.2h0.8v1h-0.8zM153.2 285.5h0.8v1h-0.8zM151.6 302.2h0.8v1h-0.8zM151.6 285.1h0.8v1h-0.8zM151.4 301.1h0.8v1h-0.8zM151.4 286.3h0.8v1h-0.8zM173.1 296.5h0.8v1h-0.8zM173.1 284.8h0.8v1h-0.8zM169 299h0.8v1h-0.8zM169 286.1h0.8v1h-0.8zM172 298.6h0.8v1h-0.8zM172 284.6h0.8v1h-0.8zM174.2 297h0.8v1h-0.8zM174.2 285.1h0.8v1h-0.8zM171.4 297h0.8v1h-0.8zM171.4 285.6h0.8v1h-0.8zM174.6 296.6h0.8v1h-0.8zM174.6 285.1h0.8v1h-0.8zM172.1 299.1h0.8v1h-0.8zM172.1 285.5h0.8v1h-0.8zM170.2 299.1h0.8v1h-0.8zM170.2 286.3h0.8v1h-0.8zM173 297.4h0.8v1h-0.8zM173 286.4h0.8v1h-0.8zM169.7 299.1h0.8v1h-0.8zM169.7 286.2h0.8v1h-0.8zM174.5 296.9h0.8v1h-0.8zM174.5 284.6h0.8v1h-0.8zM168.9 298.5h0.8v1h-0.8zM168.9 285.4h0.8v1h-0.8zM211.1 299.3h0.8v1h-0.8zM211.1 286h0.8v1h-0.8zM214.1 298.2h0.8v1h-0.8zM214.1 284.9h0.8v1h-0.8zM208.4 299.5h0.8v1h-0.8zM208.4 285.1h0.8v1h-0.8zM210.1 297.2h0.8v1h-0.8zM210.1 284.7h0.8v1h-0.8zM210.8 299.5h0.8v1h-0.8zM210.8 284.7h0.8v1h-0.8zM212.3 298.7h0.8v1h-0.8zM212.3 286.2h0.8v1h-0.8zM212.9 298.6h0.8v1h-0.8zM212.9 286.3h0.8v1h-0.8zM207 296.8h0.8v1h-0.8zM207 286.1h0.8v1h-0.8zM212.4 298.8h0.8v1h-0.8zM212.4 285.1h0.8v1h-0.8zM209.3 299.3h0.8v1h-0.8zM209.3 286.2h0.8v1h-0.8zM208.3 297.8h0.8v1h-0.8zM208.3 286h0.8v1h-0.8zM212.2 299h0.8v1h-0.8zM212.2 285h0.8v1h-0.8zM209 298.2h0.8v1h-0.8zM209 285.9h0.8v1h-0.8zM210.7 298.1h0.8v1h-0.8zM210.7 286.2h0.8v1h-0.8zM213 298.9h0.8v1h-0.8zM213 284.9h0.8v1h-0.8zM223.5 297.2h0.8v1h-0.8zM223.5 285h0.8v1h-0.8zM227.5 298.4h0.8v1h-0.8zM227.5 284.6h0.8v1h-0.8zM225.4 297.2h0.8v1h-0.8zM225.4 285.6h0.8v1h-0.8zM224.7 297.6h0.8v1h-0.8zM224.7 284.9h0.8v1h-0.8zM224.8 298.6h0.8v1h-0.8zM224.8 285.3h0.8v1h-0.8zM223.1 298h0.8v1h-0.8zM223.1 284.8h0.8v1h-0.8zM226.6 299.1h0.8v1h-0.8zM226.6 285.2h0.8v1h-0.8zM228.6 296.6h0.8v1h-0.8zM228.6 285.6h0.8v1h-0.8zM224.1 298.8h0.8v1h-0.8zM224.1 285.9h0.8v1h-0.8zM226.7 298.5h0.8v1h-0.8zM226.7 286.5h0.8v1h-0.8zM226.4 297.5h0.8v1h-0.8zM226.4 286h0.8v1h-0.8zM235.2 298.4h0.8v1h-0.8zM235.2 286.1h0.8v1h-0.8zM235.4 296.7h0.8v1h-0.8zM235.4 286.4h0.8v1h-0.8zM236 299.3h0.8v1h-0.8zM236 284.6h0.8v1h-0.8zM236.4 298.7h0.8v1h-0.8zM236.4 285.4h0.8v1h-0.8zM234.8 298.1h0.8v1h-0.8zM234.8 284.6h0.8v1h-0.8zM236.3 297.8h0.8v1h-0.8zM236.3 286.1h0.8v1h-0.8zM244.9 297.8h0.8v1h-0.8zM244.9 284.9h0.8v1h-0.8zM247 298.4h0.8v1h-0.8zM247 286.3h0.8v1h-0.8zM244.9 296.9h0.8v1h-0.8zM244.9 285.4h0.8v1h-0.8zM246.4 298.5h0.8v1h-0.8zM246.4 285.6h0.8v1h-0.8zM242.9 299.3h0.8v1h-0.8zM242.9 284.8h0.8v1h-0.8zM244.6 296.7h0.8v1h-0.8zM244.6 285.1h0.8v1h-0.8zM244.2 297.7h0.8v1h-0.8zM244.2 285.7h0.8v1h-0.8zM243.5 296.9h0.8v1h-0.8zM243.5 285.2h0.8v1h-0.8zM244.8 297.8h0.8v1h-0.8zM244.8 285h0.8v1h-0.8zM244.7 297h0.8v1h-0.8zM244.7 286h0.8v1h-0.8zM261 298.5h0.8v1h-0.8zM261 285.2h0.8v1h-0.8zM261.9 297.6h0.8v1h-0.8zM261.9 285h0.8v1h-0.8zM261.1 297.3h0.8v1h-0.8zM261.1 286.2h0.8v1h-0.8zM261.3 299h0.8v1h-0.8zM261.3 284.6h0.8v1h-0.8zM262.2 299h0.8v1h-0.8zM262.2 285.3h0.8v1h-0.8zM259.6 297.4h0.8v1h-0.8zM259.6 284.8h0.8v1h-0.8zM259.7 298h0.8v1h-0.8zM259.7 285.4h0.8v1h-0.8zM258.6 296.8h0.8v1h-0.8zM258.6 286.1h0.8v1h-0.8zM262.1 298.9h0.8v1h-0.8zM262.1 286.3h0.8v1h-0.8zM266.3 299.5h0.8v1h-0.8zM266.3 286.2h0.8v1h-0.8zM275.5 298.3h0.8v1h-0.8zM275.5 284.8h0.8v1h-0.8zM274.6 296.8h0.8v1h-0.8zM274.6 285h0.8v1h-0.8zM274.3 296.6h0.8v1h-0.8zM274.3 284.6h0.8v1h-0.8zM268.2 297.9h0.8v1h-0.8zM268.2 285.5h0.8v1h-0.8zM272 298.2h0.8v1h-0.8zM272 286.4h0.8v1h-0.8zM276.3 298.1h0.8v1h-0.8zM276.3 286.3h0.8v1h-0.8zM271.2 297.1h0.8v1h-0.8zM271.2 285.6h0.8v1h-0.8zM274.4 298.8h0.8v1h-0.8zM274.4 286.2h0.8v1h-0.8zM268.1 299.4h0.8v1h-0.8zM268.1 285.2h0.8v1h-0.8zM266.7 298.3h0.8v1h-0.8zM266.7 286h0.8v1h-0.8zM265.1 298.5h0.8v1h-0.8zM265.1 286.3h0.8v1h-0.8zM266 298.5h0.8v1h-0.8zM266 284.6h0.8v1h-0.8zM265 298.7h0.8v1h-0.8zM265 286.2h0.8v1h-0.8zM264.8 296.5h0.8v1h-0.8zM264.8 286.5h0.8v1h-0.8zM274.5 299.2h0.8v1h-0.8zM274.5 286.5h0.8v1h-0.8zM266.2 296.6h0.8v1h-0.8zM266.2 285.7h0.8v1h-0.8zM268.6 297.1h0.8v1h-0.8zM268.6 284.9h0.8v1h-0.8zM265.5 298.4h0.8v1h-0.8zM265.5 286.2h0.8v1h-0.8zM273.4 296.9h0.8v1h-0.8zM273.4 286.1h0.8v1h-0.8zM278.2 297.3h0.8v1h-0.8zM278.2 285.6h0.8v1h-0.8zM273.5 299.5h0.8v1h-0.8zM273.5 285.4h0.8v1h-0.8zM265.7 298.5h0.8v1h-0.8zM265.7 285.1h0.8v1h-0.8zM272.4 297.7h0.8v1h-0.8zM272.4 284.9h0.8v1h-0.8zM264.9 298.1h0.8v1h-0.8zM264.9 285.4h0.8v1h-0.8zM277.2 298.8h0.8v1h-0.8zM277.2 286h0.8v1h-0.8zM269.5 298.3h0.8v1h-0.8zM269.5 285.7h0.8v1h-0.8zM264.9 299.5h0.8v1h-0.8zM264.9 285.6h0.8v1h-0.8z"/><path fill="#e07a7a" fill-opacity="0.6" d="M74.6 273.5h0.8v0.8h-0.8zM73.4 282.4h0.8v0.8h-0.8zM74.1 278.5h0.8v0.8h-0.8zM72.4 279.4h0.8v0.8h-0.8zM74.2 274.3h0.8v0.8h-0.8zM72.2 276.5h0.8v0.8h-0.8zM73.5 281.8h0.8v0.8h-0.8zM76.3 273.2h0.8v0.8h-0.8zM75.8 278.3h0.8v0.8h-0.8zM77.8 277.1h0.8v0.8h-0.8zM77.7 274.1h0.8v0.8h-0.8zM76.5 278.4h0.8v0.8h-0.8zM77.2 277.5h0.8v0.8h-0.8zM79 277.1h0.8v0.8h-0.8zM83.7 274.2h0.8v0.8h-0.8zM84.2 276.2h0.8v0.8h-0.8zM84.1 282.3h0.8v0.8h-0.8zM84.6 275.3h0.8v0.8h-0.8zM83.7 276.1h0.8v0.8h-0.8zM86.2 278h0.8v0.8h-0.8zM86.6 278.8h0.8v0.8h-0.8zM95.4 278.9h0.8v0.8h-0.8zM105.7 280h0.8v0.8h-0.8zM98.7 280.4h0.8v0.8h-0.8zM105.7 279.3h0.8v0.8h-0.8zM99.6 281.8h0.8v0.8h-0.8zM104.4 277.6h0.8v0.8h-0.8zM102.4 278.1h0.8v0.8h-0.8zM98.9 281.6h0.8v0.8h-0.8zM99 282.4h0.8v0.8h-0.8zM100.3 282.1h0.8v0.8h-0.8zM96.4 278.8h0.8v0.8h-0.8zM95.4 282h0.8v0.8h-0.8zM104.8 279.4h0.8v0.8h-0.8zM100.1 282.8h0.8v0.8h-0.8zM99.3 278.1h0.8v0.8h-0.8zM96.5 282.4h0.8v0.8h-0.8zM103.8 279.7h0.8v0.8h-0.8zM103 281.9h0.8v0.8h-0.8zM102.4 276.8h0.8v0.8h-0.8zM102.1 282.1h0.8v0.8h-0.8zM100.2 279h0.8v0.8h-0.8zM102.1 277.3h0.8v0.8h-0.8zM97.5 280.8h0.8v0.8h-0.8zM105.9 276.8h0.8v0.8h-0.8zM102.3 279.5h0.8v0.8h-0.8zM95.4 277.1h0.8v0.8h-0.8zM98.4 280.8h0.8v0.8h-0.8zM96.5 278.6h0.8v0.8h-0.8zM101.8 281.3h0.8v0.8h-0.8zM106 281.9h0.8v0.8h-0.8zM125.4 280.6h0.8v0.8h-0.8zM125.5 276.5h0.8v0.8h-0.8zM127.3 268.8h0.8v0.8h-0.8zM124.8 279.7h0.8v0.8h-0.8zM125.3 264h0.8v0.8h-0.8zM124.4 279.5h0.8v0.8h-0.8zM122.3 271.5h0.8v0.8h-0.8zM127.5 272.6h0.8v0.8h-0.8zM124.6 275.4h0.8v0.8h-0.8zM126.6 272.7h0.8v0.8h-0.8zM126.9 277.4h0.8v0.8h-0.8zM123.6 275.7h0.8v0.8h-0.8zM123 265h0.8v0.8h-0.8zM124.2 264.9h0.8v0.8h-0.8zM123 280h0.8v0.8h-0.8zM127.4 267.8h0.8v0.8h-0.8zM139.5 281.5h0.8v0.8h-0.8zM139.6 279.3h0.8v0.8h-0.8zM140 280.2h0.8v0.8h-0.8zM139.4 279h0.8v0.8h-0.8zM142 275.1h0.8v0.8h-0.8zM139.7 275.6h0.8v0.8h-0.8zM141.9 280.4h0.8v0.8h-0.8zM156.8 276.6h0.8v0.8h-0.8zM162.4 282.7h0.8v0.8h-0.8zM166.8 271.5h0.8v0.8h-0.8zM165.8 274.3h0.8v0.8h-0.8zM164.6 262.2h0.8v0.8h-0.8zM159.5 267.4h0.8v0.8h-0.8zM165.7 281.2h0.8v0.8h-0.8zM164.8 277.9h0.8v0.8h-0.8zM164.9 265.1h0.8v0.8h-0.8zM159.9 274.2h0.8v0.8h-0.8zM166.4 270.8h0.8v0.8h-0.8zM165.6 269h0.8v0.8h-0.8zM160.7 265.5h0.8v0.8h-0.8zM162 274.2h0.8v0.8h-0.8zM158 281.5h0.8v0.8h-0.8zM156.7 277.4h0.8v0.8h-0.8zM161.1 281.7h0.8v0.8h-0.8zM160.3 262.5h0.8v0.8h-0.8zM165.6 269.9h0.8v0.8h-0.8zM167.2 276h0.8v0.8h-0.8zM162.3 275.9h0.8v0.8h-0.8zM165.5 268.9h0.8v0.8h-0.8zM159.1 275.7h0.8v0.8h-0.8zM164 263h0.8v0.8h-0.8zM158.7 271h0.8v0.8h-0.8zM157.8 273h0.8v0.8h-0.8zM161.7 268.2h0.8v0.8h-0.8zM166.4 277.5h0.8v0.8h-0.8zM157.5 274.5h0.8v0.8h-0.8zM169.5 274.7h0.8v0.8h-0.8zM169.4 266.9h0.8v0.8h-0.8zM159.5 268.9h0.8v0.8h-0.8zM159.6 265.4h0.8v0.8h-0.8zM159.9 272.5h0.8v0.8h-0.8zM167.2 278.2h0.8v0.8h-0.8zM157.1 278.1h0.8v0.8h-0.8zM204 281.8h0.8v0.8h-0.8zM204.8 279.8h0.8v0.8h-0.8zM204.3 271.7h0.8v0.8h-0.8zM199.3 266.6h0.8v0.8h-0.8zM199.8 264h0.8v0.8h-0.8zM199.8 268.4h0.8v0.8h-0.8zM199.2 267.8h0.8v0.8h-0.8zM204.4 266.7h0.8v0.8h-0.8zM202.2 279.8h0.8v0.8h-0.8zM199 277.1h0.8v0.8h-0.8zM202.4 262.1h0.8v0.8h-0.8zM204.6 278.6h0.8v0.8h-0.8zM199.5 282.2h0.8v0.8h-0.8zM202.6 275.2h0.8v0.8h-0.8zM200.3 262.2h0.8v0.8h-0.8zM203.4 276.8h0.8v0.8h-0.8zM230.9 279.7h0.8v0.8h-0.8zM232.8 280.8h0.8v0.8h-0.8zM230.2 281.5h0.8v0.8h-0.8zM232.3 280.8h0.8v0.8h-0.8zM233.1 280.4h0.8v0.8h-0.8zM232.1 278.3h0.8v0.8h-0.8zM230.9 279.5h0.8v0.8h-0.8zM239.1 279.6h0.8v0.8h-0.8zM243 281.7h0.8v0.8h-0.8zM240.9 278.8h0.8v0.8h-0.8zM242.8 282.3h0.8v0.8h-0.8zM239.4 280.1h0.8v0.8h-0.8zM241.7 281.5h0.8v0.8h-0.8zM240 282.1h0.8v0.8h-0.8zM242 282h0.8v0.8h-0.8zM243.7 281.4h0.8v0.8h-0.8zM242.4 279.5h0.8v0.8h-0.8zM240.4 279.9h0.8v0.8h-0.8zM243.1 281h0.8v0.8h-0.8zM254.8 276.4h0.8v0.8h-0.8zM253.7 278.3h0.8v0.8h-0.8zM256.5 276.3h0.8v0.8h-0.8zM252.4 280.1h0.8v0.8h-0.8zM254.5 282.1h0.8v0.8h-0.8zM251 278.5h0.8v0.8h-0.8zM257.1 281h0.8v0.8h-0.8zM253.5 279.1h0.8v0.8h-0.8zM253.9 275h0.8v0.8h-0.8zM251.5 276.8h0.8v0.8h-0.8zM257.4 276.5h0.8v0.8h-0.8zM253 279.5h0.8v0.8h-0.8zM256.1 280.2h0.8v0.8h-0.8zM253.2 277.7h0.8v0.8h-0.8zM251 281.4h0.8v0.8h-0.8zM253.7 277.3h0.8v0.8h-0.8zM252.5 278.9h0.8v0.8h-0.8zM252 277.6h0.8v0.8h-0.8zM251.7 276.5h0.8v0.8h-0.8z"/><path fill="#d9b3b3" fill-opacity="0.45" d="M177.2 269.3h0.7V283h-0.7zM179.2 275.2h0.7V283h-0.7zM152.2 268.7h0.7V283h-0.7zM131.9 265.4h0.7V283h-0.7zM193.9 275h0.7V283h-0.7zM115 268h0.7V283h-0.7zM88.7 277.5h0.7V283h-0.7zM127.3 266.7h0.7V283h-0.7zM259.4 265.5h0.7V283h-0.7zM206.1 266.2h0.7V283h-0.7z"/><path fill="#cfc2c2" fill-opacity="0.45" d="M216 276.6h0.7V283h-0.7zM212.6 268.3h0.7V283h-0.7zM114.4 276.8h0.7V283h-0.7zM263 273.4h0.7V283h-0.7zM189 267.3h0.7V283h-0.7zM174.6 273.1h0.7V283h-0.7zM75.3 266.5h0.7V283h-0.7zM207 272h0.7V283h-0.7zM276.8 275.3h0.7V283h-0.7zM210.7 277.7h0.7V283h-0.7zM158.9 270.9h0.7V283h-0.7z"/><path fill="#e3a9a9" fill-opacity="0.45" d="M159.3 267.6h0.7V283h-0.7zM176.4 271.6h0.7V283h-0.7zM278.8 266.8h0.7V283h-0.7zM66 267.2h0.7V283h-0.7zM145.2 273.6h0.7V283h-0.7zM241.2 269.4h0.7V283h-0.7zM261.7 276.7h0.7V283h-0.7zM214.2 270.6h0.7V283h-0.7zM273 278.3h0.7V283h-0.7z"/><path fill="#c8c8d8" fill-opacity="0.4" d="M192.1 290.8h0.7V306.5h-0.7zM218.9 290.8h0.7V307.8h-0.7zM148.9 290.8h0.7V296.2h-0.7zM169.6 290.8h0.7V299.7h-0.7zM252.1 290.8h0.7V295.2h-0.7zM250.2 290.8h0.7V307.1h-0.7zM146.2 290.8h0.7V306.8h-0.7zM165.9 290.8h0.7V296h-0.7z"/><path fill="#b9c0e0" fill-opacity="0.4" d="M190.9 290.8h0.7V307.4h-0.7zM222.5 290.8h0.7V299.8h-0.7zM163.7 290.8h0.7V296.1h-0.7zM215.5 290.8h0.7V300.7h-0.7zM120.7 290.8h0.7V298.4h-0.7zM243.2 290.8h0.7V307.3h-0.7zM163.2 290.8h0.7V301.6h-0.7z"/><path fill="#cfcfcf" fill-opacity="0.4" d="M173.2 290.8h0.7V300.7h-0.7zM63.2 290.8h0.7V295.3h-0.7zM214.3 290.8h0.7V300.8h-0.7zM147.6 290.8h0.7V307.6h-0.7zM141 290.8h0.7V296.9h-0.7z"/><line x1="79.6" y1="282.5" x2="79.6" y2="291.3" stroke="#fff" stroke-width="0.8" stroke-opacity="0.9"/><line x1="96.8" y1="282.5" x2="96.8" y2="291.3" stroke="#fff" stroke-width="0.8" stroke-opacity="0.9"/><line x1="110.8" y1="282.5" x2="110.8" y2="291.3" stroke="#fff" stroke-width="0.8" stroke-opacity="0.9"/><line x1="124.3" y1="282.5" x2="124.3" y2="291.3" stroke="#fff" stroke-width="0.8" stroke-opacity="0.9"/><line x1="137.1" y1="282.5" x2="137.1" y2="291.3" stroke="#fff" stroke-width="0.8" stroke-opacity="0.9"/><line x1="149.2" y1="282.5" x2="149.2" y2="291.3" stroke="#fff" stroke-width="0.8" stroke-opacity="0.9"/><line x1="160.4" y1="282.5" x2="160.4" y2="291.3" stroke="#fff" stroke-width="0.8" stroke-opacity="0.9"/><line x1="170.7" y1="282.5" x2="170.7" y2="291.3" stroke="#fff" stroke-width="0.8" stroke-opacity="0.9"/><line x1="180.7" y1="282.5" x2="180.7" y2="291.3" stroke="#fff" stroke-width="0.8" stroke-opacity="0.9"/><line x1="190.3" y1="282.5" x2="190.3" y2="291.3" stroke="#fff" stroke-width="0.8" stroke-opacity="0.9"/><line x1="199.8" y1="282.5" x2="199.8" y2="291.3" stroke="#fff" stroke-width="0.8" stroke-opacity="0.9"/><line x1="209.2" y1="282.5" x2="209.2" y2="291.3" stroke="#fff" stroke-width="0.8" stroke-opacity="0.9"/><line x1="217.4" y1="282.5" x2="217.4" y2="291.3" stroke="#fff" stroke-width="0.8" stroke-opacity="0.9"/><line x1="224.9" y1="282.5" x2="224.9" y2="291.3" stroke="#fff" stroke-width="0.8" stroke-opacity="0.9"/><line x1="232.1" y1="282.5" x2="232.1" y2="291.3" stroke="#fff" stroke-width="0.8" stroke-opacity="0.9"/><line x1="238.5" y1="282.5" x2="238.5" y2="291.3" stroke="#fff" stroke-width="0.8" stroke-opacity="0.9"/><line x1="244.4" y1="282.5" x2="244.4" y2="291.3" stroke="#fff" stroke-width="0.8" stroke-opacity="0.9"/><line x1="249.9" y1="282.5" x2="249.9" y2="291.3" stroke="#fff" stroke-width="0.8" stroke-opacity="0.9"/><line x1="254.1" y1="282.5" x2="254.1" y2="291.3" stroke="#fff" stroke-width="0.8" stroke-opacity="0.9"/><line x1="258.5" y1="282.5" x2="258.5" y2="291.3" stroke="#fff" stroke-width="0.8" stroke-opacity="0.9"/><line x1="261.9" y1="282.5" x2="261.9" y2="291.3" stroke="#fff" stroke-width="0.8" stroke-opacity="0.9"/><line x1="265.5" y1="282.5" x2="265.5" y2="291.3" stroke="#fff" stroke-width="0.8" stroke-opacity="0.9"/><line x1="276.5" y1="282.5" x2="276.5" y2="291.3" stroke="#fff" stroke-width="0.8" stroke-opacity="0.9"/><line x1="61.5" y1="16" x2="61.5" y2="313" stroke="#bbb" stroke-width="0.6" /><line x1="61.5" y1="128.2" x2="281" y2="128.2" stroke="#cfcfcf" stroke-width="0.6" /><rect x="62" y="313.5" width="218.5" height="3" fill="#111" /><line x1="79.6" y1="313.5" x2="79.6" y2="316.5" stroke="#fff" stroke-width="0.5" /><line x1="96.8" y1="313.5" x2="96.8" y2="316.5" stroke="#fff" stroke-width="0.5" /><line x1="110.8" y1="313.5" x2="110.8" y2="316.5" stroke="#fff" stroke-width="0.5" /><line x1="124.3" y1="313.5" x2="124.3" y2="316.5" stroke="#fff" stroke-width="0.5" /><line x1="137.1" y1="313.5" x2="137.1" y2="316.5" stroke="#fff" stroke-width="0.5" /><line x1="149.2" y1="313.5" x2="149.2" y2="316.5" stroke="#fff" stroke-width="0.5" /><line x1="160.4" y1="313.5" x2="160.4" y2="316.5" stroke="#fff" stroke-width="0.5" /><line x1="170.7" y1="313.5" x2="170.7" y2="316.5" stroke="#fff" stroke-width="0.5" /><line x1="180.7" y1="313.5" x2="180.7" y2="316.5" stroke="#fff" stroke-width="0.5" /><line x1="190.3" y1="313.5" x2="190.3" y2="316.5" stroke="#fff" stroke-width="0.5" /><line x1="199.8" y1="313.5" x2="199.8" y2="316.5" stroke="#fff" stroke-width="0.5" /><line x1="209.2" y1="313.5" x2="209.2" y2="316.5" stroke="#fff" stroke-width="0.5" /><line x1="217.4" y1="313.5" x2="217.4" y2="316.5" stroke="#fff" stroke-width="0.5" /><line x1="224.9" y1="313.5" x2="224.9" y2="316.5" stroke="#fff" stroke-width="0.5" /><line x1="232.1" y1="313.5" x2="232.1" y2="316.5" stroke="#fff" stroke-width="0.5" /><line x1="238.5" y1="313.5" x2="238.5" y2="316.5" stroke="#fff" stroke-width="0.5" /><line x1="244.4" y1="313.5" x2="244.4" y2="316.5" stroke="#fff" stroke-width="0.5" /><line x1="249.9" y1="313.5" x2="249.9" y2="316.5" stroke="#fff" stroke-width="0.5" /><line x1="254.1" y1="313.5" x2="254.1" y2="316.5" stroke="#fff" stroke-width="0.5" /><line x1="258.5" y1="313.5" x2="258.5" y2="316.5" stroke="#fff" stroke-width="0.5" /><line x1="261.9" y1="313.5" x2="261.9" y2="316.5" stroke="#fff" stroke-width="0.5" /><line x1="265.5" y1="313.5" x2="265.5" y2="316.5" stroke="#fff" stroke-width="0.5" /><line x1="276.5" y1="313.5" x2="276.5" y2="316.5" stroke="#fff" stroke-width="0.5" /><text x="0" y="0" font-size="5.4" fill="#1a1a1a" text-anchor="end" font-weight="normal" transform="translate(73.3,319.5) rotate(-45)">chr1</text><text x="0" y="0" font-size="5.4" fill="#1a1a1a" text-anchor="end" font-weight="normal" transform="translate(90.7,319.5) rotate(-45)">chr2</text><text x="0" y="0" font-size="5.4" fill="#1a1a1a" text-anchor="end" font-weight="normal" transform="translate(106.3,319.5) rotate(-45)">chr3</text><text x="0" y="0" font-size="5.4" fill="#1a1a1a" text-anchor="end" font-weight="normal" transform="translate(120,319.5) rotate(-45)">chr4</text><text x="0" y="0" font-size="5.4" fill="#1a1a1a" text-anchor="end" font-weight="normal" transform="translate(133.2,319.5) rotate(-45)">chr5</text><text x="0" y="0" font-size="5.4" fill="#1a1a1a" text-anchor="end" font-weight="normal" transform="translate(145.6,319.5) rotate(-45)">chr6</text><text x="0" y="0" font-size="5.4" fill="#1a1a1a" text-anchor="end" font-weight="normal" transform="translate(157.3,319.5) rotate(-45)">chr7</text><text x="0" y="0" font-size="5.4" fill="#1a1a1a" text-anchor="end" font-weight="normal" transform="translate(168.1,319.5) rotate(-45)">chr8</text><text x="0" y="0" font-size="5.4" fill="#1a1a1a" text-anchor="end" font-weight="normal" transform="translate(178.2,319.5) rotate(-45)">chr9</text><text x="0" y="0" font-size="5.4" fill="#1a1a1a" text-anchor="end" font-weight="normal" transform="translate(188,319.5) rotate(-45)">chr10</text><text x="0" y="0" font-size="5.4" fill="#1a1a1a" text-anchor="end" font-weight="normal" transform="translate(197.6,319.5) rotate(-45)">chr11</text><text x="0" y="0" font-size="5.4" fill="#1a1a1a" text-anchor="end" font-weight="normal" transform="translate(207,319.5) rotate(-45)">chr12</text><text x="0" y="0" font-size="5.4" fill="#1a1a1a" text-anchor="end" font-weight="normal" transform="translate(215.8,319.5) rotate(-45)">chr13</text><text x="0" y="0" font-size="5.4" fill="#1a1a1a" text-anchor="end" font-weight="normal" transform="translate(223.7,319.5) rotate(-45)">chr14</text><text x="0" y="0" font-size="5.4" fill="#1a1a1a" text-anchor="end" font-weight="normal" transform="translate(231,319.5) rotate(-45)">chr15</text><text x="0" y="0" font-size="5.4" fill="#1a1a1a" text-anchor="end" font-weight="normal" transform="translate(237.8,319.5) rotate(-45)">chr16</text><text x="0" y="0" font-size="5.4" fill="#1a1a1a" text-anchor="end" font-weight="normal" transform="translate(243.9,319.5) rotate(-45)">chr17</text><text x="0" y="0" font-size="5.4" fill="#1a1a1a" text-anchor="end" font-weight="normal" transform="translate(249.6,319.5) rotate(-45)">chr18</text><text x="0" y="0" font-size="5.4" fill="#1a1a1a" text-anchor="end" font-weight="normal" transform="translate(254.5,319.5) rotate(-45)">chr19</text><text x="0" y="0" font-size="5.4" fill="#1a1a1a" text-anchor="end" font-weight="normal" transform="translate(258.8,319.5) rotate(-45)">chr20</text><text x="0" y="0" font-size="5.4" fill="#1a1a1a" text-anchor="end" font-weight="normal" transform="translate(262.7,319.5) rotate(-45)">chr21</text><text x="0" y="0" font-size="5.4" fill="#1a1a1a" text-anchor="end" font-weight="normal" transform="translate(266.2,319.5) rotate(-45)">chr22</text><text x="0" y="0" font-size="5.4" fill="#1a1a1a" text-anchor="end" font-weight="normal" transform="translate(273.5,319.5) rotate(-45)">chrX</text><text x="0" y="0" font-size="5.4" fill="#1a1a1a" text-anchor="end" font-weight="normal" transform="translate(281,319.5) rotate(-45)">chrY</text><rect x="344.5" y="6.5" width="149" height="131" fill="#fff" stroke="#888" stroke-width="0.7"/><line x1="343" y1="131.2" x2="344.5" y2="131.2" stroke="#555" stroke-width="0.5" /><text x="342" y="132.9" font-size="5" fill="#444" text-anchor="end" font-weight="normal" >0</text><line x1="343" y1="101.5" x2="344.5" y2="101.5" stroke="#555" stroke-width="0.5" /><text x="342" y="103.2" font-size="5" fill="#444" text-anchor="end" font-weight="normal" >5</text><line x1="343" y1="71.8" x2="344.5" y2="71.8" stroke="#555" stroke-width="0.5" /><text x="342" y="73.5" font-size="5" fill="#444" text-anchor="end" font-weight="normal" >10</text><line x1="343" y1="42.1" x2="344.5" y2="42.1" stroke="#555" stroke-width="0.5" /><text x="342" y="43.8" font-size="5" fill="#444" text-anchor="end" font-weight="normal" >15</text><line x1="343" y1="12.4" x2="344.5" y2="12.4" stroke="#555" stroke-width="0.5" /><text x="342" y="14.1" font-size="5" fill="#444" text-anchor="end" font-weight="normal" >20</text><line x1="374.4" y1="137.5" x2="374.4" y2="139" stroke="#555" stroke-width="0.5" /><text x="374.4" y="143.2" font-size="5" fill="#444" text-anchor="middle" font-weight="normal" >-10</text><line x1="419.4" y1="137.5" x2="419.4" y2="139" stroke="#555" stroke-width="0.5" /><text x="419.4" y="143.2" font-size="5" fill="#444" text-anchor="middle" font-weight="normal" >0</text><line x1="464.4" y1="137.5" x2="464.4" y2="139" stroke="#555" stroke-width="0.5" /><text x="464.4" y="143.2" font-size="5" fill="#444" text-anchor="middle" font-weight="normal" >10</text><text x="423.4" y="158.2" font-size="8.95" fill="#222" text-anchor="middle" font-weight="normal" >Gene expression (log<tspan font-size="6.3" dy="2">2</tspan><tspan dy="-2">FC)</tspan></text><text x="0" y="0" font-size="9.4" fill="#222" text-anchor="middle" font-weight="normal" transform="translate(328.8,75.2) rotate(-90)">−log<tspan font-size="6.5" dy="2">10</tspan><tspan dy="-2"> adjusted </tspan><tspan font-style="italic">P</tspan> value</text><path d="M438.3 109.4h0M396.7 102.5h0M449 109.4h0M444.7 105.2h0M442 105h0M454.4 100.4h0M441.9 100.4h0M415.5 59.2h0M387.2 106.6h0M400.8 108.4h0M402.8 110.5h0M432.2 113h0M405.3 111.3h0M389.1 97.7h0M432.2 113.1h0M442.8 97.3h0M422.8 87.7h0M402.2 110.8h0M402.2 108.8h0M402.3 109.7h0M396.2 98.9h0M400.5 113.5h0M403.7 114.5h0M401.3 109.5h0M390.6 114.2h0M439.7 112.9h0M391.6 107.2h0M444.4 116.2h0M390.1 107.5h0M438.2 107.1h0M433 113.8h0M404 111.7h0M401.7 112.7h0M391.5 94.4h0M440 104.2h0M432.7 113.4h0M394.6 110.9h0M433.7 114.8h0M444.5 114.1h0M359.2 99.9h0M402.8 110.3h0M407.6 111.6h0M436.2 115.4h0M389.3 46.3h0M394.1 97h0M431.4 113.2h0M397.3 102.4h0M406.2 113.4h0M409.3 115.9h0M451.2 100.4h0M400.8 108.1h0M432.7 112.9h0M443.9 107h0M432.2 114.1h0M404.4 116.3h0M452.2 84.3h0M390.9 101.9h0M387.7 109.3h0M431.6 114.2h0M439.8 108.1h0M405.3 114.3h0M433.2 113.7h0M438 107h0M396.2 110.6h0M436.2 114.9h0M405.9 116h0M443.5 96h0M403.5 114.6h0M434.8 114.6h0M446.7 112.9h0M438 113.9h0M434.6 108.5h0M403.7 113.9h0M438.2 106.9h0M408.9 116.2h0M460.6 76.7h0M444.5 105.9h0M405.6 109.4h0M438.7 115.5h0M407.8 115.6h0M440 104.5h0M436.3 108.6h0M397.8 112.7h0M451.7 100.5h0M440 101.6h0M419.4 89.9h0M391.8 111.1h0M443.6 115.1h0M406 110.7h0M454 105.6h0M398 101.7h0M389 102h0M391.9 101.6h0M447 101.7h0M453.6 113.9h0M398.9 107.6h0M448.1 101.6h0M397.6 103.7h0M402.7 113.5h0M408.5 114.1h0M402.8 107.8h0M435.8 112.2h0M432.1 115.3h0M406.2 116.2h0M420.4 84.3h0M408.6 113h0M447.6 94h0M404 114.1h0M402.8 112h0M404.2 112.4h0M436.2 105.8h0M447.1 93.7h0M433.9 113h0M430.3 115.3h0M396.6 107.2h0M435.4 114.2h0M370.6 99.7h0M400.4 106.4h0M386.5 102.9h0M401.2 104.7h0M446.4 92.7h0M444.6 110h0M443.5 112.3h0M393.9 103.6h0M438.4 108.7h0M452.7 89.4h0M444 100.9h0M396.8 98.3h0M399.9 103.5h0M441.6 106.7h0M440.9 104.5h0M426.1 38.3h0M454.3 101.7h0M367.5 111.1h0M403.1 115.7h0M433.9 111.6h0M403.1 115.2h0M398.3 104.8h0M399.6 108.2h0M387.3 105.4h0M393.4 112.6h0M432.8 109.4h0M389 108.9h0M399.2 114h0M434.3 114.1h0M431.4 54.4h0M397.1 110.3h0M433.9 111h0M384.7 87h0M437.6 104.8h0M408.5 116.2h0M445.6 97.1h0M406.8 113h0M401.4 110.5h0M443.3 104.7h0M394.1 94.3h0M435.1 108.4h0M395.4 113.4h0M453.4 97h0M434.6 115.2h0M438.9 109.8h0M430.1 114.8h0M399.1 112.6h0M436.1 108.8h0M392.6 100.6h0M401.6 116.3h0M397.2 110.7h0M438.8 110.8h0M386.2 111.9h0M395.9 109h0M404.4 112.4h0M403.4 114h0M396.1 95.5h0M399.3 116h0M407.3 113.6h0M405.6 112.9h0M392.3 104.2h0M410.5 115.1h0M405.6 115.2h0M404 112.6h0M439.6 114.7h0M435.8 112.2h0M439.2 110.3h0M401.8 115.1h0M444.4 101.2h0M405.7 113.3h0M439.6 115.4h0M408.5 115.7h0M448.5 115.1h0M400.8 114.5h0M406.8 110.4h0M446.4 98.3h0M431 115.4h0M445.2 98.1h0M407.4 113.1h0M399.8 95.4h0M438.9 111.7h0M438.4 113.1h0M438.3 112.6h0M401.8 115.6h0M403.4 113.1h0M449.7 91.2h0M444.3 113.2h0M422.1 39.6h0M418.8 62.3h0M441.9 103.1h0M439.8 114.3h0M439.5 109.5h0M443 97.8h0M395.8 100.2h0M407.1 112.7h0M398.6 103.2h0M438 106.6h0M446 111.5h0M435.8 116h0M447.4 107.3h0M434 115.3h0M408.3 112h0M453.5 110.8h0M400.7 115.8h0M434.4 109.9h0M445.1 110.8h0M445.6 113.4h0M446 116.3h0M398 105.1h0M446.1 103.1h0M403.3 111.5h0M447.9 111.7h0M439.6 105.6h0M383.3 106.6h0M385.7 86.6h0M400.9 110.3h0M452.9 104.2h0M401.8 105.5h0M399.4 111.1h0M446.6 112.1h0M438.8 113.8h0M431.5 113h0M396.2 107.7h0M441.6 107.8h0M455.4 89.6h0M400.5 109.5h0M452.1 109.9h0M413.5 71.3h0M443 108.1h0M406.2 114.5h0M392.5 103.4h0M392.1 98.7h0M402.3 105.8h0M451.1 107.5h0M392.5 93.9h0M395.7 70.1h0M452 99.9h0M432.4 114.5h0M392.1 114.3h0M438 112.5h0M454.3 95.4h0M393.1 112.8h0M447 98.4h0M402.5 113.1h0M405.9 114h0M386.5 88.7h0M434.9 115.8h0M406.2 115.5h0M446.9 98h0M396.3 108.9h0" stroke="#c6c6c6" stroke-width="2.5" stroke-linecap="round" stroke-opacity="1.0" fill="none"/><path d="M411.4 122.5h0M420.7 126.1h0M409.3 129.4h0M436.8 127.7h0M429.6 129.4h0M416.3 129h0M421.3 125.6h0M430.5 125.4h0M431.3 129.1h0M414.7 128.7h0M421.5 129.3h0M432.3 126.2h0M393 123.1h0M424.1 126.9h0M424.8 128.1h0M422.6 126.9h0M443.7 121.1h0M418.4 130.3h0M440 120.7h0M441.4 124.3h0M426 119.1h0M411.4 123.4h0M420.9 125.3h0M415.8 121.8h0M413.3 125.8h0M417.4 125.5h0M426.8 121.2h0M413.1 124.2h0M410.6 127h0M413.6 129.4h0M416.8 126.9h0M425.8 124.5h0M406.7 126.9h0M433.5 123.9h0M411.8 124.6h0M454.2 117.9h0M440.5 122.9h0M417.6 126.5h0M428.9 128.4h0M428.2 125.9h0M406.4 119.6h0M422.6 130.9h0M405.1 125.8h0M408.8 121.8h0M423.9 123.9h0M402.6 123.9h0M400.8 126.5h0M416.7 128.5h0M442.9 127.6h0M429.5 123.8h0M429.3 122.6h0M422 122.6h0M432.7 120.1h0M433.5 123.8h0M427.1 122.9h0M422.2 127.7h0M417.7 130h0M400 128.1h0M419.4 130.9h0M419.3 129.3h0M419.3 129.1h0M431.8 127.7h0M406.3 124.6h0M420.7 129.6h0M428.8 128.1h0M427 120.9h0M407.7 129.3h0M405 125.5h0M409.9 121.9h0M432.4 122.7h0M416.4 126.4h0M428 123.3h0M407 123.3h0M410.1 120.7h0M411.4 123.1h0M419.8 130.8h0M416.8 125.5h0M428.9 121.1h0M425.2 124.2h0M421.1 128.5h0M405.1 129h0M431.9 120.5h0M405.7 128.6h0M432.9 126.5h0M431.2 130h0M442.4 117h0M437.1 122.1h0M421.3 123.6h0M409 124.7h0M417.6 125.2h0M441.7 121.5h0M405.6 121.2h0M421.4 126.4h0M417.2 124h0M429.1 125.2h0M356 121.1h0M425.3 125.5h0M424.1 128.5h0M420.6 126.2h0M431.6 125.8h0M421.2 128.7h0M407.3 126.6h0M419.3 128.3h0M420.6 125.8h0M410.4 120h0M410 128.5h0M436.7 122.7h0M398.7 117.8h0M412.5 126.3h0M434.6 120.7h0M417.4 126.6h0M421.8 124.4h0M408.9 122h0M451.9 127.3h0M431.2 126.3h0M409.3 125.6h0M425.2 123.5h0M408.9 122.2h0M427 125.7h0M428.5 118.6h0M408.3 117.4h0M396.9 126.7h0M415.4 123.9h0M429.8 119.7h0M423.8 128.9h0M407.2 126.2h0M422.8 130.1h0M438.9 120.4h0M403.1 128h0M442 119.7h0M409.9 120.3h0M420.9 128.9h0M390.4 117.3h0M417.5 127.8h0M432.7 125.1h0M400.6 119.5h0M397.9 117.5h0M423.1 130h0M404.9 124.8h0M421.6 127.1h0M438.6 128.3h0M400.7 121.6h0M449.7 126.2h0M419.8 130.5h0M412.3 125.2h0M422.6 125.9h0M409 129.3h0M418.5 130.3h0M415.6 124.6h0M414.7 130.8h0M401.6 130.4h0M423.5 122.1h0M411.8 128h0M414.5 126.7h0M399.5 118.2h0M422 125.1h0M419.2 127.7h0M412.6 128.2h0M422.9 126.5h0M428.3 126.2h0M424.7 128.2h0M421.7 126.7h0M445 119.4h0M415.7 126.8h0M418.1 125.7h0M416.4 127.1h0M405.3 127.6h0M433.9 125.6h0M412.1 129.4h0M411.3 128.6h0M424.3 121h0M406.8 118.6h0M406.1 130.6h0M390.5 125.2h0M427.2 127.2h0M422.7 123.8h0M420.1 128h0M393.7 123.9h0M437.1 125.5h0M442.2 117.6h0M400.4 128h0M416.5 129.2h0M414.6 126.1h0M401.1 129.2h0M430.7 128.8h0M420.1 125.6h0M420.5 126.7h0M417.3 129h0M409.3 129.6h0M423.6 126.1h0M412 124.1h0M417.4 129.7h0M395.5 117.6h0M430.1 120.3h0M432.8 126h0M406.6 128.3h0M424.8 124.2h0M418.6 129.4h0M418.6 127.5h0M418.1 126.6h0M426.3 129.2h0M407.4 130.6h0M422.8 126h0M447.8 126.5h0M430.8 123h0M408.9 119h0M418.1 129.2h0M406.8 119.2h0M427.5 128.9h0M423.7 127h0M432.4 128.8h0M407.9 117.3h0M426 119.6h0M432.6 125.5h0M418 125.8h0M430 118.9h0M402.1 126.8h0M439.5 126.4h0M395 117h0M399.6 126.1h0M419 128.9h0M431.9 116.9h0M414.2 122.8h0M427.4 118.1h0M417.2 129.7h0M416.2 125.9h0M423 123.2h0M407.1 124.9h0M424.5 123.9h0M412.1 126.2h0M422.7 126h0M403.3 125.8h0M416.4 126h0M421.1 127h0M422 128.4h0M421.5 130.4h0M407.7 123h0M407.8 117.6h0M398.9 124h0M418.9 127.6h0M432.5 121.9h0M427.8 119.9h0M428.8 116.9h0M424.1 128.8h0M409.3 119.4h0M423.7 125.9h0M416.6 126.5h0M412.5 119.3h0M430.1 127.2h0M415.2 124.1h0M423.6 125.5h0M416.9 127.7h0M394.8 122.6h0M436.5 123.1h0M433.6 122.7h0M416.2 130.1h0M412.3 121.9h0M388.8 125.9h0M415.5 127.4h0M420.1 127.6h0M415.6 127.7h0M426.9 130h0M413.7 125.8h0M421.3 127.6h0M412.7 122.4h0M425.5 120.2h0M420.1 127.6h0M398.9 126.4h0M430.8 125.5h0M434.2 118.1h0M410.1 126h0M423.1 125.8h0M405.7 119.1h0M414.9 123.5h0M410.2 127h0M427.3 127.8h0M409.1 125.2h0M429 119.7h0M431.9 121.5h0M410.3 122.3h0M426.1 127.5h0M396.7 126.5h0M414.8 125.8h0M428.4 124h0M433 122.5h0M414.2 126.2h0M440.7 126.2h0M418.6 127.8h0M409 123.8h0M430 126.5h0M425.7 125.2h0M420.9 127.9h0M423 125h0M440.8 118.8h0M422.7 127.4h0M420.7 128.5h0M437 123.3h0M418.9 125.8h0M417.5 129.2h0M431.2 129h0M424.3 126.7h0M420.3 125.8h0M401.2 123.8h0M423 126.5h0M434.2 123.3h0M393.9 125.4h0M418.4 129.3h0M414.1 121.2h0M413.1 119.6h0M416.4 129.1h0M423.8 125.3h0M423.8 124.6h0M420.1 126.9h0M417.4 129.3h0M421.9 130.6h0M405.6 118.4h0M426.1 123.3h0M395.6 124.6h0M408 120.7h0M420.2 129.5h0M386.5 124.3h0M429 120.8h0M434.6 121.4h0M406.5 119.9h0M411.2 128.7h0M439.8 124.3h0M429 128.7h0M438.1 117.4h0M432.9 122.1h0M435.2 123.6h0M410.7 118.7h0M415.3 121.7h0M410.4 122.2h0M440.8 127.3h0M417.9 128.9h0M412.8 122.8h0M430.7 125.8h0M414.4 124.2h0M426.5 127.1h0M415 124.8h0M424.1 126.8h0M427.3 122.6h0M425.3 125.3h0M393.1 117.1h0M431.3 120.3h0M424.6 127.3h0M412.5 123.3h0M401.1 116.4h0M398.3 116.7h0M431.7 125.2h0M419.6 126.4h0M403.5 128.3h0M427.9 130.7h0M421.7 126.9h0M405.5 124.6h0M400.1 123.5h0M402 124.3h0M446.7 121.2h0M403.2 127.2h0M402.9 122.4h0M425.6 124.8h0M409.1 129.3h0M421.2 127h0M425.9 127.7h0M433.4 117.8h0M407.7 128.4h0M409.5 129.4h0M426.3 122.6h0M424.7 121.8h0M416.1 127.1h0M449.5 123.3h0M416.7 125.1h0M425.2 123.9h0M437.4 121.4h0M414.9 121.1h0M415.8 129.1h0M404.7 125.2h0M416.9 126.8h0M424.3 123.8h0M428.7 125.7h0M407 125.7h0M424.5 129.9h0M421.1 124.9h0M427.3 125.9h0M410.2 126.9h0M406.8 128.3h0M427.7 126.1h0M429 123.2h0M428.6 125.7h0M399.5 120.8h0M427.7 122.5h0M417.1 127.3h0M400.6 126.7h0M422.4 130.2h0M410 126.3h0M415.4 124.5h0M419.6 127.8h0M396.9 125.5h0M407.8 128.7h0M428.7 122.2h0M432.6 120.7h0M396 125.9h0M414.5 126.3h0M441.7 129.5h0M391.9 125.1h0M422.2 126.8h0M386.2 125.8h0M416.8 129.2h0M413.9 124.3h0M421.7 130.7h0M417.6 128.5h0M411.2 126.7h0M396.2 128.1h0M420.3 128.7h0M406.2 129.1h0M407.9 123h0M433.6 125.6h0M410.9 120.2h0M427.7 121h0M411.7 124.7h0M422.2 125.6h0M408.4 127h0M420.8 128.2h0M400.3 117.3h0M415.6 128.3h0M409.3 118.4h0M417.2 125.2h0M426.8 121.4h0M413.1 124.6h0M439.7 126.1h0M407.4 125.3h0M415.2 128h0M427.7 120h0M415.2 126h0M413.9 124.3h0M429.6 120h0M426.9 123.5h0M434.7 123.7h0M439 124.5h0M426.9 126h0M410.5 129.1h0M405.4 127.6h0M420.7 126.8h0M406.2 127.1h0M420.4 127.7h0M424.6 122.8h0M410.5 118.1h0M414.6 128.3h0M438.2 127.2h0M409.1 121.8h0M406 126.4h0M417.5 125.9h0M417.7 127.8h0M424.5 128.6h0M427.7 124.5h0M387.4 127.6h0M446.6 118.2h0M422.6 129.5h0M429 124.3h0M419.5 127h0M423.7 129.3h0M421.5 126.3h0M411 118.3h0M411.2 128.5h0M421.5 129.6h0M404.3 129.9h0M411.2 118.5h0M438.5 126.9h0M409.3 124.6h0M423.1 124.3h0M420 126.6h0M423.2 123.2h0M419.4 127.6h0M430.6 125.2h0M420.9 126.4h0M419 127.9h0M427.2 118h0M424.1 124.8h0M418.3 128.6h0M413.4 124.1h0M422.9 128.8h0M419.9 127.6h0M405.5 125.6h0M413 123.4h0M434.3 121.9h0M416.3 127.2h0M429.9 126.8h0M422.8 128.6h0M417.8 126.4h0M389 127.3h0M428.9 125.6h0M423.3 130.7h0M407.1 128.5h0M427.2 126.5h0M406.6 130.4h0M415.7 127.3h0M413.8 127.5h0M412.6 125.1h0M440.4 123.2h0M423.4 126.1h0M410.3 121.6h0M422 127.1h0M419.6 127.3h0M430.6 122.6h0M431 122h0M423.5 125.1h0M420.8 127.5h0M430.9 117.5h0M427.8 123.1h0M436.4 127.8h0M392.2 126.4h0M411.5 129.6h0M404.2 124.6h0M395.1 119.7h0M404.3 125.4h0M417.4 124.5h0M420.7 129.5h0M417.2 128.3h0M419.1 130.2h0M417.3 124.6h0M396.3 124.2h0M410.7 129.4h0M421.4 127.2h0M428.2 129.8h0M410 127.3h0M427.2 125.7h0M429.6 122.8h0M430.1 129.9h0M416.3 129.2h0M396 128h0M408.3 123.4h0M408.2 127.8h0M417.2 125.8h0M433 116.6h0M414.6 121.8h0M441.7 124.9h0M399.9 124.4h0M397.3 126.4h0M431 121.6h0M430.3 125.7h0M405.7 129.3h0M423.9 128.9h0M414 127.5h0M423.3 125.7h0M424.5 122.4h0M422.5 128.2h0M408.4 123.9h0M429.6 122.7h0M396.1 123.8h0M428.1 125.1h0M404.7 128.1h0M431.1 129.8h0M415.6 127.4h0M393.6 123.4h0M417.9 130.8h0M430.2 117.9h0M411.6 123h0M419.2 128.4h0M417.3 128.3h0M434 128.1h0M403.3 124.5h0M424.4 128.3h0M417.1 127h0M427.6 123.4h0M450.4 126.9h0M398.4 122.1h0M444.7 116.8h0M416.6 124.8h0M416.2 125.5h0M405.9 119.3h0M415.2 124.7h0M416.2 126.2h0M434.4 122.5h0M407.9 126.6h0M417.3 124.8h0M436.1 127.2h0M425.3 126.4h0M419.3 129.4h0M422.5 126.9h0M411 119.7h0M443.2 122.4h0M424.9 128h0M428.1 124.9h0M430.6 123.9h0M414.7 127.7h0M410.6 127.7h0M407.4 119.8h0M432.7 125.7h0M423.5 128.4h0M360.9 125.5h0M437.4 117.3h0M394.8 119.9h0M428.3 122.7h0M425.1 119.8h0M431.7 123.7h0M442.8 121.2h0M407.8 121.3h0M399.8 124.3h0M440.5 117h0M417.3 128.3h0M429.9 122.8h0M438.3 121.8h0M411.9 129.2h0M441.6 125.4h0M424.9 121.6h0M426.6 119.6h0M434.3 120.2h0M421.6 127.6h0M431.4 130.3h0M412.1 122.2h0M417.6 126.5h0M415.9 124.5h0M414.1 126h0M424.3 126.3h0M413.3 123.2h0M417.3 127.4h0M434.8 127.7h0M453.3 128.5h0M428.9 128.2h0M413.7 127.5h0M397.2 128.8h0M437.9 118.1h0M406 125.8h0M416.5 130.7h0M398.1 121h0M401.8 121.7h0M397.5 125.6h0M415.5 128.7h0M402.1 118.8h0M436.1 116.9h0M412.5 128.2h0M397.1 130.6h0M421.6 127h0M411.3 122.3h0M402 122.6h0M414.5 121.3h0M400.5 128.5h0M401.2 129.1h0M413.7 123.9h0M426.6 122.5h0M423.3 122.4h0M417 128.3h0M444.1 128.1h0M419.5 127h0M431.7 128.1h0M419.6 130.3h0M404.8 125.8h0M423.1 129.1h0M431.2 130.9h0M427 126.6h0M413 124.7h0M410.6 126.7h0M407.5 126h0M431.3 117.8h0M435.7 125.1h0M414.3 123.2h0M428.6 120.4h0M409.4 120.3h0M405.2 121h0M421.2 129.2h0M443.2 125.8h0M400.7 127.3h0M410.6 118.9h0M417.1 129h0M398.2 126.4h0M421.6 125.9h0M415.7 128h0M420.1 126.4h0M427.6 128.5h0M394.5 124.7h0M414.1 123.5h0M425.9 129.8h0M412.8 124h0M428.9 119.3h0M412.2 122.2h0M440.3 122.7h0M432.7 120.3h0M414.6 123.8h0M413.2 126.8h0M433.4 123.3h0M360.5 127.4h0M414.7 130.2h0M404.8 122.9h0M419.5 126.6h0M431.9 125.4h0M427.5 128.4h0M413.8 127.9h0M400.7 124.2h0M426.7 128.6h0M431.5 122.9h0M412.1 127.1h0M426 123.8h0M428.5 125.5h0M413.2 124.7h0M408 124.7h0M421.6 125h0M433 123.2h0M432.7 117.8h0M425.3 127.6h0M411.7 123h0M406 125.5h0M417.7 128.6h0M410.9 123.3h0M432.8 120.8h0M413.9 127h0M437.4 124.9h0M427 123h0M429.9 118.1h0M413.9 123.5h0M411.1 121.1h0M417.7 125.9h0M420.7 126.6h0M406.1 126.6h0M440.1 129.9h0M411.6 124.2h0M427.4 124.6h0M408.8 123.7h0M431.8 130.2h0M437.3 117.5h0M432.9 130.5h0M427.4 127.5h0M418 128.7h0M423.8 123.5h0M438.1 127.9h0M425.9 124.8h0M420.8 127.6h0M430.2 122.6h0M433.7 129.5h0M420.6 130.3h0M412.5 127h0M427.7 120.2h0M427 127.1h0M414.2 122.9h0M424 121h0M433.1 118.7h0M421.4 124h0M444.2 125.7h0M425 129.2h0M436.4 127.5h0M417.9 129h0M408.2 129.3h0M410.3 120h0M429.9 129.2h0M440 126.7h0M419 126.3h0M425.9 121.2h0M419 125.9h0M448.4 124.1h0M417.5 128.8h0M433.8 128.4h0M427.5 117.3h0M421.3 128h0M419.8 128.8h0M415.8 128.7h0M425.8 122.4h0M426.4 119.5h0M426.4 124.1h0M408.5 122.7h0M415.5 125.6h0M385 125.2h0M417 128.5h0M408.7 118.6h0M431.9 121.1h0M437.9 129.1h0M431.7 120.8h0M407 123.7h0M412.7 125h0M408.1 127.4h0M428.9 123.4h0M414.9 129.8h0M395.3 117.8h0M407.1 118.3h0M411.9 119.9h0M411.4 120.8h0M428.5 126.3h0M430.2 125h0M414.9 127.9h0M418.6 130.9h0M418.3 125.9h0M441.2 130.2h0M420.7 130.6h0M420.7 126.4h0M407.7 118.2h0M417.6 129.3h0M416.9 127.7h0M424.6 121h0M419 127.2h0M433.9 124.4h0M431.2 129.9h0M390.8 127.7h0M422.6 126.9h0M419 126.4h0M436.2 117.9h0M428.5 120.4h0M415.1 126.3h0M424.9 126.9h0M431.3 120.7h0M425.7 124.7h0M421.1 129.3h0M426.3 124.6h0M409.1 129.6h0M396.5 119.6h0M428.5 118.5h0M418.7 127.9h0M421.9 126.3h0M429.4 118h0M433.7 116.8h0M409.7 127.5h0M416.8 129.9h0M413.9 120.8h0M413.8 130.2h0M407.2 120.7h0M412.2 129.5h0M437.5 125.3h0M434.7 125.4h0M418.3 129h0M423.3 127.8h0M409.4 127.1h0M403.5 116.7h0M419.2 126.9h0M419 127.1h0M429.6 126.9h0M408.9 123.7h0M428.6 126h0M415.1 120.3h0M422.9 126.3h0M411 121.9h0M437.5 126.3h0M409.8 125.3h0M392.9 124.1h0M422.6 125.8h0M412.2 122.8h0M407 127.7h0M422.7 127.1h0M409.5 129.5h0M426.6 127.3h0M404.3 120.1h0M413.1 128.9h0M422.9 129.8h0M422.7 129.2h0M423.1 128.3h0M404.3 121h0M431.9 124.2h0M432 129.6h0M435.7 129.7h0M416 123.1h0M412.8 121.8h0M419.6 125.8h0M412.6 127.5h0M423.3 128.5h0M407.8 122.4h0M425.8 127.3h0M420.9 126.5h0M434 122.9h0M416.6 128.8h0M403.9 117.8h0M419.5 130h0M411.6 128.4h0M421.6 128.4h0M410.4 125.4h0M418.8 127.6h0M418.4 125.1h0M422.2 129.4h0M388 120h0M424.5 122.7h0M407.8 128.1h0M422.7 123.4h0M401.1 124.7h0M399.5 127.9h0M412.4 125.2h0M415.2 125.4h0M413.8 122h0M421.8 125.9h0M413.8 130.5h0M420.2 127.2h0M438.3 125.9h0M412.1 123h0M436.9 128.3h0M394.4 120.8h0M413.2 130.6h0M426.4 122.4h0M433.2 125.6h0M424.2 127.6h0M433.9 123.9h0M426.7 120.8h0M418.7 130.9h0M408.3 118h0M412.6 128h0M432.3 128.6h0M420.9 125.9h0M416.4 130.7h0M421.3 127.8h0M395.8 129.5h0M429.2 123.9h0M438.6 121.9h0M409.8 125.4h0M417.8 126.5h0M430.2 119.3h0M425.9 129.8h0M404.6 128.8h0M414.9 129h0M397.4 129.8h0M404.6 123.4h0M408.2 122.9h0M410.2 122.8h0M393.6 124h0M395.3 126.6h0M420.6 126.3h0M421.9 128.8h0M426.2 129.5h0M424.4 122.2h0M421.9 127.2h0M422.3 130.2h0M420.4 127.8h0M419.6 126.9h0M426 126.7h0M433.5 127.9h0M415.5 125h0M426.5 126.8h0M412.5 125.4h0M418.7 126h0M428.6 130.9h0M437 124.6h0M439.1 129.6h0M450.3 129.1h0M413.7 122.6h0M422.9 122.8h0M402 121.5h0M431.8 120.4h0M395.2 128.3h0M429.2 120.4h0M417.7 128.8h0M413.6 127.9h0M400.4 130.1h0M413.8 126.9h0M437.3 121.3h0M410.4 121.8h0M415 125.2h0M423.6 125h0M435 122.1h0M398.4 118.4h0M387.4 126.4h0M421.4 126.1h0M411.7 123.2h0M429.3 119.3h0M420.3 130h0M422.1 126.6h0M432.6 120.1h0M407.8 125.3h0M429.7 117.7h0M445.4 126.5h0M429.4 127.6h0M411.6 122.2h0M429.7 127h0M430.4 124h0M447.1 127.9h0M398.5 126h0M429.6 118.8h0M424.8 123.8h0M389.2 128.3h0M418.9 130.8h0M424.1 122.9h0M416.6 129.2h0M425.2 124.1h0M413.3 125h0M418.7 127.2h0M420.1 130.5h0M398.2 129.4h0M422.6 127.9h0M420.3 127.6h0M442.4 118.8h0M410.5 125.6h0M418.4 125.5h0M417.7 127.3h0M422.8 129.4h0M434.6 128.7h0M387.2 130.1h0M410.6 126.4h0M404.3 119.9h0M405.4 129h0M423.9 125.3h0M415.8 128.6h0M426.5 127.9h0M430.7 120.1h0M439.8 126.4h0M433.6 123.1h0M419.8 128.5h0M424.7 124.2h0M413.2 126.6h0M411.2 119.5h0M423.7 127.8h0M430.6 127.3h0M419.2 125.9h0M412.2 125.5h0M397.5 126.4h0M431.7 127.8h0M408.9 129.1h0M434.5 128.9h0M429.5 127.3h0M412.2 116.9h0M392.5 118.5h0M438 124.7h0M406.4 118.6h0M417.6 125.2h0M446.4 122.3h0M438.4 127.3h0M416.8 128.3h0M432 121h0M420.9 124.6h0M418.7 129.8h0M449.5 128.9h0M403.6 127.9h0M408.7 118.5h0M419.2 127.7h0M409.8 127.5h0M421 124.1h0M421.9 126.6h0M434.5 122.1h0M421 130.9h0M414.4 130.5h0M407.7 129.7h0M407 122.2h0M406.3 116.9h0M404.8 128.1h0M416.4 127.2h0M429.2 124h0M435.1 120.8h0M436.1 119.6h0M424 130.2h0M428.5 124.6h0M416.9 128.5h0M399 127.6h0M389.3 117.4h0M417.9 130.3h0M443.1 128.4h0M413.2 121.9h0M410.6 125.4h0M444.4 125.5h0M407.3 127.7h0M431.5 123.5h0M413.2 128.6h0M402.6 128.9h0M418.7 130.2h0M416.4 127.8h0M409.7 121.6h0M436 125.8h0M424.7 124.9h0M426.4 121.8h0M444.7 127h0M409.1 120.6h0M409.3 124.4h0M411.2 128.9h0M419.8 128.4h0M411.4 118.8h0M427.5 127.4h0M415.1 124.8h0M412.8 119.7h0M422 127.6h0M430.2 121.5h0M413.1 125.2h0M440.8 128.3h0M395.9 122.8h0M415.6 126.9h0M429.1 122.9h0M432.2 127.6h0M395.5 121.4h0M435.8 124.9h0M439.2 118.4h0M425.9 123h0M441.7 126.6h0M424.1 122.9h0M438.2 130.1h0M431.6 120.8h0M421.4 129.8h0M426.9 124.2h0M420.2 127.7h0M410.2 126.7h0M418.7 127.9h0M420.5 125.6h0M428.3 126.5h0M453.4 125.6h0M421.5 126.1h0M429.7 130.6h0M429.4 125.2h0M425.9 119h0M431.7 126.5h0M446.6 130h0M409.8 120.2h0M424.4 125.3h0M410.3 128.9h0M424.3 126.1h0M399 128.4h0M404.2 129.4h0M407.5 117.5h0M427.9 130.4h0M425.1 127.9h0M396.4 126.4h0M441.4 127h0M405.7 123.9h0M420.6 129h0M433.3 129.4h0M431.8 120.3h0M403.1 125.9h0M433.8 124.8h0M412.4 125.8h0M428.9 118.4h0M409.3 123.4h0M445.7 117.5h0M424.8 125.8h0M433.2 123.2h0M411.2 127.2h0M417.9 126h0M426.4 126h0M406.2 121.6h0M424.4 124.1h0M408.3 127.8h0M424.2 124.5h0M434.1 125.1h0M410.9 119.6h0M415.9 124.8h0M426.9 127.2h0M412.1 122.6h0M421 126.7h0M414.9 123.1h0M420.9 125.9h0M397.5 130.3h0M412.8 127.9h0M430.6 123.3h0M389.2 119.3h0M439.5 118.4h0M407.8 125.7h0M439.3 121.6h0M402.9 125.6h0M409.2 120.2h0M416.9 128.6h0M400.4 119.5h0M388.9 123.6h0M439.7 127.9h0M416.8 125.4h0M401.8 124h0M434.6 119.4h0M418 127.4h0M395.1 123.1h0M407.4 120.6h0M427.6 126h0M434 128.4h0M419.9 130.9h0M385 126.3h0M413.8 127.3h0M422.3 127h0M417.4 124h0M422.2 127.1h0M433.3 124.7h0M440.6 119.3h0M415.4 125.4h0M392.4 118h0M408.8 129.9h0M428.8 126.1h0M413.4 129.3h0M407.4 125h0M406.4 128.1h0M410.3 126.3h0M430.6 126.1h0M416.4 127.5h0M430.6 122h0M428.9 120.7h0M430.7 117.4h0M414.6 129.7h0M414 120.7h0M415.3 126.8h0M414.5 122h0M420.4 128.2h0M424.7 121.3h0M435.5 123h0M423.1 124.2h0M411 116.8h0M416.5 126.7h0M408.7 127.3h0M426.8 121.2h0M416.3 126.6h0M399.1 129.9h0M445 125.4h0M389.8 130.1h0M403.9 129.6h0M426.7 128.7h0M433.4 124.4h0M401.6 129.8h0M404.2 126.2h0M425.9 126.5h0M426.3 127.1h0M427.1 119.2h0M406.8 125.5h0M411.4 119.9h0M408.2 125.5h0M418.5 128.7h0M414.5 126.2h0M422 127.1h0" stroke="#bcbcbc" stroke-width="2.5" stroke-linecap="round" stroke-opacity="1.0" fill="none"/><path d="M416.3 129.9h0M427.5 129.7h0M415.3 129.6h0M425.6 129.3h0M414 130.4h0M428.7 123.9h0M415.9 129.3h0M413.3 127.8h0M427.2 129.8h0M415.3 129.1h0M410.8 128.1h0M428.2 126.6h0M418.1 130h0M419.1 129.8h0M413.1 129.2h0M422 129.6h0M421.7 129.7h0M416.3 129.8h0M424.4 130h0M418.6 131h0M424.6 130.5h0M417.9 129.9h0M414.3 129.7h0M419.8 130h0M419.6 130.5h0M422.3 129.8h0M419.2 130h0M423 130.2h0M417.1 129.8h0M412.2 130.3h0M429.6 125.5h0M425.2 127.2h0M415 128.1h0M418.8 130.2h0M414.3 130.3h0M427.9 129.9h0M426.7 127.4h0M428.1 130.2h0M424.4 130.1h0M422.5 130.6h0M427.3 125.4h0M412 130.5h0M423.4 129.6h0M422.4 130h0M420.7 130.8h0M414.1 128.6h0M428.5 128.4h0M424.3 128.8h0M429.4 124.8h0M417.1 130h0M423.7 130.4h0M420 130.8h0M422.1 129.7h0M423.9 130.1h0M414.5 130.1h0M422.7 130.2h0M423 129.6h0M423.6 129.5h0M411.1 126h0M426.9 126.7h0M418 130.2h0M429 128.1h0M423.8 128.8h0M425.4 126.9h0M423.9 129.9h0M412 128.8h0M417.2 130.8h0M418.4 130.7h0M423.7 129h0M425.3 127.7h0M428.5 126.8h0M414.8 129.2h0M414.3 128.2h0M410.6 128.5h0M415.8 129.7h0M429 131h0M415.8 129.8h0M418.4 129.7h0M426.2 127.1h0M418.8 131.1h0M418.6 130.5h0M418.3 130.4h0M417.6 129.7h0M427.9 128.1h0M429.1 123.2h0M399.4 124.9h0M405.5 121.5h0M399 118.2h0M404.9 123.7h0M402.1 122.9h0M404.4 117.5h0M430.2 121.2h0M426.4 121.4h0M428.6 119.1h0M428.5 118.7h0" stroke="#3650b0" stroke-width="2.6" stroke-linecap="round" stroke-opacity="1.0" fill="none"/><line x1="410.4" y1="6.5" x2="410.4" y2="137.5" stroke="#111" stroke-width="1.0" stroke-dasharray="2,1.6"/><line x1="428.4" y1="6.5" x2="428.4" y2="137.5" stroke="#111" stroke-width="1.0" stroke-dasharray="2,1.6"/><line x1="344.5" y1="119.6" x2="493.5" y2="119.6" stroke="#111" stroke-width="1.0" stroke-dasharray="2,1.6"/><path d="M444 31h0M440 32h0M455 38h0M432 55h0M442 55h0M460 70h0M436 74h0M441 74h0M430 83h0M440 82.5h0M444.5 88h0M436 91.7h0M446 94h0M433 96h0M461.8 100.4h0M436 103h0M437.3 107.6h0M438.7 112h0" stroke="#d92424" stroke-width="2.8" stroke-linecap="round" stroke-opacity="1.0" fill="none"/><text x="444" y="29.5" font-size="3.6" fill="#333" text-anchor="start" font-weight="normal" >DDX4</text><text x="417" y="34" font-size="3.6" fill="#333" text-anchor="start" font-weight="normal" >LLT1A/M2 Gi</text><text x="446" y="43" font-size="3.6" fill="#333" text-anchor="start" font-weight="normal" >LOC100507077</text><text x="440" y="52" font-size="3.6" fill="#333" text-anchor="start" font-weight="normal" >NCM1</text><text x="422" y="59" font-size="3.6" fill="#333" text-anchor="start" font-weight="normal" >CTGH3</text><text x="456" y="67" font-size="3.6" fill="#333" text-anchor="start" font-weight="normal" >HMGA2</text><text x="418" y="76" font-size="3.6" fill="#333" text-anchor="start" font-weight="normal" >SLCO2IL</text><text x="443" y="74.5" font-size="3.6" fill="#333" text-anchor="start" font-weight="normal" >NSA72-AS1</text><text x="425" y="82" font-size="3.6" fill="#333" text-anchor="start" font-weight="normal" >MDM</text><text x="439" y="81.5" font-size="3.6" fill="#333" text-anchor="start" font-weight="normal" >METTL</text><text x="447" y="88.5" font-size="3.6" fill="#333" text-anchor="start" font-weight="normal" >HMGA2-AS1</text><text x="432" y="91.5" font-size="3.6" fill="#333" text-anchor="start" font-weight="normal" >TSFM</text><text x="440" y="98.5" font-size="3.6" fill="#333" text-anchor="start" font-weight="normal" >CYS67N</text><text x="424" y="101.5" font-size="3.6" fill="#333" text-anchor="start" font-weight="normal" >RBL</text><text x="459" y="104.5" font-size="3.6" fill="#333" text-anchor="start" font-weight="normal" >RPSAP52</text><text x="437" y="105.5" font-size="3.6" fill="#333" text-anchor="start" font-weight="normal" >AS</text><text x="441" y="114.5" font-size="3.6" fill="#333" text-anchor="start" font-weight="normal" >LOC100507</text><circle cx="352.5" cy="12" r="1.8" fill="#d92424"/><text x="357" y="14.3" font-size="6.6" fill="#333" text-anchor="start" font-weight="normal" >CNV-up (<tspan font-style="italic">n</tspan> = 18)</text><circle cx="352.5" cy="21.6" r="1.8" fill="#2f4aa6"/><text x="357" y="23.9" font-size="6.6" fill="#333" text-anchor="start" font-weight="normal" >CNV (<tspan font-style="italic">n</tspan> = 120)</text><circle cx="352.5" cy="31.3" r="1.8" fill="#777"/><text x="357" y="33.6" font-size="6.6" fill="#333" text-anchor="start" font-weight="normal" >Non-CNV</text><text x="409" y="184.8" font-size="9.6" fill="#222" text-anchor="middle" font-weight="normal" >chr12</text><line x1="312.7" y1="187.7" x2="517.7" y2="187.7" stroke="#9a9a9a" stroke-width="0.8" /><line x1="312.7" y1="192.3" x2="517.7" y2="192.3" stroke="#9a9a9a" stroke-width="0.8" /><text x="305" y="197.8" font-size="5" fill="#333" text-anchor="start" font-weight="normal" >68.5Mb</text><text x="437" y="198.2" font-size="5" fill="#333" text-anchor="start" font-weight="normal" >69Mb</text><text x="402.2" y="202.2" font-size="6.6" fill="#e03a3a" text-anchor="middle" font-weight="normal" >MDM2</text><line x1="341" y1="205" x2="362" y2="205" stroke="#222" stroke-width="0.7" /><line x1="360" y1="207" x2="377" y2="207" stroke="#222" stroke-width="0.7" /><line x1="377" y1="205" x2="395" y2="205" stroke="#222" stroke-width="0.7" /><line x1="395" y1="205.5" x2="416" y2="205.5" stroke="#222" stroke-width="0.7" /><line x1="410" y1="207" x2="436.4" y2="207" stroke="#222" stroke-width="0.7" /><line x1="505" y1="205" x2="514.7" y2="205" stroke="#222" stroke-width="0.7" /><rect x="375.4" y="206.1" width="0.8" height="1.8" fill="#222" /><rect x="386.2" y="206.1" width="0.8" height="1.8" fill="#222" /><rect x="382.5" y="206.1" width="0.8" height="1.8" fill="#222" /><rect x="381.5" y="206.1" width="0.8" height="1.8" fill="#222" /><rect x="426.3" y="204.1" width="0.8" height="1.8" fill="#222" /><rect x="410.6" y="206.1" width="0.8" height="1.8" fill="#222" /><rect x="367.6" y="206.1" width="0.8" height="1.8" fill="#222" /><rect x="352.3" y="204.1" width="0.8" height="1.8" fill="#222" /><rect x="362.7" y="204.1" width="0.8" height="1.8" fill="#222" /><rect x="404.4" y="206.1" width="0.8" height="1.8" fill="#222" /><rect x="408.4" y="206.1" width="0.8" height="1.8" fill="#222" /><rect x="398.1" y="206.1" width="0.8" height="1.8" fill="#222" /><rect x="374.5" y="204.1" width="0.8" height="1.8" fill="#222" /><rect x="369" y="206.1" width="0.8" height="1.8" fill="#222" /><rect x="371.7" y="204.1" width="0.8" height="1.8" fill="#222" /><rect x="384.5" y="204.1" width="0.8" height="1.8" fill="#222" /><rect x="381.5" y="204.1" width="0.8" height="1.8" fill="#222" /><rect x="413.6" y="206.1" width="0.8" height="1.8" fill="#222" /><rect x="374.2" y="204.1" width="0.8" height="1.8" fill="#222" /><rect x="382.3" y="204.1" width="0.8" height="1.8" fill="#222" /><rect x="359.5" y="204.1" width="0.8" height="1.8" fill="#222" /><rect x="415.4" y="204.1" width="0.8" height="1.8" fill="#222" /><rect x="377" y="204.1" width="0.8" height="1.8" fill="#222" /><rect x="398.5" y="204.1" width="0.8" height="1.8" fill="#222" /><rect x="379.7" y="204.1" width="0.8" height="1.8" fill="#222" /><rect x="506" y="204.2" width="4" height="1.6" fill="#222" /><path fill="#2f78c6" d="M313 224.6 L313 223.4 L325 222.8 L336 221.7 L346 220.5 L356.7 218.8 L365 217.2 L373 215 L380 213.2 L385.6 211.4 L391.8 209.3 L410.4 209.3 L418 211 L425 213 L433 215 L441.6 216.7 L450 218.1 L458 219.2 L468 220.2 L478.7 220.9 L495 221.2 L518 221.3 L518 224.6Z"/><rect x="305" y="225.3" width="212" height="1.2" fill="#fad0d0" /><rect x="305" y="226.9" width="212" height="1.2" fill="#fad0d0" /><rect x="305" y="228.5" width="212" height="1.2" fill="#fad0d0" /><rect x="305" y="230.2" width="212" height="1.2" fill="#fad0d0" /><rect x="305" y="231.8" width="212" height="1.2" fill="#fad0d0" /><rect x="331" y="233.4" width="116" height="1.2" fill="#fad0d0" /><rect x="343.6" y="235" width="173.4" height="1.2" fill="#fad0d0" /><rect x="347.6" y="236.6" width="169.4" height="1.2" fill="#fad0d0" /><rect x="347.6" y="236.6" width="54.3" height="1.2" fill="#f6b6b6" /><rect x="351.7" y="238.3" width="165.3" height="1.2" fill="#fad0d0" /><rect x="351.7" y="238.3" width="46.5" height="1.2" fill="#f4a8a8" /><rect x="355.7" y="239.9" width="113.3" height="1.2" fill="#fad0d0" /><rect x="355.7" y="239.9" width="54.3" height="1.2" fill="#f6b6b6" /><rect x="358.3" y="241.5" width="158.7" height="1.2" fill="#fad0d0" /><rect x="358.3" y="241.5" width="54.6" height="1.2" fill="#f7bebe" /><rect x="360.7" y="243.1" width="156.3" height="1.2" fill="#fad0d0" /><rect x="360.7" y="243.1" width="48.2" height="1.2" fill="#f6b6b6" /><rect x="363.2" y="244.7" width="153.8" height="1.2" fill="#fad0d0" /><rect x="363.2" y="244.7" width="43.9" height="1.2" fill="#f6b6b6" /><rect x="365.7" y="246.4" width="74.4" height="1.2" fill="#fbd6d6" /><rect x="365.7" y="246.4" width="54.8" height="1.2" fill="#f7bebe" /><rect x="367.9" y="248" width="60.1" height="1.2" fill="#fbd6d6" /><rect x="367.9" y="248" width="46" height="1.2" fill="#f4a8a8" /><rect x="369.2" y="249.6" width="66.1" height="1.2" fill="#fbd6d6" /><rect x="369.2" y="249.6" width="44.7" height="1.2" fill="#f29e9e" /><rect x="370.5" y="251.2" width="59.5" height="1.2" fill="#fbd6d6" /><rect x="370.5" y="251.2" width="57.3" height="1.2" fill="#f7bebe" /><rect x="371.8" y="252.8" width="58.2" height="1.2" fill="#fbd6d6" /><rect x="371.8" y="252.8" width="33.7" height="1.2" fill="#f6b6b6" /><rect x="373.1" y="254.5" width="56.5" height="1.2" fill="#fbd6d6" /><rect x="373.1" y="254.5" width="42.3" height="1.2" fill="#f6b6b6" /><rect x="374.2" y="256.1" width="142.8" height="1.2" fill="#fbd6d6" /><rect x="374.2" y="256.1" width="33.6" height="1.2" fill="#f6b6b6" /><rect x="375.2" y="257.7" width="52.1" height="1.2" fill="#fbd6d6" /><rect x="375.2" y="257.7" width="30.6" height="1.2" fill="#f4a8a8" /><rect x="376.2" y="259.3" width="76.7" height="1.2" fill="#fbd6d6" /><rect x="376.2" y="259.3" width="43.4" height="1.2" fill="#f7bebe" /><rect x="377.2" y="260.9" width="69.4" height="1.2" fill="#fbd6d6" /><rect x="377.2" y="260.9" width="35" height="1.2" fill="#f6b6b6" /><rect x="378.2" y="262.6" width="44.5" height="1.2" fill="#fbd6d6" /><rect x="378.2" y="262.6" width="37.3" height="1.2" fill="#f6b6b6" /><rect x="379.2" y="264.2" width="52.9" height="1.2" fill="#fbd6d6" /><rect x="379.2" y="264.2" width="35.5" height="1.2" fill="#f6b6b6" /><rect x="380.1" y="265.8" width="57.1" height="1.2" fill="#fbd6d6" /><rect x="380.1" y="265.8" width="26.6" height="1.2" fill="#f6b6b6" /><rect x="381.1" y="267.4" width="51.6" height="1.2" fill="#fbd6d6" /><rect x="381.1" y="267.4" width="23.4" height="1.2" fill="#f7bebe" /><rect x="382" y="269" width="63.1" height="1.2" fill="#fbd6d6" /><rect x="382" y="269" width="44.8" height="1.2" fill="#f29e9e" /><rect x="382.9" y="270.7" width="63.6" height="1.2" fill="#fbd6d6" /><rect x="382.9" y="270.7" width="45.7" height="1.2" fill="#f7bebe" /><rect x="383.5" y="272.3" width="133.5" height="1.2" fill="#fbd6d6" /><rect x="383.5" y="272.3" width="25.9" height="1.2" fill="#f7bebe" /><rect x="384" y="273.9" width="58.3" height="1.2" fill="#fbd6d6" /><rect x="384" y="273.9" width="26.6" height="1.2" fill="#f6b6b6" /><rect x="384.5" y="275.5" width="68.9" height="1.2" fill="#fbd6d6" /><rect x="384.5" y="275.5" width="39.9" height="1.2" fill="#f29e9e" /><rect x="385" y="277.1" width="64.1" height="1.2" fill="#fbd6d6" /><rect x="385" y="277.1" width="38.2" height="1.2" fill="#f6b6b6" /><rect x="385.5" y="278.8" width="55.4" height="1.2" fill="#fbd6d6" /><rect x="385.5" y="278.8" width="21.5" height="1.2" fill="#f29e9e" /><rect x="386.2" y="280.4" width="51" height="1.2" fill="#fbd6d6" /><rect x="386.2" y="280.4" width="24.4" height="1.2" fill="#f7bebe" /><rect x="386.8" y="282" width="52.1" height="1.2" fill="#fbd6d6" /><rect x="386.8" y="282" width="26.1" height="1.2" fill="#f7bebe" /><rect x="387.5" y="283.6" width="61.6" height="1.2" fill="#fbd6d6" /><rect x="387.5" y="283.6" width="19.8" height="1.2" fill="#f4a8a8" /><rect x="388.2" y="285.2" width="56.4" height="1.2" fill="#fbd6d6" /><rect x="388.2" y="285.2" width="25.8" height="1.2" fill="#f6b6b6" /><rect x="388.9" y="286.9" width="68.6" height="1.2" fill="#fbd6d6" /><rect x="388.9" y="286.9" width="31.5" height="1.2" fill="#f6b6b6" /><rect x="389.7" y="288.5" width="31.2" height="1.2" fill="#fbd6d6" /><rect x="389.7" y="288.5" width="27.6" height="1.2" fill="#f4a8a8" /><rect x="390.6" y="290.1" width="126.4" height="1.2" fill="#fbd6d6" /><rect x="390.6" y="290.1" width="23" height="1.2" fill="#f7bebe" /><rect x="391.4" y="291.7" width="125.6" height="1.2" fill="#fbd6d6" /><rect x="391.4" y="291.7" width="36.5" height="1.2" fill="#f29e9e" /><path d="M392.7 224.6V295.2L343.8 331.5M411 224.6V295.2L486.5 334.3" fill="none" stroke="#3aa0d4" stroke-width="1"/><text x="420.9" y="335.2" font-size="8.5" fill="#222" text-anchor="middle" font-weight="normal" >chr12:68,804,332-68,877,531</text><text x="519.5" y="350.4" font-size="7.5" fill="#111" text-anchor="end" font-weight="normal" >P241T</text><text x="326.6" y="339.5" font-size="4.4" fill="#444" text-anchor="end" font-weight="normal" >60</text><line x1="327" y1="338" x2="329" y2="338" stroke="#666" stroke-width="0.4" /><text x="519.5" y="370.2" font-size="7.5" fill="#111" text-anchor="end" font-weight="normal" >P298T</text><text x="326.6" y="359.3" font-size="4.4" fill="#444" text-anchor="end" font-weight="normal" >60</text><line x1="327" y1="357.8" x2="329" y2="357.8" stroke="#666" stroke-width="0.4" /><text x="519.5" y="390" font-size="7.5" fill="#111" text-anchor="end" font-weight="normal" >P69T</text><text x="326.6" y="379.1" font-size="4.4" fill="#444" text-anchor="end" font-weight="normal" >60</text><line x1="327" y1="377.6" x2="329" y2="377.6" stroke="#666" stroke-width="0.4" /><text x="519.5" y="409.9" font-size="7.5" fill="#111" text-anchor="end" font-weight="normal" >P209T</text><text x="326.6" y="399" font-size="4.4" fill="#444" text-anchor="end" font-weight="normal" >60</text><line x1="327" y1="397.5" x2="329" y2="397.5" stroke="#666" stroke-width="0.4" /><text x="519.5" y="429.7" font-size="7.5" fill="#111" text-anchor="end" font-weight="normal" >P241N</text><text x="326.6" y="418.8" font-size="4.4" fill="#444" text-anchor="end" font-weight="normal" >60</text><line x1="327" y1="417.3" x2="329" y2="417.3" stroke="#666" stroke-width="0.4" /><text x="519.5" y="449.5" font-size="7.5" fill="#111" text-anchor="end" font-weight="normal" >P298N</text><text x="326.6" y="438.6" font-size="4.4" fill="#444" text-anchor="end" font-weight="normal" >60</text><line x1="327" y1="437.1" x2="329" y2="437.1" stroke="#666" stroke-width="0.4" /><text x="519.5" y="469.3" font-size="7.5" fill="#111" text-anchor="end" font-weight="normal" >P69N</text><text x="326.6" y="458.4" font-size="4.4" fill="#444" text-anchor="end" font-weight="normal" >60</text><line x1="327" y1="456.9" x2="329" y2="456.9" stroke="#666" stroke-width="0.4" /><text x="519.5" y="489.1" font-size="7.5" fill="#111" text-anchor="end" font-weight="normal" >P209N</text><text x="326.6" y="478.2" font-size="4.4" fill="#444" text-anchor="end" font-weight="normal" >60</text><line x1="327" y1="476.7" x2="329" y2="476.7" stroke="#666" stroke-width="0.4" /><text x="519.5" y="509" font-size="7.5" fill="#111" text-anchor="end" font-weight="normal" >P241T</text><text x="326.6" y="498.1" font-size="4.4" fill="#444" text-anchor="end" font-weight="normal" >120</text><line x1="327" y1="496.6" x2="329" y2="496.6" stroke="#666" stroke-width="0.4" /><text x="519.5" y="528.8" font-size="7.5" fill="#111" text-anchor="end" font-weight="normal" >P298T</text><text x="326.6" y="517.9" font-size="4.4" fill="#444" text-anchor="end" font-weight="normal" >120</text><line x1="327" y1="516.4" x2="329" y2="516.4" stroke="#666" stroke-width="0.4" /><text x="519.5" y="548.6" font-size="7.5" fill="#111" text-anchor="end" font-weight="normal" >P69T</text><text x="326.6" y="537.7" font-size="4.4" fill="#444" text-anchor="end" font-weight="normal" >120</text><line x1="327" y1="536.2" x2="329" y2="536.2" stroke="#666" stroke-width="0.4" /><text x="519.5" y="568.4" font-size="7.5" fill="#111" text-anchor="end" font-weight="normal" >P209T</text><text x="326.6" y="557.5" font-size="4.4" fill="#444" text-anchor="end" font-weight="normal" >120</text><line x1="327" y1="556" x2="329" y2="556" stroke="#666" stroke-width="0.4" /><text x="519.5" y="588.2" font-size="7.5" fill="#111" text-anchor="end" font-weight="normal" >P241N</text><text x="326.6" y="577.3" font-size="4.4" fill="#444" text-anchor="end" font-weight="normal" >120</text><line x1="327" y1="575.8" x2="329" y2="575.8" stroke="#666" stroke-width="0.4" /><text x="519.5" y="608.1" font-size="7.5" fill="#111" text-anchor="end" font-weight="normal" >P298N</text><text x="326.6" y="597.2" font-size="4.4" fill="#444" text-anchor="end" font-weight="normal" >120</text><line x1="327" y1="595.7" x2="329" y2="595.7" stroke="#666" stroke-width="0.4" /><text x="519.5" y="627.9" font-size="7.5" fill="#111" text-anchor="end" font-weight="normal" >P69N</text><text x="326.6" y="617" font-size="4.4" fill="#444" text-anchor="end" font-weight="normal" >120</text><line x1="327" y1="615.5" x2="329" y2="615.5" stroke="#666" stroke-width="0.4" /><text x="519.5" y="647.7" font-size="7.5" fill="#111" text-anchor="end" font-weight="normal" >P209N</text><text x="326.6" y="636.8" font-size="4.4" fill="#444" text-anchor="end" font-weight="normal" >120</text><line x1="327" y1="635.3" x2="329" y2="635.3" stroke="#666" stroke-width="0.4" /><line x1="328.8" y1="336" x2="328.8" y2="656" stroke="#b8c8d8" stroke-width="0.7" /><line x1="314.2" y1="346.9" x2="314.2" y2="487.2" stroke="#333" stroke-width="1" /><line x1="314.2" y1="507" x2="314.2" y2="647.7" stroke="#333" stroke-width="1" /><text x="0" y="0" font-size="10" fill="#222" text-anchor="middle" font-weight="normal" transform="translate(311,415) rotate(-90)">H3K27Ac</text><text x="0" y="0" font-size="10.5" fill="#222" text-anchor="middle" font-weight="normal" transform="translate(311,579) rotate(-90)">CNV</text><path fill="#a63599" fill-opacity="1.0" d="M329.5 357.8L329.5 357.8L330 356L330.5 354.9L331 357.8L331.5 357.5L332 357.8L332.5 354.7L333 356.4L333.5 357.3L334 354.8L334.5 356.5L335 357.2L335.5 356.8L336 356.7L336.5 357.7L337 356.5L337.5 357.6L338 357.8L338.5 357.8L339 357.2L339.5 357.6L340 355.3L340.5 357.5L341 355.4L341.5 356.4L342 355.3L342.5 356.6L343 357.8L343.5 356.4L344 357.8L344.5 356.4L345 357.6L345.5 356.4L346 355.3L346.5 357.8L347 357.8L347.5 357.8L348 357.5L348.5 357.3L349 357.2L349.5 357.7L350 357.4L350.5 357.8L351 356.6L351.5 356.3L352 357.8L352.5 357.8L353 357.5L353.5 355.8L354 355.6L354.5 355.6L355 357.5L355.5 357.7L356 357.5L356.5 357.7L357 357.3L357.5 357.5L358 357.4L358.5 357.2L359 357.8L359.5 357.4L360 355.7L360.5 356.4L361 357.7L361.5 356.9L362 357.4L362.5 357.8L363 357.8L363.5 357.8L364 357.8L364.5 357.8L365 357.8L365.5 357.8L366 357.8L366.5 357.8L367 357.8L367.5 357.8L368 357.6L368.5 357.8L369 357.3L369.5 357.4L370 356.6L370.5 357.8L371 356.9L371.5 357.5L372 357.7L372.5 357.8L373 357.8L373.5 357.8L374 357.8L374.5 357.8L375 357.8L375.5 357.8L376 357.8L376.5 357.8L377 357.8L377.5 357.8L378 357.8L378.5 357.8L379 357.8L379.5 357.8L380 357.8L380.5 357.3L381 357.8L381.5 357.4L382 356.7L382.5 357.5L383 357.8L383.5 357.6L384 357.8L384.5 357.8L385 357.8L385.5 357.8L386 357.8L386.5 357.8L387 357.8L387.5 357.8L388 357.8L388.5 357.8L389 357.8L389.5 357.8L390 357.8L390.5 357.8L391 357.8L391.5 357.8L392 357.8L392.5 357.8L393 357.8L393.5 357.8L394 357.8L394.5 357.8L395 357.8L395.5 357.8L396 357.3L396.5 357.8L397 357.7L397.5 357.4L398 356.7L398.5 357.8L399 357.8L399.5 357.7L400 357.2L400.5 357.8L401 357.8L401.5 357.8L402 357.8L402.5 357.8L403 357.8L403.5 357.8L404 357.8L404.5 357.8L405 357.8L405.5 357.8L406 357.8L406.5 357.8L407 357.8L407.5 357.8L408 357.8L408.5 357.8L409 357.8L409.5 357.8L410 357.8L410.5 357.8L411 357.8L411.5 357.8L412 357.8L412.5 357.8L413 357.8L413.5 357.8L414 357.8L414.5 357.8L415 357.8L415.5 357.8L416 357.8L416.5 357.8L417 357.8L417.5 357.8L418 357.8L418.5 357.8L419 357.8L419.5 357.8L420 357.8L420.5 357.8L421 357.8L421.5 357.8L422 357.8L422.5 357.8L423 357.8L423.5 357.8L424 357.8L424.5 357.8L425 357.8L425.5 357.8L426 357.8L426.5 357.8L427 357.8L427.5 357.8L428 357.8L428.5 357.8L429 357.8L429.5 357.8L430 357.8L430.5 357.8L431 357.8L431.5 357.8L432 357.8L432.5 357.8L433 357.8L433.5 357.8L434 357.8L434.5 357.8L435 357.8L435.5 357.8L436 357.8L436.5 357.8L437 357.8L437.5 357.8L438 357.8L438.5 357.8L439 357.8L439.5 357.8L440 357.8L440.5 357.8L441 357.8L441.5 357.8L442 357.8L442.5 357.8L443 357.8L443.5 357.8L444 357.8L444.5 357.8L445 357.8L445.5 357.8L446 357.8L446.5 357.8L447 357.8L447.5 357.8L448 357.8L448.5 357.8L449 357.8L449.5 357.8L450 357.8L450.5 357.8L451 357.8L451.5 357.8L452 357.8L452.5 357.8L453 357.8L453.5 357.8L454 357.8L454.5 357.8L455 357.8L455.5 357.8L456 357.8L456.5 357.8L457 357.8L457.5 357.8L458 357.8L458.5 357.8L459 356.3L459.5 357.7L460 355.7L460.5 357.1L461 356.7L461.5 357.6L462 357.6L462.5 357.7L463 355.9L463.5 357.8L464 357.8L464.5 357.8L465 357.8L465.5 357.8L466 357.8L466.5 357.8L467 357.8L467.5 357.8L468 357.8L468.5 357.8L469 357.8L469.5 357.8L470 357.8L470.5 357.8L471 357.8L471.5 357.8L472 357.8L472.5 357.8L473 357.8L473.5 357.8L474 357.8L474.5 357.8L475 357.8L475.5 357.8L476 357.8L476.5 357.8L477 357.8L477.5 357.8L478 357.8L478.5 357.8L479 357.8L479.5 357.8L480 357.8L480.5 357.8L481 357.8L481.5 357.8L482 357.8L482.5 357.8L483 357.8L483.5 357.8L484 357.8L484.5 357.8L485 357.8L485.5 357.8L486 357.8L486.5 357.8L487 357.8L487.5 357.8L488 357.8L488.5 357.8L489 357.8L489.5 357.8L490 357.8L490.5 357.8L491 357.8L491 357.8Z"/><path d="M343.9 357.8V354.9M335.8 357.8V357M361.7 357.8V348.6M350.3 357.8V356.9M353.2 357.8V354.7M352.3 357.8V349.8M355.9 357.8V352.3M348.6 357.8V348.3M350.1 357.8V355.3M348.9 357.8V357.3M369.8 357.8V353.2M372 357.8V353.3M398.1 357.8V356.7M462.1 357.8V354M461.1 357.8V352.9M460.7 357.8V357.8M462.3 357.8V352.3" stroke="#bf6bb2" stroke-width="0.6" fill="none"/><path d="M343.5 357.8V350.9M336.2 357.8V343.3M330.8 357.8V349.5M339.9 357.8V357.7M334.1 357.8V346.7M337.3 357.8V348.8M345.9 357.8V355.7M334.4 357.8V355.4M333.6 357.8V344.2M341.8 357.8V348.6M337.4 357.8V354.5M332.6 357.8V352.2M340.6 357.8V346M346 357.8V355.9M331.4 357.8V347.8M334 357.8V351.2M340.3 357.8V356.7M341.9 357.8V357.2M339.1 357.8V357.2M332.7 357.8V357.7M338.4 357.8V356.9M339.5 357.8V353.2M334.1 357.8V355.8M341.7 357.8V347.1M334.5 357.8V355M343.6 357.8V356.3M345.5 357.8V346.6M344.3 357.8V347.7M333.6 357.8V355.2M335.9 357.8V348.3M341.5 357.8V351.6M345.3 357.8V354M332 357.8V345M339.5 357.8V346.8M358.8 357.8V356.5M352.6 357.8V348.7M352.2 357.8V357.4M354 357.8V351.6M359.8 357.8V356.3M353.3 357.8V357.6M348.5 357.8V355.5M354.4 357.8V357.6M349.4 357.8V351.7M355.8 357.8V353.4M351 357.8V348.5M357.6 357.8V356.3M361.4 357.8V352.2M351.6 357.8V350.6M361.2 357.8V354.4M348.5 357.8V350.7M360.7 357.8V357.8M369.3 357.8V351.4M371.3 357.8V357.6M370 357.8V357.4M369.5 357.8V357.3M382.7 357.8V355.9M383.8 357.8V356M382.4 357.8V357.4M382.1 357.8V357.6M381.6 357.8V352.9M396.5 357.8V355.2M397.1 357.8V357.3M397.4 357.8V356.9M460.8 357.8V354.2M462.5 357.8V357.8M462 357.8V352.2M460.1 357.8V353.8M461.5 357.8V357.6M459.2 357.8V351.9M459.3 357.8V357.2" stroke="#a63599" stroke-width="0.6" fill="none"/><line x1="329.5" y1="357.4" x2="491.0" y2="357.4" stroke="#a63599" stroke-width="0.7" stroke-dasharray="0.8,2.2" stroke-opacity="0.7"/><path fill="#a63599" fill-opacity="1.0" d="M329.5 377.6L329.5 374.7L330 373.9L330.5 376.2L331 377.5L331.5 376.3L332 372.4L332.5 377.5L333 374L333.5 374.1L334 376.3L334.5 371.2L335 376L335.5 373.1L336 377.2L336.5 369.9L337 374.7L337.5 369.8L338 375.7L338.5 376.7L339 372.8L339.5 377.6L340 374.7L340.5 377.4L341 377.1L341.5 377.4L342 375.6L342.5 377.2L343 377.5L343.5 371.6L344 373.7L344.5 371.8L345 377.1L345.5 372.9L346 375.8L346.5 370.2L347 376.8L347.5 373.4L348 374L348.5 376.8L349 372.6L349.5 376.2L350 377.5L350.5 376.3L351 373.5L351.5 375.5L352 375.3L352.5 373.2L353 373L353.5 372.8L354 376.9L354.5 373.3L355 377.6L355.5 376.6L356 375.4L356.5 374.4L357 377.6L357.5 372.7L358 375.8L358.5 377.6L359 376.5L359.5 377.1L360 376.4L360.5 377.3L361 371.7L361.5 371.9L362 371.9L362.5 376.2L363 374.2L363.5 377.6L364 377.6L364.5 374.9L365 371.6L365.5 376.5L366 375L366.5 377.6L367 374.1L367.5 377.6L368 377.6L368.5 374.9L369 376.8L369.5 377.3L370 376.9L370.5 376.1L371 377.6L371.5 376.7L372 377.6L372.5 377.2L373 377.6L373.5 377.6L374 376.9L374.5 374.7L375 373.8L375.5 375.2L376 377.1L376.5 377.6L377 377.4L377.5 377.6L378 373.9L378.5 375.5L379 376.3L379.5 376.7L380 376.4L380.5 377L381 373.2L381.5 377.4L382 375.5L382.5 375.6L383 377L383.5 374.7L384 375.7L384.5 373.1L385 374.9L385.5 376.9L386 377.4L386.5 374.7L387 375.6L387.5 377.6L388 377.6L388.5 377.6L389 377.3L389.5 374.3L390 374.5L390.5 374.4L391 375.3L391.5 377.6L392 377.6L392.5 376.6L393 374.5L393.5 375.9L394 377.3L394.5 377.5L395 377.2L395.5 375.7L396 373.8L396.5 376.6L397 377L397.5 377.6L398 376L398.5 377.6L399 377.6L399.5 377.2L400 375.2L400.5 375.1L401 376.7L401.5 377.6L402 376.3L402.5 377.6L403 377.6L403.5 377.6L404 377.2L404.5 376.7L405 377.6L405.5 376.7L406 376L406.5 376.6L407 375.9L407.5 376L408 375.7L408.5 377.6L409 376.9L409.5 377.1L410 377.6L410.5 376.7L411 377.1L411.5 377.5L412 377.6L412.5 376.7L413 377.3L413.5 377.6L414 377.6L414.5 377.6L415 374.9L415.5 377L416 377L416.5 376L417 376.8L417.5 375L418 374.6L418.5 377.5L419 377.6L419.5 375.8L420 374L420.5 375.1L421 377.5L421.5 377.6L422 377.3L422.5 377.1L423 376.8L423.5 377.4L424 376.6L424.5 377.6L425 377.6L425.5 377.6L426 377.6L426.5 377.6L427 377.6L427.5 377.6L428 377.6L428.5 375L429 376.5L429.5 376.3L430 376.9L430.5 375.9L431 375.5L431.5 377.6L432 377.6L432.5 377.6L433 377.6L433.5 377.6L434 377.6L434.5 377.6L435 377.6L435.5 377.6L436 377.6L436.5 377.6L437 377.6L437.5 377.6L438 377.6L438.5 377.6L439 377.6L439.5 377.6L440 377.6L440.5 377.6L441 377.6L441.5 377.6L442 377.6L442.5 377.6L443 377.6L443.5 377.6L444 377.6L444.5 377.6L445 377.6L445.5 377.6L446 377.6L446.5 377.6L447 377.6L447.5 377.6L448 377.6L448.5 377.6L449 377.6L449.5 377.6L450 377.6L450.5 377.6L451 377.6L451.5 377.6L452 377.6L452.5 377.6L453 377.6L453.5 377.6L454 377.6L454.5 377.6L455 377.6L455.5 377.6L456 377.6L456.5 377.6L457 377.6L457.5 377.6L458 377.6L458.5 377.6L459 377.1L459.5 377.1L460 377.5L460.5 377.4L461 377.6L461.5 375.9L462 375.7L462.5 376.2L463 377.6L463.5 377.6L464 377.6L464.5 377.6L465 377.6L465.5 377.6L466 377.6L466.5 377.6L467 377.6L467.5 377.6L468 377.6L468.5 377.6L469 377.6L469.5 377.6L470 377.6L470.5 377.6L471 377.6L471.5 377.6L472 377.6L472.5 377.6L473 377.6L473.5 377.6L474 377.6L474.5 377.6L475 377.6L475.5 377.6L476 377.6L476.5 377.6L477 377.6L477.5 377.6L478 377.6L478.5 377.6L479 377.6L479.5 377.6L480 377.6L480.5 377.6L481 377.6L481.5 377.6L482 377.6L482.5 377.6L483 377.6L483.5 377.6L484 377.6L484.5 377.6L485 377.6L485.5 377.6L486 377.6L486.5 377.6L487 376.8L487.5 374.7L488 377.4L488.5 373L489 377.6L489.5 375.7L490 377.5L490.5 377.2L491 377.6L491 377.6Z"/><path d="M332.8 377.6V376M345.8 377.6V355.5M336.4 377.6V376.3M330.2 377.6V372.6M330.5 377.6V356.6M344 377.6V347.4M349.3 377.6V372.9M350 377.6V359.4M332 377.6V353.4M337.6 377.6V346.6M341.4 377.6V350M347.4 377.6V367.1M331.1 377.6V342.8M335.4 377.6V357.9M338.1 377.6V377.3M330.3 377.6V342.7M337.3 377.6V367.9M329.3 377.6V365.2M333.9 377.6V355.7M346.7 377.6V372M347.7 377.6V352.5M364.4 377.6V377.3M365.5 377.6V376.9M363.8 377.6V373.8M353.9 377.6V374.2M350.7 377.6V370.2M362.1 377.6V369.6M362.6 377.6V359.3M359 377.6V359.2M359.2 377.6V371.2M350.3 377.6V370.6M357.9 377.6V371.6M365.2 377.6V377.3M353 377.6V358.3M371.6 377.6V377.5M370 377.6V377.5M372.9 377.6V366.3M379.2 377.6V374.3M378.3 377.6V373.3M374.2 377.6V376.8M386.2 377.6V365.7M380.4 377.6V366.8M393.6 377.6V363M395.4 377.6V377.4M393.6 377.6V360.1M390.9 377.6V375.6M391.9 377.6V373.1M399 377.6V368.7M408 377.6V376.7M412.1 377.6V373.3M418.3 377.6V356.6M430.7 377.6V362.3M429 377.6V365.1M459.3 377.6V368.3M462.6 377.6V377.4M487.5 377.6V353.9M487 377.6V357.1" stroke="#bf6bb2" stroke-width="0.6" fill="none"/><path d="M336.9 377.6V371.8M331.8 377.6V376.1M336 377.6V359.9M343.2 377.6V351.5M338.7 377.6V349.5M347.6 377.6V370.9M339.2 377.6V376M329.6 377.6V376M349.1 377.6V348.5M330 377.6V345.7M346.3 377.6V369.1M336.3 377.6V344.8M345.1 377.6V376.2M349.2 377.6V348.2M333.8 377.6V361.9M339 377.6V360M340.8 377.6V361.3M342.3 377.6V371M334.3 377.6V371M349.5 377.6V342.8M342.9 377.6V355.9M338.7 377.6V377.1M332.5 377.6V346.3M348.2 377.6V346.5M340.9 377.6V354.8M340.6 377.6V355.2M333.6 377.6V373.7M331.8 377.6V345.1M339.6 377.6V359.3M336 377.6V374.4M347.5 377.6V349.4M339.5 377.6V372.2M342.9 377.6V350.4M350 377.6V343.2M348.1 377.6V349.2M339.4 377.6V342.8M343.4 377.6V365.4M344.1 377.6V349M344.4 377.6V377.5M330.7 377.6V377.5M340.5 377.6V356.3M339.7 377.6V347M346.4 377.6V364.3M333.2 377.6V371.5M332.2 377.6V354.9M337 377.6V365.3M345.8 377.6V358.5M343.6 377.6V363.6M346.8 377.6V377.6M333.3 377.6V359.4M341 377.6V369.9M342.9 377.6V349.4M340.2 377.6V359.3M346.4 377.6V368.7M329.5 377.6V366.5M341.1 377.6V369.9M333.8 377.6V371.9M345.8 377.6V361M332.9 377.6V352.2M331.1 377.6V375.7M330.7 377.6V377.2M345.5 377.6V347.7M341.6 377.6V343.9M352.3 377.6V367.2M351 377.6V372M364 377.6V364.4M362.5 377.6V363M357.3 377.6V365.7M353 377.6V377.6M359.8 377.6V376.3M357.6 377.6V371.7M363 377.6V366.3M358.7 377.6V372.4M356.1 377.6V366.4M361.9 377.6V377.6M359.2 377.6V360.4M362.7 377.6V350.7M354.5 377.6V368.2M362.1 377.6V350.9M365 377.6V360.1M356.8 377.6V361.4M356.7 377.6V351.6M354.8 377.6V375.5M364.8 377.6V363.5M358.2 377.6V369.5M364.5 377.6V357.9M362.1 377.6V352.3M362.5 377.6V371M359 377.6V358.1M354.8 377.6V356.5M364.6 377.6V375.5M365.7 377.6V362.3M357.9 377.6V358.3M359.4 377.6V353.5M358.7 377.6V356M365.7 377.6V369.9M361.7 377.6V367.9M352.5 377.6V355M359.7 377.6V375.1M352.9 377.6V371.2M361.3 377.6V371.2M357.5 377.6V374.6M351 377.6V363.6M370.6 377.6V376.4M371 377.6V369.2M370.8 377.6V373.1M371.6 377.6V371.5M368.1 377.6V377.3M372.1 377.6V370M369.3 377.6V371.6M369.2 377.6V373.2M386.8 377.6V359M374.6 377.6V359.2M374.5 377.6V365.1M385.1 377.6V367.4M386.3 377.6V375.6M378.6 377.6V364.9M375.4 377.6V369.2M381.2 377.6V365.9M384.2 377.6V362.8M378.2 377.6V365.1M374.3 377.6V364.6M385.7 377.6V356.1M384.9 377.6V362.5M376.4 377.6V373.6M383.5 377.6V371M375 377.6V369.1M382 377.6V356.7M376.1 377.6V361.7M379.5 377.6V363.5M382.8 377.6V358.4M375.7 377.6V374.7M378.2 377.6V376.9M380.1 377.6V377.1M383.8 377.6V366.6M392.6 377.6V364.3M396.6 377.6V366.1M392.9 377.6V373.7M390.5 377.6V369.1M390.5 377.6V366.3M393.9 377.6V377.6M392.8 377.6V377.2M391.4 377.6V370.4M390.8 377.6V362.5M396.6 377.6V376.1M401.4 377.6V362.4M400.2 377.6V376.4M398.7 377.6V364.6M398 377.6V377.6M401.4 377.6V363.3M406.1 377.6V377.2M410.5 377.6V369.6M412.7 377.6V368.9M406 377.6V375.8M407.1 377.6V375.5M410.1 377.6V374.7M408.3 377.6V370.6M412.7 377.6V372.5M420.4 377.6V367.7M418.1 377.6V371.7M419.2 377.6V356.5M418.9 377.6V373.8M417 377.6V367.7M415.6 377.6V357.6M416 377.6V377.4M418.9 377.6V372.9M418.9 377.6V375.9M419.5 377.6V366.5M424.4 377.6V374.4M424.8 377.6V377.4M422.9 377.6V377M424.4 377.6V373.7M430.9 377.6V360.2M430.1 377.6V363.4M428.4 377.6V358.1M430.6 377.6V377.3M462 377.6V371.8M462.8 377.6V374.6M462.2 377.6V371.4M461.2 377.6V377.1M459.1 377.6V368.3M462.1 377.6V374.3M488.5 377.6V369M490.4 377.6V365.5M489.1 377.6V355.1M489 377.6V354.3M489.5 377.6V374.5M489 377.6V361.5" stroke="#a63599" stroke-width="0.6" fill="none"/><line x1="329.5" y1="377.2" x2="491.0" y2="377.2" stroke="#a63599" stroke-width="0.7" stroke-dasharray="0.8,2.2" stroke-opacity="0.7"/><path fill="#a63599" fill-opacity="1.0" d="M329.5 397.5L329.5 397.5L330 397.5L330.5 397.5L331 397.5L331.5 397.5L332 397.5L332.5 397.5L333 397.5L333.5 397.5L334 397.5L334.5 397.5L335 397.5L335.5 397.5L336 397.5L336.5 397.5L337 397.5L337.5 397.5L338 397.5L338.5 397.5L339 397.5L339.5 397.5L340 397.5L340.5 397.5L341 397.5L341.5 397.5L342 395.4L342.5 396.4L343 395.5L343.5 396.1L344 397.2L344.5 397.4L345 395.2L345.5 395.5L346 395L346.5 394.9L347 396.8L347.5 396.8L348 396.8L348.5 397.4L349 396.3L349.5 397.5L350 397.5L350.5 397.5L351 397.5L351.5 397.5L352 397.5L352.5 397.5L353 396.8L353.5 397.4L354 395.8L354.5 397.5L355 395.7L355.5 397.2L356 396.2L356.5 397.4L357 397L357.5 397.5L358 397.5L358.5 397.5L359 397.5L359.5 397.5L360 397.5L360.5 397.5L361 397.5L361.5 397.5L362 397.5L362.5 397.5L363 397.5L363.5 397.5L364 397.5L364.5 397.5L365 397.5L365.5 397.5L366 397.5L366.5 397.5L367 397.5L367.5 397.5L368 397.5L368.5 397.5L369 397.5L369.5 397.5L370 397.5L370.5 397.5L371 397.5L371.5 397.5L372 397.5L372.5 397.5L373 397.5L373.5 397.5L374 397.5L374.5 397.5L375 397.5L375.5 397.5L376 397.5L376.5 397.5L377 397.5L377.5 397.5L378 397.5L378.5 397.5L379 397.5L379.5 397.5L380 396.9L380.5 396.8L381 396.7L381.5 396.4L382 396.4L382.5 396.6L383 397.3L383.5 397.2L384 397.3L384.5 397.5L385 397.5L385.5 397.5L386 397.5L386.5 397.5L387 397.5L387.5 397.5L388 397.5L388.5 397.5L389 397.5L389.5 397.5L390 397.5L390.5 397.5L391 397.5L391.5 397.5L392 397.5L392.5 397.5L393 397.5L393.5 397.5L394 397.5L394.5 397.5L395 397.5L395.5 397.5L396 394.9L396.5 395.7L397 395.8L397.5 396.3L398 395.6L398.5 397.4L399 396.5L399.5 395.6L400 397.5L400.5 397.5L401 397.5L401.5 397.5L402 397.5L402.5 397.5L403 397.5L403.5 397.5L404 397.5L404.5 397.5L405 397.5L405.5 397.5L406 397.5L406.5 397.5L407 397.5L407.5 397.5L408 397.5L408.5 397.5L409 397.5L409.5 397.5L410 397.5L410.5 397.5L411 397.5L411.5 397.5L412 397.5L412.5 397.5L413 397.5L413.5 397.5L414 397.5L414.5 397.5L415 397.5L415.5 397.5L416 397.5L416.5 397.5L417 397.5L417.5 397.5L418 397.5L418.5 397.5L419 397.5L419.5 397.5L420 397.5L420.5 397.5L421 397.5L421.5 397.5L422 397.5L422.5 397.5L423 397.5L423.5 397.5L424 397.5L424.5 397.5L425 397.5L425.5 397.5L426 397.5L426.5 397.5L427 397.5L427.5 397.5L428 397.5L428.5 397.5L429 397.5L429.5 397.5L430 397.5L430.5 397.5L431 397.5L431.5 397.5L432 397.5L432.5 397.5L433 397.5L433.5 397.5L434 397.5L434.5 397.5L435 397.5L435.5 397.5L436 397.5L436.5 397.5L437 397.5L437.5 397.5L438 397.5L438.5 397.5L439 397.5L439.5 397.5L440 397.5L440.5 397.5L441 397.5L441.5 397.5L442 397.5L442.5 397.5L443 397.5L443.5 397.5L444 397.5L444.5 397.5L445 397.5L445.5 397.5L446 397.5L446.5 397.5L447 397.5L447.5 397.5L448 397.5L448.5 397.5L449 397.5L449.5 397.5L450 397.5L450.5 397.5L451 397.5L451.5 397.5L452 397.5L452.5 397.5L453 397.5L453.5 397.5L454 397.5L454.5 397.5L455 397.5L455.5 397.5L456 397.5L456.5 397.5L457 397.5L457.5 397.5L458 397.5L458.5 397.5L459 395.2L459.5 396.2L460 396.8L460.5 397.3L461 396.7L461.5 397.1L462 395.7L462.5 395.9L463 396.2L463.5 397.5L464 397.5L464.5 397.5L465 397.5L465.5 397.5L466 397.5L466.5 397.5L467 397.5L467.5 397.5L468 397.5L468.5 397.5L469 397.5L469.5 397.5L470 397.5L470.5 397.5L471 397.5L471.5 397.5L472 397.5L472.5 397.5L473 397.5L473.5 397.5L474 397.5L474.5 397.5L475 397.5L475.5 397.5L476 397.5L476.5 397.5L477 397.5L477.5 397.5L478 397.5L478.5 397.5L479 397.5L479.5 397.5L480 397.5L480.5 397.5L481 397.5L481.5 397.5L482 397.5L482.5 397.5L483 397.5L483.5 397.5L484 397.5L484.5 397.5L485 397.5L485.5 397.5L486 397.5L486.5 397.5L487 397.3L487.5 397.3L488 397.5L488.5 397.4L489 397.4L489.5 397.5L490 397.3L490.5 397.5L491 397.5L491 397.5Z"/><path d="M344.8 397.5V394.1M343.4 397.5V386.6M347.5 397.5V384.1M344.6 397.5V396.4M355.3 397.5V393M353.6 397.5V390.2M353.8 397.5V397M353.2 397.5V390.9M398.9 397.5V389.3M398 397.5V387.3M461.1 397.5V393.6M489.1 397.5V396.8M489.7 397.5V397.4" stroke="#bf6bb2" stroke-width="0.6" fill="none"/><path d="M345.2 397.5V393M342.5 397.5V386.7M344 397.5V396M346.6 397.5V390.9M345.5 397.5V396.4M343.2 397.5V390.1M347.2 397.5V385.5M342.8 397.5V384M347.1 397.5V393.3M346.5 397.5V396.6M343.4 397.5V383.6M344.9 397.5V390.2M353.3 397.5V396.2M354 397.5V395.6M355 397.5V397.1M355.4 397.5V391.2M381.8 397.5V393.5M381.8 397.5V393.7M382.6 397.5V394.3M381.6 397.5V395M382.6 397.5V397.4M398.2 397.5V387.1M396.8 397.5V396.3M399.9 397.5V392.1M461.2 397.5V392.7M462 397.5V386.7M461.1 397.5V397.2M459.6 397.5V397.4M460 397.5V390M462 397.5V388.8M459.3 397.5V387.4M462.8 397.5V396.8M489.1 397.5V397.1M488.2 397.5V397.3" stroke="#a63599" stroke-width="0.6" fill="none"/><line x1="329.5" y1="397.1" x2="491.0" y2="397.1" stroke="#a63599" stroke-width="0.7" stroke-dasharray="0.8,2.2" stroke-opacity="0.7"/><path fill="#a63599" fill-opacity="1.0" d="M329.5 417.3L329.5 416.3L330 415L330.5 417.3L331 413.8L331.5 413.4L332 415.5L332.5 416.2L333 413.2L333.5 416.7L334 417.3L334.5 414.9L335 416.6L335.5 412.1L336 417.3L336.5 416L337 416.5L337.5 417L338 416.4L338.5 414.9L339 416.9L339.5 414.1L340 417.3L340.5 416.9L341 416.6L341.5 417.1L342 416.6L342.5 416.2L343 415.8L343.5 415.5L344 414.6L344.5 412.6L345 416.2L345.5 414.7L346 416L346.5 414.2L347 416.8L347.5 415.6L348 415L348.5 416.2L349 416.6L349.5 417.1L350 413.9L350.5 413.5L351 414L351.5 417.3L352 414.5L352.5 417.2L353 412.8L353.5 416.7L354 415L354.5 417L355 411.8L355.5 415.3L356 417.2L356.5 417L357 417.2L357.5 415.1L358 415.9L358.5 416.8L359 414.4L359.5 416.5L360 417.1L360.5 415.9L361 416.7L361.5 417.3L362 417.1L362.5 417.2L363 417.3L363.5 413.1L364 416.9L364.5 412.3L365 417.2L365.5 417.2L366 414.9L366.5 416.3L367 414.7L367.5 415.7L368 413.5L368.5 417L369 417.2L369.5 414L370 416.7L370.5 417.1L371 417.1L371.5 413.4L372 414.9L372.5 417.3L373 417.3L373.5 417.3L374 416.3L374.5 415.6L375 417.2L375.5 417.2L376 416.6L376.5 416.6L377 415.4L377.5 417.3L378 417L378.5 415.9L379 417.3L379.5 417.2L380 417.3L380.5 417.3L381 417.2L381.5 417.2L382 412.2L382.5 416.1L383 416L383.5 412.4L384 416.9L384.5 417.3L385 417.3L385.5 417.3L386 417.3L386.5 417.3L387 417.3L387.5 417.3L388 417.3L388.5 417.3L389 417.3L389.5 417.3L390 417.3L390.5 417.3L391 417.3L391.5 417.3L392 417.3L392.5 417.3L393 417.3L393.5 417.3L394 417.3L394.5 417.3L395 417.3L395.5 417.3L396 415.5L396.5 414.8L397 413.9L397.5 417.3L398 416L398.5 414.3L399 417.3L399.5 417.2L400 415.3L400.5 417.3L401 417.3L401.5 417.3L402 417.3L402.5 417.3L403 417.3L403.5 417.3L404 417.3L404.5 417.3L405 416.9L405.5 416.5L406 416.8L406.5 416.7L407 417L407.5 416.4L408 416.3L408.5 417.1L409 416.8L409.5 417.3L410 417.3L410.5 416.6L411 416.5L411.5 417.2L412 417.3L412.5 416.3L413 416.3L413.5 416.8L414 416.4L414.5 417.3L415 416.8L415.5 416.6L416 417.2L416.5 417.1L417 417.3L417.5 416.8L418 416.1L418.5 416.9L419 417.2L419.5 417.1L420 416.5L420.5 417.2L421 415.9L421.5 416.5L422 416.7L422.5 417.3L423 416.8L423.5 416.3L424 417.2L424.5 417.1L425 416.9L425.5 417.3L426 417.3L426.5 417.3L427 417.3L427.5 417.3L428 417.3L428.5 417.3L429 417.3L429.5 417.3L430 417.3L430.5 417.3L431 417.3L431.5 417.3L432 417.3L432.5 417.3L433 417.3L433.5 417.3L434 417.3L434.5 417.3L435 417.3L435.5 417.3L436 417.3L436.5 417.3L437 417.3L437.5 417.3L438 417.3L438.5 417.3L439 417.3L439.5 417.3L440 417.3L440.5 417.3L441 417.3L441.5 417.3L442 417.3L442.5 417.3L443 417.3L443.5 417.3L444 417.3L444.5 417.3L445 417.3L445.5 417.3L446 417.3L446.5 417.3L447 417.3L447.5 417.3L448 417.3L448.5 417.3L449 417.3L449.5 417.3L450 417.3L450.5 417.3L451 417.3L451.5 417.3L452 417.3L452.5 417.3L453 417.3L453.5 417.3L454 417.3L454.5 417.3L455 417.3L455.5 417.3L456 417.3L456.5 417.3L457 417.3L457.5 417.3L458 417.3L458.5 417.3L459 417.2L459.5 416.6L460 416.6L460.5 417.2L461 417.2L461.5 416.9L462 417.2L462.5 416.2L463 417.1L463.5 417.3L464 417.3L464.5 417.3L465 417.3L465.5 417.3L466 417.3L466.5 417.3L467 417.3L467.5 417.3L468 417.3L468.5 417.3L469 417.3L469.5 417.3L470 417.3L470.5 417.3L471 417.3L471.5 417.3L472 417.3L472.5 417.3L473 417.3L473.5 417.3L474 417.3L474.5 417.3L475 417.3L475.5 417.3L476 417.3L476.5 417.3L477 417.3L477.5 417.3L478 417.3L478.5 417.3L479 417.3L479.5 417.3L480 417.3L480.5 417.3L481 417.3L481.5 417.3L482 417.3L482.5 417.3L483 417.3L483.5 417.3L484 417.3L484.5 417.3L485 417.3L485.5 417.3L486 417.3L486.5 417.3L487 415.8L487.5 417.2L488 417.2L488.5 414.8L489 416.5L489.5 417.3L490 416.5L490.5 416.3L491 417.3L491 417.3Z"/><path d="M352 417.3V413.9M347.7 417.3V405.5M352.7 417.3V416.5M369.5 417.3V397.5M371.1 417.3V412.6M329.6 417.3V408.9M343.5 417.3V416M342.4 417.3V397M340.7 417.3V403.3M341.6 417.3V408.3M359.1 417.3V412.2M331.8 417.3V399.3M350.7 417.3V408M348 417.3V407.3M343.1 417.3V412.4M361.6 417.3V406.3M349.1 417.3V417.2M336.9 417.3V400.2M363.9 417.3V411.2M344.2 417.3V407.6M353.8 417.3V409.1M340.9 417.3V414.9M334.1 417.3V399.7M356.4 417.3V395.8M330 417.3V402.8M366.4 417.3V412.7M333.2 417.3V398.6M330.7 417.3V393.6M344.6 417.3V415.9M356.8 417.3V403.2M368.7 417.3V415.3M338.3 417.3V414.9M340.7 417.3V397.3M349 417.3V411.1M333.9 417.3V404.3M349 417.3V396.3M332.9 417.3V399.1M344 417.3V408.7M331.6 417.3V412.8M358.6 417.3V416.6M366.9 417.3V401.7M381.2 417.3V415.9M400 417.3V414.8M418.4 417.3V413.4M424.8 417.3V416.8M405.3 417.3V410.4M417.3 417.3V414.6M413.3 417.3V415.3M487.1 417.3V408.1M488.8 417.3V417.1" stroke="#bf6bb2" stroke-width="0.6" fill="none"/><path d="M368.2 417.3V397.8M348.9 417.3V398.9M341.1 417.3V416.1M368.4 417.3V416M331 417.3V394M353 417.3V412.7M329.6 417.3V409.6M363.4 417.3V398.6M329.6 417.3V394.8M351.9 417.3V416.7M367 417.3V417.1M329.3 417.3V413M339.9 417.3V408.5M338.4 417.3V401.2M345.7 417.3V405.4M346.3 417.3V402.9M331.5 417.3V415.5M351.5 417.3V413.5M351.9 417.3V400.7M367.7 417.3V416.2M359.8 417.3V404M330 417.3V401.9M331.3 417.3V398.3M337.5 417.3V411.3M350.5 417.3V414.7M346.7 417.3V413.6M354.6 417.3V410.5M334.7 417.3V404.8M330.3 417.3V412.7M335.7 417.3V412M366.8 417.3V411.2M347 417.3V392.5M353.9 417.3V394.1M346.9 417.3V413.4M355.1 417.3V393.1M367 417.3V399.1M351.7 417.3V410.1M341 417.3V414.2M349.5 417.3V407.6M358.9 417.3V403.1M366.9 417.3V406.9M331.1 417.3V406.4M368.9 417.3V397.1M348.8 417.3V394.5M370.7 417.3V402.8M342.9 417.3V397.3M357 417.3V400.6M346.3 417.3V408M341.7 417.3V410.7M367.1 417.3V394.1M337 417.3V416.8M351 417.3V392.6M355.8 417.3V404.8M329 417.3V399M353.2 417.3V399.1M346.3 417.3V405M365.1 417.3V400.2M339.7 417.3V410.6M345.7 417.3V392.8M343.6 417.3V396.7M356.4 417.3V405.3M369.4 417.3V416.4M338.1 417.3V416.2M344.3 417.3V407.7M371 417.3V392.6M333.3 417.3V407.6M355.3 417.3V416.9M356.7 417.3V407.7M336.6 417.3V395.9M364.1 417.3V403.9M367.3 417.3V412.3M363 417.3V407.6M367.6 417.3V407.7M355.2 417.3V412.1M370.9 417.3V410.1M365 417.3V408M333.6 417.3V404.1M353.5 417.3V395.4M329.5 417.3V399.3M357.1 417.3V410.3M339 417.3V400.5M367.4 417.3V408.8M364.8 417.3V413.8M360.5 417.3V416.3M351.4 417.3V400.7M354.2 417.3V402.9M365.8 417.3V411.3M348.2 417.3V403.9M361.3 417.3V410.6M365.3 417.3V410.6M351.7 417.3V397.1M348.6 417.3V412M355.3 417.3V416.1M369.6 417.3V406.2M370.4 417.3V409.7M363.4 417.3V399.2M359.1 417.3V404.4M362.2 417.3V405.1M371.9 417.3V392.8M345.1 417.3V414.7M370.6 417.3V401.5M358.6 417.3V411.3M362.6 417.3V407.4M364.5 417.3V412.7M367.3 417.3V401.6M356 417.3V415.6M359.7 417.3V410.7M370.8 417.3V400.9M340.9 417.3V414.8M339.6 417.3V397.5M332.6 417.3V396.9M356.4 417.3V412.9M347.6 417.3V412.3M368.9 417.3V404.2M365.7 417.3V395.6M344.9 417.3V398.6M334.3 417.3V395.8M349.6 417.3V405.8M338.4 417.3V412.1M366 417.3V409.5M335.8 417.3V413.9M333.7 417.3V401.6M355.6 417.3V401.9M337.5 417.3V399.9M344.9 417.3V406.5M341.6 417.3V395.7M367 417.3V414.3M351.4 417.3V416.5M359.9 417.3V411.1M365 417.3V400.2M379.3 417.3V409.6M378.1 417.3V412.5M377.5 417.3V415.8M376.1 417.3V410.8M374.3 417.3V415.2M377 417.3V410.7M376.9 417.3V408.5M381.8 417.3V400.5M383.3 417.3V391.5M381.4 417.3V416.9M396.1 417.3V412.1M397.8 417.3V414.7M399.9 417.3V416.7M397 417.3V415.2M397.6 417.3V417.3M409.5 417.3V411.9M412.2 417.3V416.7M407.5 417.3V412.1M420.9 417.3V414.1M413.9 417.3V415.3M417 417.3V415.1M413.8 417.3V412.5M405.1 417.3V414M422.8 417.3V412.2M422.9 417.3V415.1M407.8 417.3V411.3M406.8 417.3V416M423.4 417.3V411.6M410.6 417.3V414.3M408.6 417.3V410.6M408.9 417.3V412.4M421.7 417.3V417.2M423.3 417.3V414.5M459.1 417.3V412M461.4 417.3V411.2M462.5 417.3V410.4M460.4 417.3V410.4M460.7 417.3V413.6M462.4 417.3V412.5M462.9 417.3V415.3M459.8 417.3V412.5M489.9 417.3V406.9M488.8 417.3V408.9M490.2 417.3V408.1M487.7 417.3V413.1M489.2 417.3V415.5M488.3 417.3V413.4" stroke="#a63599" stroke-width="0.6" fill="none"/><line x1="329.5" y1="416.9" x2="491.0" y2="416.9" stroke="#a63599" stroke-width="0.7" stroke-dasharray="0.8,2.2" stroke-opacity="0.7"/><rect x="336.6" y="338" width="4.3" height="79.3" fill="#a63599" /><path fill="#55b5e6" fill-opacity="1.0" d="M329.5 437.1L329.5 437.1L330 437.1L330.5 437L331 437.1L331.5 437L332 436.9L332.5 436.9L333 437.1L333.5 437.1L334 437L334.5 437L335 436.8L335.5 437.1L336 437.1L336.5 437.1L337 437.1L337.5 437L338 437.1L338.5 437L339 436.8L339.5 437L340 437L340.5 436.9L341 436.9L341.5 436.9L342 437.1L342.5 437L343 436.9L343.5 437L344 437.1L344.5 436.9L345 437L345.5 437.1L346 437.1L346.5 437.1L347 437.1L347.5 437.1L348 437.1L348.5 437.1L349 437.1L349.5 437.1L350 437L350.5 436.9L351 436.5L351.5 437.1L352 436.9L352.5 437.1L353 436.8L353.5 437.1L354 437.1L354.5 437.1L355 437L355.5 436.8L356 436.6L356.5 437.1L357 437.1L357.5 437.1L358 437.1L358.5 437.1L359 437.1L359.5 437.1L360 437.1L360.5 437.1L361 437.1L361.5 437.1L362 437.1L362.5 437.1L363 437.1L363.5 437.1L364 437.1L364.5 437.1L365 437.1L365.5 437.1L366 437.1L366.5 437.1L367 437.1L367.5 437.1L368 437.1L368.5 437.1L369 437.1L369.5 437.1L370 437.1L370.5 437.1L371 437.1L371.5 437.1L372 437.1L372.5 437L373 436.9L373.5 437.1L374 437L374.5 436.7L375 436.9L375.5 436.7L376 437L376.5 437.1L377 437.1L377.5 437.1L378 437.1L378.5 437.1L379 437.1L379.5 437.1L380 437.1L380.5 437.1L381 437.1L381.5 437.1L382 437.1L382.5 437.1L383 437.1L383.5 437.1L384 437.1L384.5 437.1L385 437.1L385.5 437.1L386 437.1L386.5 437.1L387 437.1L387.5 437.1L388 437.1L388.5 437.1L389 437.1L389.5 437.1L390 437.1L390.5 437.1L391 437.1L391.5 437.1L392 437.1L392.5 437.1L393 437.1L393.5 437.1L394 437.1L394.5 437.1L395 437.1L395.5 437.1L396 437.1L396.5 436.9L397 437L397.5 437.1L398 437.1L398.5 436.7L399 436.4L399.5 436.9L400 437.1L400.5 437.1L401 437.1L401.5 437.1L402 437.1L402.5 437.1L403 437.1L403.5 437.1L404 437.1L404.5 437.1L405 437.1L405.5 437.1L406 437.1L406.5 437.1L407 437.1L407.5 437.1L408 437.1L408.5 437.1L409 437.1L409.5 437.1L410 437.1L410.5 437.1L411 437.1L411.5 437.1L412 437.1L412.5 437.1L413 437.1L413.5 437.1L414 437.1L414.5 437.1L415 437.1L415.5 437.1L416 437.1L416.5 437L417 436.9L417.5 437.1L418 437L418.5 437L419 437.1L419.5 437L420 437L420.5 437.1L421 437.1L421.5 437.1L422 437.1L422.5 437.1L423 437.1L423.5 437.1L424 437.1L424.5 437.1L425 437.1L425.5 437.1L426 437.1L426.5 437.1L427 437.1L427.5 437.1L428 437.1L428.5 437.1L429 437.1L429.5 437.1L430 437.1L430.5 437.1L431 437.1L431.5 437.1L432 437.1L432.5 437.1L433 437.1L433.5 437.1L434 437.1L434.5 437.1L435 437.1L435.5 437.1L436 437.1L436.5 437.1L437 437.1L437.5 437.1L438 437.1L438.5 437.1L439 437.1L439.5 437.1L440 436.9L440.5 437L441 437.1L441.5 436.9L442 437L442.5 437L443 436.8L443.5 437L444 437L444.5 437.1L445 437.1L445.5 437.1L446 437.1L446.5 437.1L447 437.1L447.5 437.1L448 437.1L448.5 437.1L449 437.1L449.5 437.1L450 437.1L450.5 437.1L451 437.1L451.5 437.1L452 437.1L452.5 437.1L453 437.1L453.5 437.1L454 437.1L454.5 437.1L455 437.1L455.5 437.1L456 437.1L456.5 437.1L457 437.1L457.5 437.1L458 436.9L458.5 437.1L459 437.1L459.5 437L460 436.8L460.5 437L461 436.9L461.5 437L462 436.9L462.5 437.1L463 437.1L463.5 437.1L464 437.1L464.5 437.1L465 437.1L465.5 437.1L466 437.1L466.5 437.1L467 437.1L467.5 437.1L468 437.1L468.5 437.1L469 437.1L469.5 437.1L470 437.1L470.5 437.1L471 437.1L471.5 437.1L472 437.1L472.5 437.1L473 437.1L473.5 437.1L474 437.1L474.5 437.1L475 437.1L475.5 437.1L476 437.1L476.5 437.1L477 437.1L477.5 437.1L478 437.1L478.5 437.1L479 437.1L479.5 437.1L480 437.1L480.5 437.1L481 437.1L481.5 437.1L482 437.1L482.5 437.1L483 437.1L483.5 437.1L484 437.1L484.5 437.1L485 437.1L485.5 437.1L486 437.1L486.5 437.1L487 437.1L487.5 437.1L488 437.1L488.5 437.1L489 437.1L489.5 437.1L490 437.1L490.5 437.1L491 437.1L491 437.1Z"/><path d="M342.9 437.1V437M353.8 437.1V436.1M350.6 437.1V436.4M399.1 437.1V437M418.1 437.1V436.7M443.5 437.1V436.3M461.1 437.1V437M458.6 437.1V435.1M459.2 437.1V436.8" stroke="#9fd6f2" stroke-width="0.55" fill="none"/><path d="M333.6 437.1V435.4M333.7 437.1V435.2M338.6 437.1V436.9M333.3 437.1V435.7M333.6 437.1V436.1M331.1 437.1V436.3M335.9 437.1V437M337.3 437.1V435.2M344 437.1V436.9M339.4 437.1V436.6M343.6 437.1V435.8M342.1 437.1V437M331.8 437.1V435.8M342.3 437.1V435.5M336.2 437.1V436.4M344.2 437.1V436M352.6 437.1V436.6M355.7 437.1V436.4M355.1 437.1V436.8M354.1 437.1V434M372.5 437.1V435.5M373.8 437.1V434.3M374.1 437.1V434.4M399.8 437.1V435.2M398.6 437.1V431.6M398.6 437.1V431.5M397.7 437.1V433.7M416.9 437.1V436.9M417.7 437.1V436.8M416 437.1V436.5M440.6 437.1V436.4M441.9 437.1V436.3" stroke="#55b5e6" stroke-width="0.55" fill="none"/><line x1="329.5" y1="436.9" x2="491" y2="436.9" stroke="#8fc8ea" stroke-width="0.7" stroke-dasharray="2,1.5"/><path fill="#55b5e6" fill-opacity="1.0" d="M329.5 456.9L329.5 456.9L330 456.8L330.5 456.7L331 456.9L331.5 456.9L332 456.9L332.5 456.7L333 456.6L333.5 456.7L334 456.8L334.5 456.9L335 456.7L335.5 456.9L336 456.6L336.5 456.8L337 456.5L337.5 456.9L338 456.9L338.5 456.9L339 456.5L339.5 456.8L340 456.8L340.5 456.9L341 456.9L341.5 456.8L342 456.9L342.5 456.9L343 456.6L343.5 456.9L344 456.9L344.5 456.9L345 456.7L345.5 456.9L346 456.9L346.5 456.9L347 456.9L347.5 456.9L348 456.9L348.5 456.9L349 456.9L349.5 456.9L350 456.6L350.5 456.9L351 456.9L351.5 456.9L352 456.5L352.5 456.7L353 456.9L353.5 456.7L354 456.5L354.5 456.9L355 456.9L355.5 456.5L356 456.5L356.5 456.8L357 456.7L357.5 456.4L358 456.9L358.5 456.7L359 456.8L359.5 456.9L360 456.8L360.5 456.7L361 456.4L361.5 456.4L362 456.9L362.5 456.7L363 456.8L363.5 456.9L364 456.5L364.5 456.8L365 456.7L365.5 456.9L366 456.9L366.5 456.9L367 456.9L367.5 456.9L368 456.9L368.5 456.9L369 456.9L369.5 456.9L370 456.9L370.5 456.9L371 456.9L371.5 456.9L372 456.6L372.5 456.9L373 456.9L373.5 456.6L374 456.9L374.5 456.8L375 456.9L375.5 456.6L376 456.8L376.5 456.9L377 456.6L377.5 456.9L378 456.6L378.5 456.5L379 456.6L379.5 456.9L380 456.8L380.5 456.6L381 456.9L381.5 456.9L382 456.7L382.5 456.8L383 456.7L383.5 456.9L384 456.9L384.5 456.9L385 456.9L385.5 456.9L386 456.9L386.5 456.9L387 456.9L387.5 456.9L388 456.9L388.5 456.9L389 456.9L389.5 456.9L390 456.6L390.5 456.8L391 456.7L391.5 456.2L392 456.9L392.5 456.6L393 456.7L393.5 456.2L394 456.3L394.5 456.4L395 456.5L395.5 456.4L396 456.8L396.5 456.9L397 456.9L397.5 456.9L398 456.7L398.5 456.8L399 456.6L399.5 456.7L400 456.8L400.5 456.9L401 456.9L401.5 456.9L402 456.9L402.5 456.9L403 456.9L403.5 456.9L404 456.9L404.5 456.9L405 456.9L405.5 456.9L406 456.9L406.5 456.9L407 456.9L407.5 456.9L408 456.7L408.5 456.9L409 456.9L409.5 456.9L410 456.7L410.5 456.9L411 456.9L411.5 456.9L412 456.9L412.5 456.8L413 456.9L413.5 456.9L414 456.8L414.5 456.9L415 456.7L415.5 456.9L416 456.8L416.5 456.7L417 456.7L417.5 456.6L418 456.6L418.5 456.8L419 456.9L419.5 456.7L420 456.6L420.5 456.9L421 456.9L421.5 456.9L422 456.9L422.5 456.9L423 456.9L423.5 456.9L424 456.9L424.5 456.9L425 456.9L425.5 456.9L426 456.9L426.5 456.9L427 456.9L427.5 456.9L428 456.9L428.5 456.9L429 456.9L429.5 456.9L430 456.9L430.5 456.9L431 456.9L431.5 456.9L432 456.9L432.5 456.9L433 456.9L433.5 456.9L434 456.9L434.5 456.9L435 456.9L435.5 456.9L436 456.9L436.5 456.9L437 456.9L437.5 456.9L438 456.9L438.5 456.9L439 456.9L439.5 456.9L440 456.9L440.5 456.9L441 456.9L441.5 456.9L442 456.9L442.5 456.9L443 456.9L443.5 456.9L444 456.9L444.5 456.9L445 456.9L445.5 456.9L446 456.9L446.5 456.9L447 456.9L447.5 456.9L448 456.9L448.5 456.9L449 456.9L449.5 456.9L450 456.9L450.5 456.9L451 456.9L451.5 456.9L452 456.9L452.5 456.9L453 456.9L453.5 456.9L454 456.9L454.5 456.9L455 456.9L455.5 456.9L456 456.9L456.5 456.9L457 456.9L457.5 456.9L458 456.9L458.5 456.8L459 456.9L459.5 456.8L460 456.7L460.5 456.9L461 456.9L461.5 456.8L462 456.9L462.5 456.7L463 456.8L463.5 456.8L464 456.8L464.5 456.9L465 456.9L465.5 456.9L466 456.9L466.5 456.9L467 456.9L467.5 456.9L468 456.9L468.5 456.9L469 456.9L469.5 456.9L470 456.9L470.5 456.9L471 456.9L471.5 456.9L472 456.9L472.5 456.9L473 456.9L473.5 456.9L474 456.9L474.5 456.9L475 456.9L475.5 456.9L476 456.9L476.5 456.9L477 456.9L477.5 456.9L478 456.9L478.5 456.9L479 456.9L479.5 456.9L480 456.9L480.5 456.9L481 456.9L481.5 456.9L482 456.9L482.5 456.9L483 456.9L483.5 456.9L484 456.9L484.5 456.9L485 456.9L485.5 456.9L486 456.8L486.5 456.9L487 456.7L487.5 456.7L488 456.9L488.5 456.6L489 456.8L489.5 456.6L490 456.8L490.5 456.9L491 456.9L491 456.9Z"/><path d="M331.4 456.9V454.8M342.5 456.9V456.3M338.8 456.9V456.4M332.2 456.9V454.5M351.4 456.9V455.3M358.8 456.9V456.2M379.7 456.9V454.6M380 456.9V455.7M377.3 456.9V455.1M395.8 456.9V453.5M394.3 456.9V455.9M398.5 456.9V453.9M408.6 456.9V456.9M409.2 456.9V456.8M463.7 456.9V455.1M459.2 456.9V456.9" stroke="#9fd6f2" stroke-width="0.55" fill="none"/><path d="M336 456.9V454.2M340 456.9V456.4M331.9 456.9V455.5M334.1 456.9V455.3M342.5 456.9V456M335.3 456.9V456.1M333.3 456.9V454.4M341.5 456.9V456.8M343.1 456.9V456.3M339.8 456.9V456.7M334.6 456.9V454.4M333.5 456.9V455.4M344.9 456.9V454.4M355.9 456.9V455.9M363.6 456.9V453.5M359.8 456.9V453.9M356.4 456.9V455M357.4 456.9V456.7M355.4 456.9V455.4M360.9 456.9V455.8M352.5 456.9V456.9M353 456.9V455.2M352.1 456.9V455.7M357 456.9V456.7M361.1 456.9V454.9M350.7 456.9V456.2M354.2 456.9V454.2M357.6 456.9V453.6M380.1 456.9V455.5M379.8 456.9V456.7M374 456.9V454.8M381.3 456.9V455.2M376 456.9V454.8M379.3 456.9V455.7M378.9 456.9V456.6M377.5 456.9V456.5M395.9 456.9V456.9M399 456.9V454.2M398.5 456.9V456.5M395.3 456.9V453.9M392.2 456.9V455M390.8 456.9V456.5M396.6 456.9V453.7M397.8 456.9V452.9M397.5 456.9V453M415.9 456.9V455.3M416.7 456.9V455.1M417.6 456.9V454.6M410 456.9V454.1M410.3 456.9V456.2M409.1 456.9V456.9M419.5 456.9V454.1M419.5 456.9V455.6M413.9 456.9V454.1M463.2 456.9V456.8M462.1 456.9V456.2M487.2 456.9V456.4M489.3 456.9V456.7M485.2 456.9V455.9M488.6 456.9V456.5" stroke="#55b5e6" stroke-width="0.55" fill="none"/><line x1="329.5" y1="456.7" x2="491" y2="456.7" stroke="#8fc8ea" stroke-width="0.7" stroke-dasharray="2,1.5"/><path fill="#55b5e6" fill-opacity="1.0" d="M329.5 476.7L329.5 476.7L330 476.6L330.5 476.5L331 476.4L331.5 476.5L332 476.7L332.5 476.7L333 476.7L333.5 476.7L334 476.4L334.5 476.7L335 476.6L335.5 476.6L336 476.6L336.5 476.7L337 476.4L337.5 476.7L338 476.7L338.5 476.7L339 476.7L339.5 476.7L340 476.3L340.5 476.5L341 476.7L341.5 476.3L342 476.4L342.5 476.7L343 476.7L343.5 476.7L344 476.7L344.5 476.6L345 476.4L345.5 476.7L346 476.7L346.5 476.7L347 476.7L347.5 476.7L348 476.7L348.5 476.7L349 476.7L349.5 476.7L350 476.7L350.5 476.4L351 476.5L351.5 476.6L352 476.6L352.5 476.7L353 476.7L353.5 476.3L354 476.7L354.5 476.7L355 476.6L355.5 476.7L356 476.7L356.5 476.5L357 476.7L357.5 476.7L358 476.3L358.5 476.7L359 476.6L359.5 476.7L360 476.7L360.5 476.6L361 476.5L361.5 476.7L362 476.6L362.5 476.7L363 476.7L363.5 476.7L364 476.7L364.5 476.7L365 476.7L365.5 476.7L366 476.7L366.5 476.7L367 476.7L367.5 476.7L368 476.7L368.5 476.7L369 476.7L369.5 476.7L370 476.7L370.5 476.7L371 476.7L371.5 476.7L372 476.7L372.5 476.4L373 476.4L373.5 476.5L374 476.7L374.5 476.5L375 476.6L375.5 476.5L376 476.6L376.5 476.7L377 476.7L377.5 476.7L378 476.3L378.5 476.6L379 476.5L379.5 476.7L380 476.7L380.5 476.7L381 476.7L381.5 476.7L382 476.7L382.5 476.7L383 476.7L383.5 476.7L384 476.7L384.5 476.7L385 476.7L385.5 476.7L386 476.7L386.5 476.7L387 476.7L387.5 476.7L388 476.7L388.5 476.7L389 476.7L389.5 476.7L390 476.7L390.5 476.7L391 476.7L391.5 476.7L392 476.7L392.5 476.7L393 476.7L393.5 476.7L394 476.7L394.5 476.7L395 476.7L395.5 476.7L396 476.7L396.5 476.7L397 476.3L397.5 476.6L398 476.7L398.5 476.6L399 476.3L399.5 476.7L400 476.7L400.5 476.7L401 476.7L401.5 476.7L402 476.7L402.5 476.7L403 476.7L403.5 476.7L404 476.7L404.5 476.7L405 476.7L405.5 476.7L406 476.7L406.5 476.7L407 476.7L407.5 476.7L408 476.7L408.5 476.7L409 476.7L409.5 476.7L410 476.5L410.5 476.7L411 476.7L411.5 476.7L412 476.7L412.5 476.7L413 476.5L413.5 476.7L414 476.7L414.5 476.5L415 476.7L415.5 476.7L416 476.6L416.5 476.5L417 476.7L417.5 476.7L418 476.5L418.5 476.7L419 476.5L419.5 476.6L420 476.5L420.5 476.4L421 476.7L421.5 476.6L422 476.6L422.5 476.4L423 476.5L423.5 476.7L424 476.5L424.5 476.5L425 476.6L425.5 476.6L426 476.7L426.5 476.5L427 476.7L427.5 476.6L428 476.6L428.5 476.6L429 476.7L429.5 476.6L430 476.5L430.5 476.7L431 476.7L431.5 476.5L432 476.7L432.5 476.7L433 476.5L433.5 476.6L434 476.7L434.5 476.6L435 476.7L435.5 476.6L436 476.6L436.5 476.5L437 476.7L437.5 476.5L438 476.7L438.5 476.7L439 476.7L439.5 476.7L440 476.6L440.5 476.7L441 476.7L441.5 476.7L442 476.7L442.5 476.7L443 476.7L443.5 476.7L444 476.7L444.5 476.7L445 476.7L445.5 476.7L446 476.7L446.5 476.7L447 476.7L447.5 476.7L448 476.7L448.5 476.7L449 476.7L449.5 476.7L450 476.7L450.5 476.7L451 476.7L451.5 476.7L452 476.7L452.5 476.7L453 476.7L453.5 476.7L454 476.7L454.5 476.7L455 476.7L455.5 476.7L456 476.7L456.5 476.7L457 476.7L457.5 476.7L458 476.7L458.5 476.7L459 476.7L459.5 476.7L460 476.5L460.5 476.5L461 476.7L461.5 476.6L462 476.6L462.5 476.7L463 476.7L463.5 476.7L464 476.7L464.5 476.6L465 476.7L465.5 476.6L466 476.7L466.5 476.5L467 476.5L467.5 476.6L468 476.7L468.5 476.7L469 476.7L469.5 476.7L470 476.7L470.5 476.7L471 476.7L471.5 476.7L472 476.7L472.5 476.7L473 476.7L473.5 476.7L474 476.7L474.5 476.7L475 476.7L475.5 476.7L476 476.7L476.5 476.7L477 476.7L477.5 476.7L478 476.7L478.5 476.7L479 476.7L479.5 476.7L480 476.7L480.5 476.7L481 476.7L481.5 476.7L482 476.7L482.5 476.7L483 476.7L483.5 476.7L484 476.7L484.5 476.7L485 476.7L485.5 476.7L486 476.7L486.5 476.7L487 476.7L487.5 476.7L488 476.7L488.5 476.7L489 476.7L489.5 476.7L490 476.7L490.5 476.7L491 476.7L491 476.7Z"/><path d="M340.6 476.7V476.1M330.8 476.7V474.3M336.7 476.7V475.1M343 476.7V474.3M342.2 476.7V476.5M352.2 476.7V474.2M351.1 476.7V476M373 476.7V475.8M376.3 476.7V475.9M373.7 476.7V476.4M398.8 476.7V476.6M440 476.7V476.1M416.2 476.7V475.7M433.2 476.7V475.6M423.6 476.7V475.6M416.5 476.7V475.5M434.3 476.7V476.5M434.5 476.7V474.9M410.8 476.7V475.7M459.3 476.7V475M458.6 476.7V476.2" stroke="#9fd6f2" stroke-width="0.55" fill="none"/><path d="M333.3 476.7V474M333.7 476.7V475M344.9 476.7V473.9M339.9 476.7V476.2M339.2 476.7V474.2M331 476.7V475.5M333.5 476.7V475M333.3 476.7V473.9M330.2 476.7V475.8M341.6 476.7V476.5M337.4 476.7V475.5M337 476.7V476.7M358.7 476.7V475M360.2 476.7V474.4M358.1 476.7V474.3M361.3 476.7V476.6M351 476.7V476.2M359 476.7V474.7M354 476.7V474.1M356.1 476.7V476.7M360.9 476.7V474M355.3 476.7V476.3M361.9 476.7V476.2M354 476.7V473.8M372.7 476.7V476.1M377 476.7V475.7M375.9 476.7V476.2M374 476.7V474.6M379.6 476.7V476.7M396 476.7V473.2M399.9 476.7V475.7M397.6 476.7V475.8M397.2 476.7V474.5M419.3 476.7V475.4M413.7 476.7V476.1M415.6 476.7V475.4M435.1 476.7V476.4M410.3 476.7V476.1M420.9 476.7V476.4M429.1 476.7V475.4M410.8 476.7V476.6M437 476.7V475.2M415.9 476.7V474.9M427.7 476.7V475.4M417.8 476.7V476.7M459 476.7V475.3M460.7 476.7V476.3M466.9 476.7V476.3M469.2 476.7V475.8M459.3 476.7V475.3M465.9 476.7V476.1" stroke="#55b5e6" stroke-width="0.55" fill="none"/><line x1="329.5" y1="476.5" x2="491" y2="476.5" stroke="#8fc8ea" stroke-width="0.7" stroke-dasharray="2,1.5"/><path fill="#55b5e6" fill-opacity="1.0" d="M329.5 496.6L329.5 496.6L330 496.3L330.5 496.6L331 496.5L331.5 496.4L332 496.4L332.5 496.4L333 496.4L333.5 496.3L334 496.6L334.5 496.4L335 496.4L335.5 496.4L336 496.5L336.5 496.5L337 496.4L337.5 496.5L338 496.6L338.5 496.5L339 496.5L339.5 496.4L340 496.6L340.5 496.4L341 496.4L341.5 496.4L342 496.6L342.5 496.5L343 496.5L343.5 496.4L344 496.5L344.5 496.5L345 496.5L345.5 496.6L346 496.6L346.5 496.6L347 496.6L347.5 496.6L348 496.6L348.5 496.6L349 496.6L349.5 496.6L350 496.6L350.5 496.6L351 496.6L351.5 496.6L352 496.6L352.5 496.6L353 496.6L353.5 496.6L354 496.6L354.5 496.6L355 496.4L355.5 496.2L356 496.4L356.5 496.3L357 496.6L357.5 496.5L358 496.5L358.5 496.1L359 496.1L359.5 496.5L360 496.5L360.5 496.2L361 496.3L361.5 496.4L362 496.1L362.5 496.6L363 496.6L363.5 496.6L364 496.6L364.5 496.6L365 496.6L365.5 496.6L366 496.6L366.5 496.6L367 496.6L367.5 496.6L368 496.6L368.5 496.6L369 496.6L369.5 496.6L370 496.6L370.5 496.6L371 496.6L371.5 496.6L372 496.6L372.5 496.6L373 496.6L373.5 496.6L374 496.6L374.5 496.6L375 496.6L375.5 496.6L376 496.1L376.5 496.2L377 496.5L377.5 496.6L378 496.5L378.5 496.6L379 496.3L379.5 496.5L380 496.5L380.5 496.6L381 496.6L381.5 496.6L382 496.6L382.5 496.6L383 496.6L383.5 496.6L384 496.6L384.5 496.6L385 496.6L385.5 496.6L386 496.6L386.5 496.6L387 496.6L387.5 496.6L388 496.6L388.5 496.6L389 496.6L389.5 496.6L390 496.6L390.5 496.6L391 496.6L391.5 496.6L392 496.6L392.5 496.6L393 496.6L393.5 496.6L394 496.6L394.5 496.6L395 496.6L395.5 496.6L396 495.7L396.5 496.4L397 496L397.5 496.5L398 496.5L398.5 496L399 496.3L399.5 495.8L400 496.5L400.5 496.6L401 496.6L401.5 496.6L402 496.6L402.5 496.6L403 496.6L403.5 496.6L404 496.6L404.5 496.6L405 496.6L405.5 496.6L406 496.6L406.5 496.6L407 496.6L407.5 496.6L408 496.6L408.5 496.6L409 496.6L409.5 496.6L410 496.6L410.5 496.6L411 496.6L411.5 496.6L412 496.6L412.5 496.6L413 496.6L413.5 496.6L414 496.6L414.5 496.6L415 496.6L415.5 496.6L416 496.6L416.5 496.6L417 496.6L417.5 496.6L418 496.6L418.5 496.6L419 496.6L419.5 496.6L420 496.5L420.5 496.5L421 496.4L421.5 496.6L422 496.3L422.5 496.5L423 496.5L423.5 496.3L424 496.3L424.5 496.4L425 496.6L425.5 496.3L426 496.6L426.5 496.6L427 496.6L427.5 496.6L428 496.6L428.5 496.6L429 496.6L429.5 496.6L430 496.6L430.5 496.6L431 496.6L431.5 496.6L432 496.6L432.5 496.6L433 496.6L433.5 496.6L434 496.6L434.5 496.6L435 496.6L435.5 496.6L436 496.6L436.5 496.6L437 496.6L437.5 496.6L438 496.6L438.5 496.6L439 496.6L439.5 496.6L440 496.6L440.5 496.6L441 496.6L441.5 496.6L442 496.6L442.5 496.6L443 496.6L443.5 496.6L444 496.6L444.5 496.6L445 496.6L445.5 496.6L446 496.6L446.5 496.6L447 496.6L447.5 496.6L448 496.6L448.5 496.6L449 496.6L449.5 496.6L450 496.6L450.5 496.6L451 496.6L451.5 496.6L452 496.6L452.5 496.6L453 496.6L453.5 496.6L454 496.6L454.5 496.6L455 496.6L455.5 496.6L456 496.6L456.5 496.6L457 496.6L457.5 496.6L458 496.6L458.5 496.6L459 496.6L459.5 496.6L460 496.6L460.5 496.6L461 496.6L461.5 496.6L462 496.6L462.5 496.6L463 496.6L463.5 496.6L464 496.6L464.5 496.6L465 496.6L465.5 496.6L466 496.6L466.5 496.6L467 496.6L467.5 496.6L468 496.6L468.5 496.6L469 496.6L469.5 496.6L470 496.6L470.5 496.6L471 496.6L471.5 496.6L472 496.6L472.5 496.6L473 496.6L473.5 496.6L474 496.6L474.5 496.6L475 496.6L475.5 496.6L476 496.6L476.5 496.6L477 496.6L477.5 496.6L478 496.6L478.5 496.6L479 496.6L479.5 496.6L480 496.6L480.5 496.6L481 496.6L481.5 496.6L482 496.6L482.5 496.6L483 496.6L483.5 496.6L484 496.6L484.5 496.6L485 496.2L485.5 496.4L486 496.4L486.5 496.6L487 496.6L487.5 496.6L488 496.3L488.5 496.1L489 496.4L489.5 496.5L490 496.2L490.5 496.6L491 496.6L491 496.6Z"/><path d="M335.4 496.6V496.5M332.1 496.6V495.2M357.7 496.6V494.2M376.8 496.6V493.6M397.6 496.6V491" stroke="#9fd6f2" stroke-width="0.55" fill="none"/><path d="M337.4 496.6V495.9M332.6 496.6V494.9M341.6 496.6V495.7M334.8 496.6V494.9M330.9 496.6V495.8M332.7 496.6V496.1M344.5 496.6V495.9M342.6 496.6V496.5M332.7 496.6V496.5M342.3 496.6V496M341.3 496.6V495.1M331.1 496.6V494.6M359.6 496.6V495.1M357.1 496.6V493.7M360.2 496.6V496.6M359.7 496.6V495.9M378.7 496.6V495.2M377.7 496.6V495M397.7 496.6V493.7M397.8 496.6V493.6M398.6 496.6V493.6M399.1 496.6V496.2M424.3 496.6V496.5M421.1 496.6V495M423.2 496.6V495.9M420.9 496.6V494.7M488 496.6V495.2M486.6 496.6V494.3M488.8 496.6V495.9M489.2 496.6V495.7" stroke="#55b5e6" stroke-width="0.55" fill="none"/><line x1="329.5" y1="496.4" x2="491" y2="496.4" stroke="#8fc8ea" stroke-width="0.7" stroke-dasharray="2,1.5"/><path fill="#55b5e6" d="M337.1 417.3 L337.1 419.3 L337.1 421.2 L337.7 423.2 L337.6 425.2 L337.2 427.2 L337.6 429.2 L337.4 431.2 L337.2 433.1 L337.5 435.1 L337 437.1 L337.5 437.1 L337.4 439.1 L337.1 441.1 L337.3 443 L337.4 445 L337.3 447 L337.4 449 L337.4 451 L337.6 453 L337.1 454.9 L337.1 456.9 L337 456.9 L337 458.9 L337.6 460.9 L337.6 462.9 L337.3 464.8 L337.7 466.8 L337.7 468.8 L337.7 470.8 L337.3 472.8 L337.2 474.8 L337.3 476.7 L337.1 476.7 L337.3 478.7 L337.1 480.7 L337.2 482.7 L337.2 484.7 L337.4 486.6 L337.7 488.6 L337.4 490.6 L337.3 492.6 L337.1 494.6 L337.2 496.6 L340.5 496.6 L340.5 494.6 L340.2 492.6 L339.7 490.6 L339.6 488.6 L339.7 486.6 L339.6 484.7 L339.6 482.7 L339.8 480.7 L340.2 478.7 L340.3 476.7 L340.5 476.7 L340.2 474.8 L340.1 472.8 L340 470.8 L339.8 468.8 L339.9 466.8 L339.6 464.8 L339.8 462.9 L340.3 460.9 L340.1 458.9 L340.8 456.9 L340.5 456.9 L340.1 454.9 L340.3 453 L339.6 451 L339.7 449 L339.9 447 L339.9 445 L340 443 L340.1 441.1 L340.5 439.1 L340.8 437.1 L340.4 437.1 L340.2 435.1 L340.3 433.1 L340 431.2 L339.8 429.2 L339.9 427.2 L339.6 425.2 L339.9 423.2 L340.1 421.2 L340.1 419.3 L340.3 417.3Z"/><path fill="#a63599" fill-opacity="1.0" d="M330.6 515.8L330.6 511L331.6 511L332.6 511L333.6 511L334.6 511L335.6 511L336.6 511L337.6 511.4L338.6 511.4L339.6 510.4L340.6 510.4L341.6 510.4L342.6 510.4L343.6 510.4L344.6 510.4L345.6 510.4L346.6 510.4L347.6 510.4L348.6 510.4L349.6 510.4L350.6 511.5L351.6 511.5L352.6 511.5L353.6 511.5L354.6 511.5L355.6 511.5L356.6 511.5L357.6 511.5L358.6 511.5L359.6 511.5L360.6 511.5L361.6 511.5L362.6 511.5L363.6 511.5L364.6 511.3L365.6 511.3L366.6 511.3L367.6 511.3L368.6 511.1L369.6 511.1L370.6 511.1L371.6 511.1L372.6 511.1L373.6 511.1L374.6 511.1L375.6 511.1L376.6 511.1L377.6 511.1L378.6 511.1L379.6 511.3L380.6 511.3L381.6 511.3L382.6 511.3L383.6 511.5L384.6 511.5L385.6 511.5L386.6 511.5L387.6 511.5L388.6 511.5L389.6 511.5L390.6 511.5L391.6 510.5L392.6 510.5L393.6 511.1L394.6 511.1L395.6 511.1L396.6 511.1L397.6 511.1L398.6 511.1L399.6 511.1L400.6 511.1L401.6 511.1L402.6 511.1L403.6 511.1L404.6 511.1L405.6 511.1L406.6 511.1L407.6 511.1L408.6 511.1L409.6 511.1L410.6 511.1L411.6 511.1L412.6 511.1L413.6 510.3L414.6 510.3L415.6 510.3L416.6 510.3L417.6 510.3L418.6 510.3L419.6 510.3L420.6 510.3L421.6 510.3L422.6 510.3L423.6 510.3L424.6 510.3L425.6 510.3L426.6 510.3L427.6 510.3L428.6 510.5L429.6 510.5L430.6 510.5L431.6 510.5L432.6 510.5L433.6 511.1L434.6 511.1L435.6 511.1L436.6 511.1L437.6 511.1L438.6 511.1L439.6 511.1L440.6 511.1L441.6 511.1L442.6 511.1L443.6 511.1L444.6 511.1L445.6 510.8L446.6 510.8L447.6 510.8L448.6 510.8L449.6 510.8L450.6 510.8L451.6 510.8L452.6 510.8L453.6 510.8L454.6 510.8L455.6 510.6L456.6 510.6L457.6 510.6L458.6 510.6L459.6 511.5L460.6 511.5L461.6 511.5L462.6 511.5L463.6 511.5L464.6 511.5L465.6 510.6L466.6 510.6L467.6 510.6L468.6 510.6L469.6 510.6L470.6 510.6L471.6 510.6L472.6 510.6L473.6 510.6L474.6 510.6L475.6 510.6L476.6 510.6L477.6 510.4L478.6 510.4L479.6 510.4L480.6 510.4L481.6 510.4L482.6 510.4L483.6 510.4L484.6 510.4L485.6 510.4L486.6 510.4L487.6 510.4L488.6 510.4L489.6 510.4L490.6 510.4L490.6 515.8Z"/><path fill="#a63599" fill-opacity="1.0" d="M330.6 535.5L330.6 522.3L331.6 522.3L332.6 522.3L333.6 522.3L334.6 522.4L335.6 522.4L336.6 522.4L337.6 522.4L338.6 522.4L339.6 522.4L340.6 522.5L341.6 522.5L342.6 522.5L343.6 523.4L344.6 523.4L345.6 523.4L346.6 523.4L347.6 522.9L348.6 522.9L349.6 522.9L350.6 522.9L351.6 523L352.6 523L353.6 523L354.6 523L355.6 523L356.6 523L357.6 523.1L358.6 523.1L359.6 523.1L360.6 523.1L361.6 523.1L362.6 523.1L363.6 523.1L364.6 523.2L365.6 522.2L366.6 522.2L367.6 522.2L368.6 521.6L369.6 521.6L370.6 521.6L371.6 521.6L372.6 521.7L373.6 521.7L374.6 521.7L375.6 521.7L376.6 521.7L377.6 523.1L378.6 523.1L379.6 523.1L380.6 523.1L381.6 523.1L382.6 523.1L383.6 523.1L384.6 522L385.6 522L386.6 522.1L387.6 522.1L388.6 522.1L389.6 522.1L390.6 522.1L391.6 522.1L392.6 522.2L393.6 522.2L394.6 522.2L395.6 522.2L396.6 522.2L397.6 522.2L398.6 522.1L399.6 522.1L400.6 522.2L401.6 522.2L402.6 522.2L403.6 522.2L404.6 522.2L405.6 522.2L406.6 524L407.6 524L408.6 524L409.6 524L410.6 524.7L411.6 524.7L412.6 523.1L413.6 523.1L414.6 523.1L415.6 523.1L416.6 523.2L417.6 523.4L418.6 523.4L419.6 523.4L420.6 523.4L421.6 523.5L422.6 523.5L423.6 523.5L424.6 523.5L425.6 524.4L426.6 524.9L427.6 523.1L428.6 523.6L429.6 523.6L430.6 523.6L431.6 523.7L432.6 523.7L433.6 523.7L434.6 523.7L435.6 523.7L436.6 523.7L437.6 523.7L438.6 523.8L439.6 523.8L440.6 523.4L441.6 523.4L442.6 523.4L443.6 523.4L444.6 523.5L445.6 523.5L446.6 523.5L447.6 523.5L448.6 523.5L449.6 523.5L450.6 523.5L451.6 523.6L452.6 523.6L453.6 523.6L454.6 523.6L455.6 523.6L456.6 528L457.6 528L458.6 528L459.6 528L460.6 523.8L461.6 523.8L462.6 523.8L463.6 523.8L464.6 523.9L465.6 523.9L466.6 523.9L467.6 523.9L468.6 523.9L469.6 523.9L470.6 525.7L471.6 525.7L472.6 525.5L473.6 525.5L474.6 525.5L475.6 525.6L476.6 525.6L477.6 525.6L478.6 525.6L479.6 525.6L480.6 525.4L481.6 525.4L482.6 525.4L483.6 525.4L484.6 525.4L485.6 525.5L486.6 525.5L487.6 525.5L488.6 525.5L489.6 524.2L490.6 524.2L490.6 535.5Z"/><path fill="#a63599" fill-opacity="1.0" d="M330.6 555.8L330.6 539.3L331.6 538.2L332.6 538.2L333.6 538.2L334.6 538.2L335.6 538.2L336.6 538.2L337.6 538.2L338.6 538.2L339.6 538.2L340.6 538.2L341.6 538.2L342.6 538.2L343.6 538.2L344.6 538.2L345.6 538.2L346.6 538.2L347.6 539L348.6 539L349.6 539L350.6 539L351.6 539L352.6 539L353.6 540.7L354.6 540.7L355.6 540.7L356.6 540.7L357.6 540.7L358.6 540.7L359.6 540.7L360.6 540.6L361.6 540.6L362.6 540.6L363.6 540.6L364.6 540.6L365.6 540.6L366.6 540.6L367.6 540.6L368.6 540.6L369.6 540.6L370.6 540.6L371.6 540.6L372.6 538.1L373.6 538.1L374.6 538.1L375.6 538.1L376.6 538.1L377.6 538.1L378.6 538.1L379.6 538.1L380.6 538.1L381.6 538.1L382.6 538.1L383.6 538.1L384.6 538.1L385.6 538.1L386.6 538.1L387.6 538.5L388.6 539.3L389.6 539.3L390.6 540.2L391.6 540.4L392.6 540.4L393.6 540.4L394.6 539.9L395.6 539.9L396.6 540.3L397.6 540.3L398.6 540.3L399.6 540.6L400.6 540.7L401.6 540.7L402.6 540.7L403.6 540.7L404.6 540.7L405.6 540.7L406.6 540.7L407.6 540.7L408.6 540.7L409.6 540.7L410.6 540.7L411.6 540.7L412.6 540.7L413.6 540.7L414.6 539.4L415.6 539.4L416.6 539.4L417.6 539.4L418.6 539.4L419.6 539.4L420.6 539.4L421.6 539.4L422.6 539.4L423.6 539.4L424.6 539.4L425.6 539.4L426.6 539.4L427.6 537.9L428.6 537.9L429.6 537.9L430.6 537.9L431.6 537.8L432.6 537.8L433.6 537.8L434.6 537.8L435.6 537.8L436.6 537.8L437.6 537.8L438.6 537.8L439.6 537.8L440.6 540.6L441.6 540.6L442.6 540.6L443.6 540.6L444.6 540.6L445.6 539.5L446.6 539.5L447.6 539.5L448.6 539.5L449.6 539.5L450.6 539.5L451.6 539.5L452.6 539.5L453.6 539.5L454.6 539.5L455.6 539.5L456.6 539.5L457.6 539.5L458.6 539.5L459.6 539.5L460.6 539.5L461.6 539.5L462.6 539.5L463.6 539.5L464.6 539.5L465.6 539.5L466.6 539.7L467.6 540.6L468.6 540.6L469.6 540.6L470.6 540.6L471.6 540.1L472.6 540.1L473.6 540.1L474.6 540.1L475.6 540.1L476.6 540.1L477.6 540.1L478.6 540.1L479.6 540.1L480.6 540.1L481.6 540.4L482.6 540.3L483.6 540.3L484.6 539L485.6 539L486.6 539L487.6 539L488.6 539L489.6 539L490.6 539.7L490.6 555.8Z"/><path fill="#a63599" fill-opacity="1.0" d="M330.6 575.7L330.6 573.3L331.6 573.1L332.6 573L333.6 573.4L334.6 572.9L335.6 573.4L336.6 573.2L337.6 573.3L338.6 573.1L339.6 572.9L340.6 573.3L341.6 573.1L342.6 573.1L343.6 573.1L344.6 573L345.6 572.9L346.6 573.4L347.6 573L348.6 572.9L349.6 573L350.6 573.2L351.6 573.1L352.6 573.3L353.6 573.1L354.6 572.9L355.6 573.1L356.6 573L357.6 573.1L358.6 573.3L359.6 573.2L360.6 572.8L361.6 573L362.6 573L363.6 573.2L364.6 572.8L365.6 572.9L366.6 573.1L367.6 573L368.6 573.4L369.6 573.4L370.6 573L371.6 573.3L372.6 572.8L373.6 573L374.6 572.9L375.6 572.9L376.6 573.2L377.6 573.1L378.6 573L379.6 572.9L380.6 573.3L381.6 573.2L382.6 573L383.6 573.1L384.6 572.9L385.6 573.4L386.6 573.2L387.6 573L388.6 573.2L389.6 573.4L390.6 573.2L391.6 573.2L392.6 573.1L393.6 573L394.6 573.3L395.6 572.8L396.6 572.9L397.6 573L398.6 573.2L399.6 573.4L400.6 573.2L401.6 573.2L402.6 573.1L403.6 573.3L404.6 572.9L405.6 573.4L406.6 573.1L407.6 573.3L408.6 573L409.6 572.9L410.6 573L411.6 573.4L412.6 573.3L413.6 573.3L414.6 573.3L415.6 573.2L416.6 573.3L417.6 573.3L418.6 573.3L419.6 572.8L420.6 573.2L421.6 573L422.6 573.3L423.6 573.1L424.6 574.1L425.6 574.4L426.6 574.1L427.6 574.5L428.6 574.4L429.6 574.2L430.6 574.4L431.6 574L432.6 574L433.6 574.2L434.6 574.5L435.6 574.3L436.6 574.2L437.6 574.2L438.6 574.5L439.6 574.1L440.6 574.4L441.6 574.3L442.6 574.4L443.6 574.4L444.6 574.4L445.6 574.3L446.6 574.1L447.6 574.2L448.6 574.2L449.6 574.4L450.6 574L451.6 574L452.6 574.3L453.6 574.4L454.6 574.4L455.6 574.5L456.6 574.6L457.6 574.1L458.6 574.5L459.6 574.5L460.6 574.2L461.6 574.5L462.6 574.2L463.6 574.4L464.6 574.1L465.6 574.4L466.6 574.4L467.6 574.4L468.6 574.6L469.6 574.2L470.6 574.5L471.6 574.2L472.6 574.5L473.6 574.1L474.6 574.6L475.6 574.1L476.6 574.3L477.6 574.1L478.6 574.4L479.6 574.1L480.6 574.3L481.6 574.6L482.6 574.6L483.6 574.5L484.6 574.4L485.6 574.1L486.6 574.1L487.6 574.6L488.6 574.2L489.6 574.3L490.6 574.1L490.6 575.7Z"/><line x1="329.5" y1="595.4" x2="491" y2="595.4" stroke="#9fc6e4" stroke-width="0.8" /><line x1="329.5" y1="615.2" x2="491" y2="615.2" stroke="#9fc6e4" stroke-width="0.8" /><line x1="329.5" y1="635" x2="491" y2="635" stroke="#9fc6e4" stroke-width="0.8" /><line x1="329.5" y1="654.8" x2="491" y2="654.8" stroke="#9fc6e4" stroke-width="0.8" /><line x1="329.5" y1="575.5" x2="491" y2="575.5" stroke="#8ccbe9" stroke-width="0.6" /><line x1="329.5" y1="496.3" x2="491" y2="496.3" stroke="#8ccbe9" stroke-width="0.6" /><rect x="453.2" y="340.2" width="37.9" height="315.8" fill="rgb(100,135,205)" fill-opacity="0.28"/><rect x="146.5" y="378" width="8" height="78" fill="#eef6ee" /><text x="81.2" y="363" font-size="6.3" fill="#222" text-anchor="middle" font-weight="normal" >YEATS4</text><text x="146.7" y="363" font-size="6.3" fill="#e03a3a" text-anchor="middle" font-weight="normal" >FRS2</text><text x="179.2" y="363" font-size="6.3" fill="#222" text-anchor="middle" font-weight="normal" >CCT2</text><text x="214" y="363" font-size="6.3" fill="#222" text-anchor="middle" font-weight="normal" >BEST3</text><text x="258.5" y="368.2" font-size="6.3" fill="#222" text-anchor="middle" font-weight="normal" >RAB3IP</text><line x1="71.7" y1="367" x2="89" y2="367" stroke="#7a8fb8" stroke-width="0.6" /><line x1="123" y1="367.5" x2="205" y2="367.5" stroke="#9ab0cc" stroke-width="0.6" /><line x1="203" y1="367.3" x2="235" y2="367.3" stroke="#9ab0cc" stroke-width="0.6" /><rect x="165.8" y="366.3" width="4.2" height="2.2" fill="#3a6fb8" /><rect x="172" y="366.3" width="4" height="2.2" fill="#3a6fb8" /><rect x="178" y="366.3" width="2" height="2.2" fill="#3a6fb8" /><rect x="182" y="366.3" width="2" height="2.2" fill="#3a6fb8" /><rect x="73" y="366.3" width="1" height="2.2" fill="#3a6fb8" /><rect x="88" y="366.3" width="1" height="2.2" fill="#3a6fb8" /><rect x="230" y="366.3" width="2" height="2.2" fill="#3a6fb8" /><rect x="213" y="366.3" width="2" height="2.2" fill="#3a6fb8" /><line x1="143" y1="369" x2="143" y2="371" stroke="#555" stroke-width="0.5" /><line x1="172" y1="369" x2="172" y2="371" stroke="#555" stroke-width="0.5" /><line x1="237" y1="370" x2="237" y2="372" stroke="#888" stroke-width="0.5" /><line x1="246" y1="370" x2="246" y2="372" stroke="#888" stroke-width="0.5" /><line x1="122.8" y1="361" x2="122.8" y2="492" stroke="#a9b9bc" stroke-width="0.6" /><line x1="47" y1="372" x2="47" y2="492" stroke="#555" stroke-width="0.6" /><text x="43.5" y="381.9" font-size="5.8" fill="#333" text-anchor="end" font-weight="normal" >100</text><line x1="45.5" y1="379.8" x2="47" y2="379.8" stroke="#555" stroke-width="0.5" /><text x="43.5" y="398.1" font-size="5.8" fill="#333" text-anchor="end" font-weight="normal" >50</text><line x1="45.5" y1="396" x2="47" y2="396" stroke="#555" stroke-width="0.5" /><text x="43.5" y="414.8" font-size="5.8" fill="#333" text-anchor="end" font-weight="normal" >50</text><line x1="45.5" y1="412.7" x2="47" y2="412.7" stroke="#555" stroke-width="0.5" /><text x="43.5" y="432.8" font-size="5.8" fill="#333" text-anchor="end" font-weight="normal" >15</text><line x1="45.5" y1="430.7" x2="47" y2="430.7" stroke="#555" stroke-width="0.5" /><text x="43.5" y="449.1" font-size="5.8" fill="#333" text-anchor="end" font-weight="normal" >15</text><line x1="45.5" y1="447" x2="47" y2="447" stroke="#555" stroke-width="0.5" /><text x="43.5" y="464.9" font-size="5.8" fill="#333" text-anchor="end" font-weight="normal" >40</text><line x1="45.5" y1="462.8" x2="47" y2="462.8" stroke="#555" stroke-width="0.5" /><text x="43.5" y="480.8" font-size="5.8" fill="#333" text-anchor="end" font-weight="normal" >10</text><line x1="45.5" y1="478.7" x2="47" y2="478.7" stroke="#555" stroke-width="0.5" /><line x1="50" y1="377" x2="62" y2="377" stroke="#a63599" stroke-width="1.1" /><text x="64" y="379.3" font-size="6.1" fill="#333" text-anchor="start" font-weight="normal" >P241T</text><line x1="50" y1="385.8" x2="62" y2="385.8" stroke="#4fb3e3" stroke-width="1.1" /><text x="64" y="388.1" font-size="6.1" fill="#333" text-anchor="start" font-weight="normal" >P241N</text><text x="245.2" y="386.6" font-size="6.2" fill="#333" text-anchor="middle" font-weight="normal" >Virtual 4C</text><text x="245.2" y="401.4" font-size="6.2" fill="#333" text-anchor="middle" font-weight="normal" >H3K27Ac_P241T</text><text x="245.2" y="418.7" font-size="6.2" fill="#333" text-anchor="middle" font-weight="normal" >H3K27Ac_P241N</text><text x="245.2" y="435.2" font-size="6.2" fill="#333" text-anchor="middle" font-weight="normal" >RNAseq_P241T</text><text x="245.2" y="452.5" font-size="6.2" fill="#333" text-anchor="middle" font-weight="normal" >RNAseq_P241N</text><text x="245.2" y="468.2" font-size="6.2" fill="#333" text-anchor="middle" font-weight="normal" >WGS_P241T</text><text x="245.2" y="485.7" font-size="6.2" fill="#333" text-anchor="middle" font-weight="normal" >WGS_P241N</text><line x1="47" y1="392.1" x2="264" y2="392.1" stroke="#9fd6ef" stroke-width="0.6" /><line x1="47" y1="408.6" x2="264" y2="408.6" stroke="#f0d8e8" stroke-width="0.4" /><line x1="47" y1="425.4" x2="264" y2="425.4" stroke="#f0d8e8" stroke-width="0.4" /><line x1="47" y1="441.9" x2="264" y2="441.9" stroke="#f0d8e8" stroke-width="0.4" /><line x1="47" y1="458" x2="264" y2="458" stroke="#f0d8e8" stroke-width="0.4" /><line x1="47" y1="475" x2="264" y2="475" stroke="#f0d8e8" stroke-width="0.4" /><polyline fill="none" stroke="#a55a9c" stroke-width="0.75" points="85,391.7 92,389.5 98,387.5 104,387.3 110,388.5 115,389 119,378.8" /><polyline fill="none" stroke="#a55a9c" stroke-width="0.75" points="129,379 132,386 138,386.8 145,385.3 150,384.8 155,387.5 160,388.3 165,389 168,389.5 172,392" /><polyline fill="none" stroke="#8fd0ee" stroke-width="0.7" points="113,392 117,391.2 120,389 123,384.6 126,389 129,391.2 133,392" /><path fill="#a63599" fill-opacity="1.0" d="M47 408.6L47 408.6L47.4 408.6L47.8 408.6L48.2 408.6L48.6 408.6L49 408.6L49.4 408.6L49.8 408.6L50.2 408.6L50.6 408.6L51 408.6L51.4 408.6L51.8 408.6L52.2 408.6L52.6 408.6L53 408.6L53.4 408.6L53.8 408.6L54.2 408.6L54.6 408.6L55 408.6L55.4 408.6L55.8 408.6L56.2 408.6L56.6 408.6L57 408.6L57.4 408.6L57.8 408.6L58.2 408.6L58.6 408.6L59 408.6L59.4 408.6L59.8 408.6L60.2 408.6L60.6 408.6L61 408.6L61.4 408.6L61.8 408L62.2 408L62.6 408.6L63 408.6L63.4 408.6L63.8 408.6L64.2 408.6L64.6 408.6L65 408.6L65.4 408.6L65.8 408.6L66.2 408.6L66.6 408.6L67 408.6L67.4 408.6L67.8 408.6L68.2 408.6L68.6 408.6L69 408.6L69.4 408.6L69.8 408.6L70.2 408.6L70.6 408.6L71 408.6L71.4 408.6L71.8 408.6L72.2 408.6L72.6 408.6L73 408.6L73.4 408.6L73.8 408.6L74.2 407.9L74.6 405.3L75 402.6L75.4 405.3L75.8 407.9L76.2 408.6L76.6 408.6L77 408.6L77.4 408.6L77.8 408.6L78.2 408.6L78.6 408.6L79 408.6L79.4 408.6L79.8 408.6L80.2 408.6L80.6 408.6L81 408.6L81.4 408.6L81.8 408.6L82.2 408.6L82.6 408.6L83 408.6L83.4 408.6L83.8 408.6L84.2 408.6L84.6 408.6L85 408.6L85.4 408.6L85.8 408.6L86.2 408.6L86.6 408.6L87 408.6L87.4 408.6L87.8 408.6L88.2 408.6L88.6 408.6L89 408.6L89.4 408.6L89.8 408.6L90.2 408.6L90.6 408.6L91 408.6L91.4 408.6L91.8 408.6L92.2 408.6L92.6 408.6L93 408.6L93.4 408.6L93.8 408.6L94.2 408.6L94.6 408.6L95 408.6L95.4 408.6L95.8 408.6L96.2 408.6L96.6 408.6L97 408.6L97.4 408.6L97.8 408.6L98.2 408.6L98.6 408.6L99 406L99.4 402.5L99.8 404.2L100.2 407.7L100.6 408.6L101 408.6L101.4 408.6L101.8 408.6L102.2 408.6L102.6 408.6L103 408.6L103.4 408.6L103.8 408.6L104.2 408.6L104.6 408.4L105 407.6L105.4 408.4L105.8 408.6L106.2 408.6L106.6 408.6L107 408.6L107.4 408.6L107.8 408.6L108.2 408.6L108.6 408.6L109 408.6L109.4 408.6L109.8 408.6L110.2 408.6L110.6 408.6L111 408.6L111.4 408.6L111.8 408.6L112.2 408.6L112.6 408.6L113 408.6L113.4 408.6L113.8 408.6L114.2 408.6L114.6 408.6L115 408.6L115.4 408.6L115.8 408.6L116.2 408.6L116.6 408.6L117 408.6L117.4 408.6L117.8 408.6L118.2 408.6L118.6 408.6L119 408.6L119.4 408.6L119.8 408.6L120.2 408.6L120.6 408.6L121 408.6L121.4 403.2L121.8 397.8L122.2 397.8L122.6 403.2L123 408.6L123.4 408.6L123.8 405.9L124.2 402.3L124.6 400.5L125 404.1L125.4 407.7L125.8 408.6L126.2 408.6L126.6 408.6L127 408.6L127.4 408.6L127.8 408.6L128.2 408.6L128.6 408.6L129 408.6L129.4 408.6L129.8 408.6L130.2 408.6L130.6 408.6L131 408.6L131.4 408.6L131.8 408.6L132.2 408.6L132.6 408.6L133 408.6L133.4 408.6L133.8 408.6L134.2 408.6L134.6 408.6L135 408.6L135.4 408.6L135.8 408.6L136.2 408.6L136.6 408.6L137 408.6L137.4 408.6L137.8 408.6L138.2 408.6L138.6 408.6L139 408.6L139.4 408.6L139.8 408.6L140.2 408.6L140.6 408.6L141 408.6L141.4 408.6L141.8 408.6L142.2 408.6L142.6 408.6L143 408.6L143.4 408.6L143.8 408.6L144.2 408.6L144.6 408.6L145 408.6L145.4 408.6L145.8 408.6L146.2 408.6L146.6 408.6L147 408.6L147.4 408.6L147.8 406.8L148.2 403.3L148.6 401.5L149 405L149.4 405.9L149.8 400.5L150.2 395.1L150.6 400.5L151 405.9L151.4 408.6L151.8 407.8L152.2 404.9L152.6 403.4L153 406.4L153.4 408.6L153.8 408.6L154.2 408.6L154.6 408.6L155 408.6L155.4 408.6L155.8 408.6L156.2 408.6L156.6 408.6L157 408.6L157.4 408.6L157.8 408.6L158.2 408.6L158.6 408.6L159 408.6L159.4 408.6L159.8 408.6L160.2 408.6L160.6 408.6L161 408.6L161.4 408.6L161.8 408.6L162.2 408.6L162.6 408.6L163 408.6L163.4 408.6L163.8 408.6L164.2 408.6L164.6 408.6L165 408.6L165.4 408.6L165.8 408.6L166.2 408.6L166.6 408.6L167 408.6L167.4 408.6L167.8 408.6L168.2 408.6L168.6 408.6L169 408.6L169.4 408.6L169.8 408.6L170.2 408.6L170.6 408.6L171 408.6L171.4 408.6L171.8 408.6L172.2 406L172.6 402.5L173 404.2L173.4 407.7L173.8 408.6L174.2 408.6L174.6 408.6L175 408.6L175.4 408.6L175.8 408.6L176.2 408.6L176.6 408.6L177 408.6L177.4 408.6L177.8 408.6L178.2 408.6L178.6 408.6L179 408.6L179.4 408.6L179.8 408.6L180.2 408.6L180.6 408.6L181 408.6L181.4 408.6L181.8 408.6L182.2 408.6L182.6 408.6L183 408.6L183.4 408.6L183.8 408.6L184.2 408.6L184.6 408.6L185 408.6L185.4 408.6L185.8 408.6L186.2 408.6L186.6 408.6L187 408.6L187.4 408.6L187.8 408.6L188.2 408.6L188.6 408.6L189 408.6L189.4 408.6L189.8 408.6L190.2 408.6L190.6 408.6L191 408.6L191.4 408.6L191.8 408.6L192.2 408.6L192.6 408.6L193 408.6L193.4 408.6L193.8 408.6L194.2 408.6L194.6 408.6L195 408.6L195.4 408.6L195.8 408.6L196.2 408.6L196.6 408.6L197 408.6L197.4 408.6L197.8 408.6L198.2 408.6L198.6 408.6L199 408.6L199.4 408.6L199.8 408.6L200.2 408.6L200.6 408.6L201 408.6L201.4 408.6L201.8 408.6L202.2 408.6L202.6 408.6L203 408.6L203.4 408.6L203.8 408.6L204.2 408.6L204.6 408.6L205 408.6L205.4 408.6L205.8 408.6L206.2 408.6L206.6 408.6L207 408.6L207.4 408.6L207.8 408.6L208.2 408.6L208.6 408.6L209 408.6L209.4 408.6L209.8 407.3L210.2 407.3L210.6 408.6L211 408.6L211.4 408.6L211.8 408.6L212.2 408.6L212.6 408.6L213 408.6L213.4 408.6L213.8 407.7L214.2 407.7L214.6 408.6L215 408.6L215.4 408.6L215.8 408.6L216.2 408.6L216.6 408.6L217 408.6L217.4 408.6L217.8 408.6L218.2 408.6L218.6 408.6L219 408.6L219.4 408.6L219.8 408.6L220.2 408.6L220.6 408.6L221 408.6L221.4 408.6L221.8 408.6L222.2 408.6L222.6 408.6L223 408.6L223.4 408.6L223.8 408.6L224.2 408.6L224.6 408.6L225 408.6L225.4 408.6L225.8 408.6L226.2 408.6L226.6 408.6L227 408.6L227.4 408.6L227.8 408.6L228.2 408.6L228.6 408.6L229 408.6L229.4 408.6L229.8 408.6L230.2 408.6L230.6 408.6L231 408.6L231.4 408.6L231.8 408.6L232.2 408.6L232.6 408.6L233 408.6L233.4 408.6L233.8 408.6L234.2 408.6L234.6 408.6L235 408.6L235.4 408.6L235.8 408.6L236.2 408.6L236.6 408.6L237 408.6L237.4 408.6L237.8 408.6L238.2 408.6L238.6 408.6L239 408.6L239.4 408.6L239.8 408.6L240.2 408.6L240.6 408.6L241 408.6L241.4 408.6L241.8 408.6L242.2 408.6L242.6 408.6L243 408.6L243.4 408.6L243.8 408.6L244.2 408.6L244.6 408.6L245 408.6L245.4 408.6L245.8 408.6L246.2 408.6L246.6 408.6L247 408.6L247.4 408.6L247.8 408.6L248.2 408.6L248.6 408.6L249 408.6L249.4 408.6L249.8 408.6L250.2 408.6L250.6 408.6L251 408.6L251.4 408.6L251.8 408.6L252.2 408.6L252.6 408.6L253 408.6L253.4 408.6L253.8 408.6L254.2 408.6L254.6 408.6L255 408.6L255.4 408.6L255.8 408.6L256.2 408.6L256.6 408.6L257 408.6L257.4 408.6L257.8 408.6L258.2 408.6L258.6 408.6L259 408.6L259.4 408.6L259.8 408.6L260.2 408.6L260.6 408.6L261 408.6L261.4 408.6L261.8 408.6L262.2 408.6L262.6 408.6L263 408.6L263.4 408.6L263.8 408.6L264.2 408.6L264.6 408.6L265 408.6L265 408.6Z"/><path fill="#4fb3e3" fill-opacity="1.0" d="M47 425.4L47 425.4L47.4 425.4L47.8 425.4L48.2 425.4L48.6 425.4L49 425.4L49.4 425.4L49.8 425.4L50.2 425.4L50.6 425.4L51 425.4L51.4 425.4L51.8 425.4L52.2 425.4L52.6 425.4L53 425.4L53.4 425.4L53.8 425.4L54.2 425.4L54.6 425.4L55 425.4L55.4 425.4L55.8 425.4L56.2 425.4L56.6 425.4L57 425.4L57.4 425.4L57.8 425.4L58.2 425.4L58.6 425.4L59 425.4L59.4 425.4L59.8 425.4L60.2 425.4L60.6 425.4L61 425.4L61.4 425.4L61.8 425.4L62.2 420.9L62.6 417.9L63 423.9L63.4 425.4L63.8 425.4L64.2 425.4L64.6 425.4L65 425.4L65.4 425.4L65.8 425.4L66.2 425.4L66.6 425.4L67 425.4L67.4 425.4L67.8 425.4L68.2 425.4L68.6 425.4L69 425.4L69.4 425.4L69.8 425.4L70.2 425.4L70.6 425.4L71 425.4L71.4 425.4L71.8 425.4L72.2 425.4L72.6 425.4L73 425.4L73.4 425.4L73.8 425.4L74.2 425.4L74.6 421.4L75 413.4L75.4 421.4L75.8 425.4L76.2 425.4L76.6 425.4L77 425.4L77.4 425.4L77.8 425.4L78.2 425.4L78.6 425.4L79 425.4L79.4 425.4L79.8 425.4L80.2 425.4L80.6 425.4L81 425.4L81.4 425.4L81.8 425.4L82.2 425.4L82.6 425.4L83 425.4L83.4 425.4L83.8 425.4L84.2 425.4L84.6 425.4L85 425.4L85.4 425.4L85.8 425.4L86.2 425.4L86.6 425.4L87 425.4L87.4 425.4L87.8 425.4L88.2 425.4L88.6 425.4L89 425.4L89.4 425.4L89.8 425.4L90.2 425.4L90.6 425.4L91 425.4L91.4 425.4L91.8 425.4L92.2 425.4L92.6 425.4L93 425.4L93.4 425.4L93.8 425.4L94.2 425.4L94.6 425.4L95 425.4L95.4 425.4L95.8 425.4L96.2 425.4L96.6 425.4L97 425.4L97.4 425.4L97.8 425.4L98.2 425.4L98.6 425.4L99 425.4L99.4 425.4L99.8 425.4L100.2 425.4L100.6 425.4L101 425.4L101.4 425.4L101.8 425.4L102.2 425.4L102.6 425.4L103 425.4L103.4 425.4L103.8 425.4L104.2 425.4L104.6 425.4L105 425.4L105.4 425.4L105.8 425.4L106.2 425.4L106.6 425.4L107 425.4L107.4 425.4L107.8 425.4L108.2 425.4L108.6 425.4L109 425.4L109.4 425.4L109.8 425.4L110.2 425.4L110.6 425.4L111 425.4L111.4 425.4L111.8 425.4L112.2 425.4L112.6 425.4L113 425.4L113.4 425.4L113.8 425.4L114.2 425.4L114.6 425.4L115 425.4L115.4 425.4L115.8 425.4L116.2 425.4L116.6 425.4L117 425.4L117.4 425.4L117.8 425.4L118.2 425.4L118.6 425.4L119 425.4L119.4 425.4L119.8 425.4L120.2 425.4L120.6 425.4L121 425.4L121.4 425.4L121.8 425.4L122.2 420.2L122.6 409.9L123 420.2L123.4 425.4L123.8 425.4L124.2 425.4L124.6 425.4L125 425.4L125.4 425.4L125.8 425.4L126.2 425.4L126.6 425.4L127 425.4L127.4 425.4L127.8 425.4L128.2 425.4L128.6 425.4L129 425.4L129.4 425.4L129.8 425.4L130.2 425.4L130.6 425.4L131 425.4L131.4 425.4L131.8 425.4L132.2 425.4L132.6 425.4L133 425.4L133.4 425.4L133.8 425.4L134.2 425.4L134.6 425.4L135 425.4L135.4 425.4L135.8 425.4L136.2 425.4L136.6 425.4L137 425.4L137.4 425.4L137.8 425.4L138.2 425.4L138.6 425.4L139 425.4L139.4 425.4L139.8 425.4L140.2 425.4L140.6 425.4L141 425.4L141.4 425.4L141.8 425.4L142.2 425.4L142.6 425.4L143 425.4L143.4 425.4L143.8 425.4L144.2 425.4L144.6 425.4L145 425.4L145.4 425.4L145.8 425.4L146.2 425.4L146.6 425.4L147 425.4L147.4 425.4L147.8 425.4L148.2 425.4L148.6 425.4L149 425.4L149.4 425.4L149.8 424.1L150.2 424.1L150.6 425.4L151 425.4L151.4 425.4L151.8 425.4L152.2 425.4L152.6 425.4L153 425.4L153.4 425.4L153.8 425.4L154.2 425.4L154.6 425.4L155 425.4L155.4 425.4L155.8 425.4L156.2 425.4L156.6 425.4L157 425.4L157.4 425.4L157.8 425.4L158.2 425.4L158.6 425.4L159 425.4L159.4 425.4L159.8 425.4L160.2 425.4L160.6 425.4L161 425.4L161.4 425.4L161.8 425.4L162.2 425.4L162.6 425.4L163 425.4L163.4 425.4L163.8 425.4L164.2 425.4L164.6 425.4L165 425.4L165.4 425.4L165.8 425.4L166.2 425.4L166.6 425.4L167 425.4L167.4 425.4L167.8 425.4L168.2 425.4L168.6 425.4L169 425.4L169.4 425.4L169.8 425.4L170.2 425.4L170.6 425.4L171 425.4L171.4 425.4L171.8 425.4L172.2 422.9L172.6 412.9L173 417.9L173.4 425.4L173.8 425.4L174.2 425.4L174.6 425.4L175 425.4L175.4 425.4L175.8 425.4L176.2 425.4L176.6 425.4L177 425.4L177.4 425.4L177.8 425.4L178.2 425.4L178.6 425.4L179 425.4L179.4 425.4L179.8 425.4L180.2 425.4L180.6 425.4L181 425.4L181.4 425.4L181.8 425.4L182.2 425.4L182.6 425.4L183 425.4L183.4 425.4L183.8 425.4L184.2 425.4L184.6 425.4L185 425.4L185.4 425.4L185.8 425.4L186.2 425.4L186.6 425.4L187 425.4L187.4 425.4L187.8 425.4L188.2 425.4L188.6 425.4L189 425.4L189.4 425.4L189.8 425.4L190.2 425.4L190.6 425.4L191 425.4L191.4 425.4L191.8 425.4L192.2 425.4L192.6 425.4L193 425.4L193.4 425.4L193.8 425.4L194.2 425.4L194.6 425.4L195 425.4L195.4 425.4L195.8 425.4L196.2 425.4L196.6 425.4L197 425.4L197.4 425.4L197.8 425.4L198.2 425.4L198.6 425.4L199 425.4L199.4 425.4L199.8 425.4L200.2 425.4L200.6 425.4L201 425.4L201.4 425.4L201.8 425.4L202.2 425.4L202.6 425.4L203 425.4L203.4 425.4L203.8 425.4L204.2 425.4L204.6 425.4L205 425.4L205.4 425.4L205.8 425.4L206.2 425.4L206.6 425.4L207 425.4L207.4 425.4L207.8 425.4L208.2 425.4L208.6 425.4L209 425.4L209.4 425.4L209.8 425.4L210.2 425.4L210.6 425.4L211 425.4L211.4 425.4L211.8 425.4L212.2 425.4L212.6 425.4L213 425.4L213.4 425.4L213.8 423.4L214.2 423.4L214.6 425.4L215 425.4L215.4 425.4L215.8 425.4L216.2 425.4L216.6 425.4L217 425.4L217.4 425.4L217.8 425.4L218.2 425.4L218.6 425.4L219 425.4L219.4 425.4L219.8 425.4L220.2 425.4L220.6 425.4L221 425.4L221.4 425.4L221.8 425.4L222.2 425.4L222.6 425.4L223 425.4L223.4 425.4L223.8 425.4L224.2 425.4L224.6 425.4L225 425.4L225.4 425.4L225.8 425.4L226.2 425.4L226.6 425.4L227 425.4L227.4 425.4L227.8 425.4L228.2 425.4L228.6 425.4L229 425.4L229.4 425.4L229.8 425.4L230.2 425.4L230.6 425.4L231 425.4L231.4 425.4L231.8 425.4L232.2 425.4L232.6 425.4L233 425.4L233.4 425.4L233.8 425.4L234.2 425.4L234.6 425.4L235 425.4L235.4 425.4L235.8 425.4L236.2 425.4L236.6 425.4L237 425.4L237.4 425.4L237.8 425.4L238.2 425.4L238.6 425.4L239 425.4L239.4 425.4L239.8 425.4L240.2 425.4L240.6 425.4L241 425.4L241.4 425.4L241.8 425.4L242.2 425.4L242.6 425.4L243 425.4L243.4 425.4L243.8 425.4L244.2 425.4L244.6 425.4L245 425.4L245.4 425.4L245.8 425.4L246.2 425.4L246.6 425.4L247 425.4L247.4 425.4L247.8 425.4L248.2 425.4L248.6 425.4L249 425.4L249.4 425.4L249.8 425.4L250.2 425.4L250.6 425.4L251 425.4L251.4 425.4L251.8 425.4L252.2 425.4L252.6 425.4L253 425.4L253.4 425.4L253.8 425.4L254.2 425.4L254.6 425.4L255 425.4L255.4 425.4L255.8 425.4L256.2 425.4L256.6 425.4L257 425.4L257.4 425.4L257.8 425.4L258.2 425.4L258.6 425.4L259 425.4L259.4 425.4L259.8 425.4L260.2 425.4L260.6 425.4L261 425.4L261.4 425.4L261.8 425.4L262.2 425.4L262.6 425.4L263 425.4L263.4 425.4L263.8 425.4L264.2 425.4L264.6 425.4L265 425.4L265 425.4Z"/><path fill="#a63599" fill-opacity="1.0" d="M47 441.9L47 441.9L47.5 441.9L48 441.9L48.5 441.9L49 441.9L49.5 441.9L50 441.9L50.5 441.9L51 441.9L51.5 441.9L52 441.9L52.5 441.9L53 441.9L53.5 441.9L54 441.9L54.5 441.9L55 441.9L55.5 441.9L56 441.9L56.5 441.9L57 441.9L57.5 441.9L58 441.9L58.5 441.9L59 441.9L59.5 441.9L60 441.9L60.5 441.9L61 441.9L61.5 441.9L62 441.9L62.5 441.9L63 441.9L63.5 441.9L64 441.9L64.5 441.9L65 441.9L65.5 441.9L66 441.9L66.5 441.9L67 441.9L67.5 441.9L68 441.9L68.5 441.9L69 441.9L69.5 441.9L70 441.9L70.5 441.9L71 441.9L71.5 441.9L72 441.9L72.5 441.3L73 441.3L73.5 441.3L74 441.3L74.5 441.3L75 441.3L75.5 441.3L76 441.3L76.5 441.3L77 441.3L77.5 441.3L78 441.3L78.5 441.3L79 441.3L79.5 441.3L80 441.3L80.5 441.3L81 441.3L81.5 441.3L82 441.3L82.5 441.3L83 441.3L83.5 441.3L84 441.3L84.5 441.3L85 441.3L85.5 441.3L86 441.3L86.5 441.3L87 441.3L87.5 441.3L88 441.3L88.5 441.3L89 441.3L89.5 441.3L90 441.9L90.5 441.9L91 441.9L91.5 441.9L92 441.9L92.5 441.9L93 441.9L93.5 441.9L94 441.9L94.5 441.9L95 441.9L95.5 441.9L96 441.9L96.5 441.9L97 441.9L97.5 441.9L98 441.9L98.5 441.9L99 441.9L99.5 441.9L100 441.9L100.5 441.9L101 441.9L101.5 441.9L102 441.9L102.5 441.9L103 441.9L103.5 441.9L104 441.9L104.5 441.9L105 441.9L105.5 441.9L106 441.9L106.5 441.9L107 441.9L107.5 441.9L108 441.9L108.5 441.9L109 441.9L109.5 441.9L110 441.9L110.5 441.9L111 441.9L111.5 441.9L112 441.9L112.5 441.9L113 441.9L113.5 441.9L114 441.9L114.5 441.9L115 441.9L115.5 441.9L116 441.9L116.5 441.9L117 441.9L117.5 441.9L118 441.9L118.5 441.9L119 441.9L119.5 441.9L120 441.9L120.5 441.9L121 441.9L121.5 441.9L122 441.9L122.5 441.9L123 441.9L123.5 439.6L124 439.6L124.5 439.6L125 439.5L125.5 439.4L126 439.3L126.5 439.3L127 439.5L127.5 439.4L128 439.7L128.5 439.3L129 439.3L129.5 439.2L130 439.6L130.5 439.6L131 439.2L131.5 439.5L132 439.2L132.5 439.6L133 439.3L133.5 439.6L134 439.6L134.5 439.6L135 439.4L135.5 439.2L136 439.7L136.5 439.4L137 439.5L137.5 439.3L138 439.8L138.5 439.6L139 439.6L139.5 439.6L140 439.3L140.5 439.6L141 439.4L141.5 439.6L142 439.6L142.5 439.8L143 439.2L143.5 439.7L144 439.3L144.5 439.3L145 439.6L145.5 439.3L146 439.7L146.5 439.3L147 439.6L147.5 439.4L148 439.7L148.5 439.6L149 439.7L149.5 439.5L150 439.6L150.5 439.5L151 439.4L151.5 439.3L152 439.4L152.5 439.4L153 439.2L153.5 439.7L154 439.8L154.5 439.7L155 439.7L155.5 439.5L156 439.4L156.5 439.3L157 439.6L157.5 439.4L158 439.3L158.5 439.3L159 439.6L159.5 439.7L160 439.6L160.5 439.7L161 439.5L161.5 439.3L162 439.8L162.5 439.7L163 439.3L163.5 439.4L164 439.6L164.5 439.6L165 439.5L165.5 439.7L166 439.7L166.5 439.8L167 437.9L167.5 437.2L168 436.6L168.5 435.9L169 435.3L169.5 434.6L170 433.9L170.5 433.9L171 433.9L171.5 433.9L172 433.9L172.5 433.9L173 433.9L173.5 433.9L174 433.9L174.5 439.9L175 439.9L175.5 439.9L176 435.9L176.5 433.9L177 431.9L177.5 429.9L178 427.9L178.5 429.9L179 431.9L179.5 433.9L180 435.9L180.5 437.9L181 439.9L181 441.9Z"/><path fill="#a63599" fill-opacity="1.0" d="M160 441.9L160 441.9L160.4 441.9L160.8 441.9L161.2 441.9L161.6 441.9L162 441.9L162.4 441.9L162.8 441.9L163.2 441.9L163.6 441.9L164 441.9L164.4 441.9L164.8 441.9L165.2 441.9L165.6 441.9L166 441.9L166.4 441.1L166.8 438.1L167.2 435.2L167.6 433.6L168 436.6L168.4 439.7L168.8 441.9L169.2 441.9L169.6 441.9L170 441.9L170.4 441.9L170.8 441.9L171.2 439.5L171.6 434.7L172 429.9L172.4 434.7L172.8 439.5L173.2 441.9L173.6 441.9L174 441.9L174.4 441.9L174.8 441.9L175.2 441.9L175.6 441.9L176 441.9L176.4 441.9L176.8 441.9L177.2 437.6L177.6 433.2L178 428.9L178.4 433.2L178.8 437.6L179.2 441.9L179.6 441.9L180 441.9L180.4 441.9L180.8 441.9L181.2 441.9L181.6 441.9L182 441.9L182 441.9Z"/><path fill="#a63599" d="M49 475L49 473.4L92 473.4L92.4 464.5L93 473.4L95 473.4L95 462L104 462L104 463.5L110 463.5L110 465.6L114.5 465.6L114.5 464.5L118 464.5L118 465.6L121.5 465.6L122 467.7L140 467.7L141 467.2L160 467.2L161 466.5L169 466.5L169 473.8L226.6 473.8L229 469.5L240 468.5L246 470L248 473.8L264 473.8L264 475Z"/><rect x="47" y="489" width="217" height="2.6" fill="#4fb3e3" /><rect x="254.5" y="488.5" width="2" height="3.6" fill="#fff" /><rect x="167.3" y="538.7" width="16.4" height="84" fill="#eef6ee" /><rect x="199" y="538.7" width="10.6" height="84" fill="#eef6ee" /><line x1="47" y1="526" x2="66" y2="526" stroke="#bbb" stroke-width="0.6" /><rect x="50" y="529.3" width="1" height="1.2" fill="#5ab0e0" /><rect x="52.5" y="529.3" width="1" height="1.2" fill="#5ab0e0" /><text x="128.8" y="525" font-size="6.3" fill="#222" text-anchor="middle" font-weight="normal" >RPSAP52</text><text x="166.8" y="525" font-size="6.3" fill="#222" text-anchor="middle" font-weight="normal" >HMGA2-AS1</text><text x="202.2" y="527.5" font-size="6.3" fill="#e03a3a" text-anchor="middle" font-weight="normal" >HMGA2</text><line x1="115" y1="527" x2="147" y2="527" stroke="#9ab0cc" stroke-width="0.6" /><line x1="147" y1="527" x2="185" y2="527" stroke="#9ab0cc" stroke-width="0.6" /><line x1="236" y1="526.3" x2="242" y2="526.3" stroke="#444" stroke-width="0.6" /><line x1="118" y1="527" x2="118" y2="529" stroke="#555" stroke-width="0.5" /><line x1="160" y1="527" x2="160" y2="529" stroke="#555" stroke-width="0.5" /><line x1="170" y1="527" x2="170" y2="529" stroke="#555" stroke-width="0.5" /><line x1="176" y1="527" x2="176" y2="529" stroke="#555" stroke-width="0.5" /><line x1="202" y1="527" x2="202" y2="529" stroke="#555" stroke-width="0.5" /><line x1="147.5" y1="524" x2="147.5" y2="656" stroke="#a9b9bc" stroke-width="0.6" /><line x1="45.5" y1="533" x2="45.5" y2="656" stroke="#555" stroke-width="0.6" /><text x="42" y="541.1" font-size="5.8" fill="#333" text-anchor="end" font-weight="normal" >100</text><line x1="44" y1="539" x2="45.5" y2="539" stroke="#555" stroke-width="0.5" /><text x="42" y="557.7" font-size="5.8" fill="#333" text-anchor="end" font-weight="normal" >50</text><line x1="44" y1="555.6" x2="45.5" y2="555.6" stroke="#555" stroke-width="0.5" /><text x="42" y="575.9" font-size="5.8" fill="#333" text-anchor="end" font-weight="normal" >50</text><line x1="44" y1="573.8" x2="45.5" y2="573.8" stroke="#555" stroke-width="0.5" /><text x="42" y="593.3" font-size="5.8" fill="#333" text-anchor="end" font-weight="normal" >15</text><line x1="44" y1="591.2" x2="45.5" y2="591.2" stroke="#555" stroke-width="0.5" /><text x="42" y="610.1" font-size="5.8" fill="#333" text-anchor="end" font-weight="normal" >15</text><line x1="44" y1="608" x2="45.5" y2="608" stroke="#555" stroke-width="0.5" /><text x="42" y="626.7" font-size="5.8" fill="#333" text-anchor="end" font-weight="normal" >40</text><line x1="44" y1="624.6" x2="45.5" y2="624.6" stroke="#555" stroke-width="0.5" /><text x="42" y="643.6" font-size="5.8" fill="#333" text-anchor="end" font-weight="normal" >10</text><line x1="44" y1="641.5" x2="45.5" y2="641.5" stroke="#555" stroke-width="0.5" /><line x1="48.5" y1="538.6" x2="59" y2="538.6" stroke="#a63599" stroke-width="1.1" /><text x="62" y="540.9" font-size="6.1" fill="#333" text-anchor="start" font-weight="normal" >P241T</text><line x1="48.5" y1="547.5" x2="59" y2="547.5" stroke="#4fb3e3" stroke-width="1.1" /><text x="62" y="549.8" font-size="6.1" fill="#333" text-anchor="start" font-weight="normal" >P241N</text><text x="247.5" y="545.7" font-size="6.2" fill="#333" text-anchor="middle" font-weight="normal" >Virtual 4C</text><text x="247.5" y="560.7" font-size="6.2" fill="#333" text-anchor="middle" font-weight="normal" >H3K27Ac_P241T</text><text x="247.5" y="577.6" font-size="6.2" fill="#333" text-anchor="middle" font-weight="normal" >H3K27Ac_P241N</text><text x="247.5" y="594.5" font-size="6.2" fill="#333" text-anchor="middle" font-weight="normal" >RNAseq_P241T</text><text x="247.5" y="611.8" font-size="6.2" fill="#333" text-anchor="middle" font-weight="normal" >RNAseq_P241N</text><text x="247.5" y="627.7" font-size="6.2" fill="#333" text-anchor="middle" font-weight="normal" >WGS_P241T</text><text x="247.5" y="646.4" font-size="6.2" fill="#333" text-anchor="middle" font-weight="normal" >WGS_P241N</text><line x1="47" y1="551.8" x2="273" y2="551.8" stroke="#8fcfee" stroke-width="0.8" /><line x1="47" y1="569.2" x2="273" y2="569.2" stroke="#ecdce8" stroke-width="0.4" /><line x1="47" y1="586.5" x2="273" y2="586.5" stroke="#ecdce8" stroke-width="0.4" /><line x1="47" y1="602.7" x2="273" y2="602.7" stroke="#ecdce8" stroke-width="0.4" /><line x1="47" y1="619.7" x2="273" y2="619.7" stroke="#ecdce8" stroke-width="0.4" /><line x1="47" y1="637" x2="273" y2="637" stroke="#ecdce8" stroke-width="0.4" /><polyline fill="none" stroke="#a55a9c" stroke-width="0.75" points="110,551.6 125,551.3 132.7,548.3 137.5,546.5 141.3,538.7" /><polyline fill="none" stroke="#a55a9c" stroke-width="0.75" points="151,538.7 159.6,545 165.4,546 171,549 176,545.4 182.7,549 190.4,551.3 202,549.5 209.6,551 225,550.3 240,550.8 273,550.8" /><polyline fill="none" stroke="#8fd0ee" stroke-width="0.7" points="138,551.8 142,551.2 145,549.3 147.5,547 150,549.5 153,551.2 157,551.8" /><path fill="#a63599" fill-opacity="1.0" d="M47 569.2L47 569.2L47.4 569.2L47.8 568.7L48.2 566.7L48.6 565.7L49 567.7L49.4 569.2L49.8 569.2L50.2 569.2L50.6 569.2L51 569.2L51.4 569.2L51.8 569.2L52.2 569.2L52.6 569.2L53 569.2L53.4 569.2L53.8 569.2L54.2 569.2L54.6 569.2L55 569.2L55.4 569.2L55.8 569.2L56.2 569.2L56.6 569.2L57 569.2L57.4 569.2L57.8 569.2L58.2 569.2L58.6 569.2L59 569.2L59.4 569.2L59.8 569.2L60.2 569.2L60.6 569.2L61 569.2L61.4 567.7L61.8 564.7L62.2 564.7L62.6 567.7L63 569.2L63.4 569.2L63.8 568.8L64.2 567.3L64.6 566.6L65 568.1L65.4 569.2L65.8 569.2L66.2 569.2L66.6 569.2L67 569.2L67.4 569.2L67.8 569.2L68.2 569.2L68.6 569.2L69 569.2L69.4 569.2L69.8 569.2L70.2 569.2L70.6 569.2L71 569.2L71.4 569.2L71.8 569.2L72.2 569.2L72.6 569.2L73 569.2L73.4 569.2L73.8 569.2L74.2 569.2L74.6 569.2L75 569.2L75.4 569.2L75.8 569.2L76.2 569.2L76.6 569.2L77 569.2L77.4 569.2L77.8 569.2L78.2 569.2L78.6 569.2L79 569.2L79.4 569.2L79.8 568.5L80.2 568.5L80.6 569.2L81 569.2L81.4 569.2L81.8 569.2L82.2 569.2L82.6 569.2L83 569.2L83.4 569.2L83.8 569.2L84.2 569.2L84.6 569.2L85 569.2L85.4 569.2L85.8 569.2L86.2 569.2L86.6 569.2L87 569.2L87.4 569.2L87.8 569.2L88.2 569.2L88.6 569.2L89 569.2L89.4 569.2L89.8 569.2L90.2 569.2L90.6 569.2L91 569.2L91.4 569.2L91.8 569.2L92.2 569.2L92.6 569.2L93 569.2L93.4 569.2L93.8 569.2L94.2 569.2L94.6 569.2L95 569.2L95.4 569.2L95.8 569.2L96.2 569.2L96.6 569.2L97 569.2L97.4 569.2L97.8 569.2L98.2 569.2L98.6 569.2L99 569.2L99.4 569.2L99.8 569.2L100.2 569.2L100.6 569.2L101 569.2L101.4 569.2L101.8 569.2L102.2 569.2L102.6 569.2L103 569.2L103.4 569.2L103.8 569.2L104.2 569.2L104.6 569.2L105 569.2L105.4 569.2L105.8 569.2L106.2 569.2L106.6 569.2L107 569.2L107.4 569.2L107.8 569.2L108.2 569.2L108.6 569.2L109 569.2L109.4 569.2L109.8 569.2L110.2 569.2L110.6 569.2L111 569.2L111.4 569.2L111.8 569.2L112.2 569.2L112.6 569.2L113 569.2L113.4 569.2L113.8 569.2L114.2 569.2L114.6 569.2L115 569.2L115.4 569.2L115.8 569.2L116.2 569.2L116.6 569.2L117 569.2L117.4 569.2L117.8 569.2L118.2 569.2L118.6 569.2L119 569.2L119.4 569.2L119.8 569.2L120.2 569.2L120.6 569.2L121 569.2L121.4 569.2L121.8 569.2L122.2 569.2L122.6 569.2L123 569.2L123.4 569.2L123.8 569.2L124.2 569.2L124.6 569.2L125 569.2L125.4 569.2L125.8 569.2L126.2 569.2L126.6 569.2L127 569.2L127.4 569.2L127.8 569.2L128.2 569.2L128.6 569.2L129 569.2L129.4 569.2L129.8 569.2L130.2 569.2L130.6 569.2L131 569.2L131.4 569.2L131.8 569.2L132.2 569.2L132.6 569.2L133 569.2L133.4 569.2L133.8 569.2L134.2 569.2L134.6 569.2L135 566.8L135.4 563.5L135.8 560.2L136.2 560.2L136.6 563.5L137 566.8L137.4 569.2L137.8 569.2L138.2 568.2L138.6 566.2L139 564.2L139.4 566.2L139.8 568.2L140.2 569.2L140.6 569.2L141 569.2L141.4 569.2L141.8 569.2L142.2 569.2L142.6 569.2L143 569.2L143.4 568.7L143.8 567.7L144.2 567.7L144.6 568.7L145 569.2L145.4 569.2L145.8 569.2L146.2 569.2L146.6 568.2L147 564.4L147.4 560.6L147.8 556.7L148.2 556.7L148.6 560.6L149 564.4L149.4 563.2L149.8 560.5L150.2 560.5L150.6 563.2L151 565.5L151.4 562.6L151.8 559.7L152.2 559.7L152.6 562.6L153 565.5L153.4 565.6L153.8 564L154.2 564L154.6 565.6L155 567.2L155.4 567.3L155.8 563.6L156.2 559.9L156.6 556.1L157 558L157.4 561.7L157.8 565.5L158.2 565.5L158.6 563.3L159 561.2L159.4 563.3L159.8 565.5L160.2 567.6L160.6 569.2L161 569.2L161.4 565.5L161.8 561.7L162.2 558L162.6 556.1L163 559.9L163.4 563.6L163.8 562L164.2 558.8L164.6 558.8L165 562L165.4 565L165.8 563.1L166.2 563.1L166.6 565L167 566.9L167.4 563.6L167.8 559.9L168.2 556.1L168.6 558L169 561.7L169.4 564.4L169.8 562.3L170.2 562.3L170.6 564.4L171 565.2L171.4 562L171.8 558.8L172.2 558.8L172.6 562L173 565.2L173.4 566.4L173.8 562.7L174.2 558.9L174.6 555.2L175 558.9L175.4 562.7L175.8 560.5L176.2 560.5L176.6 563.2L177 565.9L177.4 568.5L177.8 569.2L178.2 569.2L178.6 566.4L179 562.7L179.4 558.9L179.8 555.2L180.2 558.9L180.6 562.7L181 566.4L181.4 566.8L181.8 565.7L182.2 565.7L182.6 566.8L183 567.9L183.4 568.9L183.8 569.2L184.2 569.2L184.6 568.5L185 567L185.4 568.5L185.8 569.2L186.2 569.2L186.6 569.2L187 569.2L187.4 569.2L187.8 569.2L188.2 569.2L188.6 569.2L189 569.2L189.4 569.2L189.8 568L190.2 568L190.6 569.2L191 569.2L191.4 569.2L191.8 569.2L192.2 569.2L192.6 569.2L193 569.2L193.4 569.2L193.8 569.2L194.2 569.2L194.6 569.2L195 569.2L195.4 569.2L195.8 569.2L196.2 569.2L196.6 569.2L197 569.2L197.4 569.2L197.8 569.2L198.2 569.2L198.6 569.2L199 569.2L199.4 569.2L199.8 566.6L200.2 563.1L200.6 559.7L201 556.2L201.4 559.7L201.8 563.1L202.2 566.6L202.6 564.4L203 561.2L203.4 558L203.8 559.6L204.2 562.8L204.6 566L205 564.9L205.4 561.4L205.8 557.9L206.2 557.9L206.6 561.4L207 564.9L207.4 568.3L207.8 566.8L208.2 563.6L208.6 560.4L209 557.2L209.4 560.4L209.8 563.6L210.2 566.8L210.6 569.2L211 569.2L211.4 569.2L211.8 569.2L212.2 569.2L212.6 569.2L213 569.2L213.4 569.2L213.8 569.2L214.2 569.2L214.6 568.4L215 566.7L215.4 568.4L215.8 569.2L216.2 569.2L216.6 569.2L217 569.2L217.4 569.2L217.8 569.2L218.2 569.2L218.6 569.2L219 569.2L219.4 569.2L219.8 569.2L220.2 569.2L220.6 569.2L221 569.2L221.4 569.2L221.8 567.5L222.2 567.5L222.6 569.2L223 569.2L223.4 569.2L223.8 569.2L224.2 569.2L224.6 569.2L225 569.2L225.4 569.2L225.8 569.2L226.2 569.2L226.6 569.2L227 569.2L227.4 569.2L227.8 569.2L228.2 569.2L228.6 569.2L229 569.2L229.4 569.2L229.8 567.9L230.2 567.9L230.6 569.2L231 569.2L231.4 569.2L231.8 569.2L232.2 569.2L232.6 569.2L233 569.2L233.4 569.2L233.8 569.2L234.2 569.2L234.6 569.2L235 569.2L235.4 569.2L235.8 569.2L236.2 569.2L236.6 569.2L237 569.2L237.4 569.2L237.8 569.2L238.2 569.2L238.6 569.2L239 569.2L239.4 569.2L239.8 569.2L240.2 569.2L240.6 569.2L241 569.2L241.4 569.2L241.8 569.2L242.2 569.2L242.6 569.2L243 569.2L243.4 569.2L243.8 569.2L244.2 569.2L244.6 568.5L245 567.2L245.4 568.5L245.8 569.2L246.2 569.2L246.6 569.2L247 569.2L247.4 569.2L247.8 569.2L248.2 569.2L248.6 569.2L249 569.2L249.4 569.2L249.8 569.2L250.2 569.2L250.6 569.2L251 569.2L251.4 569.2L251.8 569.2L252.2 569.2L252.6 569.2L253 569.2L253.4 569.2L253.8 569.2L254.2 569.2L254.6 569.2L255 569.2L255.4 569.2L255.8 569.2L256.2 569.2L256.6 569.2L257 569.2L257.4 569.2L257.8 568L258.2 568L258.6 569.2L259 569.2L259.4 569.2L259.8 569.2L260.2 569.2L260.6 569.2L261 569.2L261.4 569.2L261.8 567.5L262.2 567.5L262.6 569.2L263 569.2L263.4 569.2L263.8 569.2L264.2 569.2L264.6 569.2L265 569.2L265.4 569.2L265.8 569.2L266.2 569.2L266.6 569.2L267 569.2L267.4 569.2L267.8 569.2L268.2 569.2L268.6 569.2L269 569.2L269.4 569.2L269.8 569.2L270.2 569.2L270.6 569.2L271 569.2L271.4 569.2L271.8 569.2L272.2 569.2L272.6 569.2L273 569.2L273 569.2Z"/><path fill="#a63599" fill-opacity="1.0" d="M148 602.7L148 600.5L148.5 599.7L149 599.8L149.5 600.4L150 600.3L150.5 600.5L151 600.3L151.5 600.5L152 599.9L152.5 600L153 600L153.5 600.5L154 599.9L154.5 600.2L155 600L155.5 600.1L156 600.4L156.5 600.6L157 599.9L157.5 600.3L158 600.6L158.5 600L159 600.7L159.5 600.5L160 600.7L160.5 600.3L161 600L161.5 600.3L162 600.4L162.5 600.2L163 600.4L163.5 600.5L164 600.2L164.5 600.1L165 600.4L165.5 600.2L166 600.8L166.5 600.1L167 600.4L167.5 600.6L168 600.6L168.5 600.1L169 600.3L169.5 600.4L170 600.9L170.5 600.5L171 600.6L171.5 600.7L172 600.6L172.5 600.7L173 600.8L173.5 600.3L174 600.8L174.5 600.2L175 600.4L175.5 601L176 600.8L176.5 600.4L177 600.8L177.5 600.3L178 600.8L178.5 600.7L179 600.7L179.5 600.6L180 600.7L180.5 600.7L181 600.6L181.5 601L182 600.6L182.5 600.8L183 600.6L183.5 600.6L184 600.5L184.5 601L185 600.6L185.5 600.5L186 601.2L186.5 601L187 600.4L187.5 601L188 600.6L188.5 600.9L189 600.9L189.5 600.6L190 600.7L190.5 601.1L191 600.5L191.5 601.2L192 600.7L192.5 600.7L193 600.6L193.5 601L194 600.7L194.5 601.1L195 601.3L195.5 600.7L196 601.1L196.5 600.9L197 600.7L197.5 600.9L198 600.7L198.5 600.9L199 601.4L199.5 600.9L200 601.5L200.5 601L201 601.3L201.5 601.2L202 601.3L202.5 601.5L203 601.3L203.5 601.3L204 600.9L204.5 601L205 601.1L205.5 600.9L206 601.6L206.5 601.6L207 601.5L207.5 601.4L208 601.4L208.5 601.5L209 601.2L209.5 601.1L210 601.1L210.5 601.6L211 601.5L211.5 596.7L212 596.7L212.5 596.7L213 602.7L213.5 602.7L214 602.7L214.5 602.7L215 602.7L215.5 601.9L216 601.9L216.5 601.9L217 601.9L217.5 601.9L218 601.9L218.5 601.9L219 601.9L219.5 601.9L220 601.9L220.5 601.9L221 601.9L221.5 601.9L222 601.9L222.5 601.9L223 601.9L223.5 601.9L224 601.9L224.5 601.9L225 601.9L225.5 601.9L226 601.9L226.5 601.9L227 601.9L227.5 601.9L228 601.9L228.5 601.9L229 601.9L229.5 601.9L230 601.9L230.5 601.9L231 601.9L231.5 601.9L232 601.9L232.5 601.9L233 601.9L233.5 601.9L234 601.9L234.5 601.9L235 601.9L235.5 601.9L236 601.9L236.5 601.9L237 601.9L237.5 601.9L238 601.9L238.5 601.9L239 601.9L239.5 601.9L240 601.9L240.5 601.9L241 601.9L241.5 601.9L242 601.9L242.5 601.9L243 602.7L243 602.7Z"/><path fill="#a63599" d="M47 637.3 L47 635.8 L131 635.8 L131.5 628 L135 627.5 L140 629 L160 628.5 L170 629 L176 627 L184 628 L188 630 L200 630.5 L212 630.5 L213 627 L215 630.5 L222 631.5 L230 631 L240 631.5 L253 631.5 L254 618 L255 631.5 L273 631.5 L273 637.3Z"/><rect x="47" y="651.3" width="226" height="2.5" fill="#4fb3e3" /><line x1="254" y1="643" x2="254" y2="652" stroke="#4fb3e3" stroke-width="0.8" /></svg></body></html>
